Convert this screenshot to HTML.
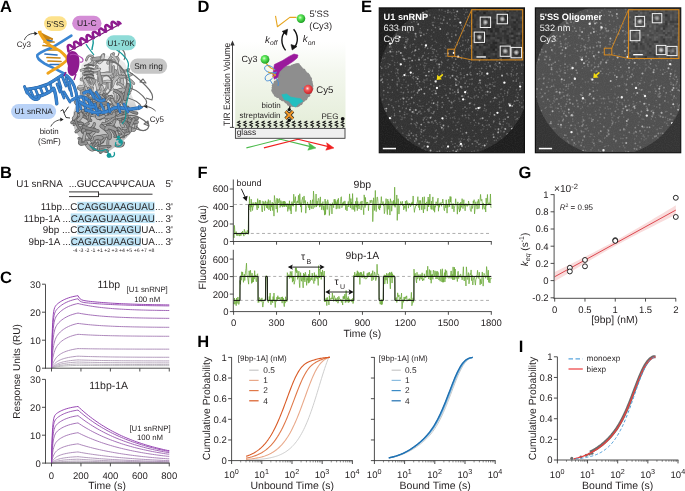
<!DOCTYPE html>
<html><head><meta charset="utf-8"><style>
html,body{margin:0;padding:0;background:#fff;}
svg{display:block;font-family:"Liberation Sans",Arial,sans-serif;text-rendering:geometricPrecision;}
</style></head><body>
<svg width="685" height="491" viewBox="0 0 685 491" fill="#231f20">
<text x="0" y="11.6" font-size="16.5" font-weight="bold" fill="#000">A</text>
<text x="0" y="177.9" font-size="16.5" font-weight="bold" fill="#000">B</text>
<text x="0" y="282.8" font-size="16.5" font-weight="bold" fill="#000">C</text>
<text x="197.5" y="11.6" font-size="16.5" font-weight="bold" fill="#000">D</text>
<text x="361" y="11.6" font-size="16.5" font-weight="bold" fill="#000">E</text>
<text x="197.5" y="177.8" font-size="16.5" font-weight="bold" fill="#000">F</text>
<text x="518.5" y="177.6" font-size="16.5" font-weight="bold" fill="#000">G</text>
<text x="197.3" y="347" font-size="16.5" font-weight="bold" fill="#000">H</text>
<text x="518.8" y="351.7" font-size="16.5" font-weight="bold" fill="#000">I</text>
<polyline points="51.5,368.2 51.65,368.15 51.79,368.1 51.94,368.05 52.09,368 52.24,367.95 52.38,367.9 52.68,367.81 52.97,367.73 53.27,367.65 53.71,367.53 54.15,367.42 54.74,367.28 55.33,367.16 55.92,367.04 56.65,366.91 57.39,366.79 58.86,366.57 60.33,366.39 61.8,366.23 63.28,366.1 64.75,365.98 66.22,365.88 68.43,365.75 70.64,365.64 72.84,365.55 75.05,365.48 76.52,365.44 78,365.4 79.47,365.41 81.68,365.43 83.88,365.45 86.09,365.47 88.3,365.49 90.51,365.5 92.72,365.52 94.92,365.53 97.13,365.54 99.34,365.55 101.55,365.56 103.76,365.57 105.96,365.58 108.17,365.59 110.38,365.6 112.59,365.6 114.8,365.61 117,365.62 119.21,365.62 121.42,365.63 123.63,365.63 125.84,365.64 128.04,365.64 130.25,365.64 132.46,365.65 134.67,365.65 136.88,365.65 139.08,365.66 141.29,365.66 143.5,365.66 145.71,365.66 147.92,365.67 150.12,365.67 152.33,365.67 154.54,365.67 156.75,365.67 158.96,365.67 161.16,365.68 163.37,365.68 165.58,365.68 167.79,365.68 169.26,365.68" fill="none" stroke="#bcbabe" stroke-width="0.95" stroke-linejoin="round"/>
<polyline points="51.5,368.2 51.65,368.12 51.79,368.05 51.94,367.97 52.09,367.9 52.24,367.83 52.38,367.76 52.68,367.62 52.97,367.49 53.27,367.37 53.71,367.2 54.15,367.03 54.74,366.83 55.33,366.64 55.92,366.46 56.65,366.26 57.39,366.08 58.86,365.76 60.33,365.49 61.8,365.25 63.28,365.05 64.75,364.87 66.22,364.72 68.43,364.53 70.64,364.36 72.84,364.23 75.05,364.12 76.52,364.06 78,364 79.47,364.03 81.68,364.07 83.88,364.11 86.09,364.14 88.3,364.17 90.51,364.2 92.72,364.23 94.92,364.26 97.13,364.28 99.34,364.3 101.55,364.32 103.76,364.34 105.96,364.36 108.17,364.38 110.38,364.39 112.59,364.41 114.8,364.42 117,364.43 119.21,364.44 121.42,364.45 123.63,364.46 125.84,364.47 128.04,364.48 130.25,364.49 132.46,364.49 134.67,364.5 136.88,364.51 139.08,364.51 141.29,364.52 143.5,364.52 145.71,364.53 147.92,364.53 150.12,364.54 152.33,364.54 154.54,364.54 156.75,364.55 158.96,364.55 161.16,364.55 163.37,364.55 165.58,364.56 167.79,364.56 169.26,364.56" fill="none" stroke="#b9b1bd" stroke-width="0.95" stroke-linejoin="round"/>
<polyline points="51.5,368.2 51.65,368.09 51.79,367.97 51.94,367.86 52.09,367.76 52.24,367.65 52.38,367.55 52.68,367.35 52.97,367.16 53.27,366.98 53.71,366.73 54.15,366.49 54.74,366.19 55.33,365.91 55.92,365.65 56.65,365.36 57.39,365.09 58.86,364.62 60.33,364.22 61.8,363.88 63.28,363.58 64.75,363.32 66.22,363.1 68.43,362.81 70.64,362.57 72.84,362.38 75.05,362.22 76.52,362.12 78,362.04 79.47,362.08 81.68,362.14 83.88,362.2 86.09,362.25 88.3,362.3 90.51,362.34 92.72,362.39 94.92,362.42 97.13,362.46 99.34,362.49 101.55,362.52 103.76,362.55 105.96,362.58 108.17,362.6 110.38,362.63 112.59,362.65 114.8,362.67 117,362.69 119.21,362.7 121.42,362.72 123.63,362.73 125.84,362.75 128.04,362.76 130.25,362.77 132.46,362.78 134.67,362.79 136.88,362.8 139.08,362.81 141.29,362.82 143.5,362.82 145.71,362.83 147.92,362.84 150.12,362.84 152.33,362.85 154.54,362.85 156.75,362.86 158.96,362.86 161.16,362.87 163.37,362.87 165.58,362.87 167.79,362.88 169.26,362.88" fill="none" stroke="#b6a8bc" stroke-width="0.95" stroke-linejoin="round"/>
<polyline points="51.5,368.2 51.65,368.03 51.79,367.87 51.94,367.72 52.09,367.56 52.24,367.41 52.38,367.27 52.68,366.99 52.97,366.72 53.27,366.47 53.71,366.11 54.15,365.77 54.74,365.36 55.33,364.98 55.92,364.63 56.65,364.23 57.39,363.87 58.86,363.24 60.33,362.71 61.8,362.26 63.28,361.87 64.75,361.54 66.22,361.25 68.43,360.89 70.64,360.59 72.84,360.34 75.05,360.13 76.52,360.02 78,359.91 79.47,359.96 81.68,360.04 83.88,360.1 86.09,360.17 88.3,360.22 90.51,360.28 92.72,360.33 94.92,360.37 97.13,360.42 99.34,360.46 101.55,360.49 103.76,360.53 105.96,360.56 108.17,360.59 110.38,360.62 112.59,360.64 114.8,360.67 117,360.69 119.21,360.71 121.42,360.73 123.63,360.74 125.84,360.76 128.04,360.77 130.25,360.79 132.46,360.8 134.67,360.81 136.88,360.82 139.08,360.84 141.29,360.84 143.5,360.85 145.71,360.86 147.92,360.87 150.12,360.88 152.33,360.88 154.54,360.89 156.75,360.89 158.96,360.9 161.16,360.9 163.37,360.91 165.58,360.91 167.79,360.92 169.26,360.92" fill="none" stroke="#b39fbb" stroke-width="0.95" stroke-linejoin="round"/>
<polyline points="51.5,368.2 51.65,367.91 51.79,367.63 51.94,367.36 52.09,367.1 52.24,366.85 52.38,366.6 52.68,366.14 52.97,365.7 53.27,365.29 53.71,364.72 54.15,364.21 54.74,363.58 55.33,363.02 55.92,362.51 56.65,361.95 57.39,361.44 58.86,360.59 60.33,359.88 61.8,359.28 63.28,358.77 64.75,358.34 66.22,357.95 68.43,357.47 70.64,357.07 72.84,356.74 75.05,356.46 76.52,356.3 78,356.16 79.47,356.22 81.68,356.3 83.88,356.37 86.09,356.44 88.3,356.51 90.51,356.57 92.72,356.62 94.92,356.67 97.13,356.72 99.34,356.76 101.55,356.81 103.76,356.84 105.96,356.88 108.17,356.91 110.38,356.94 112.59,356.97 114.8,357 117,357.02 119.21,357.04 121.42,357.06 123.63,357.08 125.84,357.1 128.04,357.12 130.25,357.13 132.46,357.15 134.67,357.16 136.88,357.17 139.08,357.19 141.29,357.2 143.5,357.21 145.71,357.22 147.92,357.22 150.12,357.23 152.33,357.24 154.54,357.25 156.75,357.25 158.96,357.26 161.16,357.26 163.37,357.27 165.58,357.27 167.79,357.28 169.26,357.28" fill="none" stroke="#af96b9" stroke-width="0.95" stroke-linejoin="round"/>
<polyline points="51.5,368.2 51.65,367.63 51.79,367.08 51.94,366.56 52.09,366.06 52.24,365.58 52.38,365.13 52.68,364.27 52.97,363.48 53.27,362.75 53.71,361.76 54.15,360.87 54.74,359.83 55.33,358.92 55.92,358.12 56.65,357.24 57.39,356.47 58.86,355.18 60.33,354.14 61.8,353.26 63.28,352.51 64.75,351.86 66.22,351.29 68.43,350.57 70.64,349.97 72.84,349.47 75.05,349.05 76.52,348.81 78,348.6 79.47,348.63 81.68,348.67 83.88,348.71 86.09,348.74 88.3,348.77 90.51,348.8 92.72,348.83 94.92,348.86 97.13,348.88 99.34,348.9 101.55,348.92 103.76,348.94 105.96,348.96 108.17,348.98 110.38,348.99 112.59,349.01 114.8,349.02 117,349.03 119.21,349.04 121.42,349.05 123.63,349.06 125.84,349.07 128.04,349.08 130.25,349.09 132.46,349.09 134.67,349.1 136.88,349.11 139.08,349.11 141.29,349.12 143.5,349.12 145.71,349.13 147.92,349.13 150.12,349.14 152.33,349.14 154.54,349.14 156.75,349.15 158.96,349.15 161.16,349.15 163.37,349.15 165.58,349.16 167.79,349.16 169.26,349.16" fill="none" stroke="#ac8cb8" stroke-width="0.95" stroke-linejoin="round"/>
<polyline points="51.5,368.2 51.65,366.78 51.79,365.45 51.94,364.2 52.09,363.04 52.24,361.95 52.38,360.92 52.68,359.07 52.97,357.42 53.27,355.97 53.71,354.08 54.15,352.47 54.74,350.69 55.33,349.21 55.92,347.97 56.65,346.66 57.39,345.55 58.86,343.73 60.33,342.27 61.8,341.04 63.28,339.98 64.75,339.06 66.22,338.24 68.43,337.19 70.64,336.32 72.84,335.59 75.05,334.98 76.52,334.63 78,334.32 79.47,334.42 81.68,334.56 83.88,334.69 86.09,334.81 88.3,334.93 90.51,335.03 92.72,335.13 94.92,335.22 97.13,335.3 99.34,335.38 101.55,335.45 103.76,335.52 105.96,335.58 108.17,335.64 110.38,335.69 112.59,335.74 114.8,335.78 117,335.83 119.21,335.87 121.42,335.9 123.63,335.94 125.84,335.97 128.04,336 130.25,336.02 132.46,336.05 134.67,336.07 136.88,336.09 139.08,336.11 141.29,336.13 143.5,336.15 145.71,336.17 147.92,336.18 150.12,336.2 152.33,336.21 154.54,336.22 156.75,336.23 158.96,336.24 161.16,336.25 163.37,336.26 165.58,336.27 167.79,336.28 169.26,336.28" fill="none" stroke="#a982b7" stroke-width="0.95" stroke-linejoin="round"/>
<polyline points="51.5,368.2 51.65,365.58 51.79,363.19 51.94,361.01 52.09,359.01 52.24,357.18 52.38,355.5 52.68,352.55 52.97,350.05 53.27,347.93 53.71,345.3 54.15,343.21 54.74,341 55.33,339.28 55.92,337.9 56.65,336.49 57.39,335.32 58.86,333.44 60.33,331.93 61.8,330.63 63.28,329.51 64.75,328.51 66.22,327.64 68.43,326.51 70.64,325.56 72.84,324.77 75.05,324.11 76.52,323.74 78,323.4 79.47,323.6 81.68,323.88 83.88,324.14 86.09,324.39 88.3,324.61 90.51,324.82 92.72,325.02 94.92,325.2 97.13,325.36 99.34,325.52 101.55,325.66 103.76,325.79 105.96,325.92 108.17,326.03 110.38,326.14 112.59,326.24 114.8,326.33 117,326.41 119.21,326.49 121.42,326.57 123.63,326.63 125.84,326.7 128.04,326.76 130.25,326.81 132.46,326.86 134.67,326.91 136.88,326.95 139.08,326.99 141.29,327.03 143.5,327.06 145.71,327.09 147.92,327.12 150.12,327.15 152.33,327.18 154.54,327.2 156.75,327.22 158.96,327.24 161.16,327.26 163.37,327.28 165.58,327.3 167.79,327.31 169.26,327.31" fill="none" stroke="#a578b6" stroke-width="0.95" stroke-linejoin="round"/>
<polyline points="51.5,368.2 51.65,363.89 51.79,360.03 51.94,356.59 52.09,353.51 52.24,350.75 52.38,348.28 52.68,344.08 52.97,340.68 53.27,337.91 53.71,334.68 54.15,332.24 54.74,329.84 55.33,328.08 55.92,326.73 56.65,325.4 57.39,324.32 58.86,322.59 60.33,321.17 61.8,319.95 63.28,318.88 64.75,317.93 66.22,317.1 68.43,316.01 70.64,315.11 72.84,314.35 75.05,313.72 76.52,313.36 78,313.04 79.47,313.31 81.68,313.69 83.88,314.05 86.09,314.38 88.3,314.69 90.51,314.97 92.72,315.23 94.92,315.48 97.13,315.7 99.34,315.91 101.55,316.11 103.76,316.29 105.96,316.46 108.17,316.61 110.38,316.76 112.59,316.89 114.8,317.01 117,317.13 119.21,317.24 121.42,317.34 123.63,317.43 125.84,317.51 128.04,317.59 130.25,317.67 132.46,317.74 134.67,317.8 136.88,317.86 139.08,317.91 141.29,317.96 143.5,318.01 145.71,318.05 147.92,318.09 150.12,318.13 152.33,318.16 154.54,318.2 156.75,318.23 158.96,318.25 161.16,318.28 163.37,318.3 165.58,318.33 167.79,318.35 169.26,318.35" fill="none" stroke="#a16cb5" stroke-width="0.95" stroke-linejoin="round"/>
<polyline points="51.5,368.2 51.65,362.02 51.79,356.62 51.94,351.9 52.09,347.76 52.24,344.13 52.38,340.95 52.68,335.69 52.97,331.61 53.27,328.42 53.71,324.86 54.15,322.31 54.74,319.92 55.33,318.23 55.92,316.97 56.65,315.74 57.39,314.73 58.86,313.07 60.33,311.68 61.8,310.46 63.28,309.39 64.75,308.44 66.22,307.6 68.43,306.51 70.64,305.6 72.84,304.84 75.05,304.21 76.52,303.84 78,303.52 79.47,303.88 81.68,304.38 83.88,304.85 86.09,305.28 88.3,305.68 90.51,306.06 92.72,306.4 94.92,306.73 97.13,307.02 99.34,307.3 101.55,307.56 103.76,307.79 105.96,308.02 108.17,308.22 110.38,308.41 112.59,308.59 114.8,308.75 117,308.9 119.21,309.04 121.42,309.17 123.63,309.29 125.84,309.41 128.04,309.51 130.25,309.61 132.46,309.7 134.67,309.78 136.88,309.86 139.08,309.93 141.29,310 143.5,310.06 145.71,310.12 147.92,310.17 150.12,310.22 152.33,310.26 154.54,310.31 156.75,310.35 158.96,310.38 161.16,310.42 163.37,310.45 165.58,310.48 167.79,310.5 169.26,310.5" fill="none" stroke="#9d60b3" stroke-width="0.95" stroke-linejoin="round"/>
<polyline points="51.5,368.2 51.65,360.27 51.79,353.47 51.94,347.65 52.09,342.66 52.24,338.38 52.38,334.7 52.68,328.8 52.97,324.42 53.27,321.12 53.71,317.61 54.15,315.23 54.74,313.11 55.33,311.67 55.92,310.62 56.65,309.58 57.39,308.73 58.86,307.28 60.33,306.05 61.8,304.97 63.28,304.01 64.75,303.16 66.22,302.41 68.43,301.43 70.64,300.62 72.84,299.94 75.05,299.37 76.52,299.05 78,298.76 79.47,300.74 81.68,301.98 83.88,302.49 86.09,302.79 88.3,303.01 90.51,303.21 92.72,303.39 94.92,303.55 97.13,303.71 99.34,303.86 101.55,304 103.76,304.13 105.96,304.25 108.17,304.37 110.38,304.48 112.59,304.58 114.8,304.68 117,304.77 119.21,304.86 121.42,304.94 123.63,305.02 125.84,305.09 128.04,305.16 130.25,305.22 132.46,305.28 134.67,305.34 136.88,305.39 139.08,305.44 141.29,305.49 143.5,305.54 145.71,305.58 147.92,305.62 150.12,305.66 152.33,305.69 154.54,305.72 156.75,305.75 158.96,305.78 161.16,305.81 163.37,305.84 165.58,305.86 167.79,305.89 169.26,305.89" fill="none" stroke="#9852b2" stroke-width="0.95" stroke-linejoin="round"/>
<polyline points="51.5,368.2 51.65,358.45 51.79,350.27 51.94,343.41 52.09,337.66 52.24,332.82 52.38,328.75 52.68,322.43 52.97,317.92 53.27,314.68 53.71,311.38 54.15,309.27 54.74,307.49 55.33,306.33 55.92,305.49 56.65,304.67 57.39,303.98 58.86,302.79 60.33,301.77 61.8,300.87 63.28,300.07 64.75,299.36 66.22,298.73 68.43,297.91 70.64,297.23 72.84,296.67 75.05,296.19 76.52,295.92 78,295.68 79.47,298.25 81.68,299.85 83.88,300.51 86.09,300.89 88.3,301.18 90.51,301.43 92.72,301.67 94.92,301.88 97.13,302.09 99.34,302.28 101.55,302.46 103.76,302.63 105.96,302.79 108.17,302.94 110.38,303.08 112.59,303.22 114.8,303.34 117,303.46 119.21,303.57 121.42,303.68 123.63,303.78 125.84,303.87 128.04,303.96 130.25,304.04 132.46,304.12 134.67,304.2 136.88,304.26 139.08,304.33 141.29,304.39 143.5,304.45 145.71,304.5 147.92,304.55 150.12,304.6 152.33,304.65 154.54,304.69 156.75,304.73 158.96,304.77 161.16,304.81 163.37,304.84 165.58,304.87 167.79,304.9 169.26,304.9" fill="none" stroke="#923eb0" stroke-width="0.95" stroke-linejoin="round"/>
<line x1="45.5" y1="284.4" x2="45.5" y2="368.6" stroke="#3a3a3a" stroke-width="0.9"/>
<line x1="45.1" y1="368.2" x2="169.66" y2="368.2" stroke="#3a3a3a" stroke-width="0.9"/>
<line x1="42" y1="368.2" x2="45.5" y2="368.2" stroke="#3a3a3a" stroke-width="0.9"/>
<text x="40.7" y="371.6" font-size="9.5" text-anchor="end">0</text>
<line x1="42" y1="340.2" x2="45.5" y2="340.2" stroke="#3a3a3a" stroke-width="0.9"/>
<text x="40.7" y="343.6" font-size="9.5" text-anchor="end">10</text>
<line x1="42" y1="312.2" x2="45.5" y2="312.2" stroke="#3a3a3a" stroke-width="0.9"/>
<text x="40.7" y="315.6" font-size="9.5" text-anchor="end">20</text>
<line x1="42" y1="284.2" x2="45.5" y2="284.2" stroke="#3a3a3a" stroke-width="0.9"/>
<text x="40.7" y="287.6" font-size="9.5" text-anchor="end">30</text>
<line x1="51.5" y1="368.2" x2="51.5" y2="371.5" stroke="#3a3a3a" stroke-width="0.9"/>
<line x1="80.94" y1="368.2" x2="80.94" y2="371.5" stroke="#3a3a3a" stroke-width="0.9"/>
<line x1="110.38" y1="368.2" x2="110.38" y2="371.5" stroke="#3a3a3a" stroke-width="0.9"/>
<line x1="139.82" y1="368.2" x2="139.82" y2="371.5" stroke="#3a3a3a" stroke-width="0.9"/>
<line x1="169.26" y1="368.2" x2="169.26" y2="371.5" stroke="#3a3a3a" stroke-width="0.9"/>
<text x="97.5" y="287.6" font-size="10.5">11bp</text>
<polyline points="51.5,463.1 51.65,463.09 51.79,463.08 51.94,463.07 52.09,463.06 52.24,463.05 52.38,463.04 52.68,463.02 52.97,463.01 53.27,462.99 53.71,462.97 54.15,462.94 54.74,462.92 55.33,462.89 55.92,462.87 56.65,462.84 57.39,462.82 58.86,462.78 60.33,462.74 61.8,462.71 63.28,462.68 64.75,462.66 66.22,462.64 68.43,462.61 70.64,462.59 72.84,462.57 75.05,462.56 76.52,462.55 78,462.54 79.47,462.56 81.68,462.58 83.88,462.59 86.09,462.61 88.3,462.63 90.51,462.65 92.72,462.66 94.92,462.68 97.13,462.69 99.34,462.71 101.55,462.72 103.76,462.74 105.96,462.75 108.17,462.76 110.38,462.78 112.59,462.79 114.8,462.8 117,462.81 119.21,462.82 121.42,462.83 123.63,462.84 125.84,462.85 128.04,462.86 130.25,462.87 132.46,462.88 134.67,462.88 136.88,462.89 139.08,462.9 141.29,462.91 143.5,462.91 145.71,462.92 147.92,462.93 150.12,462.93 152.33,462.94 154.54,462.94 156.75,462.95 158.96,462.96 161.16,462.96 163.37,462.97 165.58,462.97 167.79,462.98 169.26,462.98" fill="none" stroke="#bcbabe" stroke-width="0.95" stroke-linejoin="round"/>
<polyline points="51.5,463.1 51.65,463.08 51.79,463.06 51.94,463.04 52.09,463.02 52.24,463 52.38,462.98 52.68,462.95 52.97,462.91 53.27,462.88 53.71,462.83 54.15,462.79 54.74,462.74 55.33,462.69 55.92,462.64 56.65,462.59 57.39,462.54 58.86,462.45 60.33,462.38 61.8,462.32 63.28,462.26 64.75,462.22 66.22,462.18 68.43,462.12 70.64,462.08 72.84,462.05 75.05,462.02 76.52,462 78,461.98 79.47,462.01 81.68,462.05 83.88,462.09 86.09,462.13 88.3,462.16 90.51,462.19 92.72,462.23 94.92,462.26 97.13,462.29 99.34,462.32 101.55,462.35 103.76,462.37 105.96,462.4 108.17,462.43 110.38,462.45 112.59,462.47 114.8,462.5 117,462.52 119.21,462.54 121.42,462.56 123.63,462.58 125.84,462.6 128.04,462.62 130.25,462.63 132.46,462.65 134.67,462.67 136.88,462.68 139.08,462.7 141.29,462.71 143.5,462.73 145.71,462.74 147.92,462.75 150.12,462.77 152.33,462.78 154.54,462.79 156.75,462.8 158.96,462.81 161.16,462.82 163.37,462.83 165.58,462.84 167.79,462.85 169.26,462.85" fill="none" stroke="#b9b1bd" stroke-width="0.95" stroke-linejoin="round"/>
<polyline points="51.5,463.1 51.65,463.06 51.79,463.02 51.94,462.99 52.09,462.95 52.24,462.91 52.38,462.88 52.68,462.81 52.97,462.75 53.27,462.69 53.71,462.6 54.15,462.52 54.74,462.42 55.33,462.32 55.92,462.24 56.65,462.14 57.39,462.04 58.86,461.88 60.33,461.75 61.8,461.63 63.28,461.53 64.75,461.44 66.22,461.37 68.43,461.27 70.64,461.19 72.84,461.12 75.05,461.07 76.52,461.04 78,461.01 79.47,461.06 81.68,461.13 83.88,461.2 86.09,461.27 88.3,461.34 90.51,461.4 92.72,461.46 94.92,461.52 97.13,461.58 99.34,461.64 101.55,461.69 103.76,461.74 105.96,461.79 108.17,461.84 110.38,461.88 112.59,461.93 114.8,461.97 117,462.01 119.21,462.05 121.42,462.09 123.63,462.12 125.84,462.16 128.04,462.19 130.25,462.23 132.46,462.26 134.67,462.29 136.88,462.32 139.08,462.35 141.29,462.37 143.5,462.4 145.71,462.43 147.92,462.45 150.12,462.47 152.33,462.5 154.54,462.52 156.75,462.54 158.96,462.56 161.16,462.58 163.37,462.6 165.58,462.62 167.79,462.63 169.26,462.63" fill="none" stroke="#b6a8bc" stroke-width="0.95" stroke-linejoin="round"/>
<polyline points="51.5,463.1 51.65,463.02 51.79,462.95 51.94,462.87 52.09,462.8 52.24,462.73 52.38,462.66 52.68,462.53 52.97,462.4 53.27,462.28 53.71,462.11 54.15,461.96 54.74,461.76 55.33,461.58 55.92,461.42 56.65,461.23 57.39,461.06 58.86,460.76 60.33,460.51 61.8,460.3 63.28,460.12 64.75,459.96 66.22,459.83 68.43,459.65 70.64,459.51 72.84,459.4 75.05,459.3 76.52,459.24 78,459.19 79.47,459.29 81.68,459.43 83.88,459.56 86.09,459.69 88.3,459.81 90.51,459.93 92.72,460.05 94.92,460.16 97.13,460.26 99.34,460.37 101.55,460.46 103.76,460.56 105.96,460.65 108.17,460.74 110.38,460.83 112.59,460.91 114.8,460.99 117,461.06 119.21,461.14 121.42,461.21 123.63,461.28 125.84,461.34 128.04,461.41 130.25,461.47 132.46,461.53 134.67,461.59 136.88,461.64 139.08,461.69 141.29,461.74 143.5,461.79 145.71,461.84 147.92,461.89 150.12,461.93 152.33,461.97 154.54,462.01 156.75,462.05 158.96,462.09 161.16,462.13 163.37,462.16 165.58,462.2 167.79,462.23 169.26,462.23" fill="none" stroke="#b39fbb" stroke-width="0.95" stroke-linejoin="round"/>
<polyline points="51.5,463.1 51.65,462.95 51.79,462.8 51.94,462.65 52.09,462.51 52.24,462.38 52.38,462.25 52.68,462 52.97,461.77 53.27,461.55 53.71,461.25 54.15,460.97 54.74,460.64 55.33,460.34 55.92,460.07 56.65,459.77 57.39,459.5 58.86,459.04 60.33,458.66 61.8,458.35 63.28,458.08 64.75,457.84 66.22,457.64 68.43,457.38 70.64,457.17 72.84,456.99 75.05,456.84 76.52,456.76 78,456.68 79.47,456.84 81.68,457.07 83.88,457.28 86.09,457.5 88.3,457.7 90.51,457.89 92.72,458.08 94.92,458.26 97.13,458.44 99.34,458.61 101.55,458.77 103.76,458.93 105.96,459.08 108.17,459.22 110.38,459.36 112.59,459.5 114.8,459.63 117,459.76 119.21,459.88 121.42,459.99 123.63,460.11 125.84,460.22 128.04,460.32 130.25,460.42 132.46,460.52 134.67,460.61 136.88,460.7 139.08,460.79 141.29,460.87 143.5,460.95 145.71,461.03 147.92,461.11 150.12,461.18 152.33,461.25 154.54,461.31 156.75,461.38 158.96,461.44 161.16,461.5 163.37,461.56 165.58,461.62 167.79,461.67 169.26,461.67" fill="none" stroke="#af96b9" stroke-width="0.95" stroke-linejoin="round"/>
<polyline points="51.5,463.1 51.65,462.77 51.79,462.46 51.94,462.17 52.09,461.88 52.24,461.61 52.38,461.35 52.68,460.86 52.97,460.41 53.27,460 53.71,459.43 54.15,458.93 54.74,458.33 55.33,457.82 55.92,457.36 56.65,456.86 57.39,456.42 58.86,455.69 60.33,455.09 61.8,454.59 63.28,454.17 64.75,453.8 66.22,453.47 68.43,453.06 70.64,452.72 72.84,452.43 75.05,452.2 76.52,452.06 78,451.94 79.47,452.21 81.68,452.61 83.88,452.99 86.09,453.35 88.3,453.71 90.51,454.05 92.72,454.37 94.92,454.69 97.13,454.99 99.34,455.29 101.55,455.57 103.76,455.84 105.96,456.11 108.17,456.36 110.38,456.6 112.59,456.84 114.8,457.07 117,457.29 119.21,457.5 121.42,457.7 123.63,457.89 125.84,458.08 128.04,458.26 130.25,458.44 132.46,458.61 134.67,458.77 136.88,458.93 139.08,459.08 141.29,459.23 143.5,459.37 145.71,459.5 147.92,459.63 150.12,459.76 152.33,459.88 154.54,459.99 156.75,460.11 158.96,460.22 161.16,460.32 163.37,460.42 165.58,460.52 167.79,460.61 169.26,460.61" fill="none" stroke="#ac8cb8" stroke-width="0.95" stroke-linejoin="round"/>
<polyline points="51.5,463.1 51.65,462.29 51.79,461.54 51.94,460.83 52.09,460.17 52.24,459.55 52.38,458.97 52.68,457.91 52.97,456.98 53.27,456.15 53.71,455.07 54.15,454.16 54.74,453.15 55.33,452.31 55.92,451.6 56.65,450.86 57.39,450.23 58.86,449.2 60.33,448.37 61.8,447.67 63.28,447.07 64.75,446.54 66.22,446.08 68.43,445.48 70.64,444.98 72.84,444.57 75.05,444.22 76.52,444.02 78,443.85 79.47,444.32 81.68,445 83.88,445.65 86.09,446.29 88.3,446.89 90.51,447.48 92.72,448.05 94.92,448.59 97.13,449.12 99.34,449.62 101.55,450.11 103.76,450.58 105.96,451.04 108.17,451.47 110.38,451.89 112.59,452.3 114.8,452.69 117,453.07 119.21,453.43 121.42,453.78 123.63,454.12 125.84,454.45 128.04,454.76 130.25,455.06 132.46,455.35 134.67,455.63 136.88,455.9 139.08,456.16 141.29,456.42 143.5,456.66 145.71,456.89 147.92,457.12 150.12,457.33 152.33,457.54 154.54,457.74 156.75,457.94 158.96,458.12 161.16,458.3 163.37,458.48 165.58,458.65 167.79,458.81 169.26,458.81" fill="none" stroke="#a982b7" stroke-width="0.95" stroke-linejoin="round"/>
<polyline points="51.5,463.1 51.65,461.32 51.79,459.7 51.94,458.22 52.09,456.86 52.24,455.62 52.38,454.48 52.68,452.47 52.97,450.78 53.27,449.34 53.71,447.56 54.15,446.13 54.74,444.64 55.33,443.47 55.92,442.53 56.65,441.57 57.39,440.78 58.86,439.51 60.33,438.48 61.8,437.6 63.28,436.83 64.75,436.16 66.22,435.56 68.43,434.8 70.64,434.16 72.84,433.62 75.05,433.17 76.52,432.92 78,432.69 79.47,433.43 81.68,434.5 83.88,435.54 86.09,436.54 88.3,437.5 90.51,438.43 92.72,439.32 94.92,440.18 97.13,441.01 99.34,441.81 101.55,442.58 103.76,443.33 105.96,444.04 108.17,444.73 110.38,445.4 112.59,446.04 114.8,446.66 117,447.25 119.21,447.83 121.42,448.38 123.63,448.91 125.84,449.43 128.04,449.92 130.25,450.4 132.46,450.86 134.67,451.3 136.88,451.73 139.08,452.14 141.29,452.54 143.5,452.92 145.71,453.29 147.92,453.65 150.12,453.99 152.33,454.32 154.54,454.64 156.75,454.94 158.96,455.24 161.16,455.52 163.37,455.8 165.58,456.06 167.79,456.32 169.26,456.32" fill="none" stroke="#a578b6" stroke-width="0.95" stroke-linejoin="round"/>
<polyline points="51.5,463.1 51.65,459.96 51.79,457.15 51.94,454.64 52.09,452.4 52.24,450.39 52.38,448.59 52.68,445.53 52.97,443.05 53.27,441.04 53.71,438.68 54.15,436.91 54.74,435.16 55.33,433.88 55.92,432.89 56.65,431.93 57.39,431.14 58.86,429.88 60.33,428.85 61.8,427.96 63.28,427.18 64.75,426.49 66.22,425.88 68.43,425.09 70.64,424.43 72.84,423.88 75.05,423.42 76.52,423.16 78,422.92 79.47,423.9 81.68,425.32 83.88,426.69 86.09,428.01 88.3,429.28 90.51,430.5 92.72,431.69 94.92,432.82 97.13,433.92 99.34,434.98 101.55,436 103.76,436.98 105.96,437.92 108.17,438.84 110.38,439.72 112.59,440.56 114.8,441.38 117,442.17 119.21,442.92 121.42,443.66 123.63,444.36 125.84,445.04 128.04,445.69 130.25,446.32 132.46,446.93 134.67,447.52 136.88,448.08 139.08,448.63 141.29,449.15 143.5,449.66 145.71,450.14 147.92,450.61 150.12,451.06 152.33,451.5 154.54,451.92 156.75,452.33 158.96,452.72 161.16,453.09 163.37,453.45 165.58,453.8 167.79,454.14 169.26,454.14" fill="none" stroke="#a16cb5" stroke-width="0.95" stroke-linejoin="round"/>
<polyline points="51.5,463.1 51.65,458.57 51.79,454.61 51.94,451.14 52.09,448.11 52.24,445.45 52.38,443.11 52.68,439.26 52.97,436.27 53.27,433.93 53.71,431.32 54.15,429.45 54.74,427.69 55.33,426.46 55.92,425.53 56.65,424.63 57.39,423.89 58.86,422.67 60.33,421.65 61.8,420.76 63.28,419.97 64.75,419.28 66.22,418.66 68.43,417.86 70.64,417.19 72.84,416.64 75.05,416.17 76.52,415.91 78,415.67 79.47,416.82 81.68,418.5 83.88,420.11 86.09,421.67 88.3,423.17 90.51,424.62 92.72,426.01 94.92,427.36 97.13,428.65 99.34,429.9 101.55,431.1 103.76,432.26 105.96,433.38 108.17,434.46 110.38,435.49 112.59,436.49 114.8,437.46 117,438.39 119.21,439.28 121.42,440.14 123.63,440.98 125.84,441.78 128.04,442.55 130.25,443.29 132.46,444.01 134.67,444.7 136.88,445.37 139.08,446.01 141.29,446.63 143.5,447.23 145.71,447.8 147.92,448.36 150.12,448.89 152.33,449.41 154.54,449.9 156.75,450.38 158.96,450.84 161.16,451.29 163.37,451.71 165.58,452.13 167.79,452.52 169.26,452.52" fill="none" stroke="#9d60b3" stroke-width="0.95" stroke-linejoin="round"/>
<polyline points="51.5,463.1 51.65,457.04 51.79,451.86 51.94,447.41 52.09,443.6 52.24,440.33 52.38,437.52 52.68,433.03 52.97,429.68 53.27,427.16 53.71,424.48 54.15,422.66 54.74,421.04 55.33,419.95 55.92,419.14 56.65,418.35 57.39,417.7 58.86,416.6 60.33,415.66 61.8,414.83 63.28,414.1 64.75,413.45 66.22,412.87 68.43,412.13 70.64,411.51 72.84,410.99 75.05,410.56 76.52,410.31 78,410.09 79.47,411.38 81.68,413.25 83.88,415.06 86.09,416.8 88.3,418.48 90.51,420.09 92.72,421.65 94.92,423.15 97.13,424.6 99.34,425.99 101.55,427.34 103.76,428.63 105.96,429.88 108.17,431.09 110.38,432.25 112.59,433.36 114.8,434.44 117,435.48 119.21,436.48 121.42,437.44 123.63,438.37 125.84,439.27 128.04,440.13 130.25,440.96 132.46,441.77 134.67,442.54 136.88,443.28 139.08,444 141.29,444.69 143.5,445.36 145.71,446 147.92,446.62 150.12,447.22 152.33,447.79 154.54,448.35 156.75,448.88 158.96,449.4 161.16,449.9 163.37,450.37 165.58,450.83 167.79,451.28 169.26,451.28" fill="none" stroke="#9852b2" stroke-width="0.95" stroke-linejoin="round"/>
<polyline points="51.5,463.1 51.65,455.48 51.79,449.1 51.94,443.74 52.09,439.24 52.24,435.47 52.38,432.29 52.68,427.35 52.97,423.83 53.27,421.3 53.71,418.73 54.15,417.08 54.74,415.68 55.33,414.78 55.92,414.12 56.65,413.48 57.39,412.94 58.86,412.02 60.33,411.22 61.8,410.51 63.28,409.89 64.75,409.33 66.22,408.84 68.43,408.21 70.64,407.68 72.84,407.23 75.05,406.86 76.52,406.65 78,406.46 79.47,407.84 81.68,409.84 83.88,411.77 86.09,413.63 88.3,415.42 90.51,417.15 92.72,418.81 94.92,420.42 97.13,421.96 99.34,423.46 101.55,424.89 103.76,426.28 105.96,427.61 108.17,428.9 110.38,430.13 112.59,431.33 114.8,432.48 117,433.59 119.21,434.66 121.42,435.69 123.63,436.68 125.84,437.64 128.04,438.56 130.25,439.45 132.46,440.31 134.67,441.13 136.88,441.93 139.08,442.7 141.29,443.43 143.5,444.15 145.71,444.83 147.92,445.5 150.12,446.13 152.33,446.75 154.54,447.34 156.75,447.91 158.96,448.46 161.16,448.99 163.37,449.5 165.58,450 167.79,450.47 169.26,450.47" fill="none" stroke="#923eb0" stroke-width="0.95" stroke-linejoin="round"/>
<line x1="45.5" y1="379.4" x2="45.5" y2="463.5" stroke="#3a3a3a" stroke-width="0.9"/>
<line x1="45.1" y1="463.1" x2="169.66" y2="463.1" stroke="#3a3a3a" stroke-width="0.9"/>
<line x1="42" y1="463.1" x2="45.5" y2="463.1" stroke="#3a3a3a" stroke-width="0.9"/>
<text x="40.7" y="466.5" font-size="9.5" text-anchor="end">0</text>
<line x1="42" y1="435.2" x2="45.5" y2="435.2" stroke="#3a3a3a" stroke-width="0.9"/>
<text x="40.7" y="438.6" font-size="9.5" text-anchor="end">10</text>
<line x1="42" y1="407.3" x2="45.5" y2="407.3" stroke="#3a3a3a" stroke-width="0.9"/>
<text x="40.7" y="410.7" font-size="9.5" text-anchor="end">20</text>
<line x1="42" y1="379.4" x2="45.5" y2="379.4" stroke="#3a3a3a" stroke-width="0.9"/>
<text x="40.7" y="382.8" font-size="9.5" text-anchor="end">30</text>
<line x1="51.5" y1="463.1" x2="51.5" y2="466.4" stroke="#3a3a3a" stroke-width="0.9"/>
<line x1="80.94" y1="463.1" x2="80.94" y2="466.4" stroke="#3a3a3a" stroke-width="0.9"/>
<line x1="110.38" y1="463.1" x2="110.38" y2="466.4" stroke="#3a3a3a" stroke-width="0.9"/>
<line x1="139.82" y1="463.1" x2="139.82" y2="466.4" stroke="#3a3a3a" stroke-width="0.9"/>
<line x1="169.26" y1="463.1" x2="169.26" y2="466.4" stroke="#3a3a3a" stroke-width="0.9"/>
<text x="89.2" y="389.3" font-size="10.5">11bp-1A</text>
<text x="147.2" y="292.4" font-size="7.8" text-anchor="middle">[U1 snRNP]</text>
<text x="147.2" y="302" font-size="7.8" text-anchor="middle">100 nM</text>
<text x="150" y="430.8" font-size="7.8" text-anchor="middle">[U1 snRNP]</text>
<text x="150" y="439.8" font-size="7.8" text-anchor="middle">100 nM</text>
<text x="51.5" y="478.9" font-size="9.5" text-anchor="middle">0</text>
<text x="80.94" y="478.9" font-size="9.5" text-anchor="middle">200</text>
<text x="110.38" y="478.9" font-size="9.5" text-anchor="middle">400</text>
<text x="139.82" y="478.9" font-size="9.5" text-anchor="middle">600</text>
<text x="169.26" y="478.9" font-size="9.5" text-anchor="middle">800</text>
<text x="107.1" y="488.9" font-size="10.4" text-anchor="middle">Time (s)</text>
<text x="20.4" y="371.5" font-size="10.0" text-anchor="middle" transform="rotate(-90 20.4 371.5)">Response Units (RU)</text>
<text x="16.3" y="186.7" font-size="9.85">U1 snRNA</text>
<text x="68.8" y="186.7" font-size="9.85" textLength="86.2">...GUCCAΨΨCAUA</text>
<text x="165.5" y="186.7" font-size="9.85">5'</text>
<line x1="69" y1="191.9" x2="98.5" y2="191.9" stroke="#231f20" stroke-width="0.9"/>
<line x1="69" y1="196.6" x2="98.5" y2="196.6" stroke="#231f20" stroke-width="0.9"/>
<line x1="98.5" y1="191.5" x2="98.5" y2="197" stroke="#231f20" stroke-width="0.9"/>
<line x1="98.5" y1="194.2" x2="152.5" y2="194.2" stroke="#231f20" stroke-width="0.9"/>
<rect x="77.3" y="201.8" width="77.3" height="9.6" fill="#bde3f5" stroke="none" stroke-width="1"/>
<text x="77.3" y="210.2" font-size="9.85" text-anchor="end">11bp...C</text>
<text x="77.3" y="210.2" font-size="9.85" id="seq210">CAGGUAAGUAU<tspan>...</tspan></text>
<text x="165.5" y="210.2" font-size="9.85">3'</text>
<rect x="70.7" y="213.4" width="83.9" height="9.6" fill="#bde3f5" stroke="none" stroke-width="1"/>
<text x="70.7" y="221.8" font-size="9.85" text-anchor="end">11bp-1A ...</text>
<text x="70.7" y="221.8" font-size="9.85" id="seq221">CAGAGUAAGUAU<tspan>...</tspan></text>
<text x="165.5" y="221.8" font-size="9.85">3'</text>
<rect x="77.3" y="225" width="63.6" height="9.6" fill="#bde3f5" stroke="none" stroke-width="1"/>
<text x="77.3" y="233.4" font-size="9.85" text-anchor="end">9bp ...C</text>
<text x="77.3" y="233.4" font-size="9.85" id="seq233">CAGGUAAGU<tspan>UA...</tspan></text>
<text x="165.5" y="233.4" font-size="9.85">3'</text>
<rect x="70.7" y="236.6" width="70.2" height="9.6" fill="#bde3f5" stroke="none" stroke-width="1"/>
<text x="70.7" y="245" font-size="9.85" text-anchor="end">9bp-1A ...</text>
<text x="70.7" y="245" font-size="9.85" id="seq245">CAGAGUAAGU<tspan>UA...</tspan></text>
<text x="165.5" y="245" font-size="9.85">3'</text>
<text x="113.5" y="251.8" font-size="5.2" text-anchor="middle">-4 -3 -2 -1 +1 +2 +3 +4 +5 +6 +7 +8</text>
<line x1="234" y1="204.49" x2="491.5" y2="204.49" stroke="#9a9a9a" stroke-width="0.8" stroke-dasharray="3,2.6"/>
<line x1="234" y1="233.45" x2="491.5" y2="233.45" stroke="#9a9a9a" stroke-width="0.8" stroke-dasharray="3,2.6"/>
<polyline points="233.6,233.99 234.03,237.8 234.46,225.42 234.89,232.56 235.32,234.15 235.75,233.68 236.18,231.58 236.61,235.48 237.04,234.5 237.47,233.84 237.9,235.88 238.32,234.61 238.75,234.67 239.18,234.04 239.61,236.13 240.04,234.6 240.47,233.05 240.9,235.77 241.33,233.44 241.76,232.13 242.19,234.21 242.62,231.12 243.05,234.08 243.48,233.97 243.91,236.12 244.34,229.36 244.77,231.08 245.2,232.19 245.63,234.5 246.06,231.8 246.49,232.6 246.91,233.06 247.34,230.33 247.77,232.1 248.2,234.41 248.63,208.46 249.06,209.96 249.49,196.64 249.92,207.31 250.35,204.38 250.78,211.68 251.21,199.12 251.64,207.13 252.07,202.61 252.5,210.48 252.93,206.44 253.36,206.62 253.79,202.5 254.22,204.83 254.65,205.01 255.08,204.94 255.51,202.27 255.93,205.36 256.36,202.59 256.79,208.2 257.22,209.95 257.65,198.68 258.08,206.3 258.51,208.12 258.94,201.64 259.37,200.17 259.8,204.9 260.23,200.32 260.66,201.36 261.09,205.65 261.52,205.49 261.95,211.16 262.38,211.99 262.81,201 263.24,201.4 263.67,205.34 264.1,202.41 264.52,210.61 264.95,203.66 265.38,200.85 265.81,205.62 266.24,204.31 266.67,207.87 267.1,201.74 267.53,208.5 267.96,203.63 268.39,199.53 268.82,209.86 269.25,209.12 269.68,204.22 270.11,200.42 270.54,211 270.97,204.19 271.4,207.09 271.83,204.03 272.26,202.17 272.69,210.51 273.11,202.85 273.54,203.58 273.97,216.11 274.4,195.52 274.83,199.39 275.26,201.48 275.69,204.48 276.12,209.08 276.55,208.07 276.98,198.21 277.41,212.42 277.84,198.83 278.27,202.88 278.7,202.84 279.13,199.91 279.56,198.5 279.99,207.48 280.42,206.65 280.85,200.56 281.28,206.23 281.71,203.74 282.13,201.51 282.56,207.16 282.99,206.1 283.42,201.31 283.85,206.5 284.28,201.02 284.71,206.87 285.14,201.71 285.57,205.46 286,204.11 286.43,206.75 286.86,203.44 287.29,203.5 287.72,211.41 288.15,208.68 288.58,203.82 289.01,209.23 289.44,200.77 289.87,206.76 290.3,210.65 290.72,204.96 291.15,213.99 291.58,203.17 292.01,201.57 292.44,205.6 292.87,203.32 293.3,206.33 293.73,194.19 294.16,203.17 294.59,200.88 295.02,199.22 295.45,196.68 295.88,211.56 296.31,208.22 296.74,201.71 297.17,202.23 297.6,200.85 298.03,203.31 298.46,195.35 298.89,200.9 299.32,204.08 299.74,193.75 300.17,199.9 300.6,206.91 301.03,202.55 301.46,212.31 301.89,200.33 302.32,199.15 302.75,197.2 303.18,203.32 303.61,203.75 304.04,195.95 304.47,200.31 304.9,203.51 305.33,200.51 305.76,213.18 306.19,207.5 306.62,207.42 307.05,204.99 307.48,201.92 307.91,203.65 308.33,204.29 308.76,207.81 309.19,204.93 309.62,210.06 310.05,204.37 310.48,200.11 310.91,207.29 311.34,208.7 311.77,205.48 312.2,201.87 312.63,199.69 313.06,208.88 313.49,191.11 313.92,197.29 314.35,206.06 314.78,207.36 315.21,206.77 315.64,203.89 316.07,194 316.5,207.06 316.92,201.1 317.35,201.29 317.78,205.55 318.21,198.7 318.64,198.25 319.07,200.48 319.5,207.16 319.93,202.39 320.36,196.88 320.79,206.56 321.22,203.34 321.65,209.79 322.08,207.78 322.51,204.37 322.94,201.6 323.37,210.17 323.8,205.93 324.23,209.04 324.66,215.13 325.09,199.02 325.52,214.43 325.94,201.4 326.37,204.81 326.8,204.47 327.23,209.47 327.66,199.76 328.09,201.66 328.52,203.06 328.95,205.19 329.38,215.44 329.81,210.54 330.24,203.68 330.67,205.5 331.1,205.75 331.53,204.63 331.96,213.96 332.39,202.67 332.82,204.8 333.25,205.33 333.68,207.68 334.11,199.41 334.53,204.7 334.96,199.05 335.39,203.92 335.82,200.68 336.25,209.14 336.68,202.43 337.11,205.12 337.54,199.73 337.97,208.58 338.4,198.31 338.83,204.41 339.26,205.08 339.69,208.62 340.12,206.23 340.55,201.38 340.98,197.19 341.41,196.72 341.84,207.71 342.27,206.51 342.7,202.71 343.13,203.93 343.55,201.69 343.98,205.69 344.41,203.05 344.84,200.87 345.27,202.33 345.7,209.74 346.13,204.73 346.56,206.44 346.99,210.92 347.42,207.09 347.85,205.1 348.28,201.46 348.71,206.96 349.14,202.84 349.57,193.88 350,200.54 350.43,207.87 350.86,198.59 351.29,204.39 351.72,202 352.14,209.45 352.57,193.58 353,204.56 353.43,207.25 353.86,209.75 354.29,204.43 354.72,211.48 355.15,205.79 355.58,201.33 356.01,206.88 356.44,207.29 356.87,197.65 357.3,210.58 357.73,201.39 358.16,206.05 358.59,204.39 359.02,208.94 359.45,205.28 359.88,204.11 360.31,202.21 360.73,201.63 361.16,210.05 361.59,203.21 362.02,200.94 362.45,206.58 362.88,207.2 363.31,208.57 363.74,214.73 364.17,194.85 364.6,199.11 365.03,207.6 365.46,197.45 365.89,205.43 366.32,204.77 366.75,202 367.18,203.59 367.61,201.96 368.04,203.08 368.47,210.69 368.9,204.21 369.33,204.86 369.75,204.2 370.18,200.19 370.61,202.55 371.04,202.93 371.47,200.26 371.9,200.13 372.33,200.93 372.76,221.63 373.19,212.27 373.62,197.8 374.05,203.47 374.48,210.49 374.91,202.67 375.34,190.45 375.77,207.1 376.2,211.64 376.63,203.8 377.06,197.08 377.49,197.2 377.92,201.24 378.34,206.69 378.77,208.72 379.2,205.62 379.63,210.1 380.06,203.58 380.49,207.72 380.92,202.29 381.35,196.63 381.78,203.48 382.21,203.34 382.64,204.83 383.07,201.48 383.5,206.04 383.93,205.21 384.36,213.64 384.79,211.29 385.22,203 385.65,203.64 386.08,198.64 386.51,203.7 386.94,209.93 387.36,214.59 387.79,199.13 388.22,209.36 388.65,201.3 389.08,202.23 389.51,205.49 389.94,215.06 390.37,198.77 390.8,201.49 391.23,201.17 391.66,211.23 392.09,206.15 392.52,205.38 392.95,201.35 393.38,204.77 393.81,200.17 394.24,206.21 394.67,187.16 395.1,207.4 395.53,204.62 395.95,202.62 396.38,204.59 396.81,194.96 397.24,220.39 397.67,210.1 398.1,198.68 398.53,202.8 398.96,214.06 399.39,206.54 399.82,206.42 400.25,203.61 400.68,201.53 401.11,204.31 401.54,203.9 401.97,203.11 402.4,201.29 402.83,205.88 403.26,204.92 403.69,209.95 404.12,206.27 404.54,205.88 404.97,208.38 405.4,201.15 405.83,205.5 406.26,211.45 406.69,200.46 407.12,202.37 407.55,204.07 407.98,202.73 408.41,208.2 408.84,204.12 409.27,203.89 409.7,203.02 410.13,205.42 410.56,206.75 410.99,204.55 411.42,202.76 411.85,205.36 412.28,201.88 412.71,205.04 413.14,195.97 413.56,205.19 413.99,207.7 414.42,212.33 414.85,208.51 415.28,208.32 415.71,205.56 416.14,204.96 416.57,205.94 417,202.72 417.43,201.54 417.86,196.67 418.29,206.25 418.72,207.59 419.15,200.42 419.58,210.16 420.01,204.47 420.44,200.49 420.87,204.34 421.3,204.18 421.73,209.77 422.15,202.65 422.58,197.22 423.01,208.27 423.44,212.91 423.87,202.77 424.3,196.73 424.73,209.23 425.16,203.02 425.59,204.25 426.02,202.84 426.45,203.13 426.88,201.81 427.31,211.13 427.74,203.11 428.17,197 428.6,206.97 429.03,199.52 429.46,204.76 429.89,194.1 430.32,206.7 430.75,206.46 431.17,209.19 431.6,201.22 432.03,209.59 432.46,199.5 432.89,196.9 433.32,202.1 433.75,210.58 434.18,205.31 434.61,212.22 435.04,206.25 435.47,207.23 435.9,201.77 436.33,201.95 436.76,203.06 437.19,205.88 437.62,199.84 438.05,198.15 438.48,211.21 438.91,204.54 439.34,207.34 439.76,203.12 440.19,202.59 440.62,204.2 441.05,204.45 441.48,206.28 441.91,202.24 442.34,202.89 442.77,199.09 443.2,201.72 443.63,205.65 444.06,209.75 444.49,210.71 444.92,204.54 445.35,203.88 445.78,207.9 446.21,199.8 446.64,204.8 447.07,213.15 447.5,204.38 447.93,207.34 448.36,202.77 448.78,199.25 449.21,203.52 449.64,206.79 450.07,196.43 450.5,201.95 450.93,196.73 451.36,204.18 451.79,204.72 452.22,208.9 452.65,204.36 453.08,203.36 453.51,207.12 453.94,211.81 454.37,208.55 454.8,205.92 455.23,205.04 455.66,198.74 456.09,203.97 456.52,204.97 456.95,204.86 457.37,214.17 457.8,201.87 458.23,206.94 458.66,208.7 459.09,209.01 459.52,212.05 459.95,203.02 460.38,210.46 460.81,202 461.24,207.42 461.67,205.79 462.1,198.66 462.53,202.2 462.96,208.63 463.39,204.58 463.82,199.72 464.25,205.89 464.68,204.26 465.11,210.83 465.54,204.18 465.96,203.48 466.39,204.45 466.82,206.21 467.25,206.61 467.68,204.18 468.11,205.49 468.54,200.98 468.97,203.34 469.4,205.03 469.83,203.83 470.26,209.91 470.69,210 471.12,211.59 471.55,207.22 471.98,205.15 472.41,208.46 472.84,206.71 473.27,200.98 473.7,203.25 474.13,199.69 474.56,213.85 474.98,209.75 475.41,204.99 475.84,201.78 476.27,205.59 476.7,203.99 477.13,209.13 477.56,201.65 477.99,202.3 478.42,199.31 478.85,208.67 479.28,206.86 479.71,202.02 480.14,199.05 480.57,194.42 481,200.71 481.43,200.62 481.86,199.29 482.29,203.36 482.72,209.35 483.15,202.92 483.57,205.65 484,207.37 484.43,208.37 484.86,209.34 485.29,204.26 485.72,212.02 486.15,198.12 486.58,205.51 487.01,203.62 487.44,194.47 487.87,202.07 488.3,204.56 488.73,203.16 489.16,202.63 489.59,204.78 490.02,202.57 490.45,193.97 490.88,207.45 491.31,207.51" fill="none" stroke="#68a836" stroke-width="0.75" stroke-linejoin="round"/>
<polyline points="233.6,233.45 248.63,233.45 248.63,204.49 491.31,204.49" fill="none" stroke="#111" stroke-width="1.0" stroke-linejoin="round"/>
<line x1="234" y1="276.43" x2="491.5" y2="276.43" stroke="#9a9a9a" stroke-width="0.8" stroke-dasharray="3,2.6"/>
<line x1="234" y1="300.4" x2="491.5" y2="300.4" stroke="#9a9a9a" stroke-width="0.8" stroke-dasharray="3,2.6"/>
<polyline points="233.6,302.56 234.03,303.96 234.46,297.97 234.89,304.3 235.32,302.36 235.75,301.34 236.18,305.72 236.61,298.02 237.04,303.57 237.47,301.82 237.9,296.99 238.32,299.56 238.75,304.46 239.18,302.97 239.61,299.06 240.04,280.45 240.47,284.35 240.9,275.75 241.33,280.19 241.76,271.74 242.19,275.28 242.62,272.09 243.05,278.12 243.48,282.34 243.91,277.99 244.34,274.2 244.77,280.54 245.2,274.97 245.63,270.76 246.06,268.44 246.49,263.19 246.91,275.02 247.34,275.85 247.77,278.73 248.2,280.94 248.63,284.16 249.06,270.84 249.49,272.27 249.92,277.47 250.35,270.17 250.78,273.53 251.21,277.72 251.64,283.37 252.07,273.1 252.5,282.42 252.93,276.08 253.36,281.99 253.79,275.84 254.22,279.15 254.65,270.66 255.08,277.05 255.51,275.33 255.93,279.88 256.36,281.78 256.79,275.92 257.22,274.55 257.65,273.74 258.08,302.54 258.51,301.32 258.94,302.35 259.37,297.53 259.8,298.43 260.23,299.44 260.66,299.38 261.09,301.73 261.52,299.71 261.95,297.83 262.38,303.14 262.81,307.08 263.24,303.96 263.67,301.52 264.1,300.16 264.52,299.37 264.95,299.42 265.38,299.52 265.81,281.27 266.24,275.6 266.67,277.31 267.1,279.18 267.53,300.55 267.96,301.94 268.39,302.6 268.82,300.37 269.25,296.46 269.68,300.4 270.11,292.98 270.54,300.83 270.97,304.79 271.4,299.96 271.83,301.58 272.26,299.71 272.69,302.87 273.11,296.57 273.54,300.91 273.97,293.02 274.4,299.15 274.83,302.76 275.26,307.52 275.69,300.69 276.12,301.52 276.55,298.4 276.98,297.08 277.41,299.78 277.84,295.73 278.27,299 278.7,297.52 279.13,299.26 279.56,298.03 279.99,297.26 280.42,299.75 280.85,300.03 281.28,298.62 281.71,296.96 282.13,303.14 282.56,296.82 282.99,300.51 283.42,298.18 283.85,303.81 284.28,306.64 284.71,299.99 285.14,303.11 285.57,296.79 286,298.78 286.43,301.22 286.86,301.68 287.29,272.65 287.72,274.26 288.15,276.9 288.58,276.19 289.01,274.72 289.44,278.52 289.87,277.22 290.3,271.49 290.72,273.17 291.15,278.14 291.58,272.44 292.01,271.3 292.44,282.15 292.87,276.36 293.3,281.04 293.73,276.11 294.16,284.25 294.59,282.12 295.02,280.22 295.45,267.84 295.88,271.4 296.31,267.75 296.74,272.86 297.17,270.48 297.6,279.36 298.03,275.53 298.46,277.43 298.89,271.15 299.32,282.71 299.74,287.64 300.17,277.89 300.6,272.62 301.03,278.51 301.46,281.22 301.89,276.47 302.32,276.21 302.75,282.48 303.18,287.86 303.61,273.06 304.04,280.14 304.47,274.37 304.9,281.9 305.33,272.22 305.76,273.93 306.19,276.41 306.62,285.35 307.05,278.32 307.48,280.3 307.91,276.38 308.33,283.24 308.76,274.12 309.19,282.63 309.62,270.04 310.05,281.26 310.48,278.54 310.91,277.75 311.34,277.53 311.77,279.91 312.2,273.14 312.63,276.66 313.06,280.98 313.49,281.44 313.92,283.62 314.35,272.57 314.78,281.12 315.21,278.47 315.64,276.75 316.07,274.72 316.5,278.01 316.92,277.71 317.35,279.1 317.78,276.55 318.21,285.44 318.64,265.66 319.07,276.88 319.5,278.03 319.93,269.1 320.36,271.79 320.79,274.25 321.22,279.43 321.65,272.11 322.08,276.22 322.51,269.95 322.94,274.45 323.37,275.13 323.8,276.54 324.23,271.05 324.66,301.87 325.09,300.34 325.52,301.64 325.94,298.26 326.37,298.28 326.8,305.64 327.23,297.31 327.66,299.87 328.09,301.32 328.52,300.43 328.95,304.96 329.38,295.62 329.81,300.04 330.24,298.53 330.67,298.74 331.1,299.18 331.53,297.8 331.96,298.79 332.39,292.94 332.82,298.89 333.25,297.75 333.68,301.35 334.11,295.61 334.53,297.18 334.96,297.4 335.39,300.54 335.82,298.47 336.25,301.75 336.68,299.61 337.11,298.09 337.54,297.45 337.97,303.23 338.4,300.59 338.83,296.32 339.26,297.98 339.69,299.33 340.12,299.14 340.55,300.05 340.98,299.39 341.41,302.5 341.84,300.34 342.27,301.66 342.7,305.03 343.13,296.49 343.55,298.69 343.98,295.9 344.41,298.77 344.84,294.18 345.27,302.7 345.7,300.36 346.13,290.5 346.56,298.85 346.99,302.32 347.42,298.18 347.85,299.33 348.28,296.51 348.71,302.78 349.14,298.65 349.57,301.7 350,300.96 350.43,300.2 350.86,300.35 351.29,299.27 351.72,301.67 352.14,302.18 352.57,298.45 353,303.59 353.43,302.69 353.86,275.2 354.29,277.05 354.72,272.16 355.15,274.92 355.58,275.18 356.01,276.03 356.44,273.69 356.87,276.74 357.3,270.76 357.73,277.26 358.16,271.78 358.59,276.21 359.02,272.95 359.45,273.58 359.88,284.44 360.31,272.04 360.73,274.89 361.16,276.41 361.59,272.39 362.02,277.86 362.45,276.71 362.88,274.33 363.31,276.15 363.74,271.39 364.17,278.53 364.6,275.66 365.03,277.1 365.46,277.76 365.89,279.2 366.32,278.54 366.75,278.44 367.18,273.4 367.61,277.39 368.04,272.66 368.47,272.88 368.9,276.92 369.33,272.14 369.75,274.97 370.18,274.99 370.61,277.11 371.04,273.63 371.47,273.6 371.9,280.89 372.33,274.6 372.76,270.65 373.19,279.71 373.62,279.24 374.05,275.61 374.48,271.88 374.91,272.84 375.34,276.16 375.77,280.62 376.2,277.99 376.63,278.29 377.06,264.26 377.49,272.9 377.92,274.98 378.34,274.3 378.77,274.68 379.2,299.06 379.63,298.44 380.06,304.21 380.49,303.81 380.92,300.71 381.35,304.72 381.78,299.5 382.21,304.42 382.64,300.23 383.07,300.58 383.5,286.3 383.93,276.29 384.36,274.78 384.79,284.07 385.22,280.5 385.65,275.17 386.08,280.22 386.51,273.32 386.94,274.69 387.36,283.72 387.79,275.11 388.22,273.42 388.65,277.86 389.08,277.24 389.51,272.36 389.94,282.54 390.37,288.84 390.8,272.65 391.23,277.9 391.66,271.88 392.09,283.07 392.52,273.66 392.95,277.51 393.38,276.18 393.81,274.98 394.24,276.33 394.67,281.99 395.1,300.42 395.53,299.36 395.95,297.86 396.38,297.59 396.81,302.47 397.24,298.32 397.67,292.84 398.1,296.12 398.53,296.84 398.96,294.92 399.39,300.74 399.82,301.18 400.25,297.36 400.68,298.87 401.11,297.03 401.54,293.11 401.97,308.86 402.4,305.89 402.83,299.68 403.26,302.35 403.69,301.08 404.12,296.97 404.54,300.46 404.97,297.95 405.4,296.71 405.83,298.87 406.26,297.6 406.69,295.82 407.12,301.28 407.55,300.51 407.98,299.73 408.41,299.5 408.84,300.71 409.27,298.56 409.7,300.17 410.13,299.55 410.56,300.16 410.99,298.52 411.42,292.37 411.85,305.73 412.28,304.4 412.71,300.28 413.14,297.79 413.56,302.35 413.99,269.11 414.42,276.33 414.85,274.05 415.28,273.28 415.71,276.99 416.14,280.14 416.57,282.94 417,272.25 417.43,278.97 417.86,278.73 418.29,277.78 418.72,274.68 419.15,274.57 419.58,280.49 420.01,277.89 420.44,278.24 420.87,274.44 421.3,279.25 421.73,278 422.15,272.79 422.58,280.91 423.01,279.84 423.44,278.78 423.87,280.22 424.3,273.82 424.73,277.16 425.16,277.94 425.59,276.34 426.02,277.35 426.45,270.39 426.88,275.85 427.31,276.14 427.74,266.23 428.17,276.29 428.6,278.94 429.03,278.13 429.46,269.54 429.89,274.02 430.32,279.99 430.75,270.52 431.17,283.28 431.6,274.62 432.03,277.24 432.46,274.38 432.89,279.37 433.32,270.06 433.75,270.79 434.18,275.36 434.61,276.15 435.04,270.85 435.47,272.86 435.9,278.97 436.33,277.52 436.76,271.3 437.19,279.01 437.62,271.44 438.05,272.2 438.48,272.81 438.91,280.03 439.34,276.87 439.76,277.39 440.19,281.24 440.62,269.4 441.05,271.1 441.48,276.49 441.91,281.91 442.34,268.78 442.77,282.3 443.2,276.54 443.63,282.2 444.06,276.74 444.49,272.61 444.92,281.91 445.35,269.56 445.78,278.55 446.21,272.96 446.64,270.68 447.07,274.15 447.5,276.95 447.93,277.79 448.36,278.01 448.78,278.21 449.21,275.77 449.64,277.09 450.07,278.38 450.5,276.11 450.93,271.01 451.36,271.03 451.79,278.51 452.22,274.33 452.65,279.75 453.08,266.9 453.51,276.08 453.94,280 454.37,267.21 454.8,279.31 455.23,269.06 455.66,276.42 456.09,278.04 456.52,278.13 456.95,277.14 457.37,281.53 457.8,271.95 458.23,271.28 458.66,278.64 459.09,275.84 459.52,275.73 459.95,277.13 460.38,274.06 460.81,274.33 461.24,277.46 461.67,276.59 462.1,279.85 462.53,278 462.96,273.09 463.39,266.78 463.82,278.91 464.25,280.95 464.68,276.27 465.11,277.8 465.54,277.19 465.96,285.97 466.39,266.85 466.82,271.44 467.25,278.98 467.68,279.51 468.11,274.76 468.54,272.59 468.97,283.83 469.4,281.07 469.83,274.69 470.26,273.49 470.69,274.69 471.12,269.95 471.55,280.61 471.98,274.86 472.41,281.23 472.84,285.01 473.27,280.54 473.7,277.5 474.13,277.73 474.56,276.81 474.98,282.32 475.41,285.1 475.84,279.54 476.27,279.22 476.7,275.35 477.13,274.55 477.56,270.3 477.99,277.89 478.42,278.43 478.85,275.81 479.28,272.21 479.71,277.19 480.14,284.82 480.57,279.39 481,282.67 481.43,283.77 481.86,276.76 482.29,271.94 482.72,277.57 483.15,286.14 483.57,279.2 484,273.32 484.43,274.37 484.86,275.35 485.29,276.1 485.72,278.31 486.15,275.94 486.58,266.61 487.01,270.39 487.44,276.92 487.87,279.99 488.3,270.19 488.73,282.35 489.16,277.17 489.59,281.73 490.02,283.04 490.45,278.52 490.88,277.76 491.31,279.06" fill="none" stroke="#68a836" stroke-width="0.75" stroke-linejoin="round"/>
<polyline points="233.6,300.4 240.04,300.4 240.04,276.43 258.08,276.43 258.08,300.4 265.67,300.4 265.67,276.43 267.39,276.43 267.39,300.4 287.15,300.4 287.15,276.43 324.37,276.43 324.37,300.4 353.86,300.4 353.86,276.43 379.06,276.43 379.06,300.4 383.36,300.4 383.36,276.43 394.95,276.43 394.95,300.4 413.99,300.4 413.99,276.43 491.31,276.43" fill="none" stroke="#111" stroke-width="1.0" stroke-linejoin="round"/>
<line x1="233.3" y1="179.5" x2="233.3" y2="241.9" stroke="#3a3a3a" stroke-width="0.9"/>
<line x1="232.9" y1="241.5" x2="491.7" y2="241.5" stroke="#3a3a3a" stroke-width="0.9"/>
<line x1="229.8" y1="241.5" x2="233.3" y2="241.5" stroke="#3a3a3a" stroke-width="0.9"/>
<text x="228.6" y="244.9" font-size="9.5" text-anchor="end">0</text>
<line x1="229.8" y1="224" x2="233.3" y2="224" stroke="#3a3a3a" stroke-width="0.9"/>
<text x="228.6" y="227.4" font-size="9.5" text-anchor="end">200</text>
<line x1="229.8" y1="206.5" x2="233.3" y2="206.5" stroke="#3a3a3a" stroke-width="0.9"/>
<text x="228.6" y="209.9" font-size="9.5" text-anchor="end">400</text>
<line x1="229.8" y1="189" x2="233.3" y2="189" stroke="#3a3a3a" stroke-width="0.9"/>
<text x="228.6" y="192.4" font-size="9.5" text-anchor="end">600</text>
<line x1="233.6" y1="241.5" x2="233.6" y2="244.7" stroke="#3a3a3a" stroke-width="0.9"/>
<line x1="276.55" y1="241.5" x2="276.55" y2="244.7" stroke="#3a3a3a" stroke-width="0.9"/>
<line x1="319.5" y1="241.5" x2="319.5" y2="244.7" stroke="#3a3a3a" stroke-width="0.9"/>
<line x1="362.45" y1="241.5" x2="362.45" y2="244.7" stroke="#3a3a3a" stroke-width="0.9"/>
<line x1="405.4" y1="241.5" x2="405.4" y2="244.7" stroke="#3a3a3a" stroke-width="0.9"/>
<line x1="448.36" y1="241.5" x2="448.36" y2="244.7" stroke="#3a3a3a" stroke-width="0.9"/>
<line x1="491.31" y1="241.5" x2="491.31" y2="244.7" stroke="#3a3a3a" stroke-width="0.9"/>
<line x1="233.3" y1="249.8" x2="233.3" y2="312" stroke="#3a3a3a" stroke-width="0.9"/>
<line x1="232.9" y1="311.6" x2="491.7" y2="311.6" stroke="#3a3a3a" stroke-width="0.9"/>
<line x1="229.8" y1="311.6" x2="233.3" y2="311.6" stroke="#3a3a3a" stroke-width="0.9"/>
<text x="228.6" y="315" font-size="9.5" text-anchor="end">0</text>
<line x1="229.8" y1="294.1" x2="233.3" y2="294.1" stroke="#3a3a3a" stroke-width="0.9"/>
<text x="228.6" y="297.5" font-size="9.5" text-anchor="end">200</text>
<line x1="229.8" y1="276.6" x2="233.3" y2="276.6" stroke="#3a3a3a" stroke-width="0.9"/>
<text x="228.6" y="280" font-size="9.5" text-anchor="end">400</text>
<line x1="229.8" y1="259.1" x2="233.3" y2="259.1" stroke="#3a3a3a" stroke-width="0.9"/>
<text x="228.6" y="262.5" font-size="9.5" text-anchor="end">600</text>
<line x1="233.6" y1="311.6" x2="233.6" y2="314.8" stroke="#3a3a3a" stroke-width="0.9"/>
<line x1="276.55" y1="311.6" x2="276.55" y2="314.8" stroke="#3a3a3a" stroke-width="0.9"/>
<line x1="319.5" y1="311.6" x2="319.5" y2="314.8" stroke="#3a3a3a" stroke-width="0.9"/>
<line x1="362.45" y1="311.6" x2="362.45" y2="314.8" stroke="#3a3a3a" stroke-width="0.9"/>
<line x1="405.4" y1="311.6" x2="405.4" y2="314.8" stroke="#3a3a3a" stroke-width="0.9"/>
<line x1="448.36" y1="311.6" x2="448.36" y2="314.8" stroke="#3a3a3a" stroke-width="0.9"/>
<line x1="491.31" y1="311.6" x2="491.31" y2="314.8" stroke="#3a3a3a" stroke-width="0.9"/>
<text x="233.6" y="325.6" font-size="9.5" text-anchor="middle">0</text>
<text x="276.55" y="325.6" font-size="9.5" text-anchor="middle">300</text>
<text x="319.5" y="325.6" font-size="9.5" text-anchor="middle">600</text>
<text x="362.45" y="325.6" font-size="9.5" text-anchor="middle">900</text>
<text x="405.4" y="325.6" font-size="9.5" text-anchor="middle">1200</text>
<text x="448.36" y="325.6" font-size="9.5" text-anchor="middle">1500</text>
<text x="491.31" y="325.6" font-size="9.5" text-anchor="middle">1800</text>
<text x="362.4" y="336.7" font-size="10.4" text-anchor="middle">Time (s)</text>
<text x="205.6" y="247.2" font-size="10.5" text-anchor="middle" transform="rotate(-90 205.6 247.2)">Fluorescence (au)</text>
<text x="236.6" y="185.6" font-size="9.0">bound</text>
<line x1="241.3" y1="188.8" x2="245.3" y2="197.5" stroke="#111" stroke-width="0.9"/>
<path d="M 242.6 197.6 L 246.6 201.3 L 247.6 195.8 Z" fill="#111" stroke="none" stroke-width="1"/>
<text x="353.6" y="188.4" font-size="10.5">9bp</text>
<text x="345.6" y="258.9" font-size="10.4">9bp-1A</text>
<line x1="289.8" y1="267.1" x2="322.6" y2="267.1" stroke="#111" stroke-width="0.9"/>
<path d="M 287.8 267.1 L 292.8 264.4 L 291.8 267.1 L 292.8 269.8 Z" fill="#111" stroke="none" stroke-width="1"/>
<path d="M 324.6 267.1 L 319.6 264.4 L 320.6 267.1 L 319.6 269.8 Z" fill="#111" stroke="none" stroke-width="1"/>
<line x1="327.2" y1="292" x2="351.6" y2="292" stroke="#111" stroke-width="0.9"/>
<path d="M 325.2 292 L 330.2 289.3 L 329.2 292 L 330.2 294.7 Z" fill="#111" stroke="none" stroke-width="1"/>
<path d="M 353.6 292 L 348.6 289.3 L 349.6 292 L 348.6 294.7 Z" fill="#111" stroke="none" stroke-width="1"/>
<text x="300.9" y="260.4" font-size="10.5">τ</text>
<text x="306.6" y="263.7" font-size="7">B</text>
<text x="334.4" y="285" font-size="10.5">τ</text>
<text x="340" y="288.6" font-size="7">U</text>
<polygon points="554.7,272.01 557.73,270.51 560.75,269 563.78,267.49 566.81,265.98 569.84,264.47 572.87,262.95 575.89,261.42 578.92,259.89 581.95,258.36 584.98,256.82 588,255.27 591.03,253.71 594.06,252.14 597.09,250.56 600.11,248.97 603.14,247.37 606.17,245.76 609.2,244.13 612.22,242.48 615.25,240.83 618.28,239.15 621.31,237.46 624.33,235.76 627.36,234.04 630.39,232.31 633.42,230.57 636.44,228.81 639.47,227.05 642.5,225.27 645.53,223.49 648.55,221.7 651.58,219.9 654.61,218.1 657.63,216.29 660.66,214.48 663.69,212.66 666.72,210.84 669.75,209.02 672.77,207.19 675.8,205.36 675.8,214.8 672.77,216.3 669.75,217.81 666.72,219.32 663.69,220.83 660.66,222.34 657.63,223.86 654.61,225.39 651.58,226.92 648.55,228.45 645.53,229.99 642.5,231.54 639.47,233.1 636.44,234.67 633.42,236.25 630.39,237.84 627.36,239.44 624.33,241.05 621.31,242.68 618.28,244.33 615.25,245.99 612.22,247.66 609.2,249.35 606.17,251.05 603.14,252.77 600.11,254.5 597.09,256.24 594.06,258 591.03,259.76 588,261.54 584.98,263.32 581.95,265.11 578.92,266.91 575.89,268.71 572.87,270.52 569.84,272.33 566.81,274.15 563.78,275.97 560.75,277.79 557.73,279.62 554.7,281.45" fill="#f9dcdc" stroke="none"/>
<line x1="554.7" y1="276.73" x2="675.8" y2="210.08" stroke="#d9363e" stroke-width="0.9"/>
<circle cx="569.84" cy="267.79" r="2.45" fill="#fff" stroke="#1a1a1a" stroke-width="0.95"/>
<circle cx="569.84" cy="271.48" r="2.45" fill="#fff" stroke="#1a1a1a" stroke-width="0.95"/>
<circle cx="584.98" cy="259.96" r="2.45" fill="#fff" stroke="#1a1a1a" stroke-width="0.95"/>
<circle cx="584.98" cy="266.32" r="2.45" fill="#fff" stroke="#1a1a1a" stroke-width="0.95"/>
<circle cx="615.25" cy="240.18" r="2.45" fill="#fff" stroke="#1a1a1a" stroke-width="0.95"/>
<circle cx="615.25" cy="240.87" r="2.45" fill="#fff" stroke="#1a1a1a" stroke-width="0.95"/>
<circle cx="675.8" cy="197.78" r="2.45" fill="#fff" stroke="#1a1a1a" stroke-width="0.95"/>
<circle cx="675.8" cy="216.96" r="2.45" fill="#fff" stroke="#1a1a1a" stroke-width="0.95"/>
<line x1="554.1" y1="194.3" x2="554.1" y2="298.7" stroke="#3a3a3a" stroke-width="0.9"/>
<line x1="553.7" y1="298.3" x2="676" y2="298.3" stroke="#3a3a3a" stroke-width="0.9"/>
<line x1="550.6" y1="297.8" x2="554.1" y2="297.8" stroke="#3a3a3a" stroke-width="0.9"/>
<text x="548.6" y="301.2" font-size="9.5" text-anchor="end">-0.2</text>
<line x1="550.6" y1="280.6" x2="554.1" y2="280.6" stroke="#3a3a3a" stroke-width="0.9"/>
<text x="548.6" y="284" font-size="9.5" text-anchor="end">0</text>
<line x1="550.6" y1="263.4" x2="554.1" y2="263.4" stroke="#3a3a3a" stroke-width="0.9"/>
<text x="548.6" y="266.8" font-size="9.5" text-anchor="end">0.2</text>
<line x1="550.6" y1="246.2" x2="554.1" y2="246.2" stroke="#3a3a3a" stroke-width="0.9"/>
<text x="548.6" y="249.6" font-size="9.5" text-anchor="end">0.4</text>
<line x1="550.6" y1="229" x2="554.1" y2="229" stroke="#3a3a3a" stroke-width="0.9"/>
<text x="548.6" y="232.4" font-size="9.5" text-anchor="end">0.6</text>
<line x1="550.6" y1="211.8" x2="554.1" y2="211.8" stroke="#3a3a3a" stroke-width="0.9"/>
<text x="548.6" y="215.2" font-size="9.5" text-anchor="end">0.8</text>
<line x1="550.6" y1="194.6" x2="554.1" y2="194.6" stroke="#3a3a3a" stroke-width="0.9"/>
<text x="548.6" y="198" font-size="9.5" text-anchor="end">1</text>
<line x1="554.7" y1="298.3" x2="554.7" y2="301.6" stroke="#3a3a3a" stroke-width="0.9"/>
<text x="554.7" y="313.3" font-size="9.5" text-anchor="middle">0</text>
<line x1="584.98" y1="298.3" x2="584.98" y2="301.6" stroke="#3a3a3a" stroke-width="0.9"/>
<text x="584.98" y="313.3" font-size="9.5" text-anchor="middle">0.5</text>
<line x1="615.25" y1="298.3" x2="615.25" y2="301.6" stroke="#3a3a3a" stroke-width="0.9"/>
<text x="615.25" y="313.3" font-size="9.5" text-anchor="middle">1</text>
<line x1="645.53" y1="298.3" x2="645.53" y2="301.6" stroke="#3a3a3a" stroke-width="0.9"/>
<text x="645.53" y="313.3" font-size="9.5" text-anchor="middle">1.5</text>
<line x1="675.8" y1="298.3" x2="675.8" y2="301.6" stroke="#3a3a3a" stroke-width="0.9"/>
<text x="675.8" y="313.3" font-size="9.5" text-anchor="middle">2</text>
<text x="614.6" y="323.2" font-size="10.3" text-anchor="middle">[9bp] (nM)</text>
<text x="554.0" y="192.4" font-size="10.2">×10<tspan font-size="7.6" dy="-3.8">-2</tspan></text>
<text x="559.7" y="210" font-size="8"><tspan font-style="italic">R</tspan><tspan font-size="5.2" dy="-2.8">2</tspan><tspan dy="2.8"> = 0.95</tspan></text>
<text x="527.6" y="249.5" font-size="10" text-anchor="middle" transform="rotate(-90 527.6 249.5)"><tspan font-style="italic">k</tspan><tspan font-style="italic" font-size="7" dy="2.4">eq</tspan><tspan dy="-2.4"> (s</tspan><tspan font-size="7" dy="-3.6">-1</tspan><tspan dy="3.6">)</tspan></text>
<polyline points="246.01,460.16 247.06,460.12 248.11,460.08 249.16,460.04 250.2,459.99 251.25,459.94 252.3,459.89 253.35,459.83 254.4,459.76 255.45,459.69 256.5,459.62 257.55,459.54 258.59,459.45 259.64,459.35 260.69,459.25 261.74,459.14 262.79,459.02 263.84,458.89 264.89,458.74 265.94,458.59 266.98,458.43 268.03,458.25 269.08,458.05 270.13,457.84 271.18,457.62 272.23,457.37 273.28,457.11 274.33,456.82 275.37,456.51 276.42,456.18 277.47,455.82 278.52,455.43 279.57,455.01 280.62,454.55 281.67,454.07 282.72,453.54 283.76,452.97 284.81,452.36 285.86,451.7 286.91,450.99 287.96,450.22 289.01,449.4 290.06,448.52 291.11,447.57 292.15,446.55 293.2,445.46 294.25,444.29 295.3,443.04 296.35,441.7 297.4,440.27 298.45,438.75 299.5,437.12 300.54,435.39 301.59,433.55 302.64,431.6 303.69,429.54 304.74,427.35 305.79,425.05 306.84,422.62 307.89,420.08 308.93,417.41 309.98,414.62 311.03,411.72 312.08,408.71 313.13,405.59 314.18,402.38 315.23,399.09 316.28,395.72 317.32,392.3 318.37,388.85 319.42,385.37 320.47,381.9 321.52,378.45 322.57,375.06 323.62,371.74 324.67,368.53 325.71,365.44 326.76,362.5 327.81,359.75 328.86,357.4 329.91,357.4" fill="none" stroke="#c8c8c8" stroke-width="0.9" stroke-linejoin="round"/>
<polyline points="246.01,459.47 247.06,459.38 248.11,459.28 249.16,459.17 250.2,459.05 251.25,458.93 252.3,458.79 253.35,458.64 254.4,458.48 255.45,458.3 256.5,458.11 257.55,457.91 258.59,457.69 259.64,457.45 260.69,457.19 261.74,456.91 262.79,456.61 263.84,456.29 264.89,455.94 265.94,455.56 266.98,455.15 268.03,454.71 269.08,454.24 270.13,453.73 271.18,453.18 272.23,452.59 273.28,451.95 274.33,451.26 275.37,450.53 276.42,449.74 277.47,448.89 278.52,447.98 279.57,447.01 280.62,445.96 281.67,444.85 282.72,443.66 283.76,442.39 284.81,441.03 285.86,439.59 286.91,438.06 287.96,436.44 289.01,434.72 290.06,432.9 291.11,430.98 292.15,428.96 293.2,426.84 294.25,424.62 295.3,422.3 296.35,419.88 297.4,417.37 298.45,414.77 299.5,412.09 300.54,409.34 301.59,406.53 302.64,403.67 303.69,400.78 304.74,397.86 305.79,394.94 306.84,392.04 307.89,389.17 308.93,386.35 309.98,383.6 311.03,380.94 312.08,378.4 313.13,375.98 314.18,373.71 315.23,371.58 316.28,369.62 317.32,367.83 318.37,366.2 319.42,364.74 320.47,363.44 321.52,362.29 322.57,361.27 323.62,360.39 324.67,359.61 325.71,358.94 326.76,358.34 327.81,357.82 328.86,357.4 329.91,357.4" fill="none" stroke="#e9a98a" stroke-width="1.1" stroke-linejoin="round"/>
<polyline points="246.01,458.14 247.06,457.94 248.11,457.72 249.16,457.48 250.2,457.23 251.25,456.95 252.3,456.66 253.35,456.34 254.4,455.99 255.45,455.62 256.5,455.21 257.55,454.78 258.59,454.31 259.64,453.81 260.69,453.26 261.74,452.68 262.79,452.05 263.84,451.38 264.89,450.65 265.94,449.87 266.98,449.03 268.03,448.14 269.08,447.18 270.13,446.15 271.18,445.05 272.23,443.88 273.28,442.63 274.33,441.3 275.37,439.89 276.42,438.38 277.47,436.79 278.52,435.1 279.57,433.32 280.62,431.44 281.67,429.47 282.72,427.39 283.76,425.22 284.81,422.96 285.86,420.6 286.91,418.16 287.96,415.64 289.01,413.04 290.06,410.38 291.11,407.67 292.15,404.91 293.2,402.12 294.25,399.32 295.3,396.53 296.35,393.75 297.4,391.02 298.45,388.34 299.5,385.74 300.54,383.24 301.59,380.85 302.64,378.58 303.69,376.46 304.74,374.49 305.79,372.67 306.84,371.02 307.89,369.52 308.93,368.17 309.98,366.97 311.03,365.9 312.08,364.96 313.13,364.12 314.18,363.37 315.23,362.69 316.28,362.08 317.32,361.52 318.37,361 319.42,360.52 320.47,360.06 321.52,359.63 322.57,359.22 323.62,358.85 324.67,358.49 325.71,358.17 326.76,357.88 327.81,357.61 328.86,357.4 329.91,357.4" fill="none" stroke="#e07848" stroke-width="1.1" stroke-linejoin="round"/>
<polyline points="246.01,456.33 247.06,455.98 248.11,455.61 249.16,455.2 250.2,454.77 251.25,454.3 252.3,453.79 253.35,453.25 254.4,452.66 255.45,452.03 256.5,451.35 257.55,450.62 258.59,449.84 259.64,449 260.69,448.1 261.74,447.14 262.79,446.1 263.84,445 264.89,443.82 265.94,442.56 266.98,441.23 268.03,439.8 269.08,438.29 270.13,436.68 271.18,434.98 272.23,433.18 273.28,431.29 274.33,429.29 275.37,427.2 276.42,425.01 277.47,422.72 278.52,420.33 279.57,417.86 280.62,415.3 281.67,412.67 282.72,409.97 283.76,407.21 284.81,404.4 285.86,401.57 286.91,398.72 287.96,395.87 289.01,393.04 290.06,390.25 291.11,387.52 292.15,384.87 293.2,382.32 294.25,379.89 295.3,377.59 296.35,375.44 297.4,373.45 298.45,371.62 299.5,369.97 300.54,368.49 301.59,367.19 302.64,366.04 303.69,365.04 304.74,364.17 305.79,363.43 306.84,362.79 307.89,362.23 308.93,361.74 309.98,361.31 311.03,360.92 312.08,360.56 313.13,360.23 314.18,359.92 315.23,359.62 316.28,359.34 317.32,359.08 318.37,358.83 319.42,358.6 320.47,358.39 321.52,358.2 322.57,358.02 323.62,357.87 324.67,357.74 325.71,357.63 326.76,357.53 327.81,357.46 328.86,357.4 329.91,357.4" fill="none" stroke="#d95a25" stroke-width="1.1" stroke-linejoin="round"/>
<line x1="231.6" y1="357.1" x2="231.6" y2="461" stroke="#3a3a3a" stroke-width="0.9"/>
<line x1="231.2" y1="460.6" x2="352.8" y2="460.6" stroke="#3a3a3a" stroke-width="0.9"/>
<line x1="228.1" y1="460.6" x2="231.6" y2="460.6" stroke="#3a3a3a" stroke-width="0.9"/>
<text x="226.8" y="464" font-size="9.5" text-anchor="end">0</text>
<line x1="228.1" y1="439.96" x2="231.6" y2="439.96" stroke="#3a3a3a" stroke-width="0.9"/>
<text x="226.8" y="443.36" font-size="9.5" text-anchor="end">0.2</text>
<line x1="228.1" y1="419.32" x2="231.6" y2="419.32" stroke="#3a3a3a" stroke-width="0.9"/>
<text x="226.8" y="422.72" font-size="9.5" text-anchor="end">0.4</text>
<line x1="228.1" y1="398.68" x2="231.6" y2="398.68" stroke="#3a3a3a" stroke-width="0.9"/>
<text x="226.8" y="402.08" font-size="9.5" text-anchor="end">0.6</text>
<line x1="228.1" y1="378.04" x2="231.6" y2="378.04" stroke="#3a3a3a" stroke-width="0.9"/>
<text x="226.8" y="381.44" font-size="9.5" text-anchor="end">0.8</text>
<line x1="228.1" y1="357.4" x2="231.6" y2="357.4" stroke="#3a3a3a" stroke-width="0.9"/>
<text x="226.8" y="360.8" font-size="9.5" text-anchor="end">1</text>
<line x1="231.6" y1="460.6" x2="231.6" y2="464" stroke="#3a3a3a" stroke-width="0.9"/>
<text x="231.4" y="478.4" font-size="9.6" text-anchor="middle">10<tspan font-size="7.2" dy="-4.2">0</tspan></text>
<line x1="240.69" y1="460.6" x2="240.69" y2="462.4" stroke="#3a3a3a" stroke-width="0.6"/>
<line x1="246.01" y1="460.6" x2="246.01" y2="462.4" stroke="#3a3a3a" stroke-width="0.6"/>
<line x1="249.78" y1="460.6" x2="249.78" y2="462.4" stroke="#3a3a3a" stroke-width="0.6"/>
<line x1="252.71" y1="460.6" x2="252.71" y2="462.4" stroke="#3a3a3a" stroke-width="0.6"/>
<line x1="255.1" y1="460.6" x2="255.1" y2="462.4" stroke="#3a3a3a" stroke-width="0.6"/>
<line x1="257.12" y1="460.6" x2="257.12" y2="462.4" stroke="#3a3a3a" stroke-width="0.6"/>
<line x1="258.87" y1="460.6" x2="258.87" y2="462.4" stroke="#3a3a3a" stroke-width="0.6"/>
<line x1="260.42" y1="460.6" x2="260.42" y2="462.4" stroke="#3a3a3a" stroke-width="0.6"/>
<line x1="261.8" y1="460.6" x2="261.8" y2="464" stroke="#3a3a3a" stroke-width="0.9"/>
<text x="261.6" y="478.4" font-size="9.6" text-anchor="middle">10<tspan font-size="7.2" dy="-4.2">1</tspan></text>
<line x1="270.89" y1="460.6" x2="270.89" y2="462.4" stroke="#3a3a3a" stroke-width="0.6"/>
<line x1="276.21" y1="460.6" x2="276.21" y2="462.4" stroke="#3a3a3a" stroke-width="0.6"/>
<line x1="279.98" y1="460.6" x2="279.98" y2="462.4" stroke="#3a3a3a" stroke-width="0.6"/>
<line x1="282.91" y1="460.6" x2="282.91" y2="462.4" stroke="#3a3a3a" stroke-width="0.6"/>
<line x1="285.3" y1="460.6" x2="285.3" y2="462.4" stroke="#3a3a3a" stroke-width="0.6"/>
<line x1="287.32" y1="460.6" x2="287.32" y2="462.4" stroke="#3a3a3a" stroke-width="0.6"/>
<line x1="289.07" y1="460.6" x2="289.07" y2="462.4" stroke="#3a3a3a" stroke-width="0.6"/>
<line x1="290.62" y1="460.6" x2="290.62" y2="462.4" stroke="#3a3a3a" stroke-width="0.6"/>
<line x1="292" y1="460.6" x2="292" y2="464" stroke="#3a3a3a" stroke-width="0.9"/>
<text x="291.8" y="478.4" font-size="9.6" text-anchor="middle">10<tspan font-size="7.2" dy="-4.2">2</tspan></text>
<line x1="301.09" y1="460.6" x2="301.09" y2="462.4" stroke="#3a3a3a" stroke-width="0.6"/>
<line x1="306.41" y1="460.6" x2="306.41" y2="462.4" stroke="#3a3a3a" stroke-width="0.6"/>
<line x1="310.18" y1="460.6" x2="310.18" y2="462.4" stroke="#3a3a3a" stroke-width="0.6"/>
<line x1="313.11" y1="460.6" x2="313.11" y2="462.4" stroke="#3a3a3a" stroke-width="0.6"/>
<line x1="315.5" y1="460.6" x2="315.5" y2="462.4" stroke="#3a3a3a" stroke-width="0.6"/>
<line x1="317.52" y1="460.6" x2="317.52" y2="462.4" stroke="#3a3a3a" stroke-width="0.6"/>
<line x1="319.27" y1="460.6" x2="319.27" y2="462.4" stroke="#3a3a3a" stroke-width="0.6"/>
<line x1="320.82" y1="460.6" x2="320.82" y2="462.4" stroke="#3a3a3a" stroke-width="0.6"/>
<line x1="322.2" y1="460.6" x2="322.2" y2="464" stroke="#3a3a3a" stroke-width="0.9"/>
<text x="322" y="478.4" font-size="9.6" text-anchor="middle">10<tspan font-size="7.2" dy="-4.2">3</tspan></text>
<line x1="331.29" y1="460.6" x2="331.29" y2="462.4" stroke="#3a3a3a" stroke-width="0.6"/>
<line x1="336.61" y1="460.6" x2="336.61" y2="462.4" stroke="#3a3a3a" stroke-width="0.6"/>
<line x1="340.38" y1="460.6" x2="340.38" y2="462.4" stroke="#3a3a3a" stroke-width="0.6"/>
<line x1="343.31" y1="460.6" x2="343.31" y2="462.4" stroke="#3a3a3a" stroke-width="0.6"/>
<line x1="345.7" y1="460.6" x2="345.7" y2="462.4" stroke="#3a3a3a" stroke-width="0.6"/>
<line x1="347.72" y1="460.6" x2="347.72" y2="462.4" stroke="#3a3a3a" stroke-width="0.6"/>
<line x1="349.47" y1="460.6" x2="349.47" y2="462.4" stroke="#3a3a3a" stroke-width="0.6"/>
<line x1="351.02" y1="460.6" x2="351.02" y2="462.4" stroke="#3a3a3a" stroke-width="0.6"/>
<line x1="352.4" y1="460.6" x2="352.4" y2="464" stroke="#3a3a3a" stroke-width="0.9"/>
<text x="352.2" y="478.4" font-size="9.6" text-anchor="middle">10<tspan font-size="7.2" dy="-4.2">4</tspan></text>
<text x="292.2" y="488.5" font-size="10.5" text-anchor="middle">Unbound Time (s)</text>
<text x="237.8" y="360.6" font-size="8.0">[9bp-1A] (nM)</text>
<line x1="249.2" y1="370.2" x2="258.6" y2="370.2" stroke="#c8c8c8" stroke-width="1.2"/>
<text x="263.3" y="372.9" font-size="8.3">0.5</text>
<line x1="249.2" y1="380.4" x2="258.6" y2="380.4" stroke="#e9a98a" stroke-width="1.2"/>
<text x="263.3" y="383.1" font-size="8.3">1</text>
<line x1="249.2" y1="390.6" x2="258.6" y2="390.6" stroke="#e07848" stroke-width="1.2"/>
<text x="263.3" y="393.3" font-size="8.3">2</text>
<line x1="249.2" y1="400.8" x2="258.6" y2="400.8" stroke="#d95a25" stroke-width="1.2"/>
<text x="263.3" y="403.5" font-size="8.3">4</text>
<polyline points="388.81,458.13 389.86,457.94 390.91,457.74 391.96,457.52 393,457.29 394.05,457.04 395.1,456.77 396.15,456.49 397.2,456.19 398.25,455.87 399.3,455.53 400.35,455.17 401.39,454.79 402.44,454.39 403.49,453.97 404.54,453.52 405.59,453.05 406.64,452.56 407.69,452.05 408.74,451.52 409.78,450.96 410.83,450.38 411.88,449.77 412.93,449.14 413.98,448.49 415.03,447.82 416.08,447.13 417.13,446.41 418.17,445.67 419.22,444.9 420.27,444.11 421.32,443.28 422.37,442.43 423.42,441.55 424.47,440.63 425.52,439.66 426.56,438.66 427.61,437.6 428.66,436.49 429.71,435.32 430.76,434.08 431.81,432.77 432.86,431.39 433.91,429.92 434.95,428.37 436,426.74 437.05,425 438.1,423.18 439.15,421.26 440.2,419.24 441.25,417.12 442.3,414.91 443.34,412.61 444.39,410.22 445.44,407.74 446.49,405.19 447.54,402.56 448.59,399.88 449.64,397.16 450.69,394.4 451.73,391.62 452.78,388.84 453.83,386.08 454.88,383.36 455.93,380.69 456.98,378.1 458.03,375.62 459.08,373.25 460.12,371.01 461.17,368.93 462.22,367.02 463.27,365.28 464.32,363.73 465.37,362.37 466.42,361.18 467.47,360.18 468.51,359.35 469.56,358.67 470.61,358.13 471.66,357.71 472.71,357.4" fill="none" stroke="#c8c8c8" stroke-width="1.0" stroke-linejoin="round"/>
<polyline points="388.81,457.89 389.86,457.68 390.91,457.46 391.96,457.22 393,456.96 394.05,456.69 395.1,456.4 396.15,456.09 397.2,455.76 398.25,455.41 399.3,455.04 400.35,454.65 401.39,454.23 402.44,453.79 403.49,453.33 404.54,452.84 405.59,452.33 406.64,451.8 407.69,451.24 408.74,450.65 409.78,450.04 410.83,449.41 411.88,448.75 412.93,448.07 413.98,447.37 415.03,446.64 416.08,445.88 417.13,445.11 418.17,444.31 419.22,443.48 420.27,442.62 421.32,441.74 422.37,440.83 423.42,439.88 424.47,438.9 425.52,437.87 426.56,436.8 427.61,435.67 428.66,434.49 429.71,433.25 430.76,431.94 431.81,430.56 432.86,429.1 433.91,427.56 434.95,425.93 436,424.22 437.05,422.41 438.1,420.5 439.15,418.5 440.2,416.41 441.25,414.22 442.3,411.94 443.34,409.57 444.39,407.13 445.44,404.6 446.49,402.01 447.54,399.36 448.59,396.67 449.64,393.94 450.69,391.2 451.73,388.46 452.78,385.74 453.83,383.06 454.88,380.43 455.93,377.89 456.98,375.44 458.03,373.11 459.08,370.92 460.12,368.88 461.17,367 462.22,365.3 463.27,363.78 464.32,362.45 465.37,361.3 466.42,360.32 467.47,359.51 468.51,358.85 469.56,358.33 470.61,357.92 471.66,357.62 472.71,357.4" fill="none" stroke="#8cbde0" stroke-width="1.2" stroke-linejoin="round"/>
<polyline points="388.81,457.84 389.86,457.63 390.91,457.4 391.96,457.16 393,456.89 394.05,456.62 395.1,456.32 396.15,456 397.2,455.67 398.25,455.31 399.3,454.93 400.35,454.53 401.39,454.1 402.44,453.65 403.49,453.18 404.54,452.68 405.59,452.16 406.64,451.61 407.69,451.03 408.74,450.43 409.78,449.81 410.83,449.15 411.88,448.48 412.93,447.77 413.98,447.04 415.03,446.29 416.08,445.51 417.13,444.7 418.17,443.87 419.22,443.01 420.27,442.12 421.32,441.2 422.37,440.24 423.42,439.25 424.47,438.22 425.52,437.15 426.56,436.03 427.61,434.85 428.66,433.61 429.71,432.31 430.76,430.94 431.81,429.5 432.86,427.97 433.91,426.37 434.95,424.67 436,422.88 437.05,421 438.1,419.02 439.15,416.95 440.2,414.79 441.25,412.53 442.3,410.19 443.34,407.76 444.39,405.26 445.44,402.68 446.49,400.05 447.54,397.37 448.59,394.65 449.64,391.92 450.69,389.18 451.73,386.45 452.78,383.76 453.83,381.13 454.88,378.56 455.93,376.09 456.98,373.74 458.03,371.52 459.08,369.44 460.12,367.53 461.17,365.79 462.22,364.23 463.27,362.86 464.32,361.67 465.37,360.65 466.42,359.8 467.47,359.11 468.51,358.56 469.56,358.13 470.61,357.81 471.66,357.57 472.71,357.4" fill="none" stroke="#3b8bc6" stroke-width="1.2" stroke-linejoin="round"/>
<polyline points="388.81,457.81 389.86,457.6 390.91,457.37 391.96,457.12 393,456.86 394.05,456.58 395.1,456.28 396.15,455.96 397.2,455.61 398.25,455.25 399.3,454.87 400.35,454.46 401.39,454.03 402.44,453.58 403.49,453.1 404.54,452.59 405.59,452.06 406.64,451.5 407.69,450.92 408.74,450.31 409.78,449.68 410.83,449.01 411.88,448.32 412.93,447.61 413.98,446.87 415.03,446.1 416.08,445.3 417.13,444.48 418.17,443.63 419.22,442.75 420.27,441.84 421.32,440.9 422.37,439.92 423.42,438.91 424.47,437.85 425.52,436.75 426.56,435.6 427.61,434.4 428.66,433.13 429.71,431.8 430.76,430.4 431.81,428.92 432.86,427.36 433.91,425.71 434.95,423.98 436,422.15 437.05,420.23 438.1,418.22 439.15,416.11 440.2,413.91 441.25,411.62 442.3,409.24 443.34,406.79 444.39,404.25 445.44,401.66 446.49,399 447.54,396.31 448.59,393.59 449.64,390.85 450.69,388.11 451.73,385.4 452.78,382.73 453.83,380.12 454.88,377.6 455.93,375.17 456.98,372.87 458.03,370.71 459.08,368.7 460.12,366.85 461.17,365.19 462.22,363.71 463.27,362.41 464.32,361.29 465.37,360.34 466.42,359.56 467.47,358.93 468.51,358.43 469.56,358.04 470.61,357.75 471.66,357.55 472.71,357.4" fill="none" stroke="#1f6fb0" stroke-width="1.2" stroke-linejoin="round"/>
<line x1="374.4" y1="357.1" x2="374.4" y2="461" stroke="#3a3a3a" stroke-width="0.9"/>
<line x1="374" y1="460.6" x2="495.6" y2="460.6" stroke="#3a3a3a" stroke-width="0.9"/>
<line x1="370.9" y1="460.6" x2="374.4" y2="460.6" stroke="#3a3a3a" stroke-width="0.9"/>
<line x1="370.9" y1="439.96" x2="374.4" y2="439.96" stroke="#3a3a3a" stroke-width="0.9"/>
<line x1="370.9" y1="419.32" x2="374.4" y2="419.32" stroke="#3a3a3a" stroke-width="0.9"/>
<line x1="370.9" y1="398.68" x2="374.4" y2="398.68" stroke="#3a3a3a" stroke-width="0.9"/>
<line x1="370.9" y1="378.04" x2="374.4" y2="378.04" stroke="#3a3a3a" stroke-width="0.9"/>
<line x1="370.9" y1="357.4" x2="374.4" y2="357.4" stroke="#3a3a3a" stroke-width="0.9"/>
<line x1="374.4" y1="460.6" x2="374.4" y2="464" stroke="#3a3a3a" stroke-width="0.9"/>
<text x="374.2" y="478.4" font-size="9.6" text-anchor="middle">10<tspan font-size="7.2" dy="-4.2">0</tspan></text>
<line x1="383.49" y1="460.6" x2="383.49" y2="462.4" stroke="#3a3a3a" stroke-width="0.6"/>
<line x1="388.81" y1="460.6" x2="388.81" y2="462.4" stroke="#3a3a3a" stroke-width="0.6"/>
<line x1="392.58" y1="460.6" x2="392.58" y2="462.4" stroke="#3a3a3a" stroke-width="0.6"/>
<line x1="395.51" y1="460.6" x2="395.51" y2="462.4" stroke="#3a3a3a" stroke-width="0.6"/>
<line x1="397.9" y1="460.6" x2="397.9" y2="462.4" stroke="#3a3a3a" stroke-width="0.6"/>
<line x1="399.92" y1="460.6" x2="399.92" y2="462.4" stroke="#3a3a3a" stroke-width="0.6"/>
<line x1="401.67" y1="460.6" x2="401.67" y2="462.4" stroke="#3a3a3a" stroke-width="0.6"/>
<line x1="403.22" y1="460.6" x2="403.22" y2="462.4" stroke="#3a3a3a" stroke-width="0.6"/>
<line x1="404.6" y1="460.6" x2="404.6" y2="464" stroke="#3a3a3a" stroke-width="0.9"/>
<text x="404.4" y="478.4" font-size="9.6" text-anchor="middle">10<tspan font-size="7.2" dy="-4.2">1</tspan></text>
<line x1="413.69" y1="460.6" x2="413.69" y2="462.4" stroke="#3a3a3a" stroke-width="0.6"/>
<line x1="419.01" y1="460.6" x2="419.01" y2="462.4" stroke="#3a3a3a" stroke-width="0.6"/>
<line x1="422.78" y1="460.6" x2="422.78" y2="462.4" stroke="#3a3a3a" stroke-width="0.6"/>
<line x1="425.71" y1="460.6" x2="425.71" y2="462.4" stroke="#3a3a3a" stroke-width="0.6"/>
<line x1="428.1" y1="460.6" x2="428.1" y2="462.4" stroke="#3a3a3a" stroke-width="0.6"/>
<line x1="430.12" y1="460.6" x2="430.12" y2="462.4" stroke="#3a3a3a" stroke-width="0.6"/>
<line x1="431.87" y1="460.6" x2="431.87" y2="462.4" stroke="#3a3a3a" stroke-width="0.6"/>
<line x1="433.42" y1="460.6" x2="433.42" y2="462.4" stroke="#3a3a3a" stroke-width="0.6"/>
<line x1="434.8" y1="460.6" x2="434.8" y2="464" stroke="#3a3a3a" stroke-width="0.9"/>
<text x="434.6" y="478.4" font-size="9.6" text-anchor="middle">10<tspan font-size="7.2" dy="-4.2">2</tspan></text>
<line x1="443.89" y1="460.6" x2="443.89" y2="462.4" stroke="#3a3a3a" stroke-width="0.6"/>
<line x1="449.21" y1="460.6" x2="449.21" y2="462.4" stroke="#3a3a3a" stroke-width="0.6"/>
<line x1="452.98" y1="460.6" x2="452.98" y2="462.4" stroke="#3a3a3a" stroke-width="0.6"/>
<line x1="455.91" y1="460.6" x2="455.91" y2="462.4" stroke="#3a3a3a" stroke-width="0.6"/>
<line x1="458.3" y1="460.6" x2="458.3" y2="462.4" stroke="#3a3a3a" stroke-width="0.6"/>
<line x1="460.32" y1="460.6" x2="460.32" y2="462.4" stroke="#3a3a3a" stroke-width="0.6"/>
<line x1="462.07" y1="460.6" x2="462.07" y2="462.4" stroke="#3a3a3a" stroke-width="0.6"/>
<line x1="463.62" y1="460.6" x2="463.62" y2="462.4" stroke="#3a3a3a" stroke-width="0.6"/>
<line x1="465" y1="460.6" x2="465" y2="464" stroke="#3a3a3a" stroke-width="0.9"/>
<text x="464.8" y="478.4" font-size="9.6" text-anchor="middle">10<tspan font-size="7.2" dy="-4.2">3</tspan></text>
<line x1="474.09" y1="460.6" x2="474.09" y2="462.4" stroke="#3a3a3a" stroke-width="0.6"/>
<line x1="479.41" y1="460.6" x2="479.41" y2="462.4" stroke="#3a3a3a" stroke-width="0.6"/>
<line x1="483.18" y1="460.6" x2="483.18" y2="462.4" stroke="#3a3a3a" stroke-width="0.6"/>
<line x1="486.11" y1="460.6" x2="486.11" y2="462.4" stroke="#3a3a3a" stroke-width="0.6"/>
<line x1="488.5" y1="460.6" x2="488.5" y2="462.4" stroke="#3a3a3a" stroke-width="0.6"/>
<line x1="490.52" y1="460.6" x2="490.52" y2="462.4" stroke="#3a3a3a" stroke-width="0.6"/>
<line x1="492.27" y1="460.6" x2="492.27" y2="462.4" stroke="#3a3a3a" stroke-width="0.6"/>
<line x1="493.82" y1="460.6" x2="493.82" y2="462.4" stroke="#3a3a3a" stroke-width="0.6"/>
<line x1="495.2" y1="460.6" x2="495.2" y2="464" stroke="#3a3a3a" stroke-width="0.9"/>
<text x="495" y="478.4" font-size="9.6" text-anchor="middle">10<tspan font-size="7.2" dy="-4.2">4</tspan></text>
<text x="435.2" y="488.5" font-size="10.5" text-anchor="middle">Bound Time (s)</text>
<text x="378.8" y="360.8" font-size="8.0">[9bp-1A] (nM)</text>
<line x1="391.6" y1="370.2" x2="400.8" y2="370.2" stroke="#c8c8c8" stroke-width="1.2"/>
<text x="405" y="372.9" font-size="8.3">0.5</text>
<line x1="391.6" y1="380.4" x2="400.8" y2="380.4" stroke="#8cbde0" stroke-width="1.2"/>
<text x="405" y="383.1" font-size="8.3">1</text>
<line x1="391.6" y1="390.6" x2="400.8" y2="390.6" stroke="#3b8bc6" stroke-width="1.2"/>
<text x="405" y="393.3" font-size="8.3">2</text>
<line x1="391.6" y1="400.8" x2="400.8" y2="400.8" stroke="#1f6fb0" stroke-width="1.2"/>
<text x="405" y="403.5" font-size="8.3">4</text>
<text x="209.9" y="408.5" font-size="10.4" text-anchor="middle" transform="rotate(-90 209.9 408.5)">Cumulative Probability</text>
<polyline points="589.94,452.15 590.27,452 590.59,451.84 590.92,451.68 591.25,451.52 591.58,451.36 591.91,451.2 592.23,451.03 592.56,450.86 592.89,450.68 593.22,450.51 593.55,450.33 593.87,450.14 594.2,449.96 594.53,449.77 594.86,449.58 595.19,449.38 595.51,449.18 595.84,448.98 596.17,448.78 596.5,448.57 596.83,448.36 597.15,448.15 597.48,447.93 597.81,447.71 598.14,447.49 598.47,447.26 598.79,447.03 599.12,446.8 599.45,446.56 599.78,446.32 600.11,446.08 600.43,445.83 600.76,445.58 601.09,445.33 601.42,445.07 601.75,444.81 602.08,444.55 602.4,444.29 602.73,444.02 603.06,443.74 603.39,443.47 603.72,443.18 604.04,442.9 604.37,442.61 604.7,442.32 605.03,442.03 605.36,441.73 605.68,441.43 606.01,441.12 606.34,440.81 606.67,440.5 607,440.18 607.32,439.86 607.65,439.53 607.98,439.2 608.31,438.87 608.64,438.53 608.96,438.18 609.29,437.84 609.62,437.48 609.95,437.13 610.28,436.76 610.6,436.4 610.93,436.02 611.26,435.65 611.59,435.27 611.92,434.88 612.24,434.48 612.57,434.09 612.9,433.68 613.23,433.27 613.56,432.85 613.88,432.43 614.21,432 614.54,431.57 614.87,431.12 615.2,430.67 615.52,430.22 615.85,429.76 616.18,429.29 616.51,428.81 616.84,428.32 617.17,427.83 617.49,427.33 617.82,426.82 618.15,426.31 618.48,425.78 618.81,425.25 619.13,424.71 619.46,424.16 619.79,423.6 620.12,423.03 620.45,422.45 620.77,421.87 621.1,421.28 621.43,420.67 621.76,420.06 622.09,419.44 622.41,418.81 622.74,418.17 623.07,417.52 623.4,416.86 623.73,416.19 624.05,415.52 624.38,414.83 624.71,414.14 625.04,413.43 625.37,412.72 625.69,412 626.02,411.27 626.35,410.53 626.68,409.78 627.01,409.02 627.33,408.26 627.66,407.48 627.99,406.7 628.32,405.91 628.65,405.12 628.97,404.32 629.3,403.51 629.63,402.69 629.96,401.87 630.29,401.04 630.61,400.2 630.94,399.36 631.27,398.52 631.6,397.67 631.93,396.82 632.26,395.96 632.58,395.1 632.91,394.23 633.24,393.37 633.57,392.5 633.9,391.63 634.22,390.76 634.55,389.89 634.88,389.02 635.21,388.15 635.54,387.28 635.86,386.41 636.19,385.55 636.52,384.69 636.85,383.83 637.18,382.98 637.5,382.13 637.83,381.28 638.16,380.45 638.49,379.62 638.82,378.79 639.14,377.98 639.47,377.17 639.8,376.38 640.13,375.59 640.46,374.81 640.78,374.05 641.11,373.3 641.44,372.56 641.77,371.83 642.1,371.11 642.42,370.41 642.75,369.73 643.08,369.06 643.41,368.4 643.74,367.76 644.06,367.14 644.39,366.53 644.72,365.94 645.05,365.37 645.38,364.81 645.71,364.28 646.03,363.76 646.36,363.26 646.69,362.77 647.02,362.31 647.35,361.86 647.67,361.44 648,361.03 648.33,360.63 648.66,360.26 648.99,359.91 649.31,359.57 649.64,359.25 649.97,358.94 650.3,358.66 650.63,358.39 650.95,358.13 651.28,357.89 651.61,357.67 651.94,357.46 652.27,357.27 652.59,357.08 652.92,356.92 653.25,356.8 653.58,356.8 653.91,356.8 654.23,356.8 654.56,356.8 654.89,356.8 655.22,356.8 655.55,356.8" fill="none" stroke="#6b6b6b" stroke-width="3.0" stroke-linejoin="round"/>
<circle cx="571.79" cy="458.25" r="1.5" fill="#6b6b6b" stroke="none" stroke-width="1"/>
<circle cx="580.86" cy="457.11" r="1.5" fill="#6b6b6b" stroke="none" stroke-width="1"/>
<circle cx="586.17" cy="455.36" r="1.5" fill="#6b6b6b" stroke="none" stroke-width="1"/>
<circle cx="589.38" cy="454.12" r="1.5" fill="#6b6b6b" stroke="none" stroke-width="1"/>
<circle cx="591.96" cy="453.19" r="1.5" fill="#6b6b6b" stroke="none" stroke-width="1"/>
<polyline points="573.8,458.86 574.48,458.71 575.17,458.55 575.85,458.39 576.53,458.22 577.21,458.04 577.89,457.86 578.57,457.67 579.25,457.47 579.93,457.26 580.62,457.05 581.3,456.82 581.98,456.59 582.66,456.36 583.34,456.11 584.02,455.85 584.7,455.59 585.38,455.32 586.07,455.03 586.75,454.74 587.43,454.44 588.11,454.13 588.79,453.81 589.47,453.48 590.15,453.14 590.83,452.79 591.51,452.44 592.2,452.06 592.88,451.68 593.56,451.29 594.24,450.89 594.92,450.47 595.6,450.05 596.28,449.61 596.96,449.16 597.65,448.7 598.33,448.23 599.01,447.74 599.69,447.24 600.37,446.73 601.05,446.21 601.73,445.67 602.41,445.11 603.09,444.55 603.78,443.96 604.46,443.37 605.14,442.76 605.82,442.13 606.5,441.48 607.18,440.82 607.86,440.14 608.54,439.45 609.23,438.73 609.91,438 610.59,437.24 611.27,436.46 611.95,435.66 612.63,434.84 613.31,433.99 613.99,433.11 614.68,432.21 615.36,431.28 616.04,430.32 616.72,429.33 617.4,428.3 618.08,427.24 618.76,426.14 619.44,425.01 620.12,423.84 620.81,422.64 621.49,421.39 622.17,420.11 622.85,418.78 623.53,417.42 624.21,416.01 624.89,414.57 625.57,413.09 626.26,411.57 626.94,410.01 627.62,408.42 628.3,406.79 628.98,405.13 629.66,403.44 630.34,401.72 631.02,399.98 631.7,398.22 632.39,396.44 633.07,394.65 633.75,392.85 634.43,391.04 635.11,389.23 635.79,387.43 636.47,385.63 637.15,383.86 637.84,382.1 638.52,380.37 639.2,378.67 639.88,377.01 640.56,375.4 641.24,373.83 641.92,372.32 642.6,370.86 643.29,369.47 643.97,368.15 644.65,366.9 645.33,365.72 646.01,364.62 646.69,363.6 647.37,362.65 648.05,361.79 648.73,361 649.42,360.29 650.1,359.66 650.78,359.09 651.46,358.6 652.14,358.16 652.82,357.79 653.5,357.47 654.18,357.21 654.87,356.98 655.55,356.8" fill="none" stroke="#e8413f" stroke-width="1.3" stroke-linejoin="round"/>
<polyline points="575.55,458.87 576.22,458.81 576.89,458.75 577.55,458.68 578.22,458.61 578.89,458.54 579.55,458.47 580.22,458.39 580.89,458.3 581.55,458.21 582.22,458.12 582.88,458.02 583.55,457.92 584.22,457.82 584.88,457.7 585.55,457.58 586.22,457.46 586.88,457.33 587.55,457.19 588.22,457.05 588.88,456.89 589.55,456.73 590.22,456.57 590.88,456.39 591.55,456.21 592.22,456.01 592.88,455.81 593.55,455.59 594.22,455.37 594.88,455.13 595.55,454.88 596.22,454.62 596.88,454.35 597.55,454.06 598.22,453.76 598.88,453.45 599.55,453.12 600.22,452.77 600.88,452.41 601.55,452.03 602.22,451.63 602.88,451.21 603.55,450.77 604.22,450.31 604.88,449.83 605.55,449.33 606.22,448.8 606.88,448.25 607.55,447.68 608.22,447.07 608.88,446.44 609.55,445.79 610.22,445.1 610.88,444.38 611.55,443.64 612.22,442.86 612.88,442.04 613.55,441.2 614.22,440.31 614.88,439.39 615.55,438.44 616.22,437.44 616.88,436.41 617.55,435.34 618.22,434.22 618.88,433.07 619.55,431.87 620.22,430.63 620.88,429.35 621.55,428.03 622.22,426.66 622.88,425.24 623.55,423.79 624.22,422.29 624.88,420.75 625.55,419.17 626.22,417.54 626.88,415.88 627.55,414.18 628.22,412.44 628.88,410.67 629.55,408.86 630.21,407.03 630.88,405.17 631.55,403.28 632.21,401.37 632.88,399.45 633.55,397.51 634.21,395.57 634.88,393.62 635.55,391.68 636.21,389.74 636.88,387.82 637.55,385.91 638.21,384.03 638.88,382.17 639.55,380.35 640.21,378.58 640.88,376.85 641.55,375.17 642.21,373.55 642.88,372 643.55,370.51 644.21,369.1 644.88,367.76 645.55,366.49 646.21,365.31 646.88,364.21 647.55,363.2 648.21,362.27 648.88,361.41 649.55,360.65 650.21,359.95 650.88,359.34 651.55,358.8 652.21,358.32 652.88,357.91 653.55,357.56 654.21,357.26 654.88,357.01 655.55,356.8" fill="none" stroke="#4a9bd8" stroke-width="1.0" stroke-linejoin="round" stroke-dasharray="3,2"/>
<line x1="557.4" y1="356.8" x2="557.4" y2="460.4" stroke="#3a3a3a" stroke-width="0.9"/>
<line x1="557" y1="460" x2="678.4" y2="460" stroke="#3a3a3a" stroke-width="0.9"/>
<line x1="553.9" y1="460" x2="557.4" y2="460" stroke="#3a3a3a" stroke-width="0.9"/>
<text x="552.6" y="463.4" font-size="9.5" text-anchor="end">0</text>
<line x1="553.9" y1="439.36" x2="557.4" y2="439.36" stroke="#3a3a3a" stroke-width="0.9"/>
<text x="552.6" y="442.76" font-size="9.5" text-anchor="end">0.2</text>
<line x1="553.9" y1="418.72" x2="557.4" y2="418.72" stroke="#3a3a3a" stroke-width="0.9"/>
<text x="552.6" y="422.12" font-size="9.5" text-anchor="end">0.4</text>
<line x1="553.9" y1="398.08" x2="557.4" y2="398.08" stroke="#3a3a3a" stroke-width="0.9"/>
<text x="552.6" y="401.48" font-size="9.5" text-anchor="end">0.6</text>
<line x1="553.9" y1="377.44" x2="557.4" y2="377.44" stroke="#3a3a3a" stroke-width="0.9"/>
<text x="552.6" y="380.84" font-size="9.5" text-anchor="end">0.8</text>
<line x1="553.9" y1="356.8" x2="557.4" y2="356.8" stroke="#3a3a3a" stroke-width="0.9"/>
<text x="552.6" y="360.2" font-size="9.5" text-anchor="end">1</text>
<line x1="557.4" y1="460" x2="557.4" y2="463.4" stroke="#3a3a3a" stroke-width="0.9"/>
<text x="557.2" y="477.8" font-size="9.6" text-anchor="middle">10<tspan font-size="7.2" dy="-4.2">0</tspan></text>
<line x1="566.48" y1="460" x2="566.48" y2="461.8" stroke="#3a3a3a" stroke-width="0.6"/>
<line x1="571.79" y1="460" x2="571.79" y2="461.8" stroke="#3a3a3a" stroke-width="0.6"/>
<line x1="575.55" y1="460" x2="575.55" y2="461.8" stroke="#3a3a3a" stroke-width="0.6"/>
<line x1="578.47" y1="460" x2="578.47" y2="461.8" stroke="#3a3a3a" stroke-width="0.6"/>
<line x1="580.86" y1="460" x2="580.86" y2="461.8" stroke="#3a3a3a" stroke-width="0.6"/>
<line x1="582.88" y1="460" x2="582.88" y2="461.8" stroke="#3a3a3a" stroke-width="0.6"/>
<line x1="584.63" y1="460" x2="584.63" y2="461.8" stroke="#3a3a3a" stroke-width="0.6"/>
<line x1="586.17" y1="460" x2="586.17" y2="461.8" stroke="#3a3a3a" stroke-width="0.6"/>
<line x1="587.55" y1="460" x2="587.55" y2="463.4" stroke="#3a3a3a" stroke-width="0.9"/>
<text x="587.35" y="477.8" font-size="9.6" text-anchor="middle">10<tspan font-size="7.2" dy="-4.2">1</tspan></text>
<line x1="596.63" y1="460" x2="596.63" y2="461.8" stroke="#3a3a3a" stroke-width="0.6"/>
<line x1="601.94" y1="460" x2="601.94" y2="461.8" stroke="#3a3a3a" stroke-width="0.6"/>
<line x1="605.7" y1="460" x2="605.7" y2="461.8" stroke="#3a3a3a" stroke-width="0.6"/>
<line x1="608.62" y1="460" x2="608.62" y2="461.8" stroke="#3a3a3a" stroke-width="0.6"/>
<line x1="611.01" y1="460" x2="611.01" y2="461.8" stroke="#3a3a3a" stroke-width="0.6"/>
<line x1="613.03" y1="460" x2="613.03" y2="461.8" stroke="#3a3a3a" stroke-width="0.6"/>
<line x1="614.78" y1="460" x2="614.78" y2="461.8" stroke="#3a3a3a" stroke-width="0.6"/>
<line x1="616.32" y1="460" x2="616.32" y2="461.8" stroke="#3a3a3a" stroke-width="0.6"/>
<line x1="617.7" y1="460" x2="617.7" y2="463.4" stroke="#3a3a3a" stroke-width="0.9"/>
<text x="617.5" y="477.8" font-size="9.6" text-anchor="middle">10<tspan font-size="7.2" dy="-4.2">2</tspan></text>
<line x1="626.78" y1="460" x2="626.78" y2="461.8" stroke="#3a3a3a" stroke-width="0.6"/>
<line x1="632.09" y1="460" x2="632.09" y2="461.8" stroke="#3a3a3a" stroke-width="0.6"/>
<line x1="635.85" y1="460" x2="635.85" y2="461.8" stroke="#3a3a3a" stroke-width="0.6"/>
<line x1="638.77" y1="460" x2="638.77" y2="461.8" stroke="#3a3a3a" stroke-width="0.6"/>
<line x1="641.16" y1="460" x2="641.16" y2="461.8" stroke="#3a3a3a" stroke-width="0.6"/>
<line x1="643.18" y1="460" x2="643.18" y2="461.8" stroke="#3a3a3a" stroke-width="0.6"/>
<line x1="644.93" y1="460" x2="644.93" y2="461.8" stroke="#3a3a3a" stroke-width="0.6"/>
<line x1="646.47" y1="460" x2="646.47" y2="461.8" stroke="#3a3a3a" stroke-width="0.6"/>
<line x1="647.85" y1="460" x2="647.85" y2="463.4" stroke="#3a3a3a" stroke-width="0.9"/>
<text x="647.65" y="477.8" font-size="9.6" text-anchor="middle">10<tspan font-size="7.2" dy="-4.2">3</tspan></text>
<line x1="656.93" y1="460" x2="656.93" y2="461.8" stroke="#3a3a3a" stroke-width="0.6"/>
<line x1="662.24" y1="460" x2="662.24" y2="461.8" stroke="#3a3a3a" stroke-width="0.6"/>
<line x1="666" y1="460" x2="666" y2="461.8" stroke="#3a3a3a" stroke-width="0.6"/>
<line x1="668.92" y1="460" x2="668.92" y2="461.8" stroke="#3a3a3a" stroke-width="0.6"/>
<line x1="671.31" y1="460" x2="671.31" y2="461.8" stroke="#3a3a3a" stroke-width="0.6"/>
<line x1="673.33" y1="460" x2="673.33" y2="461.8" stroke="#3a3a3a" stroke-width="0.6"/>
<line x1="675.08" y1="460" x2="675.08" y2="461.8" stroke="#3a3a3a" stroke-width="0.6"/>
<line x1="676.62" y1="460" x2="676.62" y2="461.8" stroke="#3a3a3a" stroke-width="0.6"/>
<line x1="678" y1="460" x2="678" y2="463.4" stroke="#3a3a3a" stroke-width="0.9"/>
<text x="677.8" y="477.8" font-size="9.6" text-anchor="middle">10<tspan font-size="7.2" dy="-4.2">4</tspan></text>
<text x="617.7" y="488.5" font-size="10.5" text-anchor="middle">Bound Time (s)</text>
<line x1="568.5" y1="358.8" x2="582.8" y2="358.8" stroke="#5aa6de" stroke-width="1.2" stroke-dasharray="4.5,2.5"/>
<text x="586.6" y="361.4" font-size="8.2">monoexp</text>
<line x1="568.5" y1="369" x2="582.8" y2="369" stroke="#f0585a" stroke-width="1.4"/>
<text x="586.6" y="371.6" font-size="8.2">biexp</text>
<text x="536" y="408.5" font-size="10.4" text-anchor="middle" transform="rotate(-90 536 408.5)">Cumulative Probability</text>
<defs>
<radialGradient id="spotg"><stop offset="0" stop-color="#fff" stop-opacity="1"/><stop offset="0.35" stop-color="#fff" stop-opacity="0.75"/><stop offset="1" stop-color="#fff" stop-opacity="0"/></radialGradient>
<filter id="speck1" x="0" y="0" width="1" height="1" color-interpolation-filters="sRGB">
<feTurbulence type="fractalNoise" baseFrequency="0.5" numOctaves="2" seed="4"/>
<feColorMatrix type="matrix" values="0 0 0 0 1  0 0 0 0 1  0 0 0 0 1  3.0 0 0 0 -1.62"/>
<feGaussianBlur stdDeviation="0.45"/>
</filter>
<filter id="speck2" x="0" y="0" width="1" height="1" color-interpolation-filters="sRGB">
<feTurbulence type="fractalNoise" baseFrequency="0.5" numOctaves="2" seed="9"/>
<feColorMatrix type="matrix" values="0 0 0 0 1  0 0 0 0 1  0 0 0 0 1  3.0 0 0 0 -1.62"/>
<feGaussianBlur stdDeviation="0.45"/>
</filter>
<filter id="soft" x="-0.05" y="-0.05" width="1.1" height="1.1"><feGaussianBlur stdDeviation="0.55"/></filter>
<filter id="grain" x="0" y="0" width="1" height="1" color-interpolation-filters="sRGB">
<feTurbulence type="fractalNoise" baseFrequency="0.9" numOctaves="1" seed="2"/>
<feColorMatrix type="matrix" values="0 0 0 0 1  0 0 0 0 1  0 0 0 0 1  1.2 0 0 0 -0.45"/>
</filter>
</defs>
<clipPath id="clip1"><rect x="379.3" y="7.9" width="145.1" height="144.8"/></clipPath>
<clipPath id="cc1"><circle cx="454" cy="80.5" r="75.5"/></clipPath>
<g clip-path="url(#clip1)">
<rect x="379.3" y="7.9" width="145.1" height="144.8" fill="#1e1e1e" stroke="none" stroke-width="1"/>
<circle cx="454" cy="80.5" r="75.5" fill="#333333" stroke="none" stroke-width="1"/>
<rect x="379.3" y="7.9" width="145.1" height="144.8" fill="#fff" stroke="none" stroke-width="1" filter="url(#grain)" opacity="0.10"/>
<g clip-path="url(#cc1)" filter="url(#soft)">
<path d="M444.2 89.0a0.75 0.75 0 1 0 1.5 0a0.75 0.75 0 1 0 -1.5 0M512.7 75.3a0.75 0.75 0 1 0 1.5 0a0.75 0.75 0 1 0 -1.5 0M452.2 93.0a0.75 0.75 0 1 0 1.5 0a0.75 0.75 0 1 0 -1.5 0M405.3 82.0a0.75 0.75 0 1 0 1.5 0a0.75 0.75 0 1 0 -1.5 0M469.9 122.7a0.75 0.75 0 1 0 1.5 0a0.75 0.75 0 1 0 -1.5 0M392.2 51.8a0.75 0.75 0 1 0 1.5 0a0.75 0.75 0 1 0 -1.5 0M391.7 125.1a0.75 0.75 0 1 0 1.5 0a0.75 0.75 0 1 0 -1.5 0M479.2 14.0a0.75 0.75 0 1 0 1.5 0a0.75 0.75 0 1 0 -1.5 0M473.4 97.0a0.75 0.75 0 1 0 1.5 0a0.75 0.75 0 1 0 -1.5 0M455.2 16.5a0.75 0.75 0 1 0 1.5 0a0.75 0.75 0 1 0 -1.5 0M406.1 42.9a0.75 0.75 0 1 0 1.5 0a0.75 0.75 0 1 0 -1.5 0M382.9 75.1a0.75 0.75 0 1 0 1.5 0a0.75 0.75 0 1 0 -1.5 0M442.5 129.9a0.75 0.75 0 1 0 1.5 0a0.75 0.75 0 1 0 -1.5 0M453.9 100.6a0.75 0.75 0 1 0 1.5 0a0.75 0.75 0 1 0 -1.5 0M451.1 103.8a0.75 0.75 0 1 0 1.5 0a0.75 0.75 0 1 0 -1.5 0M444.9 48.2a0.75 0.75 0 1 0 1.5 0a0.75 0.75 0 1 0 -1.5 0M500.5 110.4a0.75 0.75 0 1 0 1.5 0a0.75 0.75 0 1 0 -1.5 0M424.3 41.2a0.75 0.75 0 1 0 1.5 0a0.75 0.75 0 1 0 -1.5 0M420.5 18.1a0.75 0.75 0 1 0 1.5 0a0.75 0.75 0 1 0 -1.5 0M489.7 65.9a0.75 0.75 0 1 0 1.5 0a0.75 0.75 0 1 0 -1.5 0M501.4 63.9a0.75 0.75 0 1 0 1.5 0a0.75 0.75 0 1 0 -1.5 0M510.6 76.0a0.75 0.75 0 1 0 1.5 0a0.75 0.75 0 1 0 -1.5 0M520.8 65.4a0.75 0.75 0 1 0 1.5 0a0.75 0.75 0 1 0 -1.5 0M389.1 99.0a0.75 0.75 0 1 0 1.5 0a0.75 0.75 0 1 0 -1.5 0M491.5 47.0a0.75 0.75 0 1 0 1.5 0a0.75 0.75 0 1 0 -1.5 0M391.2 56.1a0.75 0.75 0 1 0 1.5 0a0.75 0.75 0 1 0 -1.5 0M518.4 117.7a0.75 0.75 0 1 0 1.5 0a0.75 0.75 0 1 0 -1.5 0M395.7 43.6a0.75 0.75 0 1 0 1.5 0a0.75 0.75 0 1 0 -1.5 0M494.2 33.6a0.75 0.75 0 1 0 1.5 0a0.75 0.75 0 1 0 -1.5 0M459.7 72.7a0.75 0.75 0 1 0 1.5 0a0.75 0.75 0 1 0 -1.5 0M406.2 113.9a0.75 0.75 0 1 0 1.5 0a0.75 0.75 0 1 0 -1.5 0M397.6 101.1a0.75 0.75 0 1 0 1.5 0a0.75 0.75 0 1 0 -1.5 0M395.5 68.8a0.75 0.75 0 1 0 1.5 0a0.75 0.75 0 1 0 -1.5 0M409.4 47.0a0.75 0.75 0 1 0 1.5 0a0.75 0.75 0 1 0 -1.5 0M422.7 136.0a0.75 0.75 0 1 0 1.5 0a0.75 0.75 0 1 0 -1.5 0M409.1 65.0a0.75 0.75 0 1 0 1.5 0a0.75 0.75 0 1 0 -1.5 0M502.5 100.8a0.75 0.75 0 1 0 1.5 0a0.75 0.75 0 1 0 -1.5 0M409.5 45.3a0.75 0.75 0 1 0 1.5 0a0.75 0.75 0 1 0 -1.5 0M490.7 55.5a0.75 0.75 0 1 0 1.5 0a0.75 0.75 0 1 0 -1.5 0M421.5 18.5a0.75 0.75 0 1 0 1.5 0a0.75 0.75 0 1 0 -1.5 0M391.6 92.3a0.75 0.75 0 1 0 1.5 0a0.75 0.75 0 1 0 -1.5 0M413.8 95.0a0.75 0.75 0 1 0 1.5 0a0.75 0.75 0 1 0 -1.5 0M432.5 73.5a0.75 0.75 0 1 0 1.5 0a0.75 0.75 0 1 0 -1.5 0M517.7 77.9a0.75 0.75 0 1 0 1.5 0a0.75 0.75 0 1 0 -1.5 0M461.9 133.4a0.75 0.75 0 1 0 1.5 0a0.75 0.75 0 1 0 -1.5 0M405.1 30.2a0.75 0.75 0 1 0 1.5 0a0.75 0.75 0 1 0 -1.5 0M510.4 126.3a0.75 0.75 0 1 0 1.5 0a0.75 0.75 0 1 0 -1.5 0M414.8 35.4a0.75 0.75 0 1 0 1.5 0a0.75 0.75 0 1 0 -1.5 0M485.8 144.1a0.75 0.75 0 1 0 1.5 0a0.75 0.75 0 1 0 -1.5 0M506.6 95.3a0.75 0.75 0 1 0 1.5 0a0.75 0.75 0 1 0 -1.5 0M439.7 22.9a0.75 0.75 0 1 0 1.5 0a0.75 0.75 0 1 0 -1.5 0M413.1 109.9a0.75 0.75 0 1 0 1.5 0a0.75 0.75 0 1 0 -1.5 0M415.8 127.2a0.75 0.75 0 1 0 1.5 0a0.75 0.75 0 1 0 -1.5 0M465.1 50.4a0.75 0.75 0 1 0 1.5 0a0.75 0.75 0 1 0 -1.5 0M404.0 112.2a0.75 0.75 0 1 0 1.5 0a0.75 0.75 0 1 0 -1.5 0M388.5 41.0a0.75 0.75 0 1 0 1.5 0a0.75 0.75 0 1 0 -1.5 0M459.7 131.3a0.75 0.75 0 1 0 1.5 0a0.75 0.75 0 1 0 -1.5 0M467.7 48.5a0.75 0.75 0 1 0 1.5 0a0.75 0.75 0 1 0 -1.5 0M511.7 37.4a0.75 0.75 0 1 0 1.5 0a0.75 0.75 0 1 0 -1.5 0M443.2 16.7a0.75 0.75 0 1 0 1.5 0a0.75 0.75 0 1 0 -1.5 0M404.1 61.3a0.75 0.75 0 1 0 1.5 0a0.75 0.75 0 1 0 -1.5 0M461.6 27.0a0.75 0.75 0 1 0 1.5 0a0.75 0.75 0 1 0 -1.5 0M431.1 136.9a0.75 0.75 0 1 0 1.5 0a0.75 0.75 0 1 0 -1.5 0M520.8 103.0a0.75 0.75 0 1 0 1.5 0a0.75 0.75 0 1 0 -1.5 0M478.8 92.5a0.75 0.75 0 1 0 1.5 0a0.75 0.75 0 1 0 -1.5 0M480.3 147.3a0.75 0.75 0 1 0 1.5 0a0.75 0.75 0 1 0 -1.5 0M381.6 100.0a0.75 0.75 0 1 0 1.5 0a0.75 0.75 0 1 0 -1.5 0M448.5 113.7a0.75 0.75 0 1 0 1.5 0a0.75 0.75 0 1 0 -1.5 0M389.5 87.0a0.75 0.75 0 1 0 1.5 0a0.75 0.75 0 1 0 -1.5 0M485.5 138.2a0.75 0.75 0 1 0 1.5 0a0.75 0.75 0 1 0 -1.5 0M485.5 109.8a0.75 0.75 0 1 0 1.5 0a0.75 0.75 0 1 0 -1.5 0M493.7 140.4a0.75 0.75 0 1 0 1.5 0a0.75 0.75 0 1 0 -1.5 0M429.6 107.1a0.75 0.75 0 1 0 1.5 0a0.75 0.75 0 1 0 -1.5 0M439.1 122.4a0.75 0.75 0 1 0 1.5 0a0.75 0.75 0 1 0 -1.5 0M503.8 90.8a0.75 0.75 0 1 0 1.5 0a0.75 0.75 0 1 0 -1.5 0M469.2 63.3a0.75 0.75 0 1 0 1.5 0a0.75 0.75 0 1 0 -1.5 0M463.1 96.1a0.75 0.75 0 1 0 1.5 0a0.75 0.75 0 1 0 -1.5 0M390.2 100.5a0.75 0.75 0 1 0 1.5 0a0.75 0.75 0 1 0 -1.5 0M484.2 64.1a0.75 0.75 0 1 0 1.5 0a0.75 0.75 0 1 0 -1.5 0M485.2 92.0a0.75 0.75 0 1 0 1.5 0a0.75 0.75 0 1 0 -1.5 0M442.5 129.3a0.75 0.75 0 1 0 1.5 0a0.75 0.75 0 1 0 -1.5 0M390.7 116.5a0.75 0.75 0 1 0 1.5 0a0.75 0.75 0 1 0 -1.5 0M382.9 95.0a0.75 0.75 0 1 0 1.5 0a0.75 0.75 0 1 0 -1.5 0M448.3 41.2a0.75 0.75 0 1 0 1.5 0a0.75 0.75 0 1 0 -1.5 0M479.9 79.9a0.75 0.75 0 1 0 1.5 0a0.75 0.75 0 1 0 -1.5 0M467.7 141.2a0.75 0.75 0 1 0 1.5 0a0.75 0.75 0 1 0 -1.5 0M422.2 106.1a0.75 0.75 0 1 0 1.5 0a0.75 0.75 0 1 0 -1.5 0M407.9 32.5a0.75 0.75 0 1 0 1.5 0a0.75 0.75 0 1 0 -1.5 0M510.0 103.5a0.75 0.75 0 1 0 1.5 0a0.75 0.75 0 1 0 -1.5 0M442.7 137.0a0.75 0.75 0 1 0 1.5 0a0.75 0.75 0 1 0 -1.5 0M426.0 104.3a0.75 0.75 0 1 0 1.5 0a0.75 0.75 0 1 0 -1.5 0M407.4 70.3a0.75 0.75 0 1 0 1.5 0a0.75 0.75 0 1 0 -1.5 0M495.5 140.3a0.75 0.75 0 1 0 1.5 0a0.75 0.75 0 1 0 -1.5 0M506.3 63.6a0.75 0.75 0 1 0 1.5 0a0.75 0.75 0 1 0 -1.5 0M463.2 53.7a0.75 0.75 0 1 0 1.5 0a0.75 0.75 0 1 0 -1.5 0M398.3 79.8a0.75 0.75 0 1 0 1.5 0a0.75 0.75 0 1 0 -1.5 0M500.0 130.8a0.75 0.75 0 1 0 1.5 0a0.75 0.75 0 1 0 -1.5 0M481.7 145.5a0.75 0.75 0 1 0 1.5 0a0.75 0.75 0 1 0 -1.5 0M418.7 32.4a0.75 0.75 0 1 0 1.5 0a0.75 0.75 0 1 0 -1.5 0M443.9 47.7a0.75 0.75 0 1 0 1.5 0a0.75 0.75 0 1 0 -1.5 0M409.6 67.8a0.75 0.75 0 1 0 1.5 0a0.75 0.75 0 1 0 -1.5 0M469.3 79.4a0.75 0.75 0 1 0 1.5 0a0.75 0.75 0 1 0 -1.5 0M424.3 129.4a0.75 0.75 0 1 0 1.5 0a0.75 0.75 0 1 0 -1.5 0M521.0 73.4a0.75 0.75 0 1 0 1.5 0a0.75 0.75 0 1 0 -1.5 0M481.4 90.5a0.75 0.75 0 1 0 1.5 0a0.75 0.75 0 1 0 -1.5 0M423.4 122.5a0.75 0.75 0 1 0 1.5 0a0.75 0.75 0 1 0 -1.5 0M444.5 11.5a0.75 0.75 0 1 0 1.5 0a0.75 0.75 0 1 0 -1.5 0M498.9 42.3a0.75 0.75 0 1 0 1.5 0a0.75 0.75 0 1 0 -1.5 0M469.8 72.6a0.75 0.75 0 1 0 1.5 0a0.75 0.75 0 1 0 -1.5 0M470.0 102.8a0.75 0.75 0 1 0 1.5 0a0.75 0.75 0 1 0 -1.5 0M477.9 36.8a0.75 0.75 0 1 0 1.5 0a0.75 0.75 0 1 0 -1.5 0M447.5 33.8a0.75 0.75 0 1 0 1.5 0a0.75 0.75 0 1 0 -1.5 0M380.1 76.3a0.75 0.75 0 1 0 1.5 0a0.75 0.75 0 1 0 -1.5 0M482.2 33.8a0.75 0.75 0 1 0 1.5 0a0.75 0.75 0 1 0 -1.5 0M418.1 58.0a0.75 0.75 0 1 0 1.5 0a0.75 0.75 0 1 0 -1.5 0M479.7 83.3a0.75 0.75 0 1 0 1.5 0a0.75 0.75 0 1 0 -1.5 0M467.7 117.4a0.75 0.75 0 1 0 1.5 0a0.75 0.75 0 1 0 -1.5 0M435.6 122.6a0.75 0.75 0 1 0 1.5 0a0.75 0.75 0 1 0 -1.5 0M513.9 112.5a0.75 0.75 0 1 0 1.5 0a0.75 0.75 0 1 0 -1.5 0M397.4 73.6a0.75 0.75 0 1 0 1.5 0a0.75 0.75 0 1 0 -1.5 0M469.3 139.7a0.75 0.75 0 1 0 1.5 0a0.75 0.75 0 1 0 -1.5 0M433.2 90.3a0.75 0.75 0 1 0 1.5 0a0.75 0.75 0 1 0 -1.5 0M506.1 123.3a0.75 0.75 0 1 0 1.5 0a0.75 0.75 0 1 0 -1.5 0M515.6 75.0a0.75 0.75 0 1 0 1.5 0a0.75 0.75 0 1 0 -1.5 0M473.1 37.6a0.75 0.75 0 1 0 1.5 0a0.75 0.75 0 1 0 -1.5 0M483.3 126.4a0.75 0.75 0 1 0 1.5 0a0.75 0.75 0 1 0 -1.5 0M471.6 111.8a0.75 0.75 0 1 0 1.5 0a0.75 0.75 0 1 0 -1.5 0M409.5 138.2a0.75 0.75 0 1 0 1.5 0a0.75 0.75 0 1 0 -1.5 0M456.5 122.4a0.75 0.75 0 1 0 1.5 0a0.75 0.75 0 1 0 -1.5 0M425.0 139.7a0.75 0.75 0 1 0 1.5 0a0.75 0.75 0 1 0 -1.5 0M502.7 58.4a0.75 0.75 0 1 0 1.5 0a0.75 0.75 0 1 0 -1.5 0M390.6 71.7a0.75 0.75 0 1 0 1.5 0a0.75 0.75 0 1 0 -1.5 0M458.4 119.1a0.75 0.75 0 1 0 1.5 0a0.75 0.75 0 1 0 -1.5 0M449.3 12.0a0.75 0.75 0 1 0 1.5 0a0.75 0.75 0 1 0 -1.5 0M496.0 17.2a0.75 0.75 0 1 0 1.5 0a0.75 0.75 0 1 0 -1.5 0M494.6 32.9a0.75 0.75 0 1 0 1.5 0a0.75 0.75 0 1 0 -1.5 0M427.2 122.0a0.75 0.75 0 1 0 1.5 0a0.75 0.75 0 1 0 -1.5 0M398.9 29.4a0.75 0.75 0 1 0 1.5 0a0.75 0.75 0 1 0 -1.5 0M453.5 112.7a0.75 0.75 0 1 0 1.5 0a0.75 0.75 0 1 0 -1.5 0M500.4 107.7a0.75 0.75 0 1 0 1.5 0a0.75 0.75 0 1 0 -1.5 0M515.8 79.2a0.75 0.75 0 1 0 1.5 0a0.75 0.75 0 1 0 -1.5 0M410.7 84.2a0.75 0.75 0 1 0 1.5 0a0.75 0.75 0 1 0 -1.5 0M420.7 113.4a0.75 0.75 0 1 0 1.5 0a0.75 0.75 0 1 0 -1.5 0M471.3 83.6a0.75 0.75 0 1 0 1.5 0a0.75 0.75 0 1 0 -1.5 0M501.0 89.0a0.75 0.75 0 1 0 1.5 0a0.75 0.75 0 1 0 -1.5 0M423.8 63.1a0.75 0.75 0 1 0 1.5 0a0.75 0.75 0 1 0 -1.5 0M501.2 138.3a0.75 0.75 0 1 0 1.5 0a0.75 0.75 0 1 0 -1.5 0M408.8 131.1a0.75 0.75 0 1 0 1.5 0a0.75 0.75 0 1 0 -1.5 0M519.1 83.8a0.75 0.75 0 1 0 1.5 0a0.75 0.75 0 1 0 -1.5 0M461.7 37.0a0.75 0.75 0 1 0 1.5 0a0.75 0.75 0 1 0 -1.5 0M456.3 80.8a0.75 0.75 0 1 0 1.5 0a0.75 0.75 0 1 0 -1.5 0M466.4 11.9a0.75 0.75 0 1 0 1.5 0a0.75 0.75 0 1 0 -1.5 0M519.2 82.6a0.75 0.75 0 1 0 1.5 0a0.75 0.75 0 1 0 -1.5 0M436.7 123.9a0.75 0.75 0 1 0 1.5 0a0.75 0.75 0 1 0 -1.5 0M460.2 79.0a0.75 0.75 0 1 0 1.5 0a0.75 0.75 0 1 0 -1.5 0M478.8 17.4a0.75 0.75 0 1 0 1.5 0a0.75 0.75 0 1 0 -1.5 0M456.7 67.8a0.75 0.75 0 1 0 1.5 0a0.75 0.75 0 1 0 -1.5 0M417.6 76.4a0.75 0.75 0 1 0 1.5 0a0.75 0.75 0 1 0 -1.5 0M397.0 70.7a0.75 0.75 0 1 0 1.5 0a0.75 0.75 0 1 0 -1.5 0M496.9 138.3a0.75 0.75 0 1 0 1.5 0a0.75 0.75 0 1 0 -1.5 0M447.7 53.8a0.75 0.75 0 1 0 1.5 0a0.75 0.75 0 1 0 -1.5 0M406.3 97.4a0.75 0.75 0 1 0 1.5 0a0.75 0.75 0 1 0 -1.5 0M406.7 40.8a0.75 0.75 0 1 0 1.5 0a0.75 0.75 0 1 0 -1.5 0M478.2 54.5a0.75 0.75 0 1 0 1.5 0a0.75 0.75 0 1 0 -1.5 0M430.1 97.6a0.75 0.75 0 1 0 1.5 0a0.75 0.75 0 1 0 -1.5 0M393.8 113.7a0.75 0.75 0 1 0 1.5 0a0.75 0.75 0 1 0 -1.5 0M396.4 81.8a0.75 0.75 0 1 0 1.5 0a0.75 0.75 0 1 0 -1.5 0M414.9 36.5a0.75 0.75 0 1 0 1.5 0a0.75 0.75 0 1 0 -1.5 0M455.5 71.1a0.75 0.75 0 1 0 1.5 0a0.75 0.75 0 1 0 -1.5 0M433.1 67.8a0.75 0.75 0 1 0 1.5 0a0.75 0.75 0 1 0 -1.5 0M455.4 31.0a0.75 0.75 0 1 0 1.5 0a0.75 0.75 0 1 0 -1.5 0M408.2 99.3a0.75 0.75 0 1 0 1.5 0a0.75 0.75 0 1 0 -1.5 0M471.2 84.6a0.75 0.75 0 1 0 1.5 0a0.75 0.75 0 1 0 -1.5 0M502.1 96.5a0.75 0.75 0 1 0 1.5 0a0.75 0.75 0 1 0 -1.5 0M502.9 41.6a0.75 0.75 0 1 0 1.5 0a0.75 0.75 0 1 0 -1.5 0M486.0 125.3a0.75 0.75 0 1 0 1.5 0a0.75 0.75 0 1 0 -1.5 0M509.5 53.6a0.75 0.75 0 1 0 1.5 0a0.75 0.75 0 1 0 -1.5 0M424.3 141.5a0.75 0.75 0 1 0 1.5 0a0.75 0.75 0 1 0 -1.5 0M507.3 27.3a0.75 0.75 0 1 0 1.5 0a0.75 0.75 0 1 0 -1.5 0M413.3 113.1a0.75 0.75 0 1 0 1.5 0a0.75 0.75 0 1 0 -1.5 0M416.2 21.9a0.75 0.75 0 1 0 1.5 0a0.75 0.75 0 1 0 -1.5 0M499.3 69.0a0.75 0.75 0 1 0 1.5 0a0.75 0.75 0 1 0 -1.5 0M493.2 26.1a0.75 0.75 0 1 0 1.5 0a0.75 0.75 0 1 0 -1.5 0M437.0 107.1a0.75 0.75 0 1 0 1.5 0a0.75 0.75 0 1 0 -1.5 0M477.6 139.9a0.75 0.75 0 1 0 1.5 0a0.75 0.75 0 1 0 -1.5 0M451.9 117.7a0.75 0.75 0 1 0 1.5 0a0.75 0.75 0 1 0 -1.5 0M451.5 107.2a0.75 0.75 0 1 0 1.5 0a0.75 0.75 0 1 0 -1.5 0M458.6 82.4a0.75 0.75 0 1 0 1.5 0a0.75 0.75 0 1 0 -1.5 0M461.1 29.1a0.75 0.75 0 1 0 1.5 0a0.75 0.75 0 1 0 -1.5 0M405.3 37.4a0.75 0.75 0 1 0 1.5 0a0.75 0.75 0 1 0 -1.5 0M445.6 118.6a0.75 0.75 0 1 0 1.5 0a0.75 0.75 0 1 0 -1.5 0M426.0 75.5a0.75 0.75 0 1 0 1.5 0a0.75 0.75 0 1 0 -1.5 0M453.3 70.2a0.75 0.75 0 1 0 1.5 0a0.75 0.75 0 1 0 -1.5 0M465.7 9.8a0.75 0.75 0 1 0 1.5 0a0.75 0.75 0 1 0 -1.5 0M480.3 130.1a0.75 0.75 0 1 0 1.5 0a0.75 0.75 0 1 0 -1.5 0M404.9 73.6a0.75 0.75 0 1 0 1.5 0a0.75 0.75 0 1 0 -1.5 0M485.8 66.6a0.75 0.75 0 1 0 1.5 0a0.75 0.75 0 1 0 -1.5 0M406.9 31.8a0.75 0.75 0 1 0 1.5 0a0.75 0.75 0 1 0 -1.5 0M452.9 10.1a0.75 0.75 0 1 0 1.5 0a0.75 0.75 0 1 0 -1.5 0M508.2 124.0a0.75 0.75 0 1 0 1.5 0a0.75 0.75 0 1 0 -1.5 0M480.8 132.5a0.75 0.75 0 1 0 1.5 0a0.75 0.75 0 1 0 -1.5 0M469.9 66.5a0.75 0.75 0 1 0 1.5 0a0.75 0.75 0 1 0 -1.5 0M465.6 80.9a0.75 0.75 0 1 0 1.5 0a0.75 0.75 0 1 0 -1.5 0M416.0 139.9a0.75 0.75 0 1 0 1.5 0a0.75 0.75 0 1 0 -1.5 0M486.6 120.6a0.75 0.75 0 1 0 1.5 0a0.75 0.75 0 1 0 -1.5 0M496.8 66.6a0.75 0.75 0 1 0 1.5 0a0.75 0.75 0 1 0 -1.5 0M479.4 119.0a0.75 0.75 0 1 0 1.5 0a0.75 0.75 0 1 0 -1.5 0M489.6 66.7a0.75 0.75 0 1 0 1.5 0a0.75 0.75 0 1 0 -1.5 0M483.4 18.1a0.75 0.75 0 1 0 1.5 0a0.75 0.75 0 1 0 -1.5 0M428.1 75.8a0.75 0.75 0 1 0 1.5 0a0.75 0.75 0 1 0 -1.5 0M380.1 59.4a0.75 0.75 0 1 0 1.5 0a0.75 0.75 0 1 0 -1.5 0M471.2 98.3a0.75 0.75 0 1 0 1.5 0a0.75 0.75 0 1 0 -1.5 0M412.2 144.7a0.75 0.75 0 1 0 1.5 0a0.75 0.75 0 1 0 -1.5 0M475.2 56.8a0.75 0.75 0 1 0 1.5 0a0.75 0.75 0 1 0 -1.5 0M474.3 90.4a0.75 0.75 0 1 0 1.5 0a0.75 0.75 0 1 0 -1.5 0M455.9 64.3a0.75 0.75 0 1 0 1.5 0a0.75 0.75 0 1 0 -1.5 0M523.6 100.9a0.75 0.75 0 1 0 1.5 0a0.75 0.75 0 1 0 -1.5 0M480.3 118.2a0.75 0.75 0 1 0 1.5 0a0.75 0.75 0 1 0 -1.5 0M467.8 114.9a0.75 0.75 0 1 0 1.5 0a0.75 0.75 0 1 0 -1.5 0M415.8 66.0a0.75 0.75 0 1 0 1.5 0a0.75 0.75 0 1 0 -1.5 0M433.1 22.2a0.75 0.75 0 1 0 1.5 0a0.75 0.75 0 1 0 -1.5 0M415.0 139.0a0.75 0.75 0 1 0 1.5 0a0.75 0.75 0 1 0 -1.5 0M458.4 81.4a0.75 0.75 0 1 0 1.5 0a0.75 0.75 0 1 0 -1.5 0M518.9 90.1a0.75 0.75 0 1 0 1.5 0a0.75 0.75 0 1 0 -1.5 0M522.9 100.3a0.75 0.75 0 1 0 1.5 0a0.75 0.75 0 1 0 -1.5 0M496.0 18.9a0.75 0.75 0 1 0 1.5 0a0.75 0.75 0 1 0 -1.5 0M465.3 117.8a0.75 0.75 0 1 0 1.5 0a0.75 0.75 0 1 0 -1.5 0M401.8 76.2a0.75 0.75 0 1 0 1.5 0a0.75 0.75 0 1 0 -1.5 0M403.1 79.7a0.75 0.75 0 1 0 1.5 0a0.75 0.75 0 1 0 -1.5 0M467.2 16.4a0.75 0.75 0 1 0 1.5 0a0.75 0.75 0 1 0 -1.5 0M515.7 68.8a0.75 0.75 0 1 0 1.5 0a0.75 0.75 0 1 0 -1.5 0M455.0 94.5a0.75 0.75 0 1 0 1.5 0a0.75 0.75 0 1 0 -1.5 0M431.6 49.3a0.75 0.75 0 1 0 1.5 0a0.75 0.75 0 1 0 -1.5 0M473.6 89.1a0.75 0.75 0 1 0 1.5 0a0.75 0.75 0 1 0 -1.5 0M419.7 111.7a0.75 0.75 0 1 0 1.5 0a0.75 0.75 0 1 0 -1.5 0M401.3 117.2a0.75 0.75 0 1 0 1.5 0a0.75 0.75 0 1 0 -1.5 0M435.1 137.9a0.75 0.75 0 1 0 1.5 0a0.75 0.75 0 1 0 -1.5 0M487.1 15.2a0.75 0.75 0 1 0 1.5 0a0.75 0.75 0 1 0 -1.5 0M440.9 77.1a0.75 0.75 0 1 0 1.5 0a0.75 0.75 0 1 0 -1.5 0M519.8 43.2a0.75 0.75 0 1 0 1.5 0a0.75 0.75 0 1 0 -1.5 0M454.5 143.6a0.75 0.75 0 1 0 1.5 0a0.75 0.75 0 1 0 -1.5 0M483.4 75.7a0.75 0.75 0 1 0 1.5 0a0.75 0.75 0 1 0 -1.5 0M466.1 24.6a0.75 0.75 0 1 0 1.5 0a0.75 0.75 0 1 0 -1.5 0M469.1 73.9a0.75 0.75 0 1 0 1.5 0a0.75 0.75 0 1 0 -1.5 0M455.2 25.9a0.75 0.75 0 1 0 1.5 0a0.75 0.75 0 1 0 -1.5 0M442.8 104.6a0.75 0.75 0 1 0 1.5 0a0.75 0.75 0 1 0 -1.5 0M444.7 45.9a0.75 0.75 0 1 0 1.5 0a0.75 0.75 0 1 0 -1.5 0M463.0 68.6a0.75 0.75 0 1 0 1.5 0a0.75 0.75 0 1 0 -1.5 0M491.4 84.8a0.75 0.75 0 1 0 1.5 0a0.75 0.75 0 1 0 -1.5 0M485.1 42.4a0.75 0.75 0 1 0 1.5 0a0.75 0.75 0 1 0 -1.5 0M492.4 98.4a0.75 0.75 0 1 0 1.5 0a0.75 0.75 0 1 0 -1.5 0M430.7 47.2a0.75 0.75 0 1 0 1.5 0a0.75 0.75 0 1 0 -1.5 0M477.9 89.7a0.75 0.75 0 1 0 1.5 0a0.75 0.75 0 1 0 -1.5 0M464.4 99.6a0.75 0.75 0 1 0 1.5 0a0.75 0.75 0 1 0 -1.5 0M487.9 35.4a0.75 0.75 0 1 0 1.5 0a0.75 0.75 0 1 0 -1.5 0M417.9 69.5a0.75 0.75 0 1 0 1.5 0a0.75 0.75 0 1 0 -1.5 0M469.0 22.7a0.75 0.75 0 1 0 1.5 0a0.75 0.75 0 1 0 -1.5 0M457.1 18.4a0.75 0.75 0 1 0 1.5 0a0.75 0.75 0 1 0 -1.5 0M391.1 105.8a0.75 0.75 0 1 0 1.5 0a0.75 0.75 0 1 0 -1.5 0M458.4 99.3a0.75 0.75 0 1 0 1.5 0a0.75 0.75 0 1 0 -1.5 0M432.7 77.2a0.75 0.75 0 1 0 1.5 0a0.75 0.75 0 1 0 -1.5 0M409.1 57.7a0.75 0.75 0 1 0 1.5 0a0.75 0.75 0 1 0 -1.5 0M486.6 129.3a0.75 0.75 0 1 0 1.5 0a0.75 0.75 0 1 0 -1.5 0M496.0 98.2a0.75 0.75 0 1 0 1.5 0a0.75 0.75 0 1 0 -1.5 0M490.1 38.8a0.75 0.75 0 1 0 1.5 0a0.75 0.75 0 1 0 -1.5 0M440.1 45.3a0.75 0.75 0 1 0 1.5 0a0.75 0.75 0 1 0 -1.5 0M496.1 61.3a0.75 0.75 0 1 0 1.5 0a0.75 0.75 0 1 0 -1.5 0M473.4 151.1a0.75 0.75 0 1 0 1.5 0a0.75 0.75 0 1 0 -1.5 0M425.8 87.3a0.75 0.75 0 1 0 1.5 0a0.75 0.75 0 1 0 -1.5 0M486.8 141.2a0.75 0.75 0 1 0 1.5 0a0.75 0.75 0 1 0 -1.5 0M440.6 61.4a0.75 0.75 0 1 0 1.5 0a0.75 0.75 0 1 0 -1.5 0M460.4 78.1a0.75 0.75 0 1 0 1.5 0a0.75 0.75 0 1 0 -1.5 0M478.0 51.2a0.75 0.75 0 1 0 1.5 0a0.75 0.75 0 1 0 -1.5 0M491.1 18.9a0.75 0.75 0 1 0 1.5 0a0.75 0.75 0 1 0 -1.5 0M409.5 103.8a0.75 0.75 0 1 0 1.5 0a0.75 0.75 0 1 0 -1.5 0M390.4 51.9a0.75 0.75 0 1 0 1.5 0a0.75 0.75 0 1 0 -1.5 0M483.7 108.4a0.75 0.75 0 1 0 1.5 0a0.75 0.75 0 1 0 -1.5 0M419.6 28.6a0.75 0.75 0 1 0 1.5 0a0.75 0.75 0 1 0 -1.5 0M430.5 113.0a0.75 0.75 0 1 0 1.5 0a0.75 0.75 0 1 0 -1.5 0M431.7 24.9a0.75 0.75 0 1 0 1.5 0a0.75 0.75 0 1 0 -1.5 0M481.5 90.3a0.75 0.75 0 1 0 1.5 0a0.75 0.75 0 1 0 -1.5 0M511.1 71.3a0.75 0.75 0 1 0 1.5 0a0.75 0.75 0 1 0 -1.5 0M495.1 52.0a0.75 0.75 0 1 0 1.5 0a0.75 0.75 0 1 0 -1.5 0M424.6 65.8a0.75 0.75 0 1 0 1.5 0a0.75 0.75 0 1 0 -1.5 0M414.6 60.3a0.75 0.75 0 1 0 1.5 0a0.75 0.75 0 1 0 -1.5 0M431.6 60.5a0.75 0.75 0 1 0 1.5 0a0.75 0.75 0 1 0 -1.5 0M436.0 64.0a0.75 0.75 0 1 0 1.5 0a0.75 0.75 0 1 0 -1.5 0M406.8 89.5a0.75 0.75 0 1 0 1.5 0a0.75 0.75 0 1 0 -1.5 0M494.2 86.2a0.75 0.75 0 1 0 1.5 0a0.75 0.75 0 1 0 -1.5 0M499.9 89.4a0.75 0.75 0 1 0 1.5 0a0.75 0.75 0 1 0 -1.5 0M404.2 117.8a0.75 0.75 0 1 0 1.5 0a0.75 0.75 0 1 0 -1.5 0M506.4 48.7a0.75 0.75 0 1 0 1.5 0a0.75 0.75 0 1 0 -1.5 0M381.8 82.6a0.75 0.75 0 1 0 1.5 0a0.75 0.75 0 1 0 -1.5 0M457.5 90.1a0.75 0.75 0 1 0 1.5 0a0.75 0.75 0 1 0 -1.5 0M518.8 102.2a0.75 0.75 0 1 0 1.5 0a0.75 0.75 0 1 0 -1.5 0M495.3 17.2a0.75 0.75 0 1 0 1.5 0a0.75 0.75 0 1 0 -1.5 0M457.9 122.0a0.75 0.75 0 1 0 1.5 0a0.75 0.75 0 1 0 -1.5 0M485.5 138.1a0.75 0.75 0 1 0 1.5 0a0.75 0.75 0 1 0 -1.5 0M390.8 99.7a0.75 0.75 0 1 0 1.5 0a0.75 0.75 0 1 0 -1.5 0M399.4 115.9a0.75 0.75 0 1 0 1.5 0a0.75 0.75 0 1 0 -1.5 0M472.7 43.4a0.75 0.75 0 1 0 1.5 0a0.75 0.75 0 1 0 -1.5 0M410.5 118.7a0.75 0.75 0 1 0 1.5 0a0.75 0.75 0 1 0 -1.5 0M454.2 118.6a0.75 0.75 0 1 0 1.5 0a0.75 0.75 0 1 0 -1.5 0M435.8 56.8a0.75 0.75 0 1 0 1.5 0a0.75 0.75 0 1 0 -1.5 0M519.0 105.3a0.75 0.75 0 1 0 1.5 0a0.75 0.75 0 1 0 -1.5 0M450.2 85.7a0.75 0.75 0 1 0 1.5 0a0.75 0.75 0 1 0 -1.5 0M483.2 110.4a0.75 0.75 0 1 0 1.5 0a0.75 0.75 0 1 0 -1.5 0M511.3 67.4a0.75 0.75 0 1 0 1.5 0a0.75 0.75 0 1 0 -1.5 0M498.4 104.4a0.75 0.75 0 1 0 1.5 0a0.75 0.75 0 1 0 -1.5 0M502.4 124.6a0.75 0.75 0 1 0 1.5 0a0.75 0.75 0 1 0 -1.5 0M499.5 136.6a0.75 0.75 0 1 0 1.5 0a0.75 0.75 0 1 0 -1.5 0M517.5 100.6a0.75 0.75 0 1 0 1.5 0a0.75 0.75 0 1 0 -1.5 0M454.6 110.7a0.75 0.75 0 1 0 1.5 0a0.75 0.75 0 1 0 -1.5 0M495.0 68.9a0.75 0.75 0 1 0 1.5 0a0.75 0.75 0 1 0 -1.5 0M439.6 29.1a0.75 0.75 0 1 0 1.5 0a0.75 0.75 0 1 0 -1.5 0M433.0 32.2a0.75 0.75 0 1 0 1.5 0a0.75 0.75 0 1 0 -1.5 0M408.2 69.4a0.75 0.75 0 1 0 1.5 0a0.75 0.75 0 1 0 -1.5 0M420.9 148.3a0.75 0.75 0 1 0 1.5 0a0.75 0.75 0 1 0 -1.5 0M387.1 52.6a0.75 0.75 0 1 0 1.5 0a0.75 0.75 0 1 0 -1.5 0M395.2 101.7a0.75 0.75 0 1 0 1.5 0a0.75 0.75 0 1 0 -1.5 0M491.1 33.9a0.75 0.75 0 1 0 1.5 0a0.75 0.75 0 1 0 -1.5 0M387.6 74.3a0.75 0.75 0 1 0 1.5 0a0.75 0.75 0 1 0 -1.5 0M463.3 139.6a0.75 0.75 0 1 0 1.5 0a0.75 0.75 0 1 0 -1.5 0M405.3 39.4a0.75 0.75 0 1 0 1.5 0a0.75 0.75 0 1 0 -1.5 0M412.7 111.8a0.75 0.75 0 1 0 1.5 0a0.75 0.75 0 1 0 -1.5 0M464.9 40.3a0.75 0.75 0 1 0 1.5 0a0.75 0.75 0 1 0 -1.5 0M405.4 48.6a0.75 0.75 0 1 0 1.5 0a0.75 0.75 0 1 0 -1.5 0M403.6 117.6a0.75 0.75 0 1 0 1.5 0a0.75 0.75 0 1 0 -1.5 0M423.8 87.3a0.75 0.75 0 1 0 1.5 0a0.75 0.75 0 1 0 -1.5 0M497.1 77.3a0.75 0.75 0 1 0 1.5 0a0.75 0.75 0 1 0 -1.5 0M416.3 136.4a0.75 0.75 0 1 0 1.5 0a0.75 0.75 0 1 0 -1.5 0M511.2 57.4a0.75 0.75 0 1 0 1.5 0a0.75 0.75 0 1 0 -1.5 0M458.0 146.5a0.75 0.75 0 1 0 1.5 0a0.75 0.75 0 1 0 -1.5 0M448.6 39.9a0.75 0.75 0 1 0 1.5 0a0.75 0.75 0 1 0 -1.5 0M494.8 63.6a0.75 0.75 0 1 0 1.5 0a0.75 0.75 0 1 0 -1.5 0M455.1 82.6a0.75 0.75 0 1 0 1.5 0a0.75 0.75 0 1 0 -1.5 0M474.0 42.3a0.75 0.75 0 1 0 1.5 0a0.75 0.75 0 1 0 -1.5 0M380.1 76.3a0.75 0.75 0 1 0 1.5 0a0.75 0.75 0 1 0 -1.5 0M432.5 123.3a0.75 0.75 0 1 0 1.5 0a0.75 0.75 0 1 0 -1.5 0M482.0 95.7a0.75 0.75 0 1 0 1.5 0a0.75 0.75 0 1 0 -1.5 0M401.4 30.6a0.75 0.75 0 1 0 1.5 0a0.75 0.75 0 1 0 -1.5 0M425.2 45.5a0.75 0.75 0 1 0 1.5 0a0.75 0.75 0 1 0 -1.5 0M504.7 82.6a0.75 0.75 0 1 0 1.5 0a0.75 0.75 0 1 0 -1.5 0M471.0 151.7a0.75 0.75 0 1 0 1.5 0a0.75 0.75 0 1 0 -1.5 0M417.2 85.3a0.75 0.75 0 1 0 1.5 0a0.75 0.75 0 1 0 -1.5 0M400.4 119.5a0.75 0.75 0 1 0 1.5 0a0.75 0.75 0 1 0 -1.5 0M501.3 126.9a0.75 0.75 0 1 0 1.5 0a0.75 0.75 0 1 0 -1.5 0M390.5 47.0a0.75 0.75 0 1 0 1.5 0a0.75 0.75 0 1 0 -1.5 0M482.5 22.0a0.75 0.75 0 1 0 1.5 0a0.75 0.75 0 1 0 -1.5 0M448.2 75.8a0.75 0.75 0 1 0 1.5 0a0.75 0.75 0 1 0 -1.5 0M517.2 92.8a0.75 0.75 0 1 0 1.5 0a0.75 0.75 0 1 0 -1.5 0M503.0 51.9a0.75 0.75 0 1 0 1.5 0a0.75 0.75 0 1 0 -1.5 0M493.1 68.3a0.75 0.75 0 1 0 1.5 0a0.75 0.75 0 1 0 -1.5 0M498.4 38.1a0.75 0.75 0 1 0 1.5 0a0.75 0.75 0 1 0 -1.5 0M457.4 84.0a0.75 0.75 0 1 0 1.5 0a0.75 0.75 0 1 0 -1.5 0M401.4 128.4a0.75 0.75 0 1 0 1.5 0a0.75 0.75 0 1 0 -1.5 0M423.7 52.9a0.75 0.75 0 1 0 1.5 0a0.75 0.75 0 1 0 -1.5 0M389.6 52.2a0.75 0.75 0 1 0 1.5 0a0.75 0.75 0 1 0 -1.5 0M446.3 111.5a0.75 0.75 0 1 0 1.5 0a0.75 0.75 0 1 0 -1.5 0M430.7 107.4a0.75 0.75 0 1 0 1.5 0a0.75 0.75 0 1 0 -1.5 0M393.9 65.0a0.75 0.75 0 1 0 1.5 0a0.75 0.75 0 1 0 -1.5 0M445.6 147.9a0.75 0.75 0 1 0 1.5 0a0.75 0.75 0 1 0 -1.5 0M498.9 102.6a0.75 0.75 0 1 0 1.5 0a0.75 0.75 0 1 0 -1.5 0M380.3 62.5a0.75 0.75 0 1 0 1.5 0a0.75 0.75 0 1 0 -1.5 0M481.6 42.3a0.75 0.75 0 1 0 1.5 0a0.75 0.75 0 1 0 -1.5 0M460.4 74.2a0.75 0.75 0 1 0 1.5 0a0.75 0.75 0 1 0 -1.5 0M494.6 37.8a0.75 0.75 0 1 0 1.5 0a0.75 0.75 0 1 0 -1.5 0M467.9 49.9a0.75 0.75 0 1 0 1.5 0a0.75 0.75 0 1 0 -1.5 0M433.1 86.1a0.75 0.75 0 1 0 1.5 0a0.75 0.75 0 1 0 -1.5 0M421.8 56.8a0.75 0.75 0 1 0 1.5 0a0.75 0.75 0 1 0 -1.5 0M435.5 104.4a0.75 0.75 0 1 0 1.5 0a0.75 0.75 0 1 0 -1.5 0M415.8 36.9a0.75 0.75 0 1 0 1.5 0a0.75 0.75 0 1 0 -1.5 0M484.7 55.6a0.75 0.75 0 1 0 1.5 0a0.75 0.75 0 1 0 -1.5 0M515.7 89.4a0.75 0.75 0 1 0 1.5 0a0.75 0.75 0 1 0 -1.5 0M483.6 55.9a0.75 0.75 0 1 0 1.5 0a0.75 0.75 0 1 0 -1.5 0M498.5 21.3a0.75 0.75 0 1 0 1.5 0a0.75 0.75 0 1 0 -1.5 0M476.9 110.5a0.75 0.75 0 1 0 1.5 0a0.75 0.75 0 1 0 -1.5 0M404.6 66.2a0.75 0.75 0 1 0 1.5 0a0.75 0.75 0 1 0 -1.5 0M500.0 93.7a0.75 0.75 0 1 0 1.5 0a0.75 0.75 0 1 0 -1.5 0M391.6 40.7a0.75 0.75 0 1 0 1.5 0a0.75 0.75 0 1 0 -1.5 0M401.3 25.9a0.75 0.75 0 1 0 1.5 0a0.75 0.75 0 1 0 -1.5 0M437.6 18.4a0.75 0.75 0 1 0 1.5 0a0.75 0.75 0 1 0 -1.5 0M512.1 69.7a0.75 0.75 0 1 0 1.5 0a0.75 0.75 0 1 0 -1.5 0M452.8 101.6a0.75 0.75 0 1 0 1.5 0a0.75 0.75 0 1 0 -1.5 0M489.8 126.8a0.75 0.75 0 1 0 1.5 0a0.75 0.75 0 1 0 -1.5 0M434.6 55.9a0.75 0.75 0 1 0 1.5 0a0.75 0.75 0 1 0 -1.5 0M438.4 10.1a0.75 0.75 0 1 0 1.5 0a0.75 0.75 0 1 0 -1.5 0M436.7 109.2a0.75 0.75 0 1 0 1.5 0a0.75 0.75 0 1 0 -1.5 0M474.3 96.0a0.75 0.75 0 1 0 1.5 0a0.75 0.75 0 1 0 -1.5 0M381.2 55.8a0.75 0.75 0 1 0 1.5 0a0.75 0.75 0 1 0 -1.5 0M428.2 102.1a0.75 0.75 0 1 0 1.5 0a0.75 0.75 0 1 0 -1.5 0M394.0 62.6a0.75 0.75 0 1 0 1.5 0a0.75 0.75 0 1 0 -1.5 0M452.5 122.1a0.75 0.75 0 1 0 1.5 0a0.75 0.75 0 1 0 -1.5 0M498.3 96.4a0.75 0.75 0 1 0 1.5 0a0.75 0.75 0 1 0 -1.5 0M401.5 118.9a0.75 0.75 0 1 0 1.5 0a0.75 0.75 0 1 0 -1.5 0M509.6 87.3a0.75 0.75 0 1 0 1.5 0a0.75 0.75 0 1 0 -1.5 0M429.7 80.4a0.75 0.75 0 1 0 1.5 0a0.75 0.75 0 1 0 -1.5 0M399.1 111.2a0.75 0.75 0 1 0 1.5 0a0.75 0.75 0 1 0 -1.5 0M521.7 82.6a0.75 0.75 0 1 0 1.5 0a0.75 0.75 0 1 0 -1.5 0M482.4 128.9a0.75 0.75 0 1 0 1.5 0a0.75 0.75 0 1 0 -1.5 0M469.5 36.6a0.75 0.75 0 1 0 1.5 0a0.75 0.75 0 1 0 -1.5 0M390.6 43.3a0.75 0.75 0 1 0 1.5 0a0.75 0.75 0 1 0 -1.5 0M462.2 108.8a0.75 0.75 0 1 0 1.5 0a0.75 0.75 0 1 0 -1.5 0M426.3 142.4a0.75 0.75 0 1 0 1.5 0a0.75 0.75 0 1 0 -1.5 0M431.0 74.9a0.75 0.75 0 1 0 1.5 0a0.75 0.75 0 1 0 -1.5 0M457.4 89.1a0.75 0.75 0 1 0 1.5 0a0.75 0.75 0 1 0 -1.5 0M459.9 46.2a0.75 0.75 0 1 0 1.5 0a0.75 0.75 0 1 0 -1.5 0M497.2 95.0a0.75 0.75 0 1 0 1.5 0a0.75 0.75 0 1 0 -1.5 0M396.3 127.3a0.75 0.75 0 1 0 1.5 0a0.75 0.75 0 1 0 -1.5 0M420.4 137.8a0.75 0.75 0 1 0 1.5 0a0.75 0.75 0 1 0 -1.5 0M413.5 91.0a0.75 0.75 0 1 0 1.5 0a0.75 0.75 0 1 0 -1.5 0M499.1 34.8a0.75 0.75 0 1 0 1.5 0a0.75 0.75 0 1 0 -1.5 0M458.0 18.9a0.75 0.75 0 1 0 1.5 0a0.75 0.75 0 1 0 -1.5 0M474.1 52.4a0.75 0.75 0 1 0 1.5 0a0.75 0.75 0 1 0 -1.5 0M475.9 114.7a0.75 0.75 0 1 0 1.5 0a0.75 0.75 0 1 0 -1.5 0M433.9 93.6a0.75 0.75 0 1 0 1.5 0a0.75 0.75 0 1 0 -1.5 0M407.5 75.7a0.75 0.75 0 1 0 1.5 0a0.75 0.75 0 1 0 -1.5 0M399.3 63.8a0.75 0.75 0 1 0 1.5 0a0.75 0.75 0 1 0 -1.5 0M461.2 33.1a0.75 0.75 0 1 0 1.5 0a0.75 0.75 0 1 0 -1.5 0M454.0 46.1a0.75 0.75 0 1 0 1.5 0a0.75 0.75 0 1 0 -1.5 0M461.0 56.0a0.75 0.75 0 1 0 1.5 0a0.75 0.75 0 1 0 -1.5 0M471.7 13.4a0.75 0.75 0 1 0 1.5 0a0.75 0.75 0 1 0 -1.5 0M475.9 28.9a0.75 0.75 0 1 0 1.5 0a0.75 0.75 0 1 0 -1.5 0M517.7 94.8a0.75 0.75 0 1 0 1.5 0a0.75 0.75 0 1 0 -1.5 0M446.7 67.5a0.75 0.75 0 1 0 1.5 0a0.75 0.75 0 1 0 -1.5 0M469.1 107.7a0.75 0.75 0 1 0 1.5 0a0.75 0.75 0 1 0 -1.5 0M488.5 116.7a0.75 0.75 0 1 0 1.5 0a0.75 0.75 0 1 0 -1.5 0M449.0 151.9a0.75 0.75 0 1 0 1.5 0a0.75 0.75 0 1 0 -1.5 0M500.2 131.7a0.75 0.75 0 1 0 1.5 0a0.75 0.75 0 1 0 -1.5 0M437.9 70.7a0.75 0.75 0 1 0 1.5 0a0.75 0.75 0 1 0 -1.5 0M460.7 139.0a0.75 0.75 0 1 0 1.5 0a0.75 0.75 0 1 0 -1.5 0M454.9 83.9a0.75 0.75 0 1 0 1.5 0a0.75 0.75 0 1 0 -1.5 0M441.3 138.8a0.75 0.75 0 1 0 1.5 0a0.75 0.75 0 1 0 -1.5 0M425.1 15.8a0.75 0.75 0 1 0 1.5 0a0.75 0.75 0 1 0 -1.5 0M483.8 138.2a0.75 0.75 0 1 0 1.5 0a0.75 0.75 0 1 0 -1.5 0M484.8 94.4a0.75 0.75 0 1 0 1.5 0a0.75 0.75 0 1 0 -1.5 0M487.6 52.0a0.75 0.75 0 1 0 1.5 0a0.75 0.75 0 1 0 -1.5 0M464.7 18.0a0.75 0.75 0 1 0 1.5 0a0.75 0.75 0 1 0 -1.5 0M396.6 72.6a0.75 0.75 0 1 0 1.5 0a0.75 0.75 0 1 0 -1.5 0M451.5 65.3a0.75 0.75 0 1 0 1.5 0a0.75 0.75 0 1 0 -1.5 0M386.1 108.5a0.75 0.75 0 1 0 1.5 0a0.75 0.75 0 1 0 -1.5 0M454.9 42.5a0.75 0.75 0 1 0 1.5 0a0.75 0.75 0 1 0 -1.5 0M423.0 65.2a0.75 0.75 0 1 0 1.5 0a0.75 0.75 0 1 0 -1.5 0M412.8 17.8a0.75 0.75 0 1 0 1.5 0a0.75 0.75 0 1 0 -1.5 0M475.1 133.4a0.75 0.75 0 1 0 1.5 0a0.75 0.75 0 1 0 -1.5 0M439.7 124.5a0.75 0.75 0 1 0 1.5 0a0.75 0.75 0 1 0 -1.5 0M410.7 116.0a0.75 0.75 0 1 0 1.5 0a0.75 0.75 0 1 0 -1.5 0M460.8 138.7a0.75 0.75 0 1 0 1.5 0a0.75 0.75 0 1 0 -1.5 0M392.9 122.6a0.75 0.75 0 1 0 1.5 0a0.75 0.75 0 1 0 -1.5 0M396.5 85.7a0.75 0.75 0 1 0 1.5 0a0.75 0.75 0 1 0 -1.5 0M413.9 51.2a0.75 0.75 0 1 0 1.5 0a0.75 0.75 0 1 0 -1.5 0M425.7 17.0a0.75 0.75 0 1 0 1.5 0a0.75 0.75 0 1 0 -1.5 0M508.4 126.0a0.75 0.75 0 1 0 1.5 0a0.75 0.75 0 1 0 -1.5 0M436.2 59.5a0.75 0.75 0 1 0 1.5 0a0.75 0.75 0 1 0 -1.5 0M463.5 14.5a0.75 0.75 0 1 0 1.5 0a0.75 0.75 0 1 0 -1.5 0M423.2 80.1a0.75 0.75 0 1 0 1.5 0a0.75 0.75 0 1 0 -1.5 0M447.1 37.8a0.75 0.75 0 1 0 1.5 0a0.75 0.75 0 1 0 -1.5 0M421.4 141.5a0.75 0.75 0 1 0 1.5 0a0.75 0.75 0 1 0 -1.5 0M508.7 36.2a0.75 0.75 0 1 0 1.5 0a0.75 0.75 0 1 0 -1.5 0M500.1 59.2a0.75 0.75 0 1 0 1.5 0a0.75 0.75 0 1 0 -1.5 0M447.1 32.8a0.75 0.75 0 1 0 1.5 0a0.75 0.75 0 1 0 -1.5 0M407.9 99.5a0.75 0.75 0 1 0 1.5 0a0.75 0.75 0 1 0 -1.5 0M406.3 135.3a0.75 0.75 0 1 0 1.5 0a0.75 0.75 0 1 0 -1.5 0M483.9 53.2a0.75 0.75 0 1 0 1.5 0a0.75 0.75 0 1 0 -1.5 0M482.0 27.4a0.75 0.75 0 1 0 1.5 0a0.75 0.75 0 1 0 -1.5 0M479.5 143.7a0.75 0.75 0 1 0 1.5 0a0.75 0.75 0 1 0 -1.5 0M443.1 19.3a0.75 0.75 0 1 0 1.5 0a0.75 0.75 0 1 0 -1.5 0M410.9 52.4a0.75 0.75 0 1 0 1.5 0a0.75 0.75 0 1 0 -1.5 0M481.6 36.3a0.75 0.75 0 1 0 1.5 0a0.75 0.75 0 1 0 -1.5 0M404.8 42.0a0.75 0.75 0 1 0 1.5 0a0.75 0.75 0 1 0 -1.5 0M475.0 122.4a0.75 0.75 0 1 0 1.5 0a0.75 0.75 0 1 0 -1.5 0M432.6 103.8a0.75 0.75 0 1 0 1.5 0a0.75 0.75 0 1 0 -1.5 0M506.9 93.3a0.75 0.75 0 1 0 1.5 0a0.75 0.75 0 1 0 -1.5 0M411.8 51.5a0.75 0.75 0 1 0 1.5 0a0.75 0.75 0 1 0 -1.5 0M513.0 104.5a0.75 0.75 0 1 0 1.5 0a0.75 0.75 0 1 0 -1.5 0M418.7 100.6a0.75 0.75 0 1 0 1.5 0a0.75 0.75 0 1 0 -1.5 0M442.4 84.4a0.75 0.75 0 1 0 1.5 0a0.75 0.75 0 1 0 -1.5 0M455.6 14.5a0.75 0.75 0 1 0 1.5 0a0.75 0.75 0 1 0 -1.5 0M465.6 49.1a0.75 0.75 0 1 0 1.5 0a0.75 0.75 0 1 0 -1.5 0M415.0 124.2a0.75 0.75 0 1 0 1.5 0a0.75 0.75 0 1 0 -1.5 0M391.2 49.2a0.75 0.75 0 1 0 1.5 0a0.75 0.75 0 1 0 -1.5 0M488.2 43.5a0.75 0.75 0 1 0 1.5 0a0.75 0.75 0 1 0 -1.5 0M419.0 87.3a0.75 0.75 0 1 0 1.5 0a0.75 0.75 0 1 0 -1.5 0M405.6 137.8a0.75 0.75 0 1 0 1.5 0a0.75 0.75 0 1 0 -1.5 0M445.5 116.6a0.75 0.75 0 1 0 1.5 0a0.75 0.75 0 1 0 -1.5 0M434.4 142.5a0.75 0.75 0 1 0 1.5 0a0.75 0.75 0 1 0 -1.5 0M451.1 33.9a0.75 0.75 0 1 0 1.5 0a0.75 0.75 0 1 0 -1.5 0M459.2 101.3a0.75 0.75 0 1 0 1.5 0a0.75 0.75 0 1 0 -1.5 0M430.7 103.2a0.75 0.75 0 1 0 1.5 0a0.75 0.75 0 1 0 -1.5 0M492.2 82.7a0.75 0.75 0 1 0 1.5 0a0.75 0.75 0 1 0 -1.5 0M451.9 130.3a0.75 0.75 0 1 0 1.5 0a0.75 0.75 0 1 0 -1.5 0M477.8 83.3a0.75 0.75 0 1 0 1.5 0a0.75 0.75 0 1 0 -1.5 0M491.7 31.8a0.75 0.75 0 1 0 1.5 0a0.75 0.75 0 1 0 -1.5 0M466.8 42.0a0.75 0.75 0 1 0 1.5 0a0.75 0.75 0 1 0 -1.5 0M442.5 119.8a0.75 0.75 0 1 0 1.5 0a0.75 0.75 0 1 0 -1.5 0M492.7 122.5a0.75 0.75 0 1 0 1.5 0a0.75 0.75 0 1 0 -1.5 0M412.8 78.7a0.75 0.75 0 1 0 1.5 0a0.75 0.75 0 1 0 -1.5 0M410.7 91.9a0.75 0.75 0 1 0 1.5 0a0.75 0.75 0 1 0 -1.5 0M450.9 13.0a0.75 0.75 0 1 0 1.5 0a0.75 0.75 0 1 0 -1.5 0M465.1 111.4a0.75 0.75 0 1 0 1.5 0a0.75 0.75 0 1 0 -1.5 0M461.6 134.3a0.75 0.75 0 1 0 1.5 0a0.75 0.75 0 1 0 -1.5 0M404.7 29.9a0.75 0.75 0 1 0 1.5 0a0.75 0.75 0 1 0 -1.5 0M381.1 79.7a0.75 0.75 0 1 0 1.5 0a0.75 0.75 0 1 0 -1.5 0M441.6 71.9a0.75 0.75 0 1 0 1.5 0a0.75 0.75 0 1 0 -1.5 0M416.7 123.5a0.75 0.75 0 1 0 1.5 0a0.75 0.75 0 1 0 -1.5 0M461.1 86.6a0.75 0.75 0 1 0 1.5 0a0.75 0.75 0 1 0 -1.5 0M493.4 42.4a0.75 0.75 0 1 0 1.5 0a0.75 0.75 0 1 0 -1.5 0M399.8 52.9a0.75 0.75 0 1 0 1.5 0a0.75 0.75 0 1 0 -1.5 0M384.7 53.4a0.75 0.75 0 1 0 1.5 0a0.75 0.75 0 1 0 -1.5 0M468.7 84.0a0.75 0.75 0 1 0 1.5 0a0.75 0.75 0 1 0 -1.5 0M417.0 93.1a0.75 0.75 0 1 0 1.5 0a0.75 0.75 0 1 0 -1.5 0M403.4 44.8a0.75 0.75 0 1 0 1.5 0a0.75 0.75 0 1 0 -1.5 0M401.7 107.9a0.75 0.75 0 1 0 1.5 0a0.75 0.75 0 1 0 -1.5 0M499.1 121.8a0.75 0.75 0 1 0 1.5 0a0.75 0.75 0 1 0 -1.5 0M387.4 67.4a0.75 0.75 0 1 0 1.5 0a0.75 0.75 0 1 0 -1.5 0M431.4 39.2a0.75 0.75 0 1 0 1.5 0a0.75 0.75 0 1 0 -1.5 0M449.6 118.1a0.75 0.75 0 1 0 1.5 0a0.75 0.75 0 1 0 -1.5 0M444.6 115.8a0.75 0.75 0 1 0 1.5 0a0.75 0.75 0 1 0 -1.5 0M507.7 28.4a0.75 0.75 0 1 0 1.5 0a0.75 0.75 0 1 0 -1.5 0M435.6 51.1a0.75 0.75 0 1 0 1.5 0a0.75 0.75 0 1 0 -1.5 0M440.1 19.0a0.75 0.75 0 1 0 1.5 0a0.75 0.75 0 1 0 -1.5 0M489.3 114.2a0.75 0.75 0 1 0 1.5 0a0.75 0.75 0 1 0 -1.5 0M411.9 44.6a0.75 0.75 0 1 0 1.5 0a0.75 0.75 0 1 0 -1.5 0M458.6 42.9a0.75 0.75 0 1 0 1.5 0a0.75 0.75 0 1 0 -1.5 0M445.5 142.9a0.75 0.75 0 1 0 1.5 0a0.75 0.75 0 1 0 -1.5 0M431.4 56.7a0.75 0.75 0 1 0 1.5 0a0.75 0.75 0 1 0 -1.5 0M520.9 96.4a0.75 0.75 0 1 0 1.5 0a0.75 0.75 0 1 0 -1.5 0M384.3 66.3a0.75 0.75 0 1 0 1.5 0a0.75 0.75 0 1 0 -1.5 0M472.8 16.4a0.75 0.75 0 1 0 1.5 0a0.75 0.75 0 1 0 -1.5 0M428.3 108.5a0.75 0.75 0 1 0 1.5 0a0.75 0.75 0 1 0 -1.5 0M504.0 93.4a0.75 0.75 0 1 0 1.5 0a0.75 0.75 0 1 0 -1.5 0M507.2 74.9a0.75 0.75 0 1 0 1.5 0a0.75 0.75 0 1 0 -1.5 0M435.6 130.0a0.75 0.75 0 1 0 1.5 0a0.75 0.75 0 1 0 -1.5 0M433.9 121.0a0.75 0.75 0 1 0 1.5 0a0.75 0.75 0 1 0 -1.5 0M409.8 58.2a0.75 0.75 0 1 0 1.5 0a0.75 0.75 0 1 0 -1.5 0M405.2 87.5a0.75 0.75 0 1 0 1.5 0a0.75 0.75 0 1 0 -1.5 0M402.3 37.4a0.75 0.75 0 1 0 1.5 0a0.75 0.75 0 1 0 -1.5 0M409.7 75.6a0.75 0.75 0 1 0 1.5 0a0.75 0.75 0 1 0 -1.5 0M423.3 72.6a0.75 0.75 0 1 0 1.5 0a0.75 0.75 0 1 0 -1.5 0M522.7 106.2a0.75 0.75 0 1 0 1.5 0a0.75 0.75 0 1 0 -1.5 0M503.7 37.5a0.75 0.75 0 1 0 1.5 0a0.75 0.75 0 1 0 -1.5 0M434.1 18.4a0.75 0.75 0 1 0 1.5 0a0.75 0.75 0 1 0 -1.5 0M478.9 60.4a0.75 0.75 0 1 0 1.5 0a0.75 0.75 0 1 0 -1.5 0M405.0 45.9a0.75 0.75 0 1 0 1.5 0a0.75 0.75 0 1 0 -1.5 0M435.6 141.6a0.75 0.75 0 1 0 1.5 0a0.75 0.75 0 1 0 -1.5 0M482.3 46.8a0.75 0.75 0 1 0 1.5 0a0.75 0.75 0 1 0 -1.5 0M430.9 30.1a0.75 0.75 0 1 0 1.5 0a0.75 0.75 0 1 0 -1.5 0M514.5 60.0a0.75 0.75 0 1 0 1.5 0a0.75 0.75 0 1 0 -1.5 0M489.7 112.7a0.75 0.75 0 1 0 1.5 0a0.75 0.75 0 1 0 -1.5 0M425.3 63.6a0.75 0.75 0 1 0 1.5 0a0.75 0.75 0 1 0 -1.5 0M425.7 119.5a0.75 0.75 0 1 0 1.5 0a0.75 0.75 0 1 0 -1.5 0M453.9 15.9a0.75 0.75 0 1 0 1.5 0a0.75 0.75 0 1 0 -1.5 0M435.7 42.4a0.75 0.75 0 1 0 1.5 0a0.75 0.75 0 1 0 -1.5 0M464.9 12.5a0.75 0.75 0 1 0 1.5 0a0.75 0.75 0 1 0 -1.5 0M423.9 69.3a0.75 0.75 0 1 0 1.5 0a0.75 0.75 0 1 0 -1.5 0M457.5 27.6a0.75 0.75 0 1 0 1.5 0a0.75 0.75 0 1 0 -1.5 0M481.1 45.6a0.75 0.75 0 1 0 1.5 0a0.75 0.75 0 1 0 -1.5 0M483.8 104.4a0.75 0.75 0 1 0 1.5 0a0.75 0.75 0 1 0 -1.5 0M399.9 37.6a0.75 0.75 0 1 0 1.5 0a0.75 0.75 0 1 0 -1.5 0M419.2 111.1a0.75 0.75 0 1 0 1.5 0a0.75 0.75 0 1 0 -1.5 0M437.4 63.9a0.75 0.75 0 1 0 1.5 0a0.75 0.75 0 1 0 -1.5 0M504.2 40.6a0.75 0.75 0 1 0 1.5 0a0.75 0.75 0 1 0 -1.5 0M420.9 57.8a0.75 0.75 0 1 0 1.5 0a0.75 0.75 0 1 0 -1.5 0M382.1 99.2a0.75 0.75 0 1 0 1.5 0a0.75 0.75 0 1 0 -1.5 0M460.7 125.0a0.75 0.75 0 1 0 1.5 0a0.75 0.75 0 1 0 -1.5 0M520.1 51.1a0.75 0.75 0 1 0 1.5 0a0.75 0.75 0 1 0 -1.5 0M475.8 141.0a0.75 0.75 0 1 0 1.5 0a0.75 0.75 0 1 0 -1.5 0M409.9 107.7a0.75 0.75 0 1 0 1.5 0a0.75 0.75 0 1 0 -1.5 0M475.3 146.2a0.75 0.75 0 1 0 1.5 0a0.75 0.75 0 1 0 -1.5 0M504.6 41.9a0.75 0.75 0 1 0 1.5 0a0.75 0.75 0 1 0 -1.5 0M470.3 20.9a0.75 0.75 0 1 0 1.5 0a0.75 0.75 0 1 0 -1.5 0M440.6 64.7a0.75 0.75 0 1 0 1.5 0a0.75 0.75 0 1 0 -1.5 0M387.3 63.4a0.75 0.75 0 1 0 1.5 0a0.75 0.75 0 1 0 -1.5 0M426.2 79.9a0.75 0.75 0 1 0 1.5 0a0.75 0.75 0 1 0 -1.5 0M419.2 30.9a0.75 0.75 0 1 0 1.5 0a0.75 0.75 0 1 0 -1.5 0M436.9 76.7a0.75 0.75 0 1 0 1.5 0a0.75 0.75 0 1 0 -1.5 0M402.7 104.2a0.75 0.75 0 1 0 1.5 0a0.75 0.75 0 1 0 -1.5 0M413.3 21.4a0.75 0.75 0 1 0 1.5 0a0.75 0.75 0 1 0 -1.5 0M428.2 69.0a0.75 0.75 0 1 0 1.5 0a0.75 0.75 0 1 0 -1.5 0M400.4 92.3a0.75 0.75 0 1 0 1.5 0a0.75 0.75 0 1 0 -1.5 0M480.3 88.0a0.75 0.75 0 1 0 1.5 0a0.75 0.75 0 1 0 -1.5 0M480.1 11.2a0.75 0.75 0 1 0 1.5 0a0.75 0.75 0 1 0 -1.5 0M435.3 60.6a0.75 0.75 0 1 0 1.5 0a0.75 0.75 0 1 0 -1.5 0M387.7 66.5a0.75 0.75 0 1 0 1.5 0a0.75 0.75 0 1 0 -1.5 0M386.5 79.7a0.75 0.75 0 1 0 1.5 0a0.75 0.75 0 1 0 -1.5 0M463.6 75.8a0.75 0.75 0 1 0 1.5 0a0.75 0.75 0 1 0 -1.5 0M425.8 44.6a0.75 0.75 0 1 0 1.5 0a0.75 0.75 0 1 0 -1.5 0M382.0 58.2a0.75 0.75 0 1 0 1.5 0a0.75 0.75 0 1 0 -1.5 0M507.9 89.8a0.75 0.75 0 1 0 1.5 0a0.75 0.75 0 1 0 -1.5 0M416.6 104.6a0.75 0.75 0 1 0 1.5 0a0.75 0.75 0 1 0 -1.5 0M405.5 75.8a0.75 0.75 0 1 0 1.5 0a0.75 0.75 0 1 0 -1.5 0M467.8 146.1a0.75 0.75 0 1 0 1.5 0a0.75 0.75 0 1 0 -1.5 0M431.2 91.3a0.75 0.75 0 1 0 1.5 0a0.75 0.75 0 1 0 -1.5 0M515.3 119.6a0.75 0.75 0 1 0 1.5 0a0.75 0.75 0 1 0 -1.5 0M469.6 97.8a0.75 0.75 0 1 0 1.5 0a0.75 0.75 0 1 0 -1.5 0M438.2 68.1a0.75 0.75 0 1 0 1.5 0a0.75 0.75 0 1 0 -1.5 0M418.6 128.0a0.75 0.75 0 1 0 1.5 0a0.75 0.75 0 1 0 -1.5 0M506.2 63.2a0.75 0.75 0 1 0 1.5 0a0.75 0.75 0 1 0 -1.5 0M398.3 81.3a0.75 0.75 0 1 0 1.5 0a0.75 0.75 0 1 0 -1.5 0M423.3 60.1a0.75 0.75 0 1 0 1.5 0a0.75 0.75 0 1 0 -1.5 0M406.5 41.0a0.75 0.75 0 1 0 1.5 0a0.75 0.75 0 1 0 -1.5 0M477.2 41.9a0.75 0.75 0 1 0 1.5 0a0.75 0.75 0 1 0 -1.5 0M378.7 86.6a0.75 0.75 0 1 0 1.5 0a0.75 0.75 0 1 0 -1.5 0M435.7 42.6a0.75 0.75 0 1 0 1.5 0a0.75 0.75 0 1 0 -1.5 0M450.2 102.0a0.75 0.75 0 1 0 1.5 0a0.75 0.75 0 1 0 -1.5 0M458.1 98.3a0.75 0.75 0 1 0 1.5 0a0.75 0.75 0 1 0 -1.5 0M459.9 128.2a0.75 0.75 0 1 0 1.5 0a0.75 0.75 0 1 0 -1.5 0M519.1 56.2a0.75 0.75 0 1 0 1.5 0a0.75 0.75 0 1 0 -1.5 0M428.9 136.2a0.75 0.75 0 1 0 1.5 0a0.75 0.75 0 1 0 -1.5 0M424.0 111.6a0.75 0.75 0 1 0 1.5 0a0.75 0.75 0 1 0 -1.5 0M479.5 107.3a0.75 0.75 0 1 0 1.5 0a0.75 0.75 0 1 0 -1.5 0M401.7 97.9a0.75 0.75 0 1 0 1.5 0a0.75 0.75 0 1 0 -1.5 0M449.7 89.5a0.75 0.75 0 1 0 1.5 0a0.75 0.75 0 1 0 -1.5 0M432.2 49.3a0.75 0.75 0 1 0 1.5 0a0.75 0.75 0 1 0 -1.5 0M487.2 85.2a0.75 0.75 0 1 0 1.5 0a0.75 0.75 0 1 0 -1.5 0M412.9 44.0a0.75 0.75 0 1 0 1.5 0a0.75 0.75 0 1 0 -1.5 0M425.7 33.6a0.75 0.75 0 1 0 1.5 0a0.75 0.75 0 1 0 -1.5 0M453.1 26.1a0.75 0.75 0 1 0 1.5 0a0.75 0.75 0 1 0 -1.5 0M393.4 110.0a0.75 0.75 0 1 0 1.5 0a0.75 0.75 0 1 0 -1.5 0M394.9 73.3a0.75 0.75 0 1 0 1.5 0a0.75 0.75 0 1 0 -1.5 0M490.6 77.5a0.75 0.75 0 1 0 1.5 0a0.75 0.75 0 1 0 -1.5 0M402.1 133.3a0.75 0.75 0 1 0 1.5 0a0.75 0.75 0 1 0 -1.5 0M415.4 81.4a0.75 0.75 0 1 0 1.5 0a0.75 0.75 0 1 0 -1.5 0M494.1 64.7a0.75 0.75 0 1 0 1.5 0a0.75 0.75 0 1 0 -1.5 0M482.4 44.4a0.75 0.75 0 1 0 1.5 0a0.75 0.75 0 1 0 -1.5 0M482.4 55.2a0.75 0.75 0 1 0 1.5 0a0.75 0.75 0 1 0 -1.5 0M427.0 117.8a0.75 0.75 0 1 0 1.5 0a0.75 0.75 0 1 0 -1.5 0M500.8 127.9a0.75 0.75 0 1 0 1.5 0a0.75 0.75 0 1 0 -1.5 0M460.9 68.8a0.75 0.75 0 1 0 1.5 0a0.75 0.75 0 1 0 -1.5 0M481.1 98.1a0.75 0.75 0 1 0 1.5 0a0.75 0.75 0 1 0 -1.5 0M499.1 123.9a0.75 0.75 0 1 0 1.5 0a0.75 0.75 0 1 0 -1.5 0M396.7 62.5a0.75 0.75 0 1 0 1.5 0a0.75 0.75 0 1 0 -1.5 0M475.7 41.4a0.75 0.75 0 1 0 1.5 0a0.75 0.75 0 1 0 -1.5 0M463.5 144.2a0.75 0.75 0 1 0 1.5 0a0.75 0.75 0 1 0 -1.5 0M478.3 68.6a0.75 0.75 0 1 0 1.5 0a0.75 0.75 0 1 0 -1.5 0M470.2 65.3a0.75 0.75 0 1 0 1.5 0a0.75 0.75 0 1 0 -1.5 0M385.6 111.2a0.75 0.75 0 1 0 1.5 0a0.75 0.75 0 1 0 -1.5 0M420.1 113.8a0.75 0.75 0 1 0 1.5 0a0.75 0.75 0 1 0 -1.5 0M426.4 11.7a0.75 0.75 0 1 0 1.5 0a0.75 0.75 0 1 0 -1.5 0M457.3 77.8a0.75 0.75 0 1 0 1.5 0a0.75 0.75 0 1 0 -1.5 0M432.7 52.7a0.75 0.75 0 1 0 1.5 0a0.75 0.75 0 1 0 -1.5 0M494.7 129.3a0.75 0.75 0 1 0 1.5 0a0.75 0.75 0 1 0 -1.5 0M419.7 64.6a0.75 0.75 0 1 0 1.5 0a0.75 0.75 0 1 0 -1.5 0M468.2 118.7a0.75 0.75 0 1 0 1.5 0a0.75 0.75 0 1 0 -1.5 0M520.9 64.3a0.75 0.75 0 1 0 1.5 0a0.75 0.75 0 1 0 -1.5 0M479.3 87.0a0.75 0.75 0 1 0 1.5 0a0.75 0.75 0 1 0 -1.5 0M494.7 29.2a0.75 0.75 0 1 0 1.5 0a0.75 0.75 0 1 0 -1.5 0M404.0 23.4a0.75 0.75 0 1 0 1.5 0a0.75 0.75 0 1 0 -1.5 0M514.0 44.3a0.75 0.75 0 1 0 1.5 0a0.75 0.75 0 1 0 -1.5 0M449.4 25.3a0.75 0.75 0 1 0 1.5 0a0.75 0.75 0 1 0 -1.5 0M425.5 10.7a0.75 0.75 0 1 0 1.5 0a0.75 0.75 0 1 0 -1.5 0M460.7 28.7a0.75 0.75 0 1 0 1.5 0a0.75 0.75 0 1 0 -1.5 0M469.3 47.6a0.75 0.75 0 1 0 1.5 0a0.75 0.75 0 1 0 -1.5 0M411.6 77.7a0.75 0.75 0 1 0 1.5 0a0.75 0.75 0 1 0 -1.5 0M431.6 45.5a0.75 0.75 0 1 0 1.5 0a0.75 0.75 0 1 0 -1.5 0M508.1 52.7a0.75 0.75 0 1 0 1.5 0a0.75 0.75 0 1 0 -1.5 0M448.7 152.3a0.75 0.75 0 1 0 1.5 0a0.75 0.75 0 1 0 -1.5 0M407.9 133.5a0.75 0.75 0 1 0 1.5 0a0.75 0.75 0 1 0 -1.5 0M448.8 67.9a0.75 0.75 0 1 0 1.5 0a0.75 0.75 0 1 0 -1.5 0M495.6 65.2a0.75 0.75 0 1 0 1.5 0a0.75 0.75 0 1 0 -1.5 0M386.9 87.6a0.75 0.75 0 1 0 1.5 0a0.75 0.75 0 1 0 -1.5 0M473.9 98.1a0.75 0.75 0 1 0 1.5 0a0.75 0.75 0 1 0 -1.5 0M418.8 143.8a0.75 0.75 0 1 0 1.5 0a0.75 0.75 0 1 0 -1.5 0M442.9 128.6a0.75 0.75 0 1 0 1.5 0a0.75 0.75 0 1 0 -1.5 0M483.7 33.4a0.75 0.75 0 1 0 1.5 0a0.75 0.75 0 1 0 -1.5 0M430.6 117.0a0.75 0.75 0 1 0 1.5 0a0.75 0.75 0 1 0 -1.5 0M423.5 82.4a0.75 0.75 0 1 0 1.5 0a0.75 0.75 0 1 0 -1.5 0M455.1 125.2a0.75 0.75 0 1 0 1.5 0a0.75 0.75 0 1 0 -1.5 0M493.5 114.4a0.75 0.75 0 1 0 1.5 0a0.75 0.75 0 1 0 -1.5 0M436.5 124.2a0.75 0.75 0 1 0 1.5 0a0.75 0.75 0 1 0 -1.5 0M498.6 119.1a0.75 0.75 0 1 0 1.5 0a0.75 0.75 0 1 0 -1.5 0M516.5 66.1a0.75 0.75 0 1 0 1.5 0a0.75 0.75 0 1 0 -1.5 0M480.9 44.2a0.75 0.75 0 1 0 1.5 0a0.75 0.75 0 1 0 -1.5 0M462.2 40.8a0.75 0.75 0 1 0 1.5 0a0.75 0.75 0 1 0 -1.5 0M434.9 61.4a0.75 0.75 0 1 0 1.5 0a0.75 0.75 0 1 0 -1.5 0M473.9 125.3a0.75 0.75 0 1 0 1.5 0a0.75 0.75 0 1 0 -1.5 0M431.5 100.3a0.75 0.75 0 1 0 1.5 0a0.75 0.75 0 1 0 -1.5 0M429.9 48.3a0.75 0.75 0 1 0 1.5 0a0.75 0.75 0 1 0 -1.5 0M509.9 54.5a0.75 0.75 0 1 0 1.5 0a0.75 0.75 0 1 0 -1.5 0M392.2 56.4a0.75 0.75 0 1 0 1.5 0a0.75 0.75 0 1 0 -1.5 0M486.2 38.5a0.75 0.75 0 1 0 1.5 0a0.75 0.75 0 1 0 -1.5 0M486.4 87.0a0.75 0.75 0 1 0 1.5 0a0.75 0.75 0 1 0 -1.5 0M477.3 33.6a0.75 0.75 0 1 0 1.5 0a0.75 0.75 0 1 0 -1.5 0M429.4 70.3a0.75 0.75 0 1 0 1.5 0a0.75 0.75 0 1 0 -1.5 0M379.9 80.7a0.75 0.75 0 1 0 1.5 0a0.75 0.75 0 1 0 -1.5 0M437.1 54.5a0.75 0.75 0 1 0 1.5 0a0.75 0.75 0 1 0 -1.5 0M456.5 145.8a0.75 0.75 0 1 0 1.5 0a0.75 0.75 0 1 0 -1.5 0M408.2 135.4a0.75 0.75 0 1 0 1.5 0a0.75 0.75 0 1 0 -1.5 0M425.1 117.1a0.75 0.75 0 1 0 1.5 0a0.75 0.75 0 1 0 -1.5 0M441.0 147.3a0.75 0.75 0 1 0 1.5 0a0.75 0.75 0 1 0 -1.5 0M410.4 67.0a0.75 0.75 0 1 0 1.5 0a0.75 0.75 0 1 0 -1.5 0M481.0 33.6a0.75 0.75 0 1 0 1.5 0a0.75 0.75 0 1 0 -1.5 0M418.2 106.0a0.75 0.75 0 1 0 1.5 0a0.75 0.75 0 1 0 -1.5 0M516.1 54.6a0.75 0.75 0 1 0 1.5 0a0.75 0.75 0 1 0 -1.5 0M405.2 59.6a0.75 0.75 0 1 0 1.5 0a0.75 0.75 0 1 0 -1.5 0M470.6 62.7a0.75 0.75 0 1 0 1.5 0a0.75 0.75 0 1 0 -1.5 0M472.0 38.6a0.75 0.75 0 1 0 1.5 0a0.75 0.75 0 1 0 -1.5 0M468.0 136.4a0.75 0.75 0 1 0 1.5 0a0.75 0.75 0 1 0 -1.5 0M502.8 98.9a0.75 0.75 0 1 0 1.5 0a0.75 0.75 0 1 0 -1.5 0M451.8 90.1a0.75 0.75 0 1 0 1.5 0a0.75 0.75 0 1 0 -1.5 0M395.1 129.2a0.75 0.75 0 1 0 1.5 0a0.75 0.75 0 1 0 -1.5 0M478.6 73.5a0.75 0.75 0 1 0 1.5 0a0.75 0.75 0 1 0 -1.5 0M475.1 68.6a0.75 0.75 0 1 0 1.5 0a0.75 0.75 0 1 0 -1.5 0M434.4 41.2a0.75 0.75 0 1 0 1.5 0a0.75 0.75 0 1 0 -1.5 0M465.7 90.8a0.75 0.75 0 1 0 1.5 0a0.75 0.75 0 1 0 -1.5 0M453.3 12.6a0.75 0.75 0 1 0 1.5 0a0.75 0.75 0 1 0 -1.5 0M469.6 72.6a0.75 0.75 0 1 0 1.5 0a0.75 0.75 0 1 0 -1.5 0M464.6 94.0a0.75 0.75 0 1 0 1.5 0a0.75 0.75 0 1 0 -1.5 0M446.6 151.7a0.75 0.75 0 1 0 1.5 0a0.75 0.75 0 1 0 -1.5 0M485.6 53.2a0.75 0.75 0 1 0 1.5 0a0.75 0.75 0 1 0 -1.5 0M436.9 133.5a0.75 0.75 0 1 0 1.5 0a0.75 0.75 0 1 0 -1.5 0M449.8 41.8a0.75 0.75 0 1 0 1.5 0a0.75 0.75 0 1 0 -1.5 0M500.5 101.9a0.75 0.75 0 1 0 1.5 0a0.75 0.75 0 1 0 -1.5 0M494.3 82.0a0.75 0.75 0 1 0 1.5 0a0.75 0.75 0 1 0 -1.5 0M504.8 110.9a0.75 0.75 0 1 0 1.5 0a0.75 0.75 0 1 0 -1.5 0M414.9 124.8a0.75 0.75 0 1 0 1.5 0a0.75 0.75 0 1 0 -1.5 0M444.4 85.6a0.75 0.75 0 1 0 1.5 0a0.75 0.75 0 1 0 -1.5 0M504.1 36.3a0.75 0.75 0 1 0 1.5 0a0.75 0.75 0 1 0 -1.5 0M419.1 101.1a0.75 0.75 0 1 0 1.5 0a0.75 0.75 0 1 0 -1.5 0M389.2 88.3a0.75 0.75 0 1 0 1.5 0a0.75 0.75 0 1 0 -1.5 0M492.8 79.0a0.75 0.75 0 1 0 1.5 0a0.75 0.75 0 1 0 -1.5 0M413.6 123.7a0.75 0.75 0 1 0 1.5 0a0.75 0.75 0 1 0 -1.5 0M502.6 119.5a0.75 0.75 0 1 0 1.5 0a0.75 0.75 0 1 0 -1.5 0M458.3 139.0a0.75 0.75 0 1 0 1.5 0a0.75 0.75 0 1 0 -1.5 0M494.2 29.9a0.75 0.75 0 1 0 1.5 0a0.75 0.75 0 1 0 -1.5 0M431.6 22.4a0.75 0.75 0 1 0 1.5 0a0.75 0.75 0 1 0 -1.5 0M383.9 58.0a0.75 0.75 0 1 0 1.5 0a0.75 0.75 0 1 0 -1.5 0M504.0 128.6a0.75 0.75 0 1 0 1.5 0a0.75 0.75 0 1 0 -1.5 0M395.6 34.2a0.75 0.75 0 1 0 1.5 0a0.75 0.75 0 1 0 -1.5 0M434.9 130.9a0.75 0.75 0 1 0 1.5 0a0.75 0.75 0 1 0 -1.5 0M468.1 138.5a0.75 0.75 0 1 0 1.5 0a0.75 0.75 0 1 0 -1.5 0M408.5 99.0a0.75 0.75 0 1 0 1.5 0a0.75 0.75 0 1 0 -1.5 0M505.7 113.3a0.75 0.75 0 1 0 1.5 0a0.75 0.75 0 1 0 -1.5 0M407.1 104.7a0.75 0.75 0 1 0 1.5 0a0.75 0.75 0 1 0 -1.5 0M441.1 10.1a0.75 0.75 0 1 0 1.5 0a0.75 0.75 0 1 0 -1.5 0M427.8 53.6a0.75 0.75 0 1 0 1.5 0a0.75 0.75 0 1 0 -1.5 0M469.9 48.2a0.75 0.75 0 1 0 1.5 0a0.75 0.75 0 1 0 -1.5 0M466.1 108.5a0.75 0.75 0 1 0 1.5 0a0.75 0.75 0 1 0 -1.5 0M404.8 26.4a0.75 0.75 0 1 0 1.5 0a0.75 0.75 0 1 0 -1.5 0M479.2 75.4a0.75 0.75 0 1 0 1.5 0a0.75 0.75 0 1 0 -1.5 0M515.1 96.2a0.75 0.75 0 1 0 1.5 0a0.75 0.75 0 1 0 -1.5 0M430.4 36.3a0.75 0.75 0 1 0 1.5 0a0.75 0.75 0 1 0 -1.5 0M522.9 108.1a0.75 0.75 0 1 0 1.5 0a0.75 0.75 0 1 0 -1.5 0M485.4 60.1a0.75 0.75 0 1 0 1.5 0a0.75 0.75 0 1 0 -1.5 0M423.6 67.0a0.75 0.75 0 1 0 1.5 0a0.75 0.75 0 1 0 -1.5 0M399.8 99.3a0.75 0.75 0 1 0 1.5 0a0.75 0.75 0 1 0 -1.5 0M440.2 126.7a0.75 0.75 0 1 0 1.5 0a0.75 0.75 0 1 0 -1.5 0M437.9 74.0a0.75 0.75 0 1 0 1.5 0a0.75 0.75 0 1 0 -1.5 0M452.0 144.3a0.75 0.75 0 1 0 1.5 0a0.75 0.75 0 1 0 -1.5 0M428.8 109.8a0.75 0.75 0 1 0 1.5 0a0.75 0.75 0 1 0 -1.5 0M412.7 91.8a0.75 0.75 0 1 0 1.5 0a0.75 0.75 0 1 0 -1.5 0M419.9 134.3a0.75 0.75 0 1 0 1.5 0a0.75 0.75 0 1 0 -1.5 0M420.1 131.6a0.75 0.75 0 1 0 1.5 0a0.75 0.75 0 1 0 -1.5 0M476.7 73.8a0.75 0.75 0 1 0 1.5 0a0.75 0.75 0 1 0 -1.5 0M514.0 64.0a0.75 0.75 0 1 0 1.5 0a0.75 0.75 0 1 0 -1.5 0M486.4 95.0a0.75 0.75 0 1 0 1.5 0a0.75 0.75 0 1 0 -1.5 0M443.6 17.2a0.75 0.75 0 1 0 1.5 0a0.75 0.75 0 1 0 -1.5 0M439.4 48.6a0.75 0.75 0 1 0 1.5 0a0.75 0.75 0 1 0 -1.5 0M442.5 146.1a0.75 0.75 0 1 0 1.5 0a0.75 0.75 0 1 0 -1.5 0M421.1 108.5a0.75 0.75 0 1 0 1.5 0a0.75 0.75 0 1 0 -1.5 0M476.1 43.3a0.75 0.75 0 1 0 1.5 0a0.75 0.75 0 1 0 -1.5 0M438.3 27.0a0.75 0.75 0 1 0 1.5 0a0.75 0.75 0 1 0 -1.5 0M508.5 44.3a0.75 0.75 0 1 0 1.5 0a0.75 0.75 0 1 0 -1.5 0M439.6 57.4a0.75 0.75 0 1 0 1.5 0a0.75 0.75 0 1 0 -1.5 0M497.6 131.0a0.75 0.75 0 1 0 1.5 0a0.75 0.75 0 1 0 -1.5 0M464.3 87.0a0.75 0.75 0 1 0 1.5 0a0.75 0.75 0 1 0 -1.5 0M391.4 60.5a0.75 0.75 0 1 0 1.5 0a0.75 0.75 0 1 0 -1.5 0M432.9 112.6a0.75 0.75 0 1 0 1.5 0a0.75 0.75 0 1 0 -1.5 0M475.6 57.7a0.75 0.75 0 1 0 1.5 0a0.75 0.75 0 1 0 -1.5 0M381.9 99.6a0.75 0.75 0 1 0 1.5 0a0.75 0.75 0 1 0 -1.5 0M446.6 60.3a0.75 0.75 0 1 0 1.5 0a0.75 0.75 0 1 0 -1.5 0M446.0 53.7a0.75 0.75 0 1 0 1.5 0a0.75 0.75 0 1 0 -1.5 0M475.9 95.6a0.75 0.75 0 1 0 1.5 0a0.75 0.75 0 1 0 -1.5 0M522.6 65.1a0.75 0.75 0 1 0 1.5 0a0.75 0.75 0 1 0 -1.5 0M498.8 102.0a0.75 0.75 0 1 0 1.5 0a0.75 0.75 0 1 0 -1.5 0M388.2 74.8a0.75 0.75 0 1 0 1.5 0a0.75 0.75 0 1 0 -1.5 0M436.8 102.9a0.75 0.75 0 1 0 1.5 0a0.75 0.75 0 1 0 -1.5 0M408.9 61.5a0.75 0.75 0 1 0 1.5 0a0.75 0.75 0 1 0 -1.5 0M399.3 65.0a0.75 0.75 0 1 0 1.5 0a0.75 0.75 0 1 0 -1.5 0M486.2 20.0a0.75 0.75 0 1 0 1.5 0a0.75 0.75 0 1 0 -1.5 0M402.8 101.9a0.75 0.75 0 1 0 1.5 0a0.75 0.75 0 1 0 -1.5 0M468.9 115.3a0.75 0.75 0 1 0 1.5 0a0.75 0.75 0 1 0 -1.5 0M415.3 125.4a0.75 0.75 0 1 0 1.5 0a0.75 0.75 0 1 0 -1.5 0M484.6 120.3a0.75 0.75 0 1 0 1.5 0a0.75 0.75 0 1 0 -1.5 0M395.9 75.8a0.75 0.75 0 1 0 1.5 0a0.75 0.75 0 1 0 -1.5 0M382.1 58.7a0.75 0.75 0 1 0 1.5 0a0.75 0.75 0 1 0 -1.5 0M456.3 85.2a0.75 0.75 0 1 0 1.5 0a0.75 0.75 0 1 0 -1.5 0M394.7 122.2a0.75 0.75 0 1 0 1.5 0a0.75 0.75 0 1 0 -1.5 0M422.3 81.4a0.75 0.75 0 1 0 1.5 0a0.75 0.75 0 1 0 -1.5 0M396.6 90.1a0.75 0.75 0 1 0 1.5 0a0.75 0.75 0 1 0 -1.5 0M452.9 50.5a0.75 0.75 0 1 0 1.5 0a0.75 0.75 0 1 0 -1.5 0M491.4 43.6a0.75 0.75 0 1 0 1.5 0a0.75 0.75 0 1 0 -1.5 0M438.6 15.8a0.75 0.75 0 1 0 1.5 0a0.75 0.75 0 1 0 -1.5 0M410.1 73.3a0.75 0.75 0 1 0 1.5 0a0.75 0.75 0 1 0 -1.5 0M459.5 74.4a0.75 0.75 0 1 0 1.5 0a0.75 0.75 0 1 0 -1.5 0M502.0 23.0a0.75 0.75 0 1 0 1.5 0a0.75 0.75 0 1 0 -1.5 0M501.9 30.3a0.75 0.75 0 1 0 1.5 0a0.75 0.75 0 1 0 -1.5 0M519.3 83.9a0.75 0.75 0 1 0 1.5 0a0.75 0.75 0 1 0 -1.5 0M437.5 96.5a0.75 0.75 0 1 0 1.5 0a0.75 0.75 0 1 0 -1.5 0M438.5 9.5a0.75 0.75 0 1 0 1.5 0a0.75 0.75 0 1 0 -1.5 0M400.9 126.4a0.75 0.75 0 1 0 1.5 0a0.75 0.75 0 1 0 -1.5 0M485.1 111.1a0.75 0.75 0 1 0 1.5 0a0.75 0.75 0 1 0 -1.5 0M401.3 84.8a0.75 0.75 0 1 0 1.5 0a0.75 0.75 0 1 0 -1.5 0M422.2 147.8a0.75 0.75 0 1 0 1.5 0a0.75 0.75 0 1 0 -1.5 0M471.9 130.6a0.75 0.75 0 1 0 1.5 0a0.75 0.75 0 1 0 -1.5 0M385.2 68.2a0.75 0.75 0 1 0 1.5 0a0.75 0.75 0 1 0 -1.5 0M389.9 45.7a0.75 0.75 0 1 0 1.5 0a0.75 0.75 0 1 0 -1.5 0M426.3 78.7a0.75 0.75 0 1 0 1.5 0a0.75 0.75 0 1 0 -1.5 0M473.4 136.3a0.75 0.75 0 1 0 1.5 0a0.75 0.75 0 1 0 -1.5 0M515.9 90.1a0.75 0.75 0 1 0 1.5 0a0.75 0.75 0 1 0 -1.5 0M451.2 138.8a0.75 0.75 0 1 0 1.5 0a0.75 0.75 0 1 0 -1.5 0M435.8 51.2a0.75 0.75 0 1 0 1.5 0a0.75 0.75 0 1 0 -1.5 0M485.8 45.3a0.75 0.75 0 1 0 1.5 0a0.75 0.75 0 1 0 -1.5 0M431.9 70.1a0.75 0.75 0 1 0 1.5 0a0.75 0.75 0 1 0 -1.5 0M447.7 59.8a0.75 0.75 0 1 0 1.5 0a0.75 0.75 0 1 0 -1.5 0M441.0 73.2a0.75 0.75 0 1 0 1.5 0a0.75 0.75 0 1 0 -1.5 0M387.5 84.3a0.75 0.75 0 1 0 1.5 0a0.75 0.75 0 1 0 -1.5 0M458.0 65.8a0.75 0.75 0 1 0 1.5 0a0.75 0.75 0 1 0 -1.5 0M410.9 22.3a0.75 0.75 0 1 0 1.5 0a0.75 0.75 0 1 0 -1.5 0M432.5 53.4a0.75 0.75 0 1 0 1.5 0a0.75 0.75 0 1 0 -1.5 0M448.8 41.2a0.75 0.75 0 1 0 1.5 0a0.75 0.75 0 1 0 -1.5 0M487.3 78.5a0.75 0.75 0 1 0 1.5 0a0.75 0.75 0 1 0 -1.5 0M379.8 66.8a0.75 0.75 0 1 0 1.5 0a0.75 0.75 0 1 0 -1.5 0M464.6 147.0a0.75 0.75 0 1 0 1.5 0a0.75 0.75 0 1 0 -1.5 0M431.6 94.5a0.75 0.75 0 1 0 1.5 0a0.75 0.75 0 1 0 -1.5 0M432.1 51.5a0.75 0.75 0 1 0 1.5 0a0.75 0.75 0 1 0 -1.5 0M466.9 93.3a0.75 0.75 0 1 0 1.5 0a0.75 0.75 0 1 0 -1.5 0M424.3 80.0a0.75 0.75 0 1 0 1.5 0a0.75 0.75 0 1 0 -1.5 0M453.4 117.0a0.75 0.75 0 1 0 1.5 0a0.75 0.75 0 1 0 -1.5 0M415.1 47.0a0.75 0.75 0 1 0 1.5 0a0.75 0.75 0 1 0 -1.5 0M494.0 69.5a0.75 0.75 0 1 0 1.5 0a0.75 0.75 0 1 0 -1.5 0M503.3 66.2a0.75 0.75 0 1 0 1.5 0a0.75 0.75 0 1 0 -1.5 0M420.0 106.3a0.75 0.75 0 1 0 1.5 0a0.75 0.75 0 1 0 -1.5 0M499.2 55.4a0.75 0.75 0 1 0 1.5 0a0.75 0.75 0 1 0 -1.5 0M424.6 126.5a0.75 0.75 0 1 0 1.5 0a0.75 0.75 0 1 0 -1.5 0M492.9 100.9a0.75 0.75 0 1 0 1.5 0a0.75 0.75 0 1 0 -1.5 0M385.5 98.4a0.75 0.75 0 1 0 1.5 0a0.75 0.75 0 1 0 -1.5 0M458.7 142.2a0.75 0.75 0 1 0 1.5 0a0.75 0.75 0 1 0 -1.5 0M471.2 11.1a0.75 0.75 0 1 0 1.5 0a0.75 0.75 0 1 0 -1.5 0M514.1 116.9a0.75 0.75 0 1 0 1.5 0a0.75 0.75 0 1 0 -1.5 0M462.7 8.7a0.75 0.75 0 1 0 1.5 0a0.75 0.75 0 1 0 -1.5 0M485.5 68.5a0.75 0.75 0 1 0 1.5 0a0.75 0.75 0 1 0 -1.5 0M477.2 150.3a0.75 0.75 0 1 0 1.5 0a0.75 0.75 0 1 0 -1.5 0M491.9 71.7a0.75 0.75 0 1 0 1.5 0a0.75 0.75 0 1 0 -1.5 0M487.6 62.6a0.75 0.75 0 1 0 1.5 0a0.75 0.75 0 1 0 -1.5 0M443.5 71.2a0.75 0.75 0 1 0 1.5 0a0.75 0.75 0 1 0 -1.5 0M395.7 54.2a0.75 0.75 0 1 0 1.5 0a0.75 0.75 0 1 0 -1.5 0M485.2 18.2a0.75 0.75 0 1 0 1.5 0a0.75 0.75 0 1 0 -1.5 0M395.4 128.7a0.75 0.75 0 1 0 1.5 0a0.75 0.75 0 1 0 -1.5 0M475.2 87.3a0.75 0.75 0 1 0 1.5 0a0.75 0.75 0 1 0 -1.5 0" fill="#fff" fill-opacity="0.2"/>
<path d="M423.4 146.0a0.85 0.85 0 1 0 1.7 0a0.85 0.85 0 1 0 -1.7 0M459.7 141.4a0.85 0.85 0 1 0 1.7 0a0.85 0.85 0 1 0 -1.7 0M409.1 68.0a0.85 0.85 0 1 0 1.7 0a0.85 0.85 0 1 0 -1.7 0M456.3 129.4a0.85 0.85 0 1 0 1.7 0a0.85 0.85 0 1 0 -1.7 0M447.0 12.4a0.85 0.85 0 1 0 1.7 0a0.85 0.85 0 1 0 -1.7 0M441.1 62.6a0.85 0.85 0 1 0 1.7 0a0.85 0.85 0 1 0 -1.7 0M476.3 142.3a0.85 0.85 0 1 0 1.7 0a0.85 0.85 0 1 0 -1.7 0M450.1 107.7a0.85 0.85 0 1 0 1.7 0a0.85 0.85 0 1 0 -1.7 0M434.7 120.6a0.85 0.85 0 1 0 1.7 0a0.85 0.85 0 1 0 -1.7 0M393.7 115.4a0.85 0.85 0 1 0 1.7 0a0.85 0.85 0 1 0 -1.7 0M402.6 92.7a0.85 0.85 0 1 0 1.7 0a0.85 0.85 0 1 0 -1.7 0M407.8 58.0a0.85 0.85 0 1 0 1.7 0a0.85 0.85 0 1 0 -1.7 0M402.2 58.5a0.85 0.85 0 1 0 1.7 0a0.85 0.85 0 1 0 -1.7 0M464.3 83.2a0.85 0.85 0 1 0 1.7 0a0.85 0.85 0 1 0 -1.7 0M434.8 91.1a0.85 0.85 0 1 0 1.7 0a0.85 0.85 0 1 0 -1.7 0M500.7 59.8a0.85 0.85 0 1 0 1.7 0a0.85 0.85 0 1 0 -1.7 0M463.2 77.5a0.85 0.85 0 1 0 1.7 0a0.85 0.85 0 1 0 -1.7 0M520.7 55.4a0.85 0.85 0 1 0 1.7 0a0.85 0.85 0 1 0 -1.7 0M479.6 41.7a0.85 0.85 0 1 0 1.7 0a0.85 0.85 0 1 0 -1.7 0M416.4 113.7a0.85 0.85 0 1 0 1.7 0a0.85 0.85 0 1 0 -1.7 0M461.9 45.1a0.85 0.85 0 1 0 1.7 0a0.85 0.85 0 1 0 -1.7 0M433.2 111.6a0.85 0.85 0 1 0 1.7 0a0.85 0.85 0 1 0 -1.7 0M441.2 97.3a0.85 0.85 0 1 0 1.7 0a0.85 0.85 0 1 0 -1.7 0M459.6 149.2a0.85 0.85 0 1 0 1.7 0a0.85 0.85 0 1 0 -1.7 0M510.4 73.9a0.85 0.85 0 1 0 1.7 0a0.85 0.85 0 1 0 -1.7 0M449.1 41.4a0.85 0.85 0 1 0 1.7 0a0.85 0.85 0 1 0 -1.7 0M487.7 22.7a0.85 0.85 0 1 0 1.7 0a0.85 0.85 0 1 0 -1.7 0M422.9 130.6a0.85 0.85 0 1 0 1.7 0a0.85 0.85 0 1 0 -1.7 0M383.5 109.0a0.85 0.85 0 1 0 1.7 0a0.85 0.85 0 1 0 -1.7 0M460.9 87.8a0.85 0.85 0 1 0 1.7 0a0.85 0.85 0 1 0 -1.7 0M426.8 29.8a0.85 0.85 0 1 0 1.7 0a0.85 0.85 0 1 0 -1.7 0M516.4 118.6a0.85 0.85 0 1 0 1.7 0a0.85 0.85 0 1 0 -1.7 0M495.4 22.0a0.85 0.85 0 1 0 1.7 0a0.85 0.85 0 1 0 -1.7 0M492.2 39.5a0.85 0.85 0 1 0 1.7 0a0.85 0.85 0 1 0 -1.7 0M407.4 85.4a0.85 0.85 0 1 0 1.7 0a0.85 0.85 0 1 0 -1.7 0M466.9 25.4a0.85 0.85 0 1 0 1.7 0a0.85 0.85 0 1 0 -1.7 0M489.4 92.2a0.85 0.85 0 1 0 1.7 0a0.85 0.85 0 1 0 -1.7 0M478.5 60.6a0.85 0.85 0 1 0 1.7 0a0.85 0.85 0 1 0 -1.7 0M516.4 111.9a0.85 0.85 0 1 0 1.7 0a0.85 0.85 0 1 0 -1.7 0M420.7 132.1a0.85 0.85 0 1 0 1.7 0a0.85 0.85 0 1 0 -1.7 0M483.9 46.2a0.85 0.85 0 1 0 1.7 0a0.85 0.85 0 1 0 -1.7 0M456.4 44.6a0.85 0.85 0 1 0 1.7 0a0.85 0.85 0 1 0 -1.7 0M421.0 44.5a0.85 0.85 0 1 0 1.7 0a0.85 0.85 0 1 0 -1.7 0M397.5 78.1a0.85 0.85 0 1 0 1.7 0a0.85 0.85 0 1 0 -1.7 0M418.0 49.2a0.85 0.85 0 1 0 1.7 0a0.85 0.85 0 1 0 -1.7 0M418.7 81.6a0.85 0.85 0 1 0 1.7 0a0.85 0.85 0 1 0 -1.7 0M505.2 31.1a0.85 0.85 0 1 0 1.7 0a0.85 0.85 0 1 0 -1.7 0M503.2 131.7a0.85 0.85 0 1 0 1.7 0a0.85 0.85 0 1 0 -1.7 0M466.9 86.6a0.85 0.85 0 1 0 1.7 0a0.85 0.85 0 1 0 -1.7 0M484.9 85.3a0.85 0.85 0 1 0 1.7 0a0.85 0.85 0 1 0 -1.7 0M474.2 141.0a0.85 0.85 0 1 0 1.7 0a0.85 0.85 0 1 0 -1.7 0M490.9 45.5a0.85 0.85 0 1 0 1.7 0a0.85 0.85 0 1 0 -1.7 0M431.1 121.9a0.85 0.85 0 1 0 1.7 0a0.85 0.85 0 1 0 -1.7 0M412.3 73.5a0.85 0.85 0 1 0 1.7 0a0.85 0.85 0 1 0 -1.7 0M432.2 113.5a0.85 0.85 0 1 0 1.7 0a0.85 0.85 0 1 0 -1.7 0M515.4 81.1a0.85 0.85 0 1 0 1.7 0a0.85 0.85 0 1 0 -1.7 0M460.6 58.4a0.85 0.85 0 1 0 1.7 0a0.85 0.85 0 1 0 -1.7 0M473.8 18.3a0.85 0.85 0 1 0 1.7 0a0.85 0.85 0 1 0 -1.7 0M460.5 25.2a0.85 0.85 0 1 0 1.7 0a0.85 0.85 0 1 0 -1.7 0M521.9 52.7a0.85 0.85 0 1 0 1.7 0a0.85 0.85 0 1 0 -1.7 0M475.1 17.7a0.85 0.85 0 1 0 1.7 0a0.85 0.85 0 1 0 -1.7 0M382.8 90.6a0.85 0.85 0 1 0 1.7 0a0.85 0.85 0 1 0 -1.7 0M521.1 107.1a0.85 0.85 0 1 0 1.7 0a0.85 0.85 0 1 0 -1.7 0M502.6 121.5a0.85 0.85 0 1 0 1.7 0a0.85 0.85 0 1 0 -1.7 0M454.1 19.1a0.85 0.85 0 1 0 1.7 0a0.85 0.85 0 1 0 -1.7 0M454.9 34.6a0.85 0.85 0 1 0 1.7 0a0.85 0.85 0 1 0 -1.7 0M454.9 59.2a0.85 0.85 0 1 0 1.7 0a0.85 0.85 0 1 0 -1.7 0M450.9 36.5a0.85 0.85 0 1 0 1.7 0a0.85 0.85 0 1 0 -1.7 0M480.8 68.3a0.85 0.85 0 1 0 1.7 0a0.85 0.85 0 1 0 -1.7 0M449.0 19.3a0.85 0.85 0 1 0 1.7 0a0.85 0.85 0 1 0 -1.7 0M449.1 88.6a0.85 0.85 0 1 0 1.7 0a0.85 0.85 0 1 0 -1.7 0M519.6 89.2a0.85 0.85 0 1 0 1.7 0a0.85 0.85 0 1 0 -1.7 0M398.0 51.4a0.85 0.85 0 1 0 1.7 0a0.85 0.85 0 1 0 -1.7 0M427.1 109.6a0.85 0.85 0 1 0 1.7 0a0.85 0.85 0 1 0 -1.7 0M381.4 78.8a0.85 0.85 0 1 0 1.7 0a0.85 0.85 0 1 0 -1.7 0M464.2 107.2a0.85 0.85 0 1 0 1.7 0a0.85 0.85 0 1 0 -1.7 0M467.4 96.7a0.85 0.85 0 1 0 1.7 0a0.85 0.85 0 1 0 -1.7 0M453.8 146.8a0.85 0.85 0 1 0 1.7 0a0.85 0.85 0 1 0 -1.7 0M498.8 107.6a0.85 0.85 0 1 0 1.7 0a0.85 0.85 0 1 0 -1.7 0M453.9 91.9a0.85 0.85 0 1 0 1.7 0a0.85 0.85 0 1 0 -1.7 0M488.3 124.9a0.85 0.85 0 1 0 1.7 0a0.85 0.85 0 1 0 -1.7 0M499.4 66.9a0.85 0.85 0 1 0 1.7 0a0.85 0.85 0 1 0 -1.7 0M427.1 58.1a0.85 0.85 0 1 0 1.7 0a0.85 0.85 0 1 0 -1.7 0M416.5 92.7a0.85 0.85 0 1 0 1.7 0a0.85 0.85 0 1 0 -1.7 0M454.8 56.5a0.85 0.85 0 1 0 1.7 0a0.85 0.85 0 1 0 -1.7 0M476.4 73.8a0.85 0.85 0 1 0 1.7 0a0.85 0.85 0 1 0 -1.7 0M412.5 135.6a0.85 0.85 0 1 0 1.7 0a0.85 0.85 0 1 0 -1.7 0M403.9 29.6a0.85 0.85 0 1 0 1.7 0a0.85 0.85 0 1 0 -1.7 0M415.2 77.3a0.85 0.85 0 1 0 1.7 0a0.85 0.85 0 1 0 -1.7 0M492.2 56.1a0.85 0.85 0 1 0 1.7 0a0.85 0.85 0 1 0 -1.7 0M413.0 102.7a0.85 0.85 0 1 0 1.7 0a0.85 0.85 0 1 0 -1.7 0M416.2 83.6a0.85 0.85 0 1 0 1.7 0a0.85 0.85 0 1 0 -1.7 0M415.4 134.9a0.85 0.85 0 1 0 1.7 0a0.85 0.85 0 1 0 -1.7 0M405.2 41.5a0.85 0.85 0 1 0 1.7 0a0.85 0.85 0 1 0 -1.7 0M422.2 55.6a0.85 0.85 0 1 0 1.7 0a0.85 0.85 0 1 0 -1.7 0M483.9 105.5a0.85 0.85 0 1 0 1.7 0a0.85 0.85 0 1 0 -1.7 0M493.1 86.1a0.85 0.85 0 1 0 1.7 0a0.85 0.85 0 1 0 -1.7 0M389.9 118.5a0.85 0.85 0 1 0 1.7 0a0.85 0.85 0 1 0 -1.7 0M413.9 39.4a0.85 0.85 0 1 0 1.7 0a0.85 0.85 0 1 0 -1.7 0M438.6 151.2a0.85 0.85 0 1 0 1.7 0a0.85 0.85 0 1 0 -1.7 0M432.2 59.5a0.85 0.85 0 1 0 1.7 0a0.85 0.85 0 1 0 -1.7 0M434.6 27.5a0.85 0.85 0 1 0 1.7 0a0.85 0.85 0 1 0 -1.7 0M493.0 121.2a0.85 0.85 0 1 0 1.7 0a0.85 0.85 0 1 0 -1.7 0M427.5 122.4a0.85 0.85 0 1 0 1.7 0a0.85 0.85 0 1 0 -1.7 0M433.5 49.5a0.85 0.85 0 1 0 1.7 0a0.85 0.85 0 1 0 -1.7 0M464.5 115.3a0.85 0.85 0 1 0 1.7 0a0.85 0.85 0 1 0 -1.7 0M447.5 126.4a0.85 0.85 0 1 0 1.7 0a0.85 0.85 0 1 0 -1.7 0M380.5 80.2a0.85 0.85 0 1 0 1.7 0a0.85 0.85 0 1 0 -1.7 0M433.6 17.3a0.85 0.85 0 1 0 1.7 0a0.85 0.85 0 1 0 -1.7 0M408.3 135.1a0.85 0.85 0 1 0 1.7 0a0.85 0.85 0 1 0 -1.7 0M428.1 142.7a0.85 0.85 0 1 0 1.7 0a0.85 0.85 0 1 0 -1.7 0M399.0 111.4a0.85 0.85 0 1 0 1.7 0a0.85 0.85 0 1 0 -1.7 0M398.1 106.1a0.85 0.85 0 1 0 1.7 0a0.85 0.85 0 1 0 -1.7 0M506.5 113.1a0.85 0.85 0 1 0 1.7 0a0.85 0.85 0 1 0 -1.7 0M516.2 73.6a0.85 0.85 0 1 0 1.7 0a0.85 0.85 0 1 0 -1.7 0M432.5 25.3a0.85 0.85 0 1 0 1.7 0a0.85 0.85 0 1 0 -1.7 0M418.1 143.8a0.85 0.85 0 1 0 1.7 0a0.85 0.85 0 1 0 -1.7 0M428.9 15.0a0.85 0.85 0 1 0 1.7 0a0.85 0.85 0 1 0 -1.7 0M423.0 34.4a0.85 0.85 0 1 0 1.7 0a0.85 0.85 0 1 0 -1.7 0M396.3 84.2a0.85 0.85 0 1 0 1.7 0a0.85 0.85 0 1 0 -1.7 0M456.9 90.1a0.85 0.85 0 1 0 1.7 0a0.85 0.85 0 1 0 -1.7 0M489.1 84.2a0.85 0.85 0 1 0 1.7 0a0.85 0.85 0 1 0 -1.7 0M410.8 19.0a0.85 0.85 0 1 0 1.7 0a0.85 0.85 0 1 0 -1.7 0M423.3 118.0a0.85 0.85 0 1 0 1.7 0a0.85 0.85 0 1 0 -1.7 0M512.5 80.8a0.85 0.85 0 1 0 1.7 0a0.85 0.85 0 1 0 -1.7 0M401.7 55.7a0.85 0.85 0 1 0 1.7 0a0.85 0.85 0 1 0 -1.7 0M460.9 50.5a0.85 0.85 0 1 0 1.7 0a0.85 0.85 0 1 0 -1.7 0M445.2 95.2a0.85 0.85 0 1 0 1.7 0a0.85 0.85 0 1 0 -1.7 0M501.2 75.2a0.85 0.85 0 1 0 1.7 0a0.85 0.85 0 1 0 -1.7 0M489.1 65.9a0.85 0.85 0 1 0 1.7 0a0.85 0.85 0 1 0 -1.7 0M403.6 114.5a0.85 0.85 0 1 0 1.7 0a0.85 0.85 0 1 0 -1.7 0M410.3 123.6a0.85 0.85 0 1 0 1.7 0a0.85 0.85 0 1 0 -1.7 0M450.9 102.4a0.85 0.85 0 1 0 1.7 0a0.85 0.85 0 1 0 -1.7 0M445.9 34.3a0.85 0.85 0 1 0 1.7 0a0.85 0.85 0 1 0 -1.7 0M468.2 61.4a0.85 0.85 0 1 0 1.7 0a0.85 0.85 0 1 0 -1.7 0M447.1 98.2a0.85 0.85 0 1 0 1.7 0a0.85 0.85 0 1 0 -1.7 0M424.5 59.5a0.85 0.85 0 1 0 1.7 0a0.85 0.85 0 1 0 -1.7 0M506.7 92.0a0.85 0.85 0 1 0 1.7 0a0.85 0.85 0 1 0 -1.7 0M439.0 86.1a0.85 0.85 0 1 0 1.7 0a0.85 0.85 0 1 0 -1.7 0M445.2 56.0a0.85 0.85 0 1 0 1.7 0a0.85 0.85 0 1 0 -1.7 0M511.0 41.7a0.85 0.85 0 1 0 1.7 0a0.85 0.85 0 1 0 -1.7 0M506.4 31.4a0.85 0.85 0 1 0 1.7 0a0.85 0.85 0 1 0 -1.7 0M452.3 150.5a0.85 0.85 0 1 0 1.7 0a0.85 0.85 0 1 0 -1.7 0M420.3 32.7a0.85 0.85 0 1 0 1.7 0a0.85 0.85 0 1 0 -1.7 0M483.4 41.9a0.85 0.85 0 1 0 1.7 0a0.85 0.85 0 1 0 -1.7 0M463.1 30.7a0.85 0.85 0 1 0 1.7 0a0.85 0.85 0 1 0 -1.7 0M515.9 49.0a0.85 0.85 0 1 0 1.7 0a0.85 0.85 0 1 0 -1.7 0M392.5 107.4a0.85 0.85 0 1 0 1.7 0a0.85 0.85 0 1 0 -1.7 0M428.8 88.9a0.85 0.85 0 1 0 1.7 0a0.85 0.85 0 1 0 -1.7 0M450.6 141.5a0.85 0.85 0 1 0 1.7 0a0.85 0.85 0 1 0 -1.7 0M453.1 62.8a0.85 0.85 0 1 0 1.7 0a0.85 0.85 0 1 0 -1.7 0M378.7 79.8a0.85 0.85 0 1 0 1.7 0a0.85 0.85 0 1 0 -1.7 0M417.5 91.0a0.85 0.85 0 1 0 1.7 0a0.85 0.85 0 1 0 -1.7 0M470.1 74.8a0.85 0.85 0 1 0 1.7 0a0.85 0.85 0 1 0 -1.7 0M391.5 79.9a0.85 0.85 0 1 0 1.7 0a0.85 0.85 0 1 0 -1.7 0M448.4 100.8a0.85 0.85 0 1 0 1.7 0a0.85 0.85 0 1 0 -1.7 0M519.2 48.5a0.85 0.85 0 1 0 1.7 0a0.85 0.85 0 1 0 -1.7 0M442.7 20.2a0.85 0.85 0 1 0 1.7 0a0.85 0.85 0 1 0 -1.7 0M494.5 41.9a0.85 0.85 0 1 0 1.7 0a0.85 0.85 0 1 0 -1.7 0M498.7 123.4a0.85 0.85 0 1 0 1.7 0a0.85 0.85 0 1 0 -1.7 0M415.4 138.6a0.85 0.85 0 1 0 1.7 0a0.85 0.85 0 1 0 -1.7 0M451.6 69.6a0.85 0.85 0 1 0 1.7 0a0.85 0.85 0 1 0 -1.7 0M459.0 144.9a0.85 0.85 0 1 0 1.7 0a0.85 0.85 0 1 0 -1.7 0M449.5 77.7a0.85 0.85 0 1 0 1.7 0a0.85 0.85 0 1 0 -1.7 0M420.6 129.7a0.85 0.85 0 1 0 1.7 0a0.85 0.85 0 1 0 -1.7 0M451.4 57.5a0.85 0.85 0 1 0 1.7 0a0.85 0.85 0 1 0 -1.7 0M407.0 39.1a0.85 0.85 0 1 0 1.7 0a0.85 0.85 0 1 0 -1.7 0M499.5 124.2a0.85 0.85 0 1 0 1.7 0a0.85 0.85 0 1 0 -1.7 0M477.9 123.4a0.85 0.85 0 1 0 1.7 0a0.85 0.85 0 1 0 -1.7 0M481.7 125.1a0.85 0.85 0 1 0 1.7 0a0.85 0.85 0 1 0 -1.7 0M494.7 33.4a0.85 0.85 0 1 0 1.7 0a0.85 0.85 0 1 0 -1.7 0M496.7 51.8a0.85 0.85 0 1 0 1.7 0a0.85 0.85 0 1 0 -1.7 0M413.9 141.0a0.85 0.85 0 1 0 1.7 0a0.85 0.85 0 1 0 -1.7 0M381.8 82.0a0.85 0.85 0 1 0 1.7 0a0.85 0.85 0 1 0 -1.7 0M428.2 122.5a0.85 0.85 0 1 0 1.7 0a0.85 0.85 0 1 0 -1.7 0M467.0 139.8a0.85 0.85 0 1 0 1.7 0a0.85 0.85 0 1 0 -1.7 0M513.8 101.2a0.85 0.85 0 1 0 1.7 0a0.85 0.85 0 1 0 -1.7 0M387.8 104.5a0.85 0.85 0 1 0 1.7 0a0.85 0.85 0 1 0 -1.7 0M504.9 52.9a0.85 0.85 0 1 0 1.7 0a0.85 0.85 0 1 0 -1.7 0M405.4 108.4a0.85 0.85 0 1 0 1.7 0a0.85 0.85 0 1 0 -1.7 0M468.8 26.0a0.85 0.85 0 1 0 1.7 0a0.85 0.85 0 1 0 -1.7 0M483.9 16.4a0.85 0.85 0 1 0 1.7 0a0.85 0.85 0 1 0 -1.7 0M504.4 119.2a0.85 0.85 0 1 0 1.7 0a0.85 0.85 0 1 0 -1.7 0M492.4 134.4a0.85 0.85 0 1 0 1.7 0a0.85 0.85 0 1 0 -1.7 0M461.0 144.5a0.85 0.85 0 1 0 1.7 0a0.85 0.85 0 1 0 -1.7 0M471.2 79.1a0.85 0.85 0 1 0 1.7 0a0.85 0.85 0 1 0 -1.7 0M434.2 59.1a0.85 0.85 0 1 0 1.7 0a0.85 0.85 0 1 0 -1.7 0M493.9 41.0a0.85 0.85 0 1 0 1.7 0a0.85 0.85 0 1 0 -1.7 0M473.3 120.2a0.85 0.85 0 1 0 1.7 0a0.85 0.85 0 1 0 -1.7 0M479.2 82.6a0.85 0.85 0 1 0 1.7 0a0.85 0.85 0 1 0 -1.7 0M424.3 47.4a0.85 0.85 0 1 0 1.7 0a0.85 0.85 0 1 0 -1.7 0M405.6 101.7a0.85 0.85 0 1 0 1.7 0a0.85 0.85 0 1 0 -1.7 0M478.0 144.3a0.85 0.85 0 1 0 1.7 0a0.85 0.85 0 1 0 -1.7 0M426.4 142.1a0.85 0.85 0 1 0 1.7 0a0.85 0.85 0 1 0 -1.7 0M510.7 50.0a0.85 0.85 0 1 0 1.7 0a0.85 0.85 0 1 0 -1.7 0M516.6 97.6a0.85 0.85 0 1 0 1.7 0a0.85 0.85 0 1 0 -1.7 0M518.1 120.0a0.85 0.85 0 1 0 1.7 0a0.85 0.85 0 1 0 -1.7 0M426.8 48.3a0.85 0.85 0 1 0 1.7 0a0.85 0.85 0 1 0 -1.7 0M454.3 78.5a0.85 0.85 0 1 0 1.7 0a0.85 0.85 0 1 0 -1.7 0M456.1 76.4a0.85 0.85 0 1 0 1.7 0a0.85 0.85 0 1 0 -1.7 0M486.5 44.1a0.85 0.85 0 1 0 1.7 0a0.85 0.85 0 1 0 -1.7 0M407.4 92.0a0.85 0.85 0 1 0 1.7 0a0.85 0.85 0 1 0 -1.7 0M413.5 55.3a0.85 0.85 0 1 0 1.7 0a0.85 0.85 0 1 0 -1.7 0M430.0 84.2a0.85 0.85 0 1 0 1.7 0a0.85 0.85 0 1 0 -1.7 0M516.1 100.5a0.85 0.85 0 1 0 1.7 0a0.85 0.85 0 1 0 -1.7 0M438.6 66.8a0.85 0.85 0 1 0 1.7 0a0.85 0.85 0 1 0 -1.7 0M412.6 76.5a0.85 0.85 0 1 0 1.7 0a0.85 0.85 0 1 0 -1.7 0M441.3 107.2a0.85 0.85 0 1 0 1.7 0a0.85 0.85 0 1 0 -1.7 0M489.1 88.3a0.85 0.85 0 1 0 1.7 0a0.85 0.85 0 1 0 -1.7 0M471.5 143.8a0.85 0.85 0 1 0 1.7 0a0.85 0.85 0 1 0 -1.7 0M509.4 44.3a0.85 0.85 0 1 0 1.7 0a0.85 0.85 0 1 0 -1.7 0M457.0 152.3a0.85 0.85 0 1 0 1.7 0a0.85 0.85 0 1 0 -1.7 0M455.0 35.3a0.85 0.85 0 1 0 1.7 0a0.85 0.85 0 1 0 -1.7 0M489.6 16.1a0.85 0.85 0 1 0 1.7 0a0.85 0.85 0 1 0 -1.7 0M400.3 87.7a0.85 0.85 0 1 0 1.7 0a0.85 0.85 0 1 0 -1.7 0M418.0 112.1a0.85 0.85 0 1 0 1.7 0a0.85 0.85 0 1 0 -1.7 0M483.9 54.1a0.85 0.85 0 1 0 1.7 0a0.85 0.85 0 1 0 -1.7 0M489.7 101.7a0.85 0.85 0 1 0 1.7 0a0.85 0.85 0 1 0 -1.7 0M480.9 74.0a0.85 0.85 0 1 0 1.7 0a0.85 0.85 0 1 0 -1.7 0M441.2 23.3a0.85 0.85 0 1 0 1.7 0a0.85 0.85 0 1 0 -1.7 0M447.4 146.1a0.85 0.85 0 1 0 1.7 0a0.85 0.85 0 1 0 -1.7 0M388.8 46.9a0.85 0.85 0 1 0 1.7 0a0.85 0.85 0 1 0 -1.7 0M479.2 71.3a0.85 0.85 0 1 0 1.7 0a0.85 0.85 0 1 0 -1.7 0M397.0 69.5a0.85 0.85 0 1 0 1.7 0a0.85 0.85 0 1 0 -1.7 0M461.6 115.7a0.85 0.85 0 1 0 1.7 0a0.85 0.85 0 1 0 -1.7 0M436.9 102.0a0.85 0.85 0 1 0 1.7 0a0.85 0.85 0 1 0 -1.7 0M477.3 97.0a0.85 0.85 0 1 0 1.7 0a0.85 0.85 0 1 0 -1.7 0M385.2 110.8a0.85 0.85 0 1 0 1.7 0a0.85 0.85 0 1 0 -1.7 0M447.2 10.3a0.85 0.85 0 1 0 1.7 0a0.85 0.85 0 1 0 -1.7 0M389.0 64.5a0.85 0.85 0 1 0 1.7 0a0.85 0.85 0 1 0 -1.7 0M446.4 23.2a0.85 0.85 0 1 0 1.7 0a0.85 0.85 0 1 0 -1.7 0M449.1 93.0a0.85 0.85 0 1 0 1.7 0a0.85 0.85 0 1 0 -1.7 0M424.2 150.3a0.85 0.85 0 1 0 1.7 0a0.85 0.85 0 1 0 -1.7 0M395.8 51.9a0.85 0.85 0 1 0 1.7 0a0.85 0.85 0 1 0 -1.7 0M410.5 133.2a0.85 0.85 0 1 0 1.7 0a0.85 0.85 0 1 0 -1.7 0M452.3 67.3a0.85 0.85 0 1 0 1.7 0a0.85 0.85 0 1 0 -1.7 0M436.3 136.3a0.85 0.85 0 1 0 1.7 0a0.85 0.85 0 1 0 -1.7 0M415.8 122.5a0.85 0.85 0 1 0 1.7 0a0.85 0.85 0 1 0 -1.7 0M481.2 72.8a0.85 0.85 0 1 0 1.7 0a0.85 0.85 0 1 0 -1.7 0M431.5 71.2a0.85 0.85 0 1 0 1.7 0a0.85 0.85 0 1 0 -1.7 0M444.2 53.6a0.85 0.85 0 1 0 1.7 0a0.85 0.85 0 1 0 -1.7 0M469.0 67.4a0.85 0.85 0 1 0 1.7 0a0.85 0.85 0 1 0 -1.7 0M422.5 119.8a0.85 0.85 0 1 0 1.7 0a0.85 0.85 0 1 0 -1.7 0M444.5 76.5a0.85 0.85 0 1 0 1.7 0a0.85 0.85 0 1 0 -1.7 0M506.1 73.7a0.85 0.85 0 1 0 1.7 0a0.85 0.85 0 1 0 -1.7 0M433.0 137.9a0.85 0.85 0 1 0 1.7 0a0.85 0.85 0 1 0 -1.7 0M436.7 105.1a0.85 0.85 0 1 0 1.7 0a0.85 0.85 0 1 0 -1.7 0M486.0 50.8a0.85 0.85 0 1 0 1.7 0a0.85 0.85 0 1 0 -1.7 0M483.5 145.4a0.85 0.85 0 1 0 1.7 0a0.85 0.85 0 1 0 -1.7 0M473.6 104.7a0.85 0.85 0 1 0 1.7 0a0.85 0.85 0 1 0 -1.7 0M441.6 102.5a0.85 0.85 0 1 0 1.7 0a0.85 0.85 0 1 0 -1.7 0M411.2 119.4a0.85 0.85 0 1 0 1.7 0a0.85 0.85 0 1 0 -1.7 0M456.7 149.8a0.85 0.85 0 1 0 1.7 0a0.85 0.85 0 1 0 -1.7 0M428.0 111.0a0.85 0.85 0 1 0 1.7 0a0.85 0.85 0 1 0 -1.7 0M380.9 68.2a0.85 0.85 0 1 0 1.7 0a0.85 0.85 0 1 0 -1.7 0M489.7 45.5a0.85 0.85 0 1 0 1.7 0a0.85 0.85 0 1 0 -1.7 0M467.5 39.9a0.85 0.85 0 1 0 1.7 0a0.85 0.85 0 1 0 -1.7 0M436.3 151.8a0.85 0.85 0 1 0 1.7 0a0.85 0.85 0 1 0 -1.7 0M407.0 140.1a0.85 0.85 0 1 0 1.7 0a0.85 0.85 0 1 0 -1.7 0M387.1 92.3a0.85 0.85 0 1 0 1.7 0a0.85 0.85 0 1 0 -1.7 0" fill="#fff" fill-opacity="0.3"/>
<path d="M497.5 129.1a0.95 0.95 0 1 0 1.9 0a0.95 0.95 0 1 0 -1.9 0M435.1 93.4a0.95 0.95 0 1 0 1.9 0a0.95 0.95 0 1 0 -1.9 0M481.7 118.2a0.95 0.95 0 1 0 1.9 0a0.95 0.95 0 1 0 -1.9 0M486.7 91.7a0.95 0.95 0 1 0 1.9 0a0.95 0.95 0 1 0 -1.9 0M414.9 110.0a0.95 0.95 0 1 0 1.9 0a0.95 0.95 0 1 0 -1.9 0M459.8 86.7a0.95 0.95 0 1 0 1.9 0a0.95 0.95 0 1 0 -1.9 0M491.6 54.9a0.95 0.95 0 1 0 1.9 0a0.95 0.95 0 1 0 -1.9 0M483.8 145.5a0.95 0.95 0 1 0 1.9 0a0.95 0.95 0 1 0 -1.9 0M418.2 90.0a0.95 0.95 0 1 0 1.9 0a0.95 0.95 0 1 0 -1.9 0M455.0 79.6a0.95 0.95 0 1 0 1.9 0a0.95 0.95 0 1 0 -1.9 0M402.6 98.5a0.95 0.95 0 1 0 1.9 0a0.95 0.95 0 1 0 -1.9 0M508.0 103.9a0.95 0.95 0 1 0 1.9 0a0.95 0.95 0 1 0 -1.9 0M420.3 124.6a0.95 0.95 0 1 0 1.9 0a0.95 0.95 0 1 0 -1.9 0M439.3 28.9a0.95 0.95 0 1 0 1.9 0a0.95 0.95 0 1 0 -1.9 0M466.3 74.6a0.95 0.95 0 1 0 1.9 0a0.95 0.95 0 1 0 -1.9 0M455.2 151.4a0.95 0.95 0 1 0 1.9 0a0.95 0.95 0 1 0 -1.9 0M461.0 146.0a0.95 0.95 0 1 0 1.9 0a0.95 0.95 0 1 0 -1.9 0M429.5 117.8a0.95 0.95 0 1 0 1.9 0a0.95 0.95 0 1 0 -1.9 0M389.3 51.4a0.95 0.95 0 1 0 1.9 0a0.95 0.95 0 1 0 -1.9 0M478.7 107.8a0.95 0.95 0 1 0 1.9 0a0.95 0.95 0 1 0 -1.9 0M498.6 62.9a0.95 0.95 0 1 0 1.9 0a0.95 0.95 0 1 0 -1.9 0M418.1 59.8a0.95 0.95 0 1 0 1.9 0a0.95 0.95 0 1 0 -1.9 0M456.3 11.4a0.95 0.95 0 1 0 1.9 0a0.95 0.95 0 1 0 -1.9 0M432.7 103.1a0.95 0.95 0 1 0 1.9 0a0.95 0.95 0 1 0 -1.9 0M399.9 52.9a0.95 0.95 0 1 0 1.9 0a0.95 0.95 0 1 0 -1.9 0M414.6 33.7a0.95 0.95 0 1 0 1.9 0a0.95 0.95 0 1 0 -1.9 0M493.6 114.9a0.95 0.95 0 1 0 1.9 0a0.95 0.95 0 1 0 -1.9 0M416.7 78.7a0.95 0.95 0 1 0 1.9 0a0.95 0.95 0 1 0 -1.9 0M479.3 12.0a0.95 0.95 0 1 0 1.9 0a0.95 0.95 0 1 0 -1.9 0M497.2 132.4a0.95 0.95 0 1 0 1.9 0a0.95 0.95 0 1 0 -1.9 0M409.0 109.8a0.95 0.95 0 1 0 1.9 0a0.95 0.95 0 1 0 -1.9 0M479.8 56.7a0.95 0.95 0 1 0 1.9 0a0.95 0.95 0 1 0 -1.9 0M505.8 39.5a0.95 0.95 0 1 0 1.9 0a0.95 0.95 0 1 0 -1.9 0M447.1 53.3a0.95 0.95 0 1 0 1.9 0a0.95 0.95 0 1 0 -1.9 0M442.5 125.5a0.95 0.95 0 1 0 1.9 0a0.95 0.95 0 1 0 -1.9 0M461.1 96.1a0.95 0.95 0 1 0 1.9 0a0.95 0.95 0 1 0 -1.9 0M410.7 97.6a0.95 0.95 0 1 0 1.9 0a0.95 0.95 0 1 0 -1.9 0M427.9 71.6a0.95 0.95 0 1 0 1.9 0a0.95 0.95 0 1 0 -1.9 0M440.9 127.7a0.95 0.95 0 1 0 1.9 0a0.95 0.95 0 1 0 -1.9 0M511.2 105.9a0.95 0.95 0 1 0 1.9 0a0.95 0.95 0 1 0 -1.9 0M403.2 59.3a0.95 0.95 0 1 0 1.9 0a0.95 0.95 0 1 0 -1.9 0M480.8 39.2a0.95 0.95 0 1 0 1.9 0a0.95 0.95 0 1 0 -1.9 0M506.4 134.2a0.95 0.95 0 1 0 1.9 0a0.95 0.95 0 1 0 -1.9 0M411.2 60.6a0.95 0.95 0 1 0 1.9 0a0.95 0.95 0 1 0 -1.9 0M411.5 111.9a0.95 0.95 0 1 0 1.9 0a0.95 0.95 0 1 0 -1.9 0M385.2 108.6a0.95 0.95 0 1 0 1.9 0a0.95 0.95 0 1 0 -1.9 0M457.2 92.3a0.95 0.95 0 1 0 1.9 0a0.95 0.95 0 1 0 -1.9 0M429.6 150.5a0.95 0.95 0 1 0 1.9 0a0.95 0.95 0 1 0 -1.9 0M465.4 132.8a0.95 0.95 0 1 0 1.9 0a0.95 0.95 0 1 0 -1.9 0M403.9 47.4a0.95 0.95 0 1 0 1.9 0a0.95 0.95 0 1 0 -1.9 0M475.1 108.6a0.95 0.95 0 1 0 1.9 0a0.95 0.95 0 1 0 -1.9 0M425.1 75.6a0.95 0.95 0 1 0 1.9 0a0.95 0.95 0 1 0 -1.9 0M420.3 89.2a0.95 0.95 0 1 0 1.9 0a0.95 0.95 0 1 0 -1.9 0M430.0 60.0a0.95 0.95 0 1 0 1.9 0a0.95 0.95 0 1 0 -1.9 0M414.5 50.2a0.95 0.95 0 1 0 1.9 0a0.95 0.95 0 1 0 -1.9 0M423.4 93.6a0.95 0.95 0 1 0 1.9 0a0.95 0.95 0 1 0 -1.9 0M417.3 24.3a0.95 0.95 0 1 0 1.9 0a0.95 0.95 0 1 0 -1.9 0M501.1 75.8a0.95 0.95 0 1 0 1.9 0a0.95 0.95 0 1 0 -1.9 0M452.6 53.1a0.95 0.95 0 1 0 1.9 0a0.95 0.95 0 1 0 -1.9 0M507.1 117.1a0.95 0.95 0 1 0 1.9 0a0.95 0.95 0 1 0 -1.9 0M468.7 103.4a0.95 0.95 0 1 0 1.9 0a0.95 0.95 0 1 0 -1.9 0M478.8 80.4a0.95 0.95 0 1 0 1.9 0a0.95 0.95 0 1 0 -1.9 0M438.3 64.4a0.95 0.95 0 1 0 1.9 0a0.95 0.95 0 1 0 -1.9 0M451.5 75.8a0.95 0.95 0 1 0 1.9 0a0.95 0.95 0 1 0 -1.9 0M455.1 85.1a0.95 0.95 0 1 0 1.9 0a0.95 0.95 0 1 0 -1.9 0M492.8 137.1a0.95 0.95 0 1 0 1.9 0a0.95 0.95 0 1 0 -1.9 0M422.0 12.5a0.95 0.95 0 1 0 1.9 0a0.95 0.95 0 1 0 -1.9 0M493.9 97.7a0.95 0.95 0 1 0 1.9 0a0.95 0.95 0 1 0 -1.9 0M419.8 35.6a0.95 0.95 0 1 0 1.9 0a0.95 0.95 0 1 0 -1.9 0M504.4 129.0a0.95 0.95 0 1 0 1.9 0a0.95 0.95 0 1 0 -1.9 0" fill="#fff" fill-opacity="0.55"/>
<path d="M477.3 108.1a1.15 1.15 0 1 0 2.3 0a1.15 1.15 0 1 0 -2.3 0M486.2 73.7a1.15 1.15 0 1 0 2.3 0a1.15 1.15 0 1 0 -2.3 0M435.8 88.0a1.15 1.15 0 1 0 2.3 0a1.15 1.15 0 1 0 -2.3 0M511.2 128.9a1.15 1.15 0 1 0 2.3 0a1.15 1.15 0 1 0 -2.3 0M388.9 43.7a1.15 1.15 0 1 0 2.3 0a1.15 1.15 0 1 0 -2.3 0M519.0 86.6a1.15 1.15 0 1 0 2.3 0a1.15 1.15 0 1 0 -2.3 0M452.8 52.8a1.15 1.15 0 1 0 2.3 0a1.15 1.15 0 1 0 -2.3 0M503.2 82.7a1.15 1.15 0 1 0 2.3 0a1.15 1.15 0 1 0 -2.3 0M399.7 64.3a1.15 1.15 0 1 0 2.3 0a1.15 1.15 0 1 0 -2.3 0M470.9 23.9a1.15 1.15 0 1 0 2.3 0a1.15 1.15 0 1 0 -2.3 0M459.8 143.9a1.15 1.15 0 1 0 2.3 0a1.15 1.15 0 1 0 -2.3 0M441.3 118.3a1.15 1.15 0 1 0 2.3 0a1.15 1.15 0 1 0 -2.3 0M464.0 92.2a1.15 1.15 0 1 0 2.3 0a1.15 1.15 0 1 0 -2.3 0M403.3 75.1a1.15 1.15 0 1 0 2.3 0a1.15 1.15 0 1 0 -2.3 0M508.8 105.5a1.15 1.15 0 1 0 2.3 0a1.15 1.15 0 1 0 -2.3 0M409.6 72.6a1.15 1.15 0 1 0 2.3 0a1.15 1.15 0 1 0 -2.3 0M457.0 56.7a1.15 1.15 0 1 0 2.3 0a1.15 1.15 0 1 0 -2.3 0M462.0 99.4a1.15 1.15 0 1 0 2.3 0a1.15 1.15 0 1 0 -2.3 0M473.4 38.9a1.15 1.15 0 1 0 2.3 0a1.15 1.15 0 1 0 -2.3 0M388.7 118.2a1.15 1.15 0 1 0 2.3 0a1.15 1.15 0 1 0 -2.3 0M426.6 146.6a1.15 1.15 0 1 0 2.3 0a1.15 1.15 0 1 0 -2.3 0M459.2 22.6a1.15 1.15 0 1 0 2.3 0a1.15 1.15 0 1 0 -2.3 0M470.6 45.9a1.15 1.15 0 1 0 2.3 0a1.15 1.15 0 1 0 -2.3 0M496.3 112.8a1.15 1.15 0 1 0 2.3 0a1.15 1.15 0 1 0 -2.3 0M488.2 16.2a1.15 1.15 0 1 0 2.3 0a1.15 1.15 0 1 0 -2.3 0M398.5 37.1a1.15 1.15 0 1 0 2.3 0a1.15 1.15 0 1 0 -2.3 0M446.9 146.6a1.15 1.15 0 1 0 2.3 0a1.15 1.15 0 1 0 -2.3 0M424.8 45.5a1.15 1.15 0 1 0 2.3 0a1.15 1.15 0 1 0 -2.3 0" fill="#fff" fill-opacity="1"/>
</g>
</g>
<rect x="379.3" y="7.9" width="145.1" height="144.8" fill="none" stroke="#111" stroke-width="1.2"/>
<text x="383.6" y="19.6" font-size="9.2" font-weight="bold" fill="#fff">U1 snRNP</text>
<text x="383.6" y="30.6" font-size="9.2" fill="#f2f2f2">633 nm</text>
<text x="383.6" y="41.6" font-size="9.2" fill="#f2f2f2">Cy5</text>
<rect x="382.8" y="147.8" width="13.2" height="1.5" fill="#fff" stroke="none" stroke-width="1"/>
<circle cx="435.7" cy="81.4" r="1.8" fill="url(#spotg)" stroke="none" stroke-width="1"/>
<line x1="442.8" y1="74.3" x2="439.2" y2="77.6" stroke="#f5dc10" stroke-width="1.6"/>
<path d="M 436.7 79.9 L 437.3 74.7 L 441.9 79.3 Z" fill="#f5dc10" stroke="none" stroke-width="1"/>
<line x1="454.7" y1="49.2" x2="471.7" y2="9.7" stroke="#d98a1e" stroke-width="0.9"/>
<line x1="454.7" y1="56.3" x2="471.7" y2="59.9" stroke="#d98a1e" stroke-width="0.9"/>
<rect x="471.7" y="9.7" width="51" height="50.2" fill="#3a3a3a" stroke="none" stroke-width="1"/>
<path d="M471.70 9.70h2.37v2.33h-2.37zM471.70 27.95h2.37v2.33h-2.37zM471.70 43.93h2.37v2.33h-2.37zM471.70 50.77h2.37v2.33h-2.37zM471.70 57.62h2.37v2.33h-2.37zM474.02 9.70h2.37v2.33h-2.37zM474.02 30.24h2.37v2.33h-2.37zM474.02 34.80h2.37v2.33h-2.37zM474.02 48.49h2.37v2.33h-2.37zM474.02 55.34h2.37v2.33h-2.37zM476.34 18.83h2.37v2.33h-2.37zM476.34 27.95h2.37v2.33h-2.37zM476.34 34.80h2.37v2.33h-2.37zM476.34 48.49h2.37v2.33h-2.37zM476.34 50.77h2.37v2.33h-2.37zM476.34 53.05h2.37v2.33h-2.37zM478.65 9.70h2.37v2.33h-2.37zM478.65 18.83h2.37v2.33h-2.37zM478.65 27.95h2.37v2.33h-2.37zM478.65 30.24h2.37v2.33h-2.37zM478.65 34.80h2.37v2.33h-2.37zM478.65 37.08h2.37v2.33h-2.37zM478.65 43.93h2.37v2.33h-2.37zM478.65 50.77h2.37v2.33h-2.37zM480.97 30.24h2.37v2.33h-2.37zM480.97 32.52h2.37v2.33h-2.37zM480.97 53.05h2.37v2.33h-2.37zM483.29 14.26h2.37v2.33h-2.37zM483.29 55.34h2.37v2.33h-2.37zM483.29 57.62h2.37v2.33h-2.37zM485.61 27.95h2.37v2.33h-2.37zM485.61 46.21h2.37v2.33h-2.37zM487.93 9.70h2.37v2.33h-2.37zM487.93 39.36h2.37v2.33h-2.37zM487.93 43.93h2.37v2.33h-2.37zM487.93 55.34h2.37v2.33h-2.37zM490.25 9.70h2.37v2.33h-2.37zM490.25 21.11h2.37v2.33h-2.37zM490.25 32.52h2.37v2.33h-2.37zM490.25 41.65h2.37v2.33h-2.37zM490.25 53.05h2.37v2.33h-2.37zM492.56 16.55h2.37v2.33h-2.37zM492.56 30.24h2.37v2.33h-2.37zM494.88 23.39h2.37v2.33h-2.37zM497.20 9.70h2.37v2.33h-2.37zM497.20 23.39h2.37v2.33h-2.37zM497.20 25.67h2.37v2.33h-2.37zM497.20 46.21h2.37v2.33h-2.37zM497.20 50.77h2.37v2.33h-2.37zM497.20 53.05h2.37v2.33h-2.37zM499.52 11.98h2.37v2.33h-2.37zM499.52 23.39h2.37v2.33h-2.37zM501.84 9.70h2.37v2.33h-2.37zM501.84 37.08h2.37v2.33h-2.37zM501.84 53.05h2.37v2.33h-2.37zM504.15 11.98h2.37v2.33h-2.37zM504.15 23.39h2.37v2.33h-2.37zM504.15 25.67h2.37v2.33h-2.37zM504.15 27.95h2.37v2.33h-2.37zM504.15 39.36h2.37v2.33h-2.37zM506.47 16.55h2.37v2.33h-2.37zM506.47 21.11h2.37v2.33h-2.37zM506.47 30.24h2.37v2.33h-2.37zM506.47 48.49h2.37v2.33h-2.37zM506.47 55.34h2.37v2.33h-2.37zM508.79 11.98h2.37v2.33h-2.37zM508.79 14.26h2.37v2.33h-2.37zM508.79 18.83h2.37v2.33h-2.37zM508.79 27.95h2.37v2.33h-2.37zM508.79 39.36h2.37v2.33h-2.37zM508.79 43.93h2.37v2.33h-2.37zM508.79 57.62h2.37v2.33h-2.37zM511.11 14.26h2.37v2.33h-2.37zM511.11 41.65h2.37v2.33h-2.37zM511.11 53.05h2.37v2.33h-2.37zM511.11 55.34h2.37v2.33h-2.37zM513.43 11.98h2.37v2.33h-2.37zM513.43 50.77h2.37v2.33h-2.37zM513.43 55.34h2.37v2.33h-2.37zM513.43 57.62h2.37v2.33h-2.37zM515.75 9.70h2.37v2.33h-2.37zM515.75 14.26h2.37v2.33h-2.37zM515.75 21.11h2.37v2.33h-2.37zM515.75 46.21h2.37v2.33h-2.37zM515.75 48.49h2.37v2.33h-2.37zM518.06 23.39h2.37v2.33h-2.37zM518.06 25.67h2.37v2.33h-2.37zM518.06 37.08h2.37v2.33h-2.37zM518.06 46.21h2.37v2.33h-2.37zM518.06 55.34h2.37v2.33h-2.37zM520.38 9.70h2.37v2.33h-2.37zM520.38 11.98h2.37v2.33h-2.37zM520.38 23.39h2.37v2.33h-2.37zM520.38 25.67h2.37v2.33h-2.37zM520.38 39.36h2.37v2.33h-2.37zM520.38 48.49h2.37v2.33h-2.37z" fill="#404040"/>
<path d="M471.70 11.98h2.37v2.33h-2.37zM471.70 25.67h2.37v2.33h-2.37zM471.70 30.24h2.37v2.33h-2.37zM471.70 34.80h2.37v2.33h-2.37zM471.70 48.49h2.37v2.33h-2.37zM474.02 18.83h2.37v2.33h-2.37zM474.02 21.11h2.37v2.33h-2.37zM476.34 14.26h2.37v2.33h-2.37zM478.65 11.98h2.37v2.33h-2.37zM480.97 14.26h2.37v2.33h-2.37zM480.97 16.55h2.37v2.33h-2.37zM480.97 25.67h2.37v2.33h-2.37zM483.29 9.70h2.37v2.33h-2.37zM483.29 32.52h2.37v2.33h-2.37zM483.29 39.36h2.37v2.33h-2.37zM485.61 9.70h2.37v2.33h-2.37zM485.61 16.55h2.37v2.33h-2.37zM485.61 18.83h2.37v2.33h-2.37zM485.61 21.11h2.37v2.33h-2.37zM485.61 23.39h2.37v2.33h-2.37zM485.61 43.93h2.37v2.33h-2.37zM485.61 48.49h2.37v2.33h-2.37zM485.61 50.77h2.37v2.33h-2.37zM485.61 53.05h2.37v2.33h-2.37zM487.93 14.26h2.37v2.33h-2.37zM487.93 25.67h2.37v2.33h-2.37zM487.93 37.08h2.37v2.33h-2.37zM487.93 41.65h2.37v2.33h-2.37zM487.93 53.05h2.37v2.33h-2.37zM490.25 18.83h2.37v2.33h-2.37zM490.25 48.49h2.37v2.33h-2.37zM490.25 50.77h2.37v2.33h-2.37zM492.56 18.83h2.37v2.33h-2.37zM492.56 32.52h2.37v2.33h-2.37zM492.56 39.36h2.37v2.33h-2.37zM492.56 50.77h2.37v2.33h-2.37zM492.56 55.34h2.37v2.33h-2.37zM492.56 57.62h2.37v2.33h-2.37zM497.20 14.26h2.37v2.33h-2.37zM497.20 21.11h2.37v2.33h-2.37zM497.20 32.52h2.37v2.33h-2.37zM497.20 48.49h2.37v2.33h-2.37zM499.52 25.67h2.37v2.33h-2.37zM499.52 37.08h2.37v2.33h-2.37zM499.52 50.77h2.37v2.33h-2.37zM499.52 53.05h2.37v2.33h-2.37zM499.52 55.34h2.37v2.33h-2.37zM501.84 21.11h2.37v2.33h-2.37zM501.84 23.39h2.37v2.33h-2.37zM501.84 43.93h2.37v2.33h-2.37zM504.15 9.70h2.37v2.33h-2.37zM504.15 14.26h2.37v2.33h-2.37zM504.15 18.83h2.37v2.33h-2.37zM504.15 32.52h2.37v2.33h-2.37zM504.15 34.80h2.37v2.33h-2.37zM504.15 37.08h2.37v2.33h-2.37zM504.15 53.05h2.37v2.33h-2.37zM506.47 18.83h2.37v2.33h-2.37zM506.47 27.95h2.37v2.33h-2.37zM506.47 37.08h2.37v2.33h-2.37zM506.47 57.62h2.37v2.33h-2.37zM508.79 9.70h2.37v2.33h-2.37zM508.79 32.52h2.37v2.33h-2.37zM508.79 41.65h2.37v2.33h-2.37zM508.79 55.34h2.37v2.33h-2.37zM511.11 23.39h2.37v2.33h-2.37zM511.11 25.67h2.37v2.33h-2.37zM513.43 9.70h2.37v2.33h-2.37zM513.43 34.80h2.37v2.33h-2.37zM513.43 46.21h2.37v2.33h-2.37zM515.75 23.39h2.37v2.33h-2.37zM515.75 25.67h2.37v2.33h-2.37zM515.75 30.24h2.37v2.33h-2.37zM515.75 55.34h2.37v2.33h-2.37zM515.75 57.62h2.37v2.33h-2.37zM518.06 9.70h2.37v2.33h-2.37zM518.06 14.26h2.37v2.33h-2.37zM518.06 21.11h2.37v2.33h-2.37zM518.06 39.36h2.37v2.33h-2.37zM520.38 21.11h2.37v2.33h-2.37zM520.38 32.52h2.37v2.33h-2.37zM520.38 53.05h2.37v2.33h-2.37zM520.38 55.34h2.37v2.33h-2.37z" fill="#343434"/>
<path d="M471.70 14.26h2.37v2.33h-2.37zM471.70 16.55h2.37v2.33h-2.37zM471.70 23.39h2.37v2.33h-2.37zM474.02 11.98h2.37v2.33h-2.37zM474.02 25.67h2.37v2.33h-2.37zM474.02 32.52h2.37v2.33h-2.37zM474.02 53.05h2.37v2.33h-2.37zM476.34 37.08h2.37v2.33h-2.37zM476.34 39.36h2.37v2.33h-2.37zM478.65 21.11h2.37v2.33h-2.37zM478.65 46.21h2.37v2.33h-2.37zM478.65 55.34h2.37v2.33h-2.37zM480.97 27.95h2.37v2.33h-2.37zM480.97 37.08h2.37v2.33h-2.37zM480.97 41.65h2.37v2.33h-2.37zM483.29 21.11h2.37v2.33h-2.37zM483.29 43.93h2.37v2.33h-2.37zM483.29 50.77h2.37v2.33h-2.37zM487.93 48.49h2.37v2.33h-2.37zM490.25 25.67h2.37v2.33h-2.37zM490.25 27.95h2.37v2.33h-2.37zM490.25 43.93h2.37v2.33h-2.37zM492.56 23.39h2.37v2.33h-2.37zM492.56 25.67h2.37v2.33h-2.37zM492.56 34.80h2.37v2.33h-2.37zM492.56 43.93h2.37v2.33h-2.37zM492.56 46.21h2.37v2.33h-2.37zM494.88 18.83h2.37v2.33h-2.37zM494.88 27.95h2.37v2.33h-2.37zM494.88 30.24h2.37v2.33h-2.37zM494.88 50.77h2.37v2.33h-2.37zM494.88 55.34h2.37v2.33h-2.37zM497.20 27.95h2.37v2.33h-2.37zM497.20 30.24h2.37v2.33h-2.37zM497.20 37.08h2.37v2.33h-2.37zM497.20 57.62h2.37v2.33h-2.37zM499.52 39.36h2.37v2.33h-2.37zM499.52 43.93h2.37v2.33h-2.37zM501.84 30.24h2.37v2.33h-2.37zM504.15 30.24h2.37v2.33h-2.37zM504.15 50.77h2.37v2.33h-2.37zM504.15 57.62h2.37v2.33h-2.37zM506.47 14.26h2.37v2.33h-2.37zM506.47 23.39h2.37v2.33h-2.37zM506.47 34.80h2.37v2.33h-2.37zM506.47 41.65h2.37v2.33h-2.37zM508.79 50.77h2.37v2.33h-2.37zM508.79 53.05h2.37v2.33h-2.37zM511.11 16.55h2.37v2.33h-2.37zM511.11 37.08h2.37v2.33h-2.37zM511.11 43.93h2.37v2.33h-2.37zM513.43 25.67h2.37v2.33h-2.37zM513.43 37.08h2.37v2.33h-2.37zM513.43 48.49h2.37v2.33h-2.37zM515.75 18.83h2.37v2.33h-2.37zM515.75 34.80h2.37v2.33h-2.37zM515.75 53.05h2.37v2.33h-2.37zM518.06 27.95h2.37v2.33h-2.37zM520.38 37.08h2.37v2.33h-2.37zM520.38 41.65h2.37v2.33h-2.37zM520.38 46.21h2.37v2.33h-2.37z" fill="#2e2e2e"/>
<path d="M471.70 37.08h2.37v2.33h-2.37zM483.29 11.98h2.37v2.33h-2.37zM483.29 53.05h2.37v2.33h-2.37zM485.61 34.80h2.37v2.33h-2.37zM487.93 57.62h2.37v2.33h-2.37zM490.25 30.24h2.37v2.33h-2.37zM492.56 48.49h2.37v2.33h-2.37z" fill="#222222"/>
<path d="M471.70 46.21h2.37v2.33h-2.37zM474.02 14.26h2.37v2.33h-2.37zM474.02 27.95h2.37v2.33h-2.37zM474.02 41.65h2.37v2.33h-2.37zM474.02 57.62h2.37v2.33h-2.37zM476.34 21.11h2.37v2.33h-2.37zM476.34 25.67h2.37v2.33h-2.37zM478.65 39.36h2.37v2.33h-2.37zM478.65 53.05h2.37v2.33h-2.37zM480.97 23.39h2.37v2.33h-2.37zM480.97 39.36h2.37v2.33h-2.37zM480.97 43.93h2.37v2.33h-2.37zM483.29 16.55h2.37v2.33h-2.37zM483.29 18.83h2.37v2.33h-2.37zM483.29 34.80h2.37v2.33h-2.37zM485.61 25.67h2.37v2.33h-2.37zM485.61 30.24h2.37v2.33h-2.37zM485.61 39.36h2.37v2.33h-2.37zM487.93 32.52h2.37v2.33h-2.37zM490.25 11.98h2.37v2.33h-2.37zM490.25 37.08h2.37v2.33h-2.37zM492.56 37.08h2.37v2.33h-2.37zM494.88 9.70h2.37v2.33h-2.37zM494.88 16.55h2.37v2.33h-2.37zM494.88 39.36h2.37v2.33h-2.37zM494.88 48.49h2.37v2.33h-2.37zM497.20 55.34h2.37v2.33h-2.37zM499.52 9.70h2.37v2.33h-2.37zM499.52 16.55h2.37v2.33h-2.37zM499.52 27.95h2.37v2.33h-2.37zM499.52 30.24h2.37v2.33h-2.37zM499.52 41.65h2.37v2.33h-2.37zM501.84 11.98h2.37v2.33h-2.37zM501.84 16.55h2.37v2.33h-2.37zM501.84 18.83h2.37v2.33h-2.37zM501.84 25.67h2.37v2.33h-2.37zM501.84 27.95h2.37v2.33h-2.37zM501.84 32.52h2.37v2.33h-2.37zM501.84 39.36h2.37v2.33h-2.37zM501.84 48.49h2.37v2.33h-2.37zM504.15 41.65h2.37v2.33h-2.37zM504.15 46.21h2.37v2.33h-2.37zM504.15 48.49h2.37v2.33h-2.37zM506.47 25.67h2.37v2.33h-2.37zM506.47 32.52h2.37v2.33h-2.37zM506.47 43.93h2.37v2.33h-2.37zM506.47 50.77h2.37v2.33h-2.37zM506.47 53.05h2.37v2.33h-2.37zM508.79 16.55h2.37v2.33h-2.37zM508.79 34.80h2.37v2.33h-2.37zM511.11 18.83h2.37v2.33h-2.37zM511.11 27.95h2.37v2.33h-2.37zM511.11 46.21h2.37v2.33h-2.37zM511.11 48.49h2.37v2.33h-2.37zM511.11 50.77h2.37v2.33h-2.37zM513.43 14.26h2.37v2.33h-2.37zM515.75 32.52h2.37v2.33h-2.37zM515.75 37.08h2.37v2.33h-2.37zM515.75 43.93h2.37v2.33h-2.37zM518.06 41.65h2.37v2.33h-2.37zM520.38 18.83h2.37v2.33h-2.37zM520.38 30.24h2.37v2.33h-2.37z" fill="#464646"/>
<path d="M474.02 50.77h2.37v2.33h-2.37zM476.34 9.70h2.37v2.33h-2.37zM476.34 32.52h2.37v2.33h-2.37zM476.34 43.93h2.37v2.33h-2.37zM480.97 57.62h2.37v2.33h-2.37zM483.29 30.24h2.37v2.33h-2.37zM483.29 41.65h2.37v2.33h-2.37zM487.93 27.95h2.37v2.33h-2.37zM487.93 34.80h2.37v2.33h-2.37zM490.25 46.21h2.37v2.33h-2.37zM492.56 41.65h2.37v2.33h-2.37zM494.88 41.65h2.37v2.33h-2.37zM494.88 46.21h2.37v2.33h-2.37zM501.84 57.62h2.37v2.33h-2.37zM504.15 16.55h2.37v2.33h-2.37zM506.47 11.98h2.37v2.33h-2.37zM506.47 39.36h2.37v2.33h-2.37zM511.11 32.52h2.37v2.33h-2.37zM513.43 21.11h2.37v2.33h-2.37zM513.43 27.95h2.37v2.33h-2.37zM513.43 41.65h2.37v2.33h-2.37zM513.43 53.05h2.37v2.33h-2.37zM518.06 53.05h2.37v2.33h-2.37zM520.38 34.80h2.37v2.33h-2.37z" fill="#282828"/>
<path d="M476.34 23.39h2.37v2.33h-2.37zM476.34 46.21h2.37v2.33h-2.37zM483.29 25.67h2.37v2.33h-2.37zM483.29 37.08h2.37v2.33h-2.37zM483.29 46.21h2.37v2.33h-2.37zM485.61 32.52h2.37v2.33h-2.37zM492.56 53.05h2.37v2.33h-2.37zM494.88 32.52h2.37v2.33h-2.37zM497.20 39.36h2.37v2.33h-2.37zM501.84 14.26h2.37v2.33h-2.37zM501.84 41.65h2.37v2.33h-2.37zM506.47 9.70h2.37v2.33h-2.37zM508.79 25.67h2.37v2.33h-2.37zM508.79 30.24h2.37v2.33h-2.37zM511.11 39.36h2.37v2.33h-2.37zM513.43 18.83h2.37v2.33h-2.37zM515.75 41.65h2.37v2.33h-2.37zM518.06 43.93h2.37v2.33h-2.37z" fill="#4c4c4c"/>
<path d="M483.29 23.39h2.37v2.33h-2.37zM499.52 57.62h2.37v2.33h-2.37zM511.11 34.80h2.37v2.33h-2.37zM520.38 16.55h2.37v2.33h-2.37z" fill="#525252"/>
<path d="M487.93 16.55h2.37v2.33h-2.37zM518.06 32.52h2.37v2.33h-2.37z" fill="#585858"/>
<circle cx="485.4" cy="22.3" r="3.1" fill="url(#spotg)" stroke="none" stroke-width="1" opacity="0.8"/>
<rect x="480.2" y="17.1" width="10.4" height="10.4" fill="none" stroke="#f4f4f4" stroke-width="1.0"/>
<circle cx="502.3" cy="19.05" r="3.1" fill="url(#spotg)" stroke="none" stroke-width="1" opacity="0.8"/>
<rect x="497.1" y="14.3" width="10.4" height="9.5" fill="none" stroke="#f4f4f4" stroke-width="1.0"/>
<circle cx="479.35" cy="37.25" r="3.1" fill="url(#spotg)" stroke="none" stroke-width="1" opacity="0.8"/>
<rect x="474.2" y="32.1" width="10.3" height="10.3" fill="none" stroke="#f4f4f4" stroke-width="1.0"/>
<circle cx="505.2" cy="51.2" r="3.1" fill="url(#spotg)" stroke="none" stroke-width="1" opacity="0.8"/>
<rect x="500.2" y="46.1" width="10" height="10.2" fill="none" stroke="#f4f4f4" stroke-width="1.0"/>
<circle cx="516.3" cy="52.6" r="3.1" fill="url(#spotg)" stroke="none" stroke-width="1" opacity="0.8"/>
<rect x="511" y="47.4" width="10.6" height="10.4" fill="none" stroke="#f4f4f4" stroke-width="1.0"/>
<rect x="471.7" y="9.7" width="51" height="50.2" fill="none" stroke="#d98a1e" stroke-width="1.1"/>
<rect x="447.8" y="49.2" width="6.9" height="7.1" fill="none" stroke="#d98a1e" stroke-width="1.0"/>
<rect x="476.4" y="56.3" width="9.5" height="1.3" fill="#fff" stroke="none" stroke-width="1"/>
<clipPath id="clip2"><rect x="535.4" y="7.9" width="145.3" height="144.8"/></clipPath>
<clipPath id="cc2"><circle cx="609.9" cy="80.5" r="75.5"/></clipPath>
<g clip-path="url(#clip2)">
<rect x="535.4" y="7.9" width="145.3" height="144.8" fill="#343434" stroke="none" stroke-width="1"/>
<circle cx="609.9" cy="80.5" r="75.5" fill="#4f4f4f" stroke="none" stroke-width="1"/>
<rect x="535.4" y="7.9" width="145.3" height="144.8" fill="#fff" stroke="none" stroke-width="1" filter="url(#grain)" opacity="0.10"/>
<g clip-path="url(#cc2)" filter="url(#soft)">
<path d="M603.6 103.1a0.8 0.8 0 1 0 1.6 0a0.8 0.8 0 1 0 -1.6 0M631.4 28.5a0.8 0.8 0 1 0 1.6 0a0.8 0.8 0 1 0 -1.6 0M536.2 62.2a0.8 0.8 0 1 0 1.6 0a0.8 0.8 0 1 0 -1.6 0M574.4 125.2a0.8 0.8 0 1 0 1.6 0a0.8 0.8 0 1 0 -1.6 0M634.9 95.0a0.8 0.8 0 1 0 1.6 0a0.8 0.8 0 1 0 -1.6 0M615.7 103.7a0.8 0.8 0 1 0 1.6 0a0.8 0.8 0 1 0 -1.6 0M555.7 71.6a0.8 0.8 0 1 0 1.6 0a0.8 0.8 0 1 0 -1.6 0M545.4 107.4a0.8 0.8 0 1 0 1.6 0a0.8 0.8 0 1 0 -1.6 0M583.6 66.5a0.8 0.8 0 1 0 1.6 0a0.8 0.8 0 1 0 -1.6 0M608.5 21.1a0.8 0.8 0 1 0 1.6 0a0.8 0.8 0 1 0 -1.6 0M551.0 69.2a0.8 0.8 0 1 0 1.6 0a0.8 0.8 0 1 0 -1.6 0M554.2 53.2a0.8 0.8 0 1 0 1.6 0a0.8 0.8 0 1 0 -1.6 0M624.9 31.6a0.8 0.8 0 1 0 1.6 0a0.8 0.8 0 1 0 -1.6 0M635.9 15.3a0.8 0.8 0 1 0 1.6 0a0.8 0.8 0 1 0 -1.6 0M559.5 126.0a0.8 0.8 0 1 0 1.6 0a0.8 0.8 0 1 0 -1.6 0M592.8 68.5a0.8 0.8 0 1 0 1.6 0a0.8 0.8 0 1 0 -1.6 0M621.2 76.9a0.8 0.8 0 1 0 1.6 0a0.8 0.8 0 1 0 -1.6 0M590.5 12.3a0.8 0.8 0 1 0 1.6 0a0.8 0.8 0 1 0 -1.6 0M640.1 148.0a0.8 0.8 0 1 0 1.6 0a0.8 0.8 0 1 0 -1.6 0M676.5 104.0a0.8 0.8 0 1 0 1.6 0a0.8 0.8 0 1 0 -1.6 0M586.4 60.5a0.8 0.8 0 1 0 1.6 0a0.8 0.8 0 1 0 -1.6 0M634.9 105.5a0.8 0.8 0 1 0 1.6 0a0.8 0.8 0 1 0 -1.6 0M551.1 41.9a0.8 0.8 0 1 0 1.6 0a0.8 0.8 0 1 0 -1.6 0M587.4 81.9a0.8 0.8 0 1 0 1.6 0a0.8 0.8 0 1 0 -1.6 0M652.3 80.3a0.8 0.8 0 1 0 1.6 0a0.8 0.8 0 1 0 -1.6 0M597.1 83.1a0.8 0.8 0 1 0 1.6 0a0.8 0.8 0 1 0 -1.6 0M566.9 69.8a0.8 0.8 0 1 0 1.6 0a0.8 0.8 0 1 0 -1.6 0M591.0 119.7a0.8 0.8 0 1 0 1.6 0a0.8 0.8 0 1 0 -1.6 0M549.5 87.5a0.8 0.8 0 1 0 1.6 0a0.8 0.8 0 1 0 -1.6 0M560.5 108.7a0.8 0.8 0 1 0 1.6 0a0.8 0.8 0 1 0 -1.6 0M540.0 47.9a0.8 0.8 0 1 0 1.6 0a0.8 0.8 0 1 0 -1.6 0M584.6 100.1a0.8 0.8 0 1 0 1.6 0a0.8 0.8 0 1 0 -1.6 0M542.2 74.4a0.8 0.8 0 1 0 1.6 0a0.8 0.8 0 1 0 -1.6 0M564.9 48.7a0.8 0.8 0 1 0 1.6 0a0.8 0.8 0 1 0 -1.6 0M603.8 146.7a0.8 0.8 0 1 0 1.6 0a0.8 0.8 0 1 0 -1.6 0M604.5 146.3a0.8 0.8 0 1 0 1.6 0a0.8 0.8 0 1 0 -1.6 0M587.5 35.3a0.8 0.8 0 1 0 1.6 0a0.8 0.8 0 1 0 -1.6 0M643.4 140.0a0.8 0.8 0 1 0 1.6 0a0.8 0.8 0 1 0 -1.6 0M646.6 57.4a0.8 0.8 0 1 0 1.6 0a0.8 0.8 0 1 0 -1.6 0M540.4 97.5a0.8 0.8 0 1 0 1.6 0a0.8 0.8 0 1 0 -1.6 0M607.8 11.4a0.8 0.8 0 1 0 1.6 0a0.8 0.8 0 1 0 -1.6 0M581.5 121.9a0.8 0.8 0 1 0 1.6 0a0.8 0.8 0 1 0 -1.6 0M655.5 100.5a0.8 0.8 0 1 0 1.6 0a0.8 0.8 0 1 0 -1.6 0M567.9 84.2a0.8 0.8 0 1 0 1.6 0a0.8 0.8 0 1 0 -1.6 0M604.0 98.7a0.8 0.8 0 1 0 1.6 0a0.8 0.8 0 1 0 -1.6 0M572.8 145.0a0.8 0.8 0 1 0 1.6 0a0.8 0.8 0 1 0 -1.6 0M664.5 31.4a0.8 0.8 0 1 0 1.6 0a0.8 0.8 0 1 0 -1.6 0M576.9 134.3a0.8 0.8 0 1 0 1.6 0a0.8 0.8 0 1 0 -1.6 0M575.0 144.6a0.8 0.8 0 1 0 1.6 0a0.8 0.8 0 1 0 -1.6 0M609.5 108.7a0.8 0.8 0 1 0 1.6 0a0.8 0.8 0 1 0 -1.6 0M637.0 38.9a0.8 0.8 0 1 0 1.6 0a0.8 0.8 0 1 0 -1.6 0M576.0 44.8a0.8 0.8 0 1 0 1.6 0a0.8 0.8 0 1 0 -1.6 0M633.9 108.4a0.8 0.8 0 1 0 1.6 0a0.8 0.8 0 1 0 -1.6 0M595.7 42.8a0.8 0.8 0 1 0 1.6 0a0.8 0.8 0 1 0 -1.6 0M597.8 149.7a0.8 0.8 0 1 0 1.6 0a0.8 0.8 0 1 0 -1.6 0M616.0 98.4a0.8 0.8 0 1 0 1.6 0a0.8 0.8 0 1 0 -1.6 0M645.1 68.4a0.8 0.8 0 1 0 1.6 0a0.8 0.8 0 1 0 -1.6 0M620.1 138.4a0.8 0.8 0 1 0 1.6 0a0.8 0.8 0 1 0 -1.6 0M649.3 91.9a0.8 0.8 0 1 0 1.6 0a0.8 0.8 0 1 0 -1.6 0M585.1 61.3a0.8 0.8 0 1 0 1.6 0a0.8 0.8 0 1 0 -1.6 0M641.5 89.5a0.8 0.8 0 1 0 1.6 0a0.8 0.8 0 1 0 -1.6 0M665.9 123.4a0.8 0.8 0 1 0 1.6 0a0.8 0.8 0 1 0 -1.6 0M612.3 122.2a0.8 0.8 0 1 0 1.6 0a0.8 0.8 0 1 0 -1.6 0M589.7 22.1a0.8 0.8 0 1 0 1.6 0a0.8 0.8 0 1 0 -1.6 0M585.9 53.1a0.8 0.8 0 1 0 1.6 0a0.8 0.8 0 1 0 -1.6 0M670.3 107.7a0.8 0.8 0 1 0 1.6 0a0.8 0.8 0 1 0 -1.6 0M613.3 98.0a0.8 0.8 0 1 0 1.6 0a0.8 0.8 0 1 0 -1.6 0M552.7 85.3a0.8 0.8 0 1 0 1.6 0a0.8 0.8 0 1 0 -1.6 0M636.4 65.0a0.8 0.8 0 1 0 1.6 0a0.8 0.8 0 1 0 -1.6 0M570.3 66.8a0.8 0.8 0 1 0 1.6 0a0.8 0.8 0 1 0 -1.6 0M581.6 107.1a0.8 0.8 0 1 0 1.6 0a0.8 0.8 0 1 0 -1.6 0M580.0 108.6a0.8 0.8 0 1 0 1.6 0a0.8 0.8 0 1 0 -1.6 0M645.0 103.4a0.8 0.8 0 1 0 1.6 0a0.8 0.8 0 1 0 -1.6 0M670.4 60.8a0.8 0.8 0 1 0 1.6 0a0.8 0.8 0 1 0 -1.6 0M538.9 78.5a0.8 0.8 0 1 0 1.6 0a0.8 0.8 0 1 0 -1.6 0M599.1 33.9a0.8 0.8 0 1 0 1.6 0a0.8 0.8 0 1 0 -1.6 0M631.6 57.3a0.8 0.8 0 1 0 1.6 0a0.8 0.8 0 1 0 -1.6 0M569.2 55.3a0.8 0.8 0 1 0 1.6 0a0.8 0.8 0 1 0 -1.6 0M587.0 48.4a0.8 0.8 0 1 0 1.6 0a0.8 0.8 0 1 0 -1.6 0M563.9 70.5a0.8 0.8 0 1 0 1.6 0a0.8 0.8 0 1 0 -1.6 0M566.6 141.0a0.8 0.8 0 1 0 1.6 0a0.8 0.8 0 1 0 -1.6 0M607.4 109.0a0.8 0.8 0 1 0 1.6 0a0.8 0.8 0 1 0 -1.6 0M558.2 75.2a0.8 0.8 0 1 0 1.6 0a0.8 0.8 0 1 0 -1.6 0M622.7 129.9a0.8 0.8 0 1 0 1.6 0a0.8 0.8 0 1 0 -1.6 0M570.9 74.5a0.8 0.8 0 1 0 1.6 0a0.8 0.8 0 1 0 -1.6 0M658.8 128.3a0.8 0.8 0 1 0 1.6 0a0.8 0.8 0 1 0 -1.6 0M567.7 85.8a0.8 0.8 0 1 0 1.6 0a0.8 0.8 0 1 0 -1.6 0M645.2 65.1a0.8 0.8 0 1 0 1.6 0a0.8 0.8 0 1 0 -1.6 0M632.4 103.9a0.8 0.8 0 1 0 1.6 0a0.8 0.8 0 1 0 -1.6 0M675.9 88.1a0.8 0.8 0 1 0 1.6 0a0.8 0.8 0 1 0 -1.6 0M633.5 58.6a0.8 0.8 0 1 0 1.6 0a0.8 0.8 0 1 0 -1.6 0M641.0 54.6a0.8 0.8 0 1 0 1.6 0a0.8 0.8 0 1 0 -1.6 0M607.2 60.1a0.8 0.8 0 1 0 1.6 0a0.8 0.8 0 1 0 -1.6 0M579.2 27.6a0.8 0.8 0 1 0 1.6 0a0.8 0.8 0 1 0 -1.6 0M567.4 86.7a0.8 0.8 0 1 0 1.6 0a0.8 0.8 0 1 0 -1.6 0M571.2 14.5a0.8 0.8 0 1 0 1.6 0a0.8 0.8 0 1 0 -1.6 0M651.4 49.3a0.8 0.8 0 1 0 1.6 0a0.8 0.8 0 1 0 -1.6 0M670.6 94.6a0.8 0.8 0 1 0 1.6 0a0.8 0.8 0 1 0 -1.6 0M591.1 134.3a0.8 0.8 0 1 0 1.6 0a0.8 0.8 0 1 0 -1.6 0M665.0 54.4a0.8 0.8 0 1 0 1.6 0a0.8 0.8 0 1 0 -1.6 0M552.9 100.7a0.8 0.8 0 1 0 1.6 0a0.8 0.8 0 1 0 -1.6 0M657.0 96.0a0.8 0.8 0 1 0 1.6 0a0.8 0.8 0 1 0 -1.6 0M648.6 67.6a0.8 0.8 0 1 0 1.6 0a0.8 0.8 0 1 0 -1.6 0M624.4 46.0a0.8 0.8 0 1 0 1.6 0a0.8 0.8 0 1 0 -1.6 0M593.7 62.9a0.8 0.8 0 1 0 1.6 0a0.8 0.8 0 1 0 -1.6 0M590.5 65.8a0.8 0.8 0 1 0 1.6 0a0.8 0.8 0 1 0 -1.6 0M651.9 32.5a0.8 0.8 0 1 0 1.6 0a0.8 0.8 0 1 0 -1.6 0M564.4 44.8a0.8 0.8 0 1 0 1.6 0a0.8 0.8 0 1 0 -1.6 0M675.7 83.6a0.8 0.8 0 1 0 1.6 0a0.8 0.8 0 1 0 -1.6 0M661.5 126.8a0.8 0.8 0 1 0 1.6 0a0.8 0.8 0 1 0 -1.6 0M586.7 114.3a0.8 0.8 0 1 0 1.6 0a0.8 0.8 0 1 0 -1.6 0M579.0 27.8a0.8 0.8 0 1 0 1.6 0a0.8 0.8 0 1 0 -1.6 0M660.3 128.5a0.8 0.8 0 1 0 1.6 0a0.8 0.8 0 1 0 -1.6 0M565.3 135.3a0.8 0.8 0 1 0 1.6 0a0.8 0.8 0 1 0 -1.6 0M538.2 52.6a0.8 0.8 0 1 0 1.6 0a0.8 0.8 0 1 0 -1.6 0M558.3 111.6a0.8 0.8 0 1 0 1.6 0a0.8 0.8 0 1 0 -1.6 0M577.7 35.4a0.8 0.8 0 1 0 1.6 0a0.8 0.8 0 1 0 -1.6 0M561.3 53.1a0.8 0.8 0 1 0 1.6 0a0.8 0.8 0 1 0 -1.6 0M659.9 95.8a0.8 0.8 0 1 0 1.6 0a0.8 0.8 0 1 0 -1.6 0M549.5 107.1a0.8 0.8 0 1 0 1.6 0a0.8 0.8 0 1 0 -1.6 0M612.5 72.8a0.8 0.8 0 1 0 1.6 0a0.8 0.8 0 1 0 -1.6 0M611.3 102.2a0.8 0.8 0 1 0 1.6 0a0.8 0.8 0 1 0 -1.6 0M650.9 81.1a0.8 0.8 0 1 0 1.6 0a0.8 0.8 0 1 0 -1.6 0M626.9 75.6a0.8 0.8 0 1 0 1.6 0a0.8 0.8 0 1 0 -1.6 0M626.7 64.2a0.8 0.8 0 1 0 1.6 0a0.8 0.8 0 1 0 -1.6 0M594.9 82.7a0.8 0.8 0 1 0 1.6 0a0.8 0.8 0 1 0 -1.6 0M638.5 48.2a0.8 0.8 0 1 0 1.6 0a0.8 0.8 0 1 0 -1.6 0M669.0 79.1a0.8 0.8 0 1 0 1.6 0a0.8 0.8 0 1 0 -1.6 0M658.9 107.9a0.8 0.8 0 1 0 1.6 0a0.8 0.8 0 1 0 -1.6 0M673.6 106.7a0.8 0.8 0 1 0 1.6 0a0.8 0.8 0 1 0 -1.6 0M596.6 66.7a0.8 0.8 0 1 0 1.6 0a0.8 0.8 0 1 0 -1.6 0M622.9 117.1a0.8 0.8 0 1 0 1.6 0a0.8 0.8 0 1 0 -1.6 0M656.5 26.6a0.8 0.8 0 1 0 1.6 0a0.8 0.8 0 1 0 -1.6 0M551.0 107.1a0.8 0.8 0 1 0 1.6 0a0.8 0.8 0 1 0 -1.6 0M624.1 147.7a0.8 0.8 0 1 0 1.6 0a0.8 0.8 0 1 0 -1.6 0M674.2 116.0a0.8 0.8 0 1 0 1.6 0a0.8 0.8 0 1 0 -1.6 0M567.7 142.0a0.8 0.8 0 1 0 1.6 0a0.8 0.8 0 1 0 -1.6 0M603.7 37.8a0.8 0.8 0 1 0 1.6 0a0.8 0.8 0 1 0 -1.6 0M644.6 69.2a0.8 0.8 0 1 0 1.6 0a0.8 0.8 0 1 0 -1.6 0M613.5 53.6a0.8 0.8 0 1 0 1.6 0a0.8 0.8 0 1 0 -1.6 0M569.7 20.5a0.8 0.8 0 1 0 1.6 0a0.8 0.8 0 1 0 -1.6 0M622.8 145.9a0.8 0.8 0 1 0 1.6 0a0.8 0.8 0 1 0 -1.6 0M670.2 60.4a0.8 0.8 0 1 0 1.6 0a0.8 0.8 0 1 0 -1.6 0M577.9 141.6a0.8 0.8 0 1 0 1.6 0a0.8 0.8 0 1 0 -1.6 0M621.8 104.8a0.8 0.8 0 1 0 1.6 0a0.8 0.8 0 1 0 -1.6 0M604.7 113.7a0.8 0.8 0 1 0 1.6 0a0.8 0.8 0 1 0 -1.6 0M654.6 117.6a0.8 0.8 0 1 0 1.6 0a0.8 0.8 0 1 0 -1.6 0M584.0 63.2a0.8 0.8 0 1 0 1.6 0a0.8 0.8 0 1 0 -1.6 0M605.1 36.1a0.8 0.8 0 1 0 1.6 0a0.8 0.8 0 1 0 -1.6 0M625.3 85.5a0.8 0.8 0 1 0 1.6 0a0.8 0.8 0 1 0 -1.6 0M587.2 41.3a0.8 0.8 0 1 0 1.6 0a0.8 0.8 0 1 0 -1.6 0M590.6 96.6a0.8 0.8 0 1 0 1.6 0a0.8 0.8 0 1 0 -1.6 0M553.0 86.2a0.8 0.8 0 1 0 1.6 0a0.8 0.8 0 1 0 -1.6 0M673.0 115.8a0.8 0.8 0 1 0 1.6 0a0.8 0.8 0 1 0 -1.6 0M571.2 68.5a0.8 0.8 0 1 0 1.6 0a0.8 0.8 0 1 0 -1.6 0M549.5 114.6a0.8 0.8 0 1 0 1.6 0a0.8 0.8 0 1 0 -1.6 0M626.4 32.9a0.8 0.8 0 1 0 1.6 0a0.8 0.8 0 1 0 -1.6 0M614.2 94.2a0.8 0.8 0 1 0 1.6 0a0.8 0.8 0 1 0 -1.6 0M618.5 62.7a0.8 0.8 0 1 0 1.6 0a0.8 0.8 0 1 0 -1.6 0M579.6 59.3a0.8 0.8 0 1 0 1.6 0a0.8 0.8 0 1 0 -1.6 0M679.5 55.7a0.8 0.8 0 1 0 1.6 0a0.8 0.8 0 1 0 -1.6 0M607.6 74.5a0.8 0.8 0 1 0 1.6 0a0.8 0.8 0 1 0 -1.6 0M559.7 65.8a0.8 0.8 0 1 0 1.6 0a0.8 0.8 0 1 0 -1.6 0M564.4 54.6a0.8 0.8 0 1 0 1.6 0a0.8 0.8 0 1 0 -1.6 0M587.9 58.6a0.8 0.8 0 1 0 1.6 0a0.8 0.8 0 1 0 -1.6 0M670.9 50.9a0.8 0.8 0 1 0 1.6 0a0.8 0.8 0 1 0 -1.6 0M582.9 103.1a0.8 0.8 0 1 0 1.6 0a0.8 0.8 0 1 0 -1.6 0M592.3 82.6a0.8 0.8 0 1 0 1.6 0a0.8 0.8 0 1 0 -1.6 0M628.7 18.6a0.8 0.8 0 1 0 1.6 0a0.8 0.8 0 1 0 -1.6 0M632.2 22.5a0.8 0.8 0 1 0 1.6 0a0.8 0.8 0 1 0 -1.6 0M571.0 125.2a0.8 0.8 0 1 0 1.6 0a0.8 0.8 0 1 0 -1.6 0M678.4 105.5a0.8 0.8 0 1 0 1.6 0a0.8 0.8 0 1 0 -1.6 0M559.5 71.4a0.8 0.8 0 1 0 1.6 0a0.8 0.8 0 1 0 -1.6 0M575.7 129.7a0.8 0.8 0 1 0 1.6 0a0.8 0.8 0 1 0 -1.6 0M568.5 36.3a0.8 0.8 0 1 0 1.6 0a0.8 0.8 0 1 0 -1.6 0M627.3 100.2a0.8 0.8 0 1 0 1.6 0a0.8 0.8 0 1 0 -1.6 0M620.3 77.2a0.8 0.8 0 1 0 1.6 0a0.8 0.8 0 1 0 -1.6 0M674.0 74.3a0.8 0.8 0 1 0 1.6 0a0.8 0.8 0 1 0 -1.6 0M670.7 64.6a0.8 0.8 0 1 0 1.6 0a0.8 0.8 0 1 0 -1.6 0M602.2 59.9a0.8 0.8 0 1 0 1.6 0a0.8 0.8 0 1 0 -1.6 0M638.5 116.7a0.8 0.8 0 1 0 1.6 0a0.8 0.8 0 1 0 -1.6 0M569.4 84.1a0.8 0.8 0 1 0 1.6 0a0.8 0.8 0 1 0 -1.6 0M640.2 80.5a0.8 0.8 0 1 0 1.6 0a0.8 0.8 0 1 0 -1.6 0M630.8 97.1a0.8 0.8 0 1 0 1.6 0a0.8 0.8 0 1 0 -1.6 0M638.4 59.3a0.8 0.8 0 1 0 1.6 0a0.8 0.8 0 1 0 -1.6 0M579.1 11.5a0.8 0.8 0 1 0 1.6 0a0.8 0.8 0 1 0 -1.6 0M664.0 122.3a0.8 0.8 0 1 0 1.6 0a0.8 0.8 0 1 0 -1.6 0M591.3 148.0a0.8 0.8 0 1 0 1.6 0a0.8 0.8 0 1 0 -1.6 0M665.7 29.8a0.8 0.8 0 1 0 1.6 0a0.8 0.8 0 1 0 -1.6 0M656.2 68.8a0.8 0.8 0 1 0 1.6 0a0.8 0.8 0 1 0 -1.6 0M580.3 45.4a0.8 0.8 0 1 0 1.6 0a0.8 0.8 0 1 0 -1.6 0M594.7 15.4a0.8 0.8 0 1 0 1.6 0a0.8 0.8 0 1 0 -1.6 0M579.3 30.9a0.8 0.8 0 1 0 1.6 0a0.8 0.8 0 1 0 -1.6 0M552.3 128.4a0.8 0.8 0 1 0 1.6 0a0.8 0.8 0 1 0 -1.6 0M589.8 78.9a0.8 0.8 0 1 0 1.6 0a0.8 0.8 0 1 0 -1.6 0M622.0 143.0a0.8 0.8 0 1 0 1.6 0a0.8 0.8 0 1 0 -1.6 0M555.8 40.9a0.8 0.8 0 1 0 1.6 0a0.8 0.8 0 1 0 -1.6 0M670.0 84.4a0.8 0.8 0 1 0 1.6 0a0.8 0.8 0 1 0 -1.6 0M587.9 35.2a0.8 0.8 0 1 0 1.6 0a0.8 0.8 0 1 0 -1.6 0M666.9 118.7a0.8 0.8 0 1 0 1.6 0a0.8 0.8 0 1 0 -1.6 0M614.8 122.5a0.8 0.8 0 1 0 1.6 0a0.8 0.8 0 1 0 -1.6 0M572.5 85.2a0.8 0.8 0 1 0 1.6 0a0.8 0.8 0 1 0 -1.6 0M624.3 34.7a0.8 0.8 0 1 0 1.6 0a0.8 0.8 0 1 0 -1.6 0M656.3 129.4a0.8 0.8 0 1 0 1.6 0a0.8 0.8 0 1 0 -1.6 0M628.2 71.0a0.8 0.8 0 1 0 1.6 0a0.8 0.8 0 1 0 -1.6 0M537.7 79.4a0.8 0.8 0 1 0 1.6 0a0.8 0.8 0 1 0 -1.6 0M586.8 65.8a0.8 0.8 0 1 0 1.6 0a0.8 0.8 0 1 0 -1.6 0M610.4 89.2a0.8 0.8 0 1 0 1.6 0a0.8 0.8 0 1 0 -1.6 0M657.0 137.7a0.8 0.8 0 1 0 1.6 0a0.8 0.8 0 1 0 -1.6 0M614.5 86.7a0.8 0.8 0 1 0 1.6 0a0.8 0.8 0 1 0 -1.6 0M657.7 61.8a0.8 0.8 0 1 0 1.6 0a0.8 0.8 0 1 0 -1.6 0M650.3 84.3a0.8 0.8 0 1 0 1.6 0a0.8 0.8 0 1 0 -1.6 0M625.0 151.3a0.8 0.8 0 1 0 1.6 0a0.8 0.8 0 1 0 -1.6 0M566.5 66.9a0.8 0.8 0 1 0 1.6 0a0.8 0.8 0 1 0 -1.6 0M650.8 116.0a0.8 0.8 0 1 0 1.6 0a0.8 0.8 0 1 0 -1.6 0M610.8 120.4a0.8 0.8 0 1 0 1.6 0a0.8 0.8 0 1 0 -1.6 0M633.0 133.8a0.8 0.8 0 1 0 1.6 0a0.8 0.8 0 1 0 -1.6 0M629.1 60.5a0.8 0.8 0 1 0 1.6 0a0.8 0.8 0 1 0 -1.6 0M576.3 19.8a0.8 0.8 0 1 0 1.6 0a0.8 0.8 0 1 0 -1.6 0M622.2 27.3a0.8 0.8 0 1 0 1.6 0a0.8 0.8 0 1 0 -1.6 0M675.0 85.0a0.8 0.8 0 1 0 1.6 0a0.8 0.8 0 1 0 -1.6 0M560.3 127.6a0.8 0.8 0 1 0 1.6 0a0.8 0.8 0 1 0 -1.6 0M567.1 66.2a0.8 0.8 0 1 0 1.6 0a0.8 0.8 0 1 0 -1.6 0M630.6 48.8a0.8 0.8 0 1 0 1.6 0a0.8 0.8 0 1 0 -1.6 0M617.3 109.4a0.8 0.8 0 1 0 1.6 0a0.8 0.8 0 1 0 -1.6 0M643.8 127.2a0.8 0.8 0 1 0 1.6 0a0.8 0.8 0 1 0 -1.6 0M643.7 49.2a0.8 0.8 0 1 0 1.6 0a0.8 0.8 0 1 0 -1.6 0M644.4 70.7a0.8 0.8 0 1 0 1.6 0a0.8 0.8 0 1 0 -1.6 0M625.0 59.7a0.8 0.8 0 1 0 1.6 0a0.8 0.8 0 1 0 -1.6 0M548.3 78.9a0.8 0.8 0 1 0 1.6 0a0.8 0.8 0 1 0 -1.6 0M594.9 55.0a0.8 0.8 0 1 0 1.6 0a0.8 0.8 0 1 0 -1.6 0M616.9 85.9a0.8 0.8 0 1 0 1.6 0a0.8 0.8 0 1 0 -1.6 0M611.6 150.9a0.8 0.8 0 1 0 1.6 0a0.8 0.8 0 1 0 -1.6 0M666.1 51.1a0.8 0.8 0 1 0 1.6 0a0.8 0.8 0 1 0 -1.6 0M661.3 53.5a0.8 0.8 0 1 0 1.6 0a0.8 0.8 0 1 0 -1.6 0M580.8 142.8a0.8 0.8 0 1 0 1.6 0a0.8 0.8 0 1 0 -1.6 0M630.7 110.2a0.8 0.8 0 1 0 1.6 0a0.8 0.8 0 1 0 -1.6 0M564.3 25.5a0.8 0.8 0 1 0 1.6 0a0.8 0.8 0 1 0 -1.6 0M560.1 70.3a0.8 0.8 0 1 0 1.6 0a0.8 0.8 0 1 0 -1.6 0M653.6 106.3a0.8 0.8 0 1 0 1.6 0a0.8 0.8 0 1 0 -1.6 0M598.1 139.9a0.8 0.8 0 1 0 1.6 0a0.8 0.8 0 1 0 -1.6 0M580.6 15.4a0.8 0.8 0 1 0 1.6 0a0.8 0.8 0 1 0 -1.6 0M630.5 77.4a0.8 0.8 0 1 0 1.6 0a0.8 0.8 0 1 0 -1.6 0M564.2 39.7a0.8 0.8 0 1 0 1.6 0a0.8 0.8 0 1 0 -1.6 0M604.2 137.7a0.8 0.8 0 1 0 1.6 0a0.8 0.8 0 1 0 -1.6 0M670.1 82.4a0.8 0.8 0 1 0 1.6 0a0.8 0.8 0 1 0 -1.6 0M632.5 75.7a0.8 0.8 0 1 0 1.6 0a0.8 0.8 0 1 0 -1.6 0M647.4 110.2a0.8 0.8 0 1 0 1.6 0a0.8 0.8 0 1 0 -1.6 0M633.1 93.4a0.8 0.8 0 1 0 1.6 0a0.8 0.8 0 1 0 -1.6 0M559.1 76.2a0.8 0.8 0 1 0 1.6 0a0.8 0.8 0 1 0 -1.6 0M599.6 30.2a0.8 0.8 0 1 0 1.6 0a0.8 0.8 0 1 0 -1.6 0M563.9 67.5a0.8 0.8 0 1 0 1.6 0a0.8 0.8 0 1 0 -1.6 0M560.1 98.3a0.8 0.8 0 1 0 1.6 0a0.8 0.8 0 1 0 -1.6 0M582.3 150.9a0.8 0.8 0 1 0 1.6 0a0.8 0.8 0 1 0 -1.6 0M634.0 82.7a0.8 0.8 0 1 0 1.6 0a0.8 0.8 0 1 0 -1.6 0M597.6 64.6a0.8 0.8 0 1 0 1.6 0a0.8 0.8 0 1 0 -1.6 0M667.3 102.0a0.8 0.8 0 1 0 1.6 0a0.8 0.8 0 1 0 -1.6 0M629.1 28.8a0.8 0.8 0 1 0 1.6 0a0.8 0.8 0 1 0 -1.6 0M613.3 32.1a0.8 0.8 0 1 0 1.6 0a0.8 0.8 0 1 0 -1.6 0M581.7 92.9a0.8 0.8 0 1 0 1.6 0a0.8 0.8 0 1 0 -1.6 0M559.3 41.7a0.8 0.8 0 1 0 1.6 0a0.8 0.8 0 1 0 -1.6 0M640.7 78.1a0.8 0.8 0 1 0 1.6 0a0.8 0.8 0 1 0 -1.6 0M663.9 31.0a0.8 0.8 0 1 0 1.6 0a0.8 0.8 0 1 0 -1.6 0M623.1 108.3a0.8 0.8 0 1 0 1.6 0a0.8 0.8 0 1 0 -1.6 0M615.4 29.4a0.8 0.8 0 1 0 1.6 0a0.8 0.8 0 1 0 -1.6 0M676.7 79.6a0.8 0.8 0 1 0 1.6 0a0.8 0.8 0 1 0 -1.6 0M574.6 87.4a0.8 0.8 0 1 0 1.6 0a0.8 0.8 0 1 0 -1.6 0M570.6 132.4a0.8 0.8 0 1 0 1.6 0a0.8 0.8 0 1 0 -1.6 0M572.5 19.3a0.8 0.8 0 1 0 1.6 0a0.8 0.8 0 1 0 -1.6 0M558.3 47.3a0.8 0.8 0 1 0 1.6 0a0.8 0.8 0 1 0 -1.6 0M631.9 69.7a0.8 0.8 0 1 0 1.6 0a0.8 0.8 0 1 0 -1.6 0M552.9 36.9a0.8 0.8 0 1 0 1.6 0a0.8 0.8 0 1 0 -1.6 0M597.8 132.8a0.8 0.8 0 1 0 1.6 0a0.8 0.8 0 1 0 -1.6 0M641.3 28.3a0.8 0.8 0 1 0 1.6 0a0.8 0.8 0 1 0 -1.6 0M578.0 38.0a0.8 0.8 0 1 0 1.6 0a0.8 0.8 0 1 0 -1.6 0M598.4 141.3a0.8 0.8 0 1 0 1.6 0a0.8 0.8 0 1 0 -1.6 0M656.6 85.5a0.8 0.8 0 1 0 1.6 0a0.8 0.8 0 1 0 -1.6 0M577.5 122.9a0.8 0.8 0 1 0 1.6 0a0.8 0.8 0 1 0 -1.6 0M583.2 146.9a0.8 0.8 0 1 0 1.6 0a0.8 0.8 0 1 0 -1.6 0M573.2 136.7a0.8 0.8 0 1 0 1.6 0a0.8 0.8 0 1 0 -1.6 0M572.8 112.3a0.8 0.8 0 1 0 1.6 0a0.8 0.8 0 1 0 -1.6 0M551.9 103.2a0.8 0.8 0 1 0 1.6 0a0.8 0.8 0 1 0 -1.6 0M559.2 94.1a0.8 0.8 0 1 0 1.6 0a0.8 0.8 0 1 0 -1.6 0M642.5 135.1a0.8 0.8 0 1 0 1.6 0a0.8 0.8 0 1 0 -1.6 0M598.0 150.5a0.8 0.8 0 1 0 1.6 0a0.8 0.8 0 1 0 -1.6 0M593.6 145.4a0.8 0.8 0 1 0 1.6 0a0.8 0.8 0 1 0 -1.6 0M550.0 47.5a0.8 0.8 0 1 0 1.6 0a0.8 0.8 0 1 0 -1.6 0M635.7 136.1a0.8 0.8 0 1 0 1.6 0a0.8 0.8 0 1 0 -1.6 0M571.9 119.1a0.8 0.8 0 1 0 1.6 0a0.8 0.8 0 1 0 -1.6 0M603.9 8.5a0.8 0.8 0 1 0 1.6 0a0.8 0.8 0 1 0 -1.6 0M567.8 143.0a0.8 0.8 0 1 0 1.6 0a0.8 0.8 0 1 0 -1.6 0M633.3 132.9a0.8 0.8 0 1 0 1.6 0a0.8 0.8 0 1 0 -1.6 0M667.7 64.8a0.8 0.8 0 1 0 1.6 0a0.8 0.8 0 1 0 -1.6 0M635.8 102.7a0.8 0.8 0 1 0 1.6 0a0.8 0.8 0 1 0 -1.6 0M635.1 21.3a0.8 0.8 0 1 0 1.6 0a0.8 0.8 0 1 0 -1.6 0M663.7 30.6a0.8 0.8 0 1 0 1.6 0a0.8 0.8 0 1 0 -1.6 0M599.3 107.5a0.8 0.8 0 1 0 1.6 0a0.8 0.8 0 1 0 -1.6 0M642.8 127.6a0.8 0.8 0 1 0 1.6 0a0.8 0.8 0 1 0 -1.6 0M580.0 51.1a0.8 0.8 0 1 0 1.6 0a0.8 0.8 0 1 0 -1.6 0M640.3 14.7a0.8 0.8 0 1 0 1.6 0a0.8 0.8 0 1 0 -1.6 0M661.5 53.6a0.8 0.8 0 1 0 1.6 0a0.8 0.8 0 1 0 -1.6 0M591.6 53.2a0.8 0.8 0 1 0 1.6 0a0.8 0.8 0 1 0 -1.6 0M638.3 33.1a0.8 0.8 0 1 0 1.6 0a0.8 0.8 0 1 0 -1.6 0M553.6 98.1a0.8 0.8 0 1 0 1.6 0a0.8 0.8 0 1 0 -1.6 0M601.8 59.4a0.8 0.8 0 1 0 1.6 0a0.8 0.8 0 1 0 -1.6 0M579.6 57.7a0.8 0.8 0 1 0 1.6 0a0.8 0.8 0 1 0 -1.6 0M550.3 69.3a0.8 0.8 0 1 0 1.6 0a0.8 0.8 0 1 0 -1.6 0M573.3 16.5a0.8 0.8 0 1 0 1.6 0a0.8 0.8 0 1 0 -1.6 0M639.0 150.2a0.8 0.8 0 1 0 1.6 0a0.8 0.8 0 1 0 -1.6 0M652.9 114.8a0.8 0.8 0 1 0 1.6 0a0.8 0.8 0 1 0 -1.6 0M567.5 23.7a0.8 0.8 0 1 0 1.6 0a0.8 0.8 0 1 0 -1.6 0M677.6 107.0a0.8 0.8 0 1 0 1.6 0a0.8 0.8 0 1 0 -1.6 0M639.6 28.7a0.8 0.8 0 1 0 1.6 0a0.8 0.8 0 1 0 -1.6 0M649.6 85.4a0.8 0.8 0 1 0 1.6 0a0.8 0.8 0 1 0 -1.6 0M547.4 38.4a0.8 0.8 0 1 0 1.6 0a0.8 0.8 0 1 0 -1.6 0M675.2 98.1a0.8 0.8 0 1 0 1.6 0a0.8 0.8 0 1 0 -1.6 0M643.6 58.9a0.8 0.8 0 1 0 1.6 0a0.8 0.8 0 1 0 -1.6 0M604.1 27.7a0.8 0.8 0 1 0 1.6 0a0.8 0.8 0 1 0 -1.6 0M560.5 79.9a0.8 0.8 0 1 0 1.6 0a0.8 0.8 0 1 0 -1.6 0M596.7 34.8a0.8 0.8 0 1 0 1.6 0a0.8 0.8 0 1 0 -1.6 0M556.5 72.3a0.8 0.8 0 1 0 1.6 0a0.8 0.8 0 1 0 -1.6 0M603.4 15.3a0.8 0.8 0 1 0 1.6 0a0.8 0.8 0 1 0 -1.6 0M641.3 119.1a0.8 0.8 0 1 0 1.6 0a0.8 0.8 0 1 0 -1.6 0M637.1 145.7a0.8 0.8 0 1 0 1.6 0a0.8 0.8 0 1 0 -1.6 0M558.7 69.0a0.8 0.8 0 1 0 1.6 0a0.8 0.8 0 1 0 -1.6 0M594.9 18.4a0.8 0.8 0 1 0 1.6 0a0.8 0.8 0 1 0 -1.6 0M677.4 105.7a0.8 0.8 0 1 0 1.6 0a0.8 0.8 0 1 0 -1.6 0M647.7 91.9a0.8 0.8 0 1 0 1.6 0a0.8 0.8 0 1 0 -1.6 0M628.8 77.7a0.8 0.8 0 1 0 1.6 0a0.8 0.8 0 1 0 -1.6 0M658.6 91.6a0.8 0.8 0 1 0 1.6 0a0.8 0.8 0 1 0 -1.6 0M614.2 66.5a0.8 0.8 0 1 0 1.6 0a0.8 0.8 0 1 0 -1.6 0M625.9 92.8a0.8 0.8 0 1 0 1.6 0a0.8 0.8 0 1 0 -1.6 0M671.2 119.8a0.8 0.8 0 1 0 1.6 0a0.8 0.8 0 1 0 -1.6 0M582.5 112.2a0.8 0.8 0 1 0 1.6 0a0.8 0.8 0 1 0 -1.6 0M568.6 77.6a0.8 0.8 0 1 0 1.6 0a0.8 0.8 0 1 0 -1.6 0M611.0 113.2a0.8 0.8 0 1 0 1.6 0a0.8 0.8 0 1 0 -1.6 0M561.1 97.6a0.8 0.8 0 1 0 1.6 0a0.8 0.8 0 1 0 -1.6 0M559.4 88.9a0.8 0.8 0 1 0 1.6 0a0.8 0.8 0 1 0 -1.6 0M662.7 69.8a0.8 0.8 0 1 0 1.6 0a0.8 0.8 0 1 0 -1.6 0M567.1 94.4a0.8 0.8 0 1 0 1.6 0a0.8 0.8 0 1 0 -1.6 0M594.4 71.2a0.8 0.8 0 1 0 1.6 0a0.8 0.8 0 1 0 -1.6 0M560.5 106.7a0.8 0.8 0 1 0 1.6 0a0.8 0.8 0 1 0 -1.6 0M584.7 150.5a0.8 0.8 0 1 0 1.6 0a0.8 0.8 0 1 0 -1.6 0M606.7 106.7a0.8 0.8 0 1 0 1.6 0a0.8 0.8 0 1 0 -1.6 0M649.2 45.0a0.8 0.8 0 1 0 1.6 0a0.8 0.8 0 1 0 -1.6 0M638.5 89.4a0.8 0.8 0 1 0 1.6 0a0.8 0.8 0 1 0 -1.6 0M600.3 98.7a0.8 0.8 0 1 0 1.6 0a0.8 0.8 0 1 0 -1.6 0M600.9 103.1a0.8 0.8 0 1 0 1.6 0a0.8 0.8 0 1 0 -1.6 0M627.5 110.0a0.8 0.8 0 1 0 1.6 0a0.8 0.8 0 1 0 -1.6 0M660.5 85.5a0.8 0.8 0 1 0 1.6 0a0.8 0.8 0 1 0 -1.6 0M613.3 28.9a0.8 0.8 0 1 0 1.6 0a0.8 0.8 0 1 0 -1.6 0M563.0 137.6a0.8 0.8 0 1 0 1.6 0a0.8 0.8 0 1 0 -1.6 0M552.6 63.5a0.8 0.8 0 1 0 1.6 0a0.8 0.8 0 1 0 -1.6 0M625.0 12.2a0.8 0.8 0 1 0 1.6 0a0.8 0.8 0 1 0 -1.6 0M599.5 123.5a0.8 0.8 0 1 0 1.6 0a0.8 0.8 0 1 0 -1.6 0M590.4 33.4a0.8 0.8 0 1 0 1.6 0a0.8 0.8 0 1 0 -1.6 0M549.8 104.8a0.8 0.8 0 1 0 1.6 0a0.8 0.8 0 1 0 -1.6 0M627.3 48.4a0.8 0.8 0 1 0 1.6 0a0.8 0.8 0 1 0 -1.6 0M615.6 107.2a0.8 0.8 0 1 0 1.6 0a0.8 0.8 0 1 0 -1.6 0M564.8 43.3a0.8 0.8 0 1 0 1.6 0a0.8 0.8 0 1 0 -1.6 0M668.9 38.0a0.8 0.8 0 1 0 1.6 0a0.8 0.8 0 1 0 -1.6 0M605.6 73.7a0.8 0.8 0 1 0 1.6 0a0.8 0.8 0 1 0 -1.6 0M647.6 132.0a0.8 0.8 0 1 0 1.6 0a0.8 0.8 0 1 0 -1.6 0M645.6 98.6a0.8 0.8 0 1 0 1.6 0a0.8 0.8 0 1 0 -1.6 0M613.2 21.2a0.8 0.8 0 1 0 1.6 0a0.8 0.8 0 1 0 -1.6 0M618.0 70.6a0.8 0.8 0 1 0 1.6 0a0.8 0.8 0 1 0 -1.6 0M644.4 62.4a0.8 0.8 0 1 0 1.6 0a0.8 0.8 0 1 0 -1.6 0M552.3 63.4a0.8 0.8 0 1 0 1.6 0a0.8 0.8 0 1 0 -1.6 0M655.4 79.8a0.8 0.8 0 1 0 1.6 0a0.8 0.8 0 1 0 -1.6 0M631.7 16.1a0.8 0.8 0 1 0 1.6 0a0.8 0.8 0 1 0 -1.6 0M566.8 46.4a0.8 0.8 0 1 0 1.6 0a0.8 0.8 0 1 0 -1.6 0M605.0 25.1a0.8 0.8 0 1 0 1.6 0a0.8 0.8 0 1 0 -1.6 0M672.0 55.9a0.8 0.8 0 1 0 1.6 0a0.8 0.8 0 1 0 -1.6 0M607.5 97.1a0.8 0.8 0 1 0 1.6 0a0.8 0.8 0 1 0 -1.6 0M653.0 20.4a0.8 0.8 0 1 0 1.6 0a0.8 0.8 0 1 0 -1.6 0M609.4 101.6a0.8 0.8 0 1 0 1.6 0a0.8 0.8 0 1 0 -1.6 0M579.2 29.4a0.8 0.8 0 1 0 1.6 0a0.8 0.8 0 1 0 -1.6 0M664.0 72.5a0.8 0.8 0 1 0 1.6 0a0.8 0.8 0 1 0 -1.6 0M622.0 76.9a0.8 0.8 0 1 0 1.6 0a0.8 0.8 0 1 0 -1.6 0M634.6 22.3a0.8 0.8 0 1 0 1.6 0a0.8 0.8 0 1 0 -1.6 0M644.2 33.3a0.8 0.8 0 1 0 1.6 0a0.8 0.8 0 1 0 -1.6 0M620.5 98.1a0.8 0.8 0 1 0 1.6 0a0.8 0.8 0 1 0 -1.6 0M657.8 96.9a0.8 0.8 0 1 0 1.6 0a0.8 0.8 0 1 0 -1.6 0M560.5 126.0a0.8 0.8 0 1 0 1.6 0a0.8 0.8 0 1 0 -1.6 0M589.0 89.5a0.8 0.8 0 1 0 1.6 0a0.8 0.8 0 1 0 -1.6 0M549.7 73.7a0.8 0.8 0 1 0 1.6 0a0.8 0.8 0 1 0 -1.6 0M580.3 130.5a0.8 0.8 0 1 0 1.6 0a0.8 0.8 0 1 0 -1.6 0M592.4 139.7a0.8 0.8 0 1 0 1.6 0a0.8 0.8 0 1 0 -1.6 0M649.9 68.6a0.8 0.8 0 1 0 1.6 0a0.8 0.8 0 1 0 -1.6 0M645.5 106.3a0.8 0.8 0 1 0 1.6 0a0.8 0.8 0 1 0 -1.6 0M551.6 50.9a0.8 0.8 0 1 0 1.6 0a0.8 0.8 0 1 0 -1.6 0M554.3 128.4a0.8 0.8 0 1 0 1.6 0a0.8 0.8 0 1 0 -1.6 0M592.1 51.4a0.8 0.8 0 1 0 1.6 0a0.8 0.8 0 1 0 -1.6 0M638.8 150.7a0.8 0.8 0 1 0 1.6 0a0.8 0.8 0 1 0 -1.6 0M555.1 108.0a0.8 0.8 0 1 0 1.6 0a0.8 0.8 0 1 0 -1.6 0M567.8 122.5a0.8 0.8 0 1 0 1.6 0a0.8 0.8 0 1 0 -1.6 0M643.0 119.2a0.8 0.8 0 1 0 1.6 0a0.8 0.8 0 1 0 -1.6 0M619.3 25.7a0.8 0.8 0 1 0 1.6 0a0.8 0.8 0 1 0 -1.6 0M658.4 23.9a0.8 0.8 0 1 0 1.6 0a0.8 0.8 0 1 0 -1.6 0M618.9 146.8a0.8 0.8 0 1 0 1.6 0a0.8 0.8 0 1 0 -1.6 0M573.6 77.5a0.8 0.8 0 1 0 1.6 0a0.8 0.8 0 1 0 -1.6 0M632.8 101.5a0.8 0.8 0 1 0 1.6 0a0.8 0.8 0 1 0 -1.6 0M581.6 68.2a0.8 0.8 0 1 0 1.6 0a0.8 0.8 0 1 0 -1.6 0M664.8 111.6a0.8 0.8 0 1 0 1.6 0a0.8 0.8 0 1 0 -1.6 0M559.8 106.3a0.8 0.8 0 1 0 1.6 0a0.8 0.8 0 1 0 -1.6 0M658.4 95.0a0.8 0.8 0 1 0 1.6 0a0.8 0.8 0 1 0 -1.6 0M664.6 46.3a0.8 0.8 0 1 0 1.6 0a0.8 0.8 0 1 0 -1.6 0M576.7 133.3a0.8 0.8 0 1 0 1.6 0a0.8 0.8 0 1 0 -1.6 0M571.9 26.2a0.8 0.8 0 1 0 1.6 0a0.8 0.8 0 1 0 -1.6 0M556.1 135.6a0.8 0.8 0 1 0 1.6 0a0.8 0.8 0 1 0 -1.6 0M654.2 36.6a0.8 0.8 0 1 0 1.6 0a0.8 0.8 0 1 0 -1.6 0M642.4 36.5a0.8 0.8 0 1 0 1.6 0a0.8 0.8 0 1 0 -1.6 0M624.9 9.4a0.8 0.8 0 1 0 1.6 0a0.8 0.8 0 1 0 -1.6 0M618.4 116.6a0.8 0.8 0 1 0 1.6 0a0.8 0.8 0 1 0 -1.6 0M608.0 98.8a0.8 0.8 0 1 0 1.6 0a0.8 0.8 0 1 0 -1.6 0M551.7 74.2a0.8 0.8 0 1 0 1.6 0a0.8 0.8 0 1 0 -1.6 0M648.4 61.9a0.8 0.8 0 1 0 1.6 0a0.8 0.8 0 1 0 -1.6 0M642.7 94.6a0.8 0.8 0 1 0 1.6 0a0.8 0.8 0 1 0 -1.6 0M652.0 114.9a0.8 0.8 0 1 0 1.6 0a0.8 0.8 0 1 0 -1.6 0M578.9 126.5a0.8 0.8 0 1 0 1.6 0a0.8 0.8 0 1 0 -1.6 0M653.3 69.7a0.8 0.8 0 1 0 1.6 0a0.8 0.8 0 1 0 -1.6 0M639.0 67.9a0.8 0.8 0 1 0 1.6 0a0.8 0.8 0 1 0 -1.6 0M618.3 54.9a0.8 0.8 0 1 0 1.6 0a0.8 0.8 0 1 0 -1.6 0M601.7 52.5a0.8 0.8 0 1 0 1.6 0a0.8 0.8 0 1 0 -1.6 0M664.6 96.7a0.8 0.8 0 1 0 1.6 0a0.8 0.8 0 1 0 -1.6 0M623.8 83.6a0.8 0.8 0 1 0 1.6 0a0.8 0.8 0 1 0 -1.6 0M602.1 33.1a0.8 0.8 0 1 0 1.6 0a0.8 0.8 0 1 0 -1.6 0M628.6 72.5a0.8 0.8 0 1 0 1.6 0a0.8 0.8 0 1 0 -1.6 0M584.6 82.1a0.8 0.8 0 1 0 1.6 0a0.8 0.8 0 1 0 -1.6 0M553.6 101.8a0.8 0.8 0 1 0 1.6 0a0.8 0.8 0 1 0 -1.6 0M648.4 61.0a0.8 0.8 0 1 0 1.6 0a0.8 0.8 0 1 0 -1.6 0M624.6 54.0a0.8 0.8 0 1 0 1.6 0a0.8 0.8 0 1 0 -1.6 0M547.7 90.9a0.8 0.8 0 1 0 1.6 0a0.8 0.8 0 1 0 -1.6 0M566.5 138.0a0.8 0.8 0 1 0 1.6 0a0.8 0.8 0 1 0 -1.6 0M638.7 48.0a0.8 0.8 0 1 0 1.6 0a0.8 0.8 0 1 0 -1.6 0M593.8 20.5a0.8 0.8 0 1 0 1.6 0a0.8 0.8 0 1 0 -1.6 0M567.2 88.7a0.8 0.8 0 1 0 1.6 0a0.8 0.8 0 1 0 -1.6 0M662.8 69.7a0.8 0.8 0 1 0 1.6 0a0.8 0.8 0 1 0 -1.6 0M674.5 45.0a0.8 0.8 0 1 0 1.6 0a0.8 0.8 0 1 0 -1.6 0M589.5 48.5a0.8 0.8 0 1 0 1.6 0a0.8 0.8 0 1 0 -1.6 0M599.2 96.5a0.8 0.8 0 1 0 1.6 0a0.8 0.8 0 1 0 -1.6 0M566.6 23.3a0.8 0.8 0 1 0 1.6 0a0.8 0.8 0 1 0 -1.6 0M621.4 103.1a0.8 0.8 0 1 0 1.6 0a0.8 0.8 0 1 0 -1.6 0M616.0 31.0a0.8 0.8 0 1 0 1.6 0a0.8 0.8 0 1 0 -1.6 0M659.7 70.1a0.8 0.8 0 1 0 1.6 0a0.8 0.8 0 1 0 -1.6 0M613.4 136.1a0.8 0.8 0 1 0 1.6 0a0.8 0.8 0 1 0 -1.6 0M554.0 79.7a0.8 0.8 0 1 0 1.6 0a0.8 0.8 0 1 0 -1.6 0M596.2 100.3a0.8 0.8 0 1 0 1.6 0a0.8 0.8 0 1 0 -1.6 0M567.4 42.8a0.8 0.8 0 1 0 1.6 0a0.8 0.8 0 1 0 -1.6 0M567.6 88.8a0.8 0.8 0 1 0 1.6 0a0.8 0.8 0 1 0 -1.6 0M578.2 142.2a0.8 0.8 0 1 0 1.6 0a0.8 0.8 0 1 0 -1.6 0M661.2 113.2a0.8 0.8 0 1 0 1.6 0a0.8 0.8 0 1 0 -1.6 0M593.7 127.3a0.8 0.8 0 1 0 1.6 0a0.8 0.8 0 1 0 -1.6 0M618.0 121.2a0.8 0.8 0 1 0 1.6 0a0.8 0.8 0 1 0 -1.6 0M645.2 138.8a0.8 0.8 0 1 0 1.6 0a0.8 0.8 0 1 0 -1.6 0M593.5 57.4a0.8 0.8 0 1 0 1.6 0a0.8 0.8 0 1 0 -1.6 0M547.5 82.5a0.8 0.8 0 1 0 1.6 0a0.8 0.8 0 1 0 -1.6 0M633.8 139.0a0.8 0.8 0 1 0 1.6 0a0.8 0.8 0 1 0 -1.6 0M631.1 22.6a0.8 0.8 0 1 0 1.6 0a0.8 0.8 0 1 0 -1.6 0M651.9 138.2a0.8 0.8 0 1 0 1.6 0a0.8 0.8 0 1 0 -1.6 0M656.0 106.9a0.8 0.8 0 1 0 1.6 0a0.8 0.8 0 1 0 -1.6 0M596.4 90.4a0.8 0.8 0 1 0 1.6 0a0.8 0.8 0 1 0 -1.6 0M608.8 57.0a0.8 0.8 0 1 0 1.6 0a0.8 0.8 0 1 0 -1.6 0M608.4 53.6a0.8 0.8 0 1 0 1.6 0a0.8 0.8 0 1 0 -1.6 0M630.7 12.3a0.8 0.8 0 1 0 1.6 0a0.8 0.8 0 1 0 -1.6 0M584.7 102.2a0.8 0.8 0 1 0 1.6 0a0.8 0.8 0 1 0 -1.6 0M601.0 10.8a0.8 0.8 0 1 0 1.6 0a0.8 0.8 0 1 0 -1.6 0M601.3 142.2a0.8 0.8 0 1 0 1.6 0a0.8 0.8 0 1 0 -1.6 0M610.5 113.7a0.8 0.8 0 1 0 1.6 0a0.8 0.8 0 1 0 -1.6 0M590.2 149.9a0.8 0.8 0 1 0 1.6 0a0.8 0.8 0 1 0 -1.6 0M610.9 125.3a0.8 0.8 0 1 0 1.6 0a0.8 0.8 0 1 0 -1.6 0M625.6 125.7a0.8 0.8 0 1 0 1.6 0a0.8 0.8 0 1 0 -1.6 0M591.6 142.3a0.8 0.8 0 1 0 1.6 0a0.8 0.8 0 1 0 -1.6 0M666.5 60.7a0.8 0.8 0 1 0 1.6 0a0.8 0.8 0 1 0 -1.6 0M583.8 137.1a0.8 0.8 0 1 0 1.6 0a0.8 0.8 0 1 0 -1.6 0M654.6 93.5a0.8 0.8 0 1 0 1.6 0a0.8 0.8 0 1 0 -1.6 0M615.9 9.6a0.8 0.8 0 1 0 1.6 0a0.8 0.8 0 1 0 -1.6 0M615.8 16.4a0.8 0.8 0 1 0 1.6 0a0.8 0.8 0 1 0 -1.6 0M611.1 40.3a0.8 0.8 0 1 0 1.6 0a0.8 0.8 0 1 0 -1.6 0M622.9 30.7a0.8 0.8 0 1 0 1.6 0a0.8 0.8 0 1 0 -1.6 0M582.2 119.4a0.8 0.8 0 1 0 1.6 0a0.8 0.8 0 1 0 -1.6 0M618.8 27.2a0.8 0.8 0 1 0 1.6 0a0.8 0.8 0 1 0 -1.6 0M594.6 111.3a0.8 0.8 0 1 0 1.6 0a0.8 0.8 0 1 0 -1.6 0M619.0 102.4a0.8 0.8 0 1 0 1.6 0a0.8 0.8 0 1 0 -1.6 0M608.4 44.3a0.8 0.8 0 1 0 1.6 0a0.8 0.8 0 1 0 -1.6 0M621.7 75.2a0.8 0.8 0 1 0 1.6 0a0.8 0.8 0 1 0 -1.6 0M626.0 123.8a0.8 0.8 0 1 0 1.6 0a0.8 0.8 0 1 0 -1.6 0M607.5 69.2a0.8 0.8 0 1 0 1.6 0a0.8 0.8 0 1 0 -1.6 0M615.4 32.2a0.8 0.8 0 1 0 1.6 0a0.8 0.8 0 1 0 -1.6 0M667.2 64.4a0.8 0.8 0 1 0 1.6 0a0.8 0.8 0 1 0 -1.6 0M607.1 129.6a0.8 0.8 0 1 0 1.6 0a0.8 0.8 0 1 0 -1.6 0M637.5 84.9a0.8 0.8 0 1 0 1.6 0a0.8 0.8 0 1 0 -1.6 0M597.0 120.6a0.8 0.8 0 1 0 1.6 0a0.8 0.8 0 1 0 -1.6 0M624.8 9.4a0.8 0.8 0 1 0 1.6 0a0.8 0.8 0 1 0 -1.6 0M616.4 104.8a0.8 0.8 0 1 0 1.6 0a0.8 0.8 0 1 0 -1.6 0M586.7 128.1a0.8 0.8 0 1 0 1.6 0a0.8 0.8 0 1 0 -1.6 0M642.3 136.2a0.8 0.8 0 1 0 1.6 0a0.8 0.8 0 1 0 -1.6 0M577.0 103.7a0.8 0.8 0 1 0 1.6 0a0.8 0.8 0 1 0 -1.6 0M616.1 57.3a0.8 0.8 0 1 0 1.6 0a0.8 0.8 0 1 0 -1.6 0M577.8 20.7a0.8 0.8 0 1 0 1.6 0a0.8 0.8 0 1 0 -1.6 0M656.1 47.8a0.8 0.8 0 1 0 1.6 0a0.8 0.8 0 1 0 -1.6 0M584.9 44.8a0.8 0.8 0 1 0 1.6 0a0.8 0.8 0 1 0 -1.6 0M615.5 79.5a0.8 0.8 0 1 0 1.6 0a0.8 0.8 0 1 0 -1.6 0M584.4 128.9a0.8 0.8 0 1 0 1.6 0a0.8 0.8 0 1 0 -1.6 0M649.9 17.2a0.8 0.8 0 1 0 1.6 0a0.8 0.8 0 1 0 -1.6 0M599.5 151.7a0.8 0.8 0 1 0 1.6 0a0.8 0.8 0 1 0 -1.6 0M676.9 54.0a0.8 0.8 0 1 0 1.6 0a0.8 0.8 0 1 0 -1.6 0M642.7 55.8a0.8 0.8 0 1 0 1.6 0a0.8 0.8 0 1 0 -1.6 0M600.2 131.4a0.8 0.8 0 1 0 1.6 0a0.8 0.8 0 1 0 -1.6 0M603.8 138.3a0.8 0.8 0 1 0 1.6 0a0.8 0.8 0 1 0 -1.6 0M643.1 32.9a0.8 0.8 0 1 0 1.6 0a0.8 0.8 0 1 0 -1.6 0M622.7 23.8a0.8 0.8 0 1 0 1.6 0a0.8 0.8 0 1 0 -1.6 0M545.3 63.2a0.8 0.8 0 1 0 1.6 0a0.8 0.8 0 1 0 -1.6 0M542.4 52.4a0.8 0.8 0 1 0 1.6 0a0.8 0.8 0 1 0 -1.6 0M626.2 40.8a0.8 0.8 0 1 0 1.6 0a0.8 0.8 0 1 0 -1.6 0M649.5 45.6a0.8 0.8 0 1 0 1.6 0a0.8 0.8 0 1 0 -1.6 0M587.6 66.4a0.8 0.8 0 1 0 1.6 0a0.8 0.8 0 1 0 -1.6 0M652.5 21.6a0.8 0.8 0 1 0 1.6 0a0.8 0.8 0 1 0 -1.6 0M675.6 88.3a0.8 0.8 0 1 0 1.6 0a0.8 0.8 0 1 0 -1.6 0M643.6 82.4a0.8 0.8 0 1 0 1.6 0a0.8 0.8 0 1 0 -1.6 0M632.0 107.3a0.8 0.8 0 1 0 1.6 0a0.8 0.8 0 1 0 -1.6 0M555.8 35.9a0.8 0.8 0 1 0 1.6 0a0.8 0.8 0 1 0 -1.6 0M666.7 39.7a0.8 0.8 0 1 0 1.6 0a0.8 0.8 0 1 0 -1.6 0M569.9 15.4a0.8 0.8 0 1 0 1.6 0a0.8 0.8 0 1 0 -1.6 0M638.3 122.0a0.8 0.8 0 1 0 1.6 0a0.8 0.8 0 1 0 -1.6 0M551.3 79.7a0.8 0.8 0 1 0 1.6 0a0.8 0.8 0 1 0 -1.6 0M609.3 44.5a0.8 0.8 0 1 0 1.6 0a0.8 0.8 0 1 0 -1.6 0M581.7 79.0a0.8 0.8 0 1 0 1.6 0a0.8 0.8 0 1 0 -1.6 0M648.4 44.7a0.8 0.8 0 1 0 1.6 0a0.8 0.8 0 1 0 -1.6 0M573.1 22.9a0.8 0.8 0 1 0 1.6 0a0.8 0.8 0 1 0 -1.6 0M565.7 84.5a0.8 0.8 0 1 0 1.6 0a0.8 0.8 0 1 0 -1.6 0M661.5 54.4a0.8 0.8 0 1 0 1.6 0a0.8 0.8 0 1 0 -1.6 0M584.1 8.5a0.8 0.8 0 1 0 1.6 0a0.8 0.8 0 1 0 -1.6 0M553.4 95.8a0.8 0.8 0 1 0 1.6 0a0.8 0.8 0 1 0 -1.6 0M606.8 132.8a0.8 0.8 0 1 0 1.6 0a0.8 0.8 0 1 0 -1.6 0M599.3 47.2a0.8 0.8 0 1 0 1.6 0a0.8 0.8 0 1 0 -1.6 0M591.8 28.1a0.8 0.8 0 1 0 1.6 0a0.8 0.8 0 1 0 -1.6 0M604.4 108.1a0.8 0.8 0 1 0 1.6 0a0.8 0.8 0 1 0 -1.6 0M561.4 92.4a0.8 0.8 0 1 0 1.6 0a0.8 0.8 0 1 0 -1.6 0M679.6 108.8a0.8 0.8 0 1 0 1.6 0a0.8 0.8 0 1 0 -1.6 0M580.8 101.3a0.8 0.8 0 1 0 1.6 0a0.8 0.8 0 1 0 -1.6 0M652.1 110.3a0.8 0.8 0 1 0 1.6 0a0.8 0.8 0 1 0 -1.6 0M625.3 89.2a0.8 0.8 0 1 0 1.6 0a0.8 0.8 0 1 0 -1.6 0M585.5 129.1a0.8 0.8 0 1 0 1.6 0a0.8 0.8 0 1 0 -1.6 0M609.4 127.4a0.8 0.8 0 1 0 1.6 0a0.8 0.8 0 1 0 -1.6 0M641.3 56.3a0.8 0.8 0 1 0 1.6 0a0.8 0.8 0 1 0 -1.6 0M653.1 58.6a0.8 0.8 0 1 0 1.6 0a0.8 0.8 0 1 0 -1.6 0M624.1 129.9a0.8 0.8 0 1 0 1.6 0a0.8 0.8 0 1 0 -1.6 0M673.0 97.9a0.8 0.8 0 1 0 1.6 0a0.8 0.8 0 1 0 -1.6 0M563.6 31.2a0.8 0.8 0 1 0 1.6 0a0.8 0.8 0 1 0 -1.6 0M655.3 52.5a0.8 0.8 0 1 0 1.6 0a0.8 0.8 0 1 0 -1.6 0M555.8 91.7a0.8 0.8 0 1 0 1.6 0a0.8 0.8 0 1 0 -1.6 0M595.3 115.0a0.8 0.8 0 1 0 1.6 0a0.8 0.8 0 1 0 -1.6 0M560.7 82.0a0.8 0.8 0 1 0 1.6 0a0.8 0.8 0 1 0 -1.6 0M591.1 64.9a0.8 0.8 0 1 0 1.6 0a0.8 0.8 0 1 0 -1.6 0M553.5 28.8a0.8 0.8 0 1 0 1.6 0a0.8 0.8 0 1 0 -1.6 0M580.2 87.4a0.8 0.8 0 1 0 1.6 0a0.8 0.8 0 1 0 -1.6 0M554.5 99.8a0.8 0.8 0 1 0 1.6 0a0.8 0.8 0 1 0 -1.6 0M589.0 51.4a0.8 0.8 0 1 0 1.6 0a0.8 0.8 0 1 0 -1.6 0M658.2 115.3a0.8 0.8 0 1 0 1.6 0a0.8 0.8 0 1 0 -1.6 0M599.3 45.5a0.8 0.8 0 1 0 1.6 0a0.8 0.8 0 1 0 -1.6 0M608.7 101.8a0.8 0.8 0 1 0 1.6 0a0.8 0.8 0 1 0 -1.6 0M645.1 103.8a0.8 0.8 0 1 0 1.6 0a0.8 0.8 0 1 0 -1.6 0M679.3 87.0a0.8 0.8 0 1 0 1.6 0a0.8 0.8 0 1 0 -1.6 0M609.2 24.5a0.8 0.8 0 1 0 1.6 0a0.8 0.8 0 1 0 -1.6 0M648.9 127.6a0.8 0.8 0 1 0 1.6 0a0.8 0.8 0 1 0 -1.6 0M579.7 47.2a0.8 0.8 0 1 0 1.6 0a0.8 0.8 0 1 0 -1.6 0M545.2 52.2a0.8 0.8 0 1 0 1.6 0a0.8 0.8 0 1 0 -1.6 0M609.1 72.6a0.8 0.8 0 1 0 1.6 0a0.8 0.8 0 1 0 -1.6 0M568.9 128.2a0.8 0.8 0 1 0 1.6 0a0.8 0.8 0 1 0 -1.6 0M606.3 60.4a0.8 0.8 0 1 0 1.6 0a0.8 0.8 0 1 0 -1.6 0M664.7 117.3a0.8 0.8 0 1 0 1.6 0a0.8 0.8 0 1 0 -1.6 0M628.5 109.3a0.8 0.8 0 1 0 1.6 0a0.8 0.8 0 1 0 -1.6 0M670.9 84.1a0.8 0.8 0 1 0 1.6 0a0.8 0.8 0 1 0 -1.6 0M571.7 114.2a0.8 0.8 0 1 0 1.6 0a0.8 0.8 0 1 0 -1.6 0M669.8 40.7a0.8 0.8 0 1 0 1.6 0a0.8 0.8 0 1 0 -1.6 0M590.5 118.3a0.8 0.8 0 1 0 1.6 0a0.8 0.8 0 1 0 -1.6 0M651.8 43.1a0.8 0.8 0 1 0 1.6 0a0.8 0.8 0 1 0 -1.6 0M601.6 73.5a0.8 0.8 0 1 0 1.6 0a0.8 0.8 0 1 0 -1.6 0M561.6 111.1a0.8 0.8 0 1 0 1.6 0a0.8 0.8 0 1 0 -1.6 0M679.7 56.1a0.8 0.8 0 1 0 1.6 0a0.8 0.8 0 1 0 -1.6 0M612.3 59.2a0.8 0.8 0 1 0 1.6 0a0.8 0.8 0 1 0 -1.6 0M647.7 67.1a0.8 0.8 0 1 0 1.6 0a0.8 0.8 0 1 0 -1.6 0M572.0 31.2a0.8 0.8 0 1 0 1.6 0a0.8 0.8 0 1 0 -1.6 0M633.5 39.9a0.8 0.8 0 1 0 1.6 0a0.8 0.8 0 1 0 -1.6 0M599.0 117.4a0.8 0.8 0 1 0 1.6 0a0.8 0.8 0 1 0 -1.6 0M628.6 48.1a0.8 0.8 0 1 0 1.6 0a0.8 0.8 0 1 0 -1.6 0M585.5 125.4a0.8 0.8 0 1 0 1.6 0a0.8 0.8 0 1 0 -1.6 0M542.5 101.6a0.8 0.8 0 1 0 1.6 0a0.8 0.8 0 1 0 -1.6 0M637.2 82.7a0.8 0.8 0 1 0 1.6 0a0.8 0.8 0 1 0 -1.6 0M614.9 141.7a0.8 0.8 0 1 0 1.6 0a0.8 0.8 0 1 0 -1.6 0M581.7 116.8a0.8 0.8 0 1 0 1.6 0a0.8 0.8 0 1 0 -1.6 0M639.6 114.9a0.8 0.8 0 1 0 1.6 0a0.8 0.8 0 1 0 -1.6 0M544.4 108.3a0.8 0.8 0 1 0 1.6 0a0.8 0.8 0 1 0 -1.6 0M589.2 26.7a0.8 0.8 0 1 0 1.6 0a0.8 0.8 0 1 0 -1.6 0M666.5 46.3a0.8 0.8 0 1 0 1.6 0a0.8 0.8 0 1 0 -1.6 0M602.3 52.4a0.8 0.8 0 1 0 1.6 0a0.8 0.8 0 1 0 -1.6 0M550.9 50.1a0.8 0.8 0 1 0 1.6 0a0.8 0.8 0 1 0 -1.6 0M623.6 100.4a0.8 0.8 0 1 0 1.6 0a0.8 0.8 0 1 0 -1.6 0M643.2 29.9a0.8 0.8 0 1 0 1.6 0a0.8 0.8 0 1 0 -1.6 0M574.4 128.2a0.8 0.8 0 1 0 1.6 0a0.8 0.8 0 1 0 -1.6 0M610.8 114.9a0.8 0.8 0 1 0 1.6 0a0.8 0.8 0 1 0 -1.6 0M601.7 68.7a0.8 0.8 0 1 0 1.6 0a0.8 0.8 0 1 0 -1.6 0M666.1 111.5a0.8 0.8 0 1 0 1.6 0a0.8 0.8 0 1 0 -1.6 0M566.0 99.1a0.8 0.8 0 1 0 1.6 0a0.8 0.8 0 1 0 -1.6 0M633.4 48.7a0.8 0.8 0 1 0 1.6 0a0.8 0.8 0 1 0 -1.6 0M589.3 136.7a0.8 0.8 0 1 0 1.6 0a0.8 0.8 0 1 0 -1.6 0M572.8 96.4a0.8 0.8 0 1 0 1.6 0a0.8 0.8 0 1 0 -1.6 0M540.9 52.0a0.8 0.8 0 1 0 1.6 0a0.8 0.8 0 1 0 -1.6 0M669.6 91.6a0.8 0.8 0 1 0 1.6 0a0.8 0.8 0 1 0 -1.6 0M604.9 29.2a0.8 0.8 0 1 0 1.6 0a0.8 0.8 0 1 0 -1.6 0M615.6 26.7a0.8 0.8 0 1 0 1.6 0a0.8 0.8 0 1 0 -1.6 0M544.3 56.2a0.8 0.8 0 1 0 1.6 0a0.8 0.8 0 1 0 -1.6 0M572.0 121.2a0.8 0.8 0 1 0 1.6 0a0.8 0.8 0 1 0 -1.6 0M616.6 100.6a0.8 0.8 0 1 0 1.6 0a0.8 0.8 0 1 0 -1.6 0M575.1 64.7a0.8 0.8 0 1 0 1.6 0a0.8 0.8 0 1 0 -1.6 0M551.2 49.5a0.8 0.8 0 1 0 1.6 0a0.8 0.8 0 1 0 -1.6 0M678.9 104.9a0.8 0.8 0 1 0 1.6 0a0.8 0.8 0 1 0 -1.6 0M583.5 99.0a0.8 0.8 0 1 0 1.6 0a0.8 0.8 0 1 0 -1.6 0M667.0 125.4a0.8 0.8 0 1 0 1.6 0a0.8 0.8 0 1 0 -1.6 0M610.9 30.5a0.8 0.8 0 1 0 1.6 0a0.8 0.8 0 1 0 -1.6 0M653.8 121.0a0.8 0.8 0 1 0 1.6 0a0.8 0.8 0 1 0 -1.6 0M636.4 112.6a0.8 0.8 0 1 0 1.6 0a0.8 0.8 0 1 0 -1.6 0M554.9 91.9a0.8 0.8 0 1 0 1.6 0a0.8 0.8 0 1 0 -1.6 0M624.6 9.0a0.8 0.8 0 1 0 1.6 0a0.8 0.8 0 1 0 -1.6 0M594.6 59.0a0.8 0.8 0 1 0 1.6 0a0.8 0.8 0 1 0 -1.6 0M661.0 58.7a0.8 0.8 0 1 0 1.6 0a0.8 0.8 0 1 0 -1.6 0M564.4 106.4a0.8 0.8 0 1 0 1.6 0a0.8 0.8 0 1 0 -1.6 0M624.5 34.1a0.8 0.8 0 1 0 1.6 0a0.8 0.8 0 1 0 -1.6 0M563.8 111.4a0.8 0.8 0 1 0 1.6 0a0.8 0.8 0 1 0 -1.6 0M598.4 110.0a0.8 0.8 0 1 0 1.6 0a0.8 0.8 0 1 0 -1.6 0M565.0 90.3a0.8 0.8 0 1 0 1.6 0a0.8 0.8 0 1 0 -1.6 0M658.8 49.4a0.8 0.8 0 1 0 1.6 0a0.8 0.8 0 1 0 -1.6 0M655.8 28.7a0.8 0.8 0 1 0 1.6 0a0.8 0.8 0 1 0 -1.6 0M631.3 13.9a0.8 0.8 0 1 0 1.6 0a0.8 0.8 0 1 0 -1.6 0M570.0 18.3a0.8 0.8 0 1 0 1.6 0a0.8 0.8 0 1 0 -1.6 0M563.2 84.6a0.8 0.8 0 1 0 1.6 0a0.8 0.8 0 1 0 -1.6 0M652.6 125.7a0.8 0.8 0 1 0 1.6 0a0.8 0.8 0 1 0 -1.6 0M667.4 43.7a0.8 0.8 0 1 0 1.6 0a0.8 0.8 0 1 0 -1.6 0M670.8 69.6a0.8 0.8 0 1 0 1.6 0a0.8 0.8 0 1 0 -1.6 0M631.4 112.5a0.8 0.8 0 1 0 1.6 0a0.8 0.8 0 1 0 -1.6 0M574.1 48.6a0.8 0.8 0 1 0 1.6 0a0.8 0.8 0 1 0 -1.6 0M598.0 57.3a0.8 0.8 0 1 0 1.6 0a0.8 0.8 0 1 0 -1.6 0M640.5 133.3a0.8 0.8 0 1 0 1.6 0a0.8 0.8 0 1 0 -1.6 0M630.7 15.0a0.8 0.8 0 1 0 1.6 0a0.8 0.8 0 1 0 -1.6 0M650.5 119.1a0.8 0.8 0 1 0 1.6 0a0.8 0.8 0 1 0 -1.6 0M670.2 65.3a0.8 0.8 0 1 0 1.6 0a0.8 0.8 0 1 0 -1.6 0M615.3 37.2a0.8 0.8 0 1 0 1.6 0a0.8 0.8 0 1 0 -1.6 0M571.1 69.0a0.8 0.8 0 1 0 1.6 0a0.8 0.8 0 1 0 -1.6 0M616.5 44.9a0.8 0.8 0 1 0 1.6 0a0.8 0.8 0 1 0 -1.6 0M615.0 69.6a0.8 0.8 0 1 0 1.6 0a0.8 0.8 0 1 0 -1.6 0M566.4 101.6a0.8 0.8 0 1 0 1.6 0a0.8 0.8 0 1 0 -1.6 0M581.0 13.2a0.8 0.8 0 1 0 1.6 0a0.8 0.8 0 1 0 -1.6 0M569.7 68.9a0.8 0.8 0 1 0 1.6 0a0.8 0.8 0 1 0 -1.6 0M624.3 17.8a0.8 0.8 0 1 0 1.6 0a0.8 0.8 0 1 0 -1.6 0M579.3 56.5a0.8 0.8 0 1 0 1.6 0a0.8 0.8 0 1 0 -1.6 0M632.5 20.8a0.8 0.8 0 1 0 1.6 0a0.8 0.8 0 1 0 -1.6 0M564.7 127.2a0.8 0.8 0 1 0 1.6 0a0.8 0.8 0 1 0 -1.6 0M548.9 57.2a0.8 0.8 0 1 0 1.6 0a0.8 0.8 0 1 0 -1.6 0M587.1 106.1a0.8 0.8 0 1 0 1.6 0a0.8 0.8 0 1 0 -1.6 0M671.5 99.8a0.8 0.8 0 1 0 1.6 0a0.8 0.8 0 1 0 -1.6 0M582.9 39.9a0.8 0.8 0 1 0 1.6 0a0.8 0.8 0 1 0 -1.6 0M660.0 133.2a0.8 0.8 0 1 0 1.6 0a0.8 0.8 0 1 0 -1.6 0M588.3 39.9a0.8 0.8 0 1 0 1.6 0a0.8 0.8 0 1 0 -1.6 0M660.0 41.2a0.8 0.8 0 1 0 1.6 0a0.8 0.8 0 1 0 -1.6 0M593.5 136.5a0.8 0.8 0 1 0 1.6 0a0.8 0.8 0 1 0 -1.6 0M538.2 59.1a0.8 0.8 0 1 0 1.6 0a0.8 0.8 0 1 0 -1.6 0M563.5 72.7a0.8 0.8 0 1 0 1.6 0a0.8 0.8 0 1 0 -1.6 0M644.1 130.6a0.8 0.8 0 1 0 1.6 0a0.8 0.8 0 1 0 -1.6 0M589.3 114.9a0.8 0.8 0 1 0 1.6 0a0.8 0.8 0 1 0 -1.6 0M640.7 138.8a0.8 0.8 0 1 0 1.6 0a0.8 0.8 0 1 0 -1.6 0M587.6 130.8a0.8 0.8 0 1 0 1.6 0a0.8 0.8 0 1 0 -1.6 0M562.2 92.5a0.8 0.8 0 1 0 1.6 0a0.8 0.8 0 1 0 -1.6 0M672.3 115.6a0.8 0.8 0 1 0 1.6 0a0.8 0.8 0 1 0 -1.6 0M644.6 34.0a0.8 0.8 0 1 0 1.6 0a0.8 0.8 0 1 0 -1.6 0M588.7 89.2a0.8 0.8 0 1 0 1.6 0a0.8 0.8 0 1 0 -1.6 0M651.6 42.3a0.8 0.8 0 1 0 1.6 0a0.8 0.8 0 1 0 -1.6 0M613.1 115.8a0.8 0.8 0 1 0 1.6 0a0.8 0.8 0 1 0 -1.6 0M634.7 45.0a0.8 0.8 0 1 0 1.6 0a0.8 0.8 0 1 0 -1.6 0M549.0 60.0a0.8 0.8 0 1 0 1.6 0a0.8 0.8 0 1 0 -1.6 0M562.7 89.2a0.8 0.8 0 1 0 1.6 0a0.8 0.8 0 1 0 -1.6 0M611.0 14.7a0.8 0.8 0 1 0 1.6 0a0.8 0.8 0 1 0 -1.6 0M562.8 47.4a0.8 0.8 0 1 0 1.6 0a0.8 0.8 0 1 0 -1.6 0M557.9 60.8a0.8 0.8 0 1 0 1.6 0a0.8 0.8 0 1 0 -1.6 0M611.4 117.6a0.8 0.8 0 1 0 1.6 0a0.8 0.8 0 1 0 -1.6 0M625.7 71.9a0.8 0.8 0 1 0 1.6 0a0.8 0.8 0 1 0 -1.6 0M629.1 110.9a0.8 0.8 0 1 0 1.6 0a0.8 0.8 0 1 0 -1.6 0M604.9 46.9a0.8 0.8 0 1 0 1.6 0a0.8 0.8 0 1 0 -1.6 0M626.4 124.6a0.8 0.8 0 1 0 1.6 0a0.8 0.8 0 1 0 -1.6 0M548.7 101.0a0.8 0.8 0 1 0 1.6 0a0.8 0.8 0 1 0 -1.6 0M595.5 31.3a0.8 0.8 0 1 0 1.6 0a0.8 0.8 0 1 0 -1.6 0M582.2 17.9a0.8 0.8 0 1 0 1.6 0a0.8 0.8 0 1 0 -1.6 0M654.2 88.9a0.8 0.8 0 1 0 1.6 0a0.8 0.8 0 1 0 -1.6 0M597.9 133.5a0.8 0.8 0 1 0 1.6 0a0.8 0.8 0 1 0 -1.6 0M654.9 65.2a0.8 0.8 0 1 0 1.6 0a0.8 0.8 0 1 0 -1.6 0M539.4 93.0a0.8 0.8 0 1 0 1.6 0a0.8 0.8 0 1 0 -1.6 0M568.4 95.7a0.8 0.8 0 1 0 1.6 0a0.8 0.8 0 1 0 -1.6 0M549.0 123.6a0.8 0.8 0 1 0 1.6 0a0.8 0.8 0 1 0 -1.6 0M658.4 34.2a0.8 0.8 0 1 0 1.6 0a0.8 0.8 0 1 0 -1.6 0M653.6 21.5a0.8 0.8 0 1 0 1.6 0a0.8 0.8 0 1 0 -1.6 0M555.5 89.4a0.8 0.8 0 1 0 1.6 0a0.8 0.8 0 1 0 -1.6 0M569.3 64.8a0.8 0.8 0 1 0 1.6 0a0.8 0.8 0 1 0 -1.6 0M588.4 118.0a0.8 0.8 0 1 0 1.6 0a0.8 0.8 0 1 0 -1.6 0M647.3 136.0a0.8 0.8 0 1 0 1.6 0a0.8 0.8 0 1 0 -1.6 0M569.2 45.6a0.8 0.8 0 1 0 1.6 0a0.8 0.8 0 1 0 -1.6 0M655.4 66.1a0.8 0.8 0 1 0 1.6 0a0.8 0.8 0 1 0 -1.6 0M551.3 80.9a0.8 0.8 0 1 0 1.6 0a0.8 0.8 0 1 0 -1.6 0M569.3 99.6a0.8 0.8 0 1 0 1.6 0a0.8 0.8 0 1 0 -1.6 0M593.4 31.3a0.8 0.8 0 1 0 1.6 0a0.8 0.8 0 1 0 -1.6 0M643.8 137.0a0.8 0.8 0 1 0 1.6 0a0.8 0.8 0 1 0 -1.6 0M556.8 38.7a0.8 0.8 0 1 0 1.6 0a0.8 0.8 0 1 0 -1.6 0M607.2 31.6a0.8 0.8 0 1 0 1.6 0a0.8 0.8 0 1 0 -1.6 0M674.4 71.1a0.8 0.8 0 1 0 1.6 0a0.8 0.8 0 1 0 -1.6 0M566.2 44.2a0.8 0.8 0 1 0 1.6 0a0.8 0.8 0 1 0 -1.6 0M623.0 135.2a0.8 0.8 0 1 0 1.6 0a0.8 0.8 0 1 0 -1.6 0M592.2 87.5a0.8 0.8 0 1 0 1.6 0a0.8 0.8 0 1 0 -1.6 0M673.7 79.5a0.8 0.8 0 1 0 1.6 0a0.8 0.8 0 1 0 -1.6 0M589.8 134.1a0.8 0.8 0 1 0 1.6 0a0.8 0.8 0 1 0 -1.6 0M633.1 68.2a0.8 0.8 0 1 0 1.6 0a0.8 0.8 0 1 0 -1.6 0M653.0 43.8a0.8 0.8 0 1 0 1.6 0a0.8 0.8 0 1 0 -1.6 0M549.2 41.8a0.8 0.8 0 1 0 1.6 0a0.8 0.8 0 1 0 -1.6 0M582.9 131.8a0.8 0.8 0 1 0 1.6 0a0.8 0.8 0 1 0 -1.6 0M571.5 18.5a0.8 0.8 0 1 0 1.6 0a0.8 0.8 0 1 0 -1.6 0M550.4 123.8a0.8 0.8 0 1 0 1.6 0a0.8 0.8 0 1 0 -1.6 0M607.5 145.6a0.8 0.8 0 1 0 1.6 0a0.8 0.8 0 1 0 -1.6 0M583.2 28.6a0.8 0.8 0 1 0 1.6 0a0.8 0.8 0 1 0 -1.6 0M561.1 116.8a0.8 0.8 0 1 0 1.6 0a0.8 0.8 0 1 0 -1.6 0M607.8 130.0a0.8 0.8 0 1 0 1.6 0a0.8 0.8 0 1 0 -1.6 0M672.4 78.4a0.8 0.8 0 1 0 1.6 0a0.8 0.8 0 1 0 -1.6 0M662.8 91.1a0.8 0.8 0 1 0 1.6 0a0.8 0.8 0 1 0 -1.6 0M611.9 121.2a0.8 0.8 0 1 0 1.6 0a0.8 0.8 0 1 0 -1.6 0M586.6 10.9a0.8 0.8 0 1 0 1.6 0a0.8 0.8 0 1 0 -1.6 0M673.6 75.6a0.8 0.8 0 1 0 1.6 0a0.8 0.8 0 1 0 -1.6 0M583.8 135.7a0.8 0.8 0 1 0 1.6 0a0.8 0.8 0 1 0 -1.6 0M666.2 71.6a0.8 0.8 0 1 0 1.6 0a0.8 0.8 0 1 0 -1.6 0M609.7 81.3a0.8 0.8 0 1 0 1.6 0a0.8 0.8 0 1 0 -1.6 0M636.7 37.4a0.8 0.8 0 1 0 1.6 0a0.8 0.8 0 1 0 -1.6 0M581.7 121.2a0.8 0.8 0 1 0 1.6 0a0.8 0.8 0 1 0 -1.6 0M639.0 142.1a0.8 0.8 0 1 0 1.6 0a0.8 0.8 0 1 0 -1.6 0M657.6 94.1a0.8 0.8 0 1 0 1.6 0a0.8 0.8 0 1 0 -1.6 0M593.0 21.8a0.8 0.8 0 1 0 1.6 0a0.8 0.8 0 1 0 -1.6 0M667.2 120.6a0.8 0.8 0 1 0 1.6 0a0.8 0.8 0 1 0 -1.6 0M581.0 49.8a0.8 0.8 0 1 0 1.6 0a0.8 0.8 0 1 0 -1.6 0M674.9 55.6a0.8 0.8 0 1 0 1.6 0a0.8 0.8 0 1 0 -1.6 0M559.5 41.2a0.8 0.8 0 1 0 1.6 0a0.8 0.8 0 1 0 -1.6 0M637.5 125.3a0.8 0.8 0 1 0 1.6 0a0.8 0.8 0 1 0 -1.6 0M573.5 106.3a0.8 0.8 0 1 0 1.6 0a0.8 0.8 0 1 0 -1.6 0M621.6 104.4a0.8 0.8 0 1 0 1.6 0a0.8 0.8 0 1 0 -1.6 0M558.2 120.9a0.8 0.8 0 1 0 1.6 0a0.8 0.8 0 1 0 -1.6 0M622.1 138.6a0.8 0.8 0 1 0 1.6 0a0.8 0.8 0 1 0 -1.6 0" fill="#fff" fill-opacity="0.17"/>
<path d="M634.7 131.6a0.9 0.9 0 1 0 1.8 0a0.9 0.9 0 1 0 -1.8 0M658.8 104.7a0.9 0.9 0 1 0 1.8 0a0.9 0.9 0 1 0 -1.8 0M656.1 29.2a0.9 0.9 0 1 0 1.8 0a0.9 0.9 0 1 0 -1.8 0M576.3 72.9a0.9 0.9 0 1 0 1.8 0a0.9 0.9 0 1 0 -1.8 0M613.9 75.3a0.9 0.9 0 1 0 1.8 0a0.9 0.9 0 1 0 -1.8 0M663.9 100.9a0.9 0.9 0 1 0 1.8 0a0.9 0.9 0 1 0 -1.8 0M540.8 49.5a0.9 0.9 0 1 0 1.8 0a0.9 0.9 0 1 0 -1.8 0M589.8 33.0a0.9 0.9 0 1 0 1.8 0a0.9 0.9 0 1 0 -1.8 0M631.2 74.2a0.9 0.9 0 1 0 1.8 0a0.9 0.9 0 1 0 -1.8 0M662.9 52.9a0.9 0.9 0 1 0 1.8 0a0.9 0.9 0 1 0 -1.8 0M627.4 151.8a0.9 0.9 0 1 0 1.8 0a0.9 0.9 0 1 0 -1.8 0M595.9 71.1a0.9 0.9 0 1 0 1.8 0a0.9 0.9 0 1 0 -1.8 0M678.4 90.6a0.9 0.9 0 1 0 1.8 0a0.9 0.9 0 1 0 -1.8 0M536.1 88.9a0.9 0.9 0 1 0 1.8 0a0.9 0.9 0 1 0 -1.8 0M662.1 117.2a0.9 0.9 0 1 0 1.8 0a0.9 0.9 0 1 0 -1.8 0M592.9 143.3a0.9 0.9 0 1 0 1.8 0a0.9 0.9 0 1 0 -1.8 0M542.8 78.6a0.9 0.9 0 1 0 1.8 0a0.9 0.9 0 1 0 -1.8 0M571.9 104.0a0.9 0.9 0 1 0 1.8 0a0.9 0.9 0 1 0 -1.8 0M675.4 76.9a0.9 0.9 0 1 0 1.8 0a0.9 0.9 0 1 0 -1.8 0M655.6 24.5a0.9 0.9 0 1 0 1.8 0a0.9 0.9 0 1 0 -1.8 0M639.5 38.2a0.9 0.9 0 1 0 1.8 0a0.9 0.9 0 1 0 -1.8 0M658.9 86.6a0.9 0.9 0 1 0 1.8 0a0.9 0.9 0 1 0 -1.8 0M586.8 64.4a0.9 0.9 0 1 0 1.8 0a0.9 0.9 0 1 0 -1.8 0M567.9 112.7a0.9 0.9 0 1 0 1.8 0a0.9 0.9 0 1 0 -1.8 0M605.1 28.4a0.9 0.9 0 1 0 1.8 0a0.9 0.9 0 1 0 -1.8 0M575.0 62.9a0.9 0.9 0 1 0 1.8 0a0.9 0.9 0 1 0 -1.8 0M575.1 31.2a0.9 0.9 0 1 0 1.8 0a0.9 0.9 0 1 0 -1.8 0M614.5 111.3a0.9 0.9 0 1 0 1.8 0a0.9 0.9 0 1 0 -1.8 0M563.3 80.2a0.9 0.9 0 1 0 1.8 0a0.9 0.9 0 1 0 -1.8 0M652.1 50.4a0.9 0.9 0 1 0 1.8 0a0.9 0.9 0 1 0 -1.8 0M656.6 20.8a0.9 0.9 0 1 0 1.8 0a0.9 0.9 0 1 0 -1.8 0M557.1 108.3a0.9 0.9 0 1 0 1.8 0a0.9 0.9 0 1 0 -1.8 0M669.0 119.5a0.9 0.9 0 1 0 1.8 0a0.9 0.9 0 1 0 -1.8 0M566.2 95.5a0.9 0.9 0 1 0 1.8 0a0.9 0.9 0 1 0 -1.8 0M626.5 47.7a0.9 0.9 0 1 0 1.8 0a0.9 0.9 0 1 0 -1.8 0M669.7 57.2a0.9 0.9 0 1 0 1.8 0a0.9 0.9 0 1 0 -1.8 0M549.8 123.2a0.9 0.9 0 1 0 1.8 0a0.9 0.9 0 1 0 -1.8 0M569.2 103.0a0.9 0.9 0 1 0 1.8 0a0.9 0.9 0 1 0 -1.8 0M639.2 101.6a0.9 0.9 0 1 0 1.8 0a0.9 0.9 0 1 0 -1.8 0M558.7 138.0a0.9 0.9 0 1 0 1.8 0a0.9 0.9 0 1 0 -1.8 0M587.8 37.6a0.9 0.9 0 1 0 1.8 0a0.9 0.9 0 1 0 -1.8 0M649.2 40.9a0.9 0.9 0 1 0 1.8 0a0.9 0.9 0 1 0 -1.8 0M596.1 46.0a0.9 0.9 0 1 0 1.8 0a0.9 0.9 0 1 0 -1.8 0M603.5 117.8a0.9 0.9 0 1 0 1.8 0a0.9 0.9 0 1 0 -1.8 0M607.6 130.9a0.9 0.9 0 1 0 1.8 0a0.9 0.9 0 1 0 -1.8 0M600.1 62.0a0.9 0.9 0 1 0 1.8 0a0.9 0.9 0 1 0 -1.8 0M616.6 18.2a0.9 0.9 0 1 0 1.8 0a0.9 0.9 0 1 0 -1.8 0M563.5 25.3a0.9 0.9 0 1 0 1.8 0a0.9 0.9 0 1 0 -1.8 0M560.2 46.4a0.9 0.9 0 1 0 1.8 0a0.9 0.9 0 1 0 -1.8 0M541.3 45.1a0.9 0.9 0 1 0 1.8 0a0.9 0.9 0 1 0 -1.8 0M544.1 93.4a0.9 0.9 0 1 0 1.8 0a0.9 0.9 0 1 0 -1.8 0M663.1 87.7a0.9 0.9 0 1 0 1.8 0a0.9 0.9 0 1 0 -1.8 0M591.0 121.2a0.9 0.9 0 1 0 1.8 0a0.9 0.9 0 1 0 -1.8 0M621.4 111.4a0.9 0.9 0 1 0 1.8 0a0.9 0.9 0 1 0 -1.8 0M639.8 45.6a0.9 0.9 0 1 0 1.8 0a0.9 0.9 0 1 0 -1.8 0M544.8 51.4a0.9 0.9 0 1 0 1.8 0a0.9 0.9 0 1 0 -1.8 0M564.8 115.4a0.9 0.9 0 1 0 1.8 0a0.9 0.9 0 1 0 -1.8 0M618.5 85.9a0.9 0.9 0 1 0 1.8 0a0.9 0.9 0 1 0 -1.8 0M599.3 42.5a0.9 0.9 0 1 0 1.8 0a0.9 0.9 0 1 0 -1.8 0M646.3 127.3a0.9 0.9 0 1 0 1.8 0a0.9 0.9 0 1 0 -1.8 0M648.2 104.7a0.9 0.9 0 1 0 1.8 0a0.9 0.9 0 1 0 -1.8 0M538.8 54.5a0.9 0.9 0 1 0 1.8 0a0.9 0.9 0 1 0 -1.8 0M582.9 120.5a0.9 0.9 0 1 0 1.8 0a0.9 0.9 0 1 0 -1.8 0M595.7 22.7a0.9 0.9 0 1 0 1.8 0a0.9 0.9 0 1 0 -1.8 0M589.2 47.3a0.9 0.9 0 1 0 1.8 0a0.9 0.9 0 1 0 -1.8 0M632.0 45.3a0.9 0.9 0 1 0 1.8 0a0.9 0.9 0 1 0 -1.8 0M570.0 125.4a0.9 0.9 0 1 0 1.8 0a0.9 0.9 0 1 0 -1.8 0M592.2 119.6a0.9 0.9 0 1 0 1.8 0a0.9 0.9 0 1 0 -1.8 0M554.3 62.2a0.9 0.9 0 1 0 1.8 0a0.9 0.9 0 1 0 -1.8 0M560.0 43.7a0.9 0.9 0 1 0 1.8 0a0.9 0.9 0 1 0 -1.8 0M607.9 133.9a0.9 0.9 0 1 0 1.8 0a0.9 0.9 0 1 0 -1.8 0M607.7 134.4a0.9 0.9 0 1 0 1.8 0a0.9 0.9 0 1 0 -1.8 0M583.5 17.1a0.9 0.9 0 1 0 1.8 0a0.9 0.9 0 1 0 -1.8 0M656.1 50.0a0.9 0.9 0 1 0 1.8 0a0.9 0.9 0 1 0 -1.8 0M577.1 106.4a0.9 0.9 0 1 0 1.8 0a0.9 0.9 0 1 0 -1.8 0M679.4 85.2a0.9 0.9 0 1 0 1.8 0a0.9 0.9 0 1 0 -1.8 0M609.1 41.5a0.9 0.9 0 1 0 1.8 0a0.9 0.9 0 1 0 -1.8 0M544.0 59.5a0.9 0.9 0 1 0 1.8 0a0.9 0.9 0 1 0 -1.8 0M565.3 86.3a0.9 0.9 0 1 0 1.8 0a0.9 0.9 0 1 0 -1.8 0M553.5 45.1a0.9 0.9 0 1 0 1.8 0a0.9 0.9 0 1 0 -1.8 0M650.3 59.6a0.9 0.9 0 1 0 1.8 0a0.9 0.9 0 1 0 -1.8 0M637.3 113.6a0.9 0.9 0 1 0 1.8 0a0.9 0.9 0 1 0 -1.8 0M639.0 83.4a0.9 0.9 0 1 0 1.8 0a0.9 0.9 0 1 0 -1.8 0M563.1 96.1a0.9 0.9 0 1 0 1.8 0a0.9 0.9 0 1 0 -1.8 0M583.5 46.5a0.9 0.9 0 1 0 1.8 0a0.9 0.9 0 1 0 -1.8 0M655.4 135.9a0.9 0.9 0 1 0 1.8 0a0.9 0.9 0 1 0 -1.8 0M658.0 139.1a0.9 0.9 0 1 0 1.8 0a0.9 0.9 0 1 0 -1.8 0M623.0 129.0a0.9 0.9 0 1 0 1.8 0a0.9 0.9 0 1 0 -1.8 0M625.6 137.8a0.9 0.9 0 1 0 1.8 0a0.9 0.9 0 1 0 -1.8 0M562.9 34.5a0.9 0.9 0 1 0 1.8 0a0.9 0.9 0 1 0 -1.8 0M548.0 65.0a0.9 0.9 0 1 0 1.8 0a0.9 0.9 0 1 0 -1.8 0M677.4 90.2a0.9 0.9 0 1 0 1.8 0a0.9 0.9 0 1 0 -1.8 0M575.9 100.5a0.9 0.9 0 1 0 1.8 0a0.9 0.9 0 1 0 -1.8 0M581.1 95.3a0.9 0.9 0 1 0 1.8 0a0.9 0.9 0 1 0 -1.8 0M640.5 111.5a0.9 0.9 0 1 0 1.8 0a0.9 0.9 0 1 0 -1.8 0M619.8 67.1a0.9 0.9 0 1 0 1.8 0a0.9 0.9 0 1 0 -1.8 0M549.1 59.4a0.9 0.9 0 1 0 1.8 0a0.9 0.9 0 1 0 -1.8 0M657.4 133.5a0.9 0.9 0 1 0 1.8 0a0.9 0.9 0 1 0 -1.8 0M562.9 113.5a0.9 0.9 0 1 0 1.8 0a0.9 0.9 0 1 0 -1.8 0M588.1 62.1a0.9 0.9 0 1 0 1.8 0a0.9 0.9 0 1 0 -1.8 0M665.3 92.8a0.9 0.9 0 1 0 1.8 0a0.9 0.9 0 1 0 -1.8 0M615.1 140.7a0.9 0.9 0 1 0 1.8 0a0.9 0.9 0 1 0 -1.8 0M576.5 50.8a0.9 0.9 0 1 0 1.8 0a0.9 0.9 0 1 0 -1.8 0M550.9 50.0a0.9 0.9 0 1 0 1.8 0a0.9 0.9 0 1 0 -1.8 0M637.9 17.1a0.9 0.9 0 1 0 1.8 0a0.9 0.9 0 1 0 -1.8 0M607.5 30.6a0.9 0.9 0 1 0 1.8 0a0.9 0.9 0 1 0 -1.8 0M608.4 15.3a0.9 0.9 0 1 0 1.8 0a0.9 0.9 0 1 0 -1.8 0M630.0 76.6a0.9 0.9 0 1 0 1.8 0a0.9 0.9 0 1 0 -1.8 0M660.0 42.4a0.9 0.9 0 1 0 1.8 0a0.9 0.9 0 1 0 -1.8 0M556.0 91.7a0.9 0.9 0 1 0 1.8 0a0.9 0.9 0 1 0 -1.8 0M580.2 145.4a0.9 0.9 0 1 0 1.8 0a0.9 0.9 0 1 0 -1.8 0M628.4 132.3a0.9 0.9 0 1 0 1.8 0a0.9 0.9 0 1 0 -1.8 0M622.2 108.6a0.9 0.9 0 1 0 1.8 0a0.9 0.9 0 1 0 -1.8 0M571.0 82.9a0.9 0.9 0 1 0 1.8 0a0.9 0.9 0 1 0 -1.8 0M565.3 104.1a0.9 0.9 0 1 0 1.8 0a0.9 0.9 0 1 0 -1.8 0M599.5 141.2a0.9 0.9 0 1 0 1.8 0a0.9 0.9 0 1 0 -1.8 0M621.2 113.3a0.9 0.9 0 1 0 1.8 0a0.9 0.9 0 1 0 -1.8 0M646.5 44.5a0.9 0.9 0 1 0 1.8 0a0.9 0.9 0 1 0 -1.8 0M633.9 108.0a0.9 0.9 0 1 0 1.8 0a0.9 0.9 0 1 0 -1.8 0M584.0 49.8a0.9 0.9 0 1 0 1.8 0a0.9 0.9 0 1 0 -1.8 0M584.6 47.6a0.9 0.9 0 1 0 1.8 0a0.9 0.9 0 1 0 -1.8 0M563.9 135.1a0.9 0.9 0 1 0 1.8 0a0.9 0.9 0 1 0 -1.8 0M564.2 64.2a0.9 0.9 0 1 0 1.8 0a0.9 0.9 0 1 0 -1.8 0M550.6 67.7a0.9 0.9 0 1 0 1.8 0a0.9 0.9 0 1 0 -1.8 0M659.1 93.3a0.9 0.9 0 1 0 1.8 0a0.9 0.9 0 1 0 -1.8 0M625.5 84.3a0.9 0.9 0 1 0 1.8 0a0.9 0.9 0 1 0 -1.8 0M621.8 30.9a0.9 0.9 0 1 0 1.8 0a0.9 0.9 0 1 0 -1.8 0M540.5 89.3a0.9 0.9 0 1 0 1.8 0a0.9 0.9 0 1 0 -1.8 0M658.8 96.8a0.9 0.9 0 1 0 1.8 0a0.9 0.9 0 1 0 -1.8 0M644.6 50.0a0.9 0.9 0 1 0 1.8 0a0.9 0.9 0 1 0 -1.8 0M562.4 119.3a0.9 0.9 0 1 0 1.8 0a0.9 0.9 0 1 0 -1.8 0M561.5 50.0a0.9 0.9 0 1 0 1.8 0a0.9 0.9 0 1 0 -1.8 0M672.3 104.2a0.9 0.9 0 1 0 1.8 0a0.9 0.9 0 1 0 -1.8 0M648.6 127.1a0.9 0.9 0 1 0 1.8 0a0.9 0.9 0 1 0 -1.8 0M571.2 139.8a0.9 0.9 0 1 0 1.8 0a0.9 0.9 0 1 0 -1.8 0M611.4 15.8a0.9 0.9 0 1 0 1.8 0a0.9 0.9 0 1 0 -1.8 0M602.9 126.7a0.9 0.9 0 1 0 1.8 0a0.9 0.9 0 1 0 -1.8 0M599.5 45.8a0.9 0.9 0 1 0 1.8 0a0.9 0.9 0 1 0 -1.8 0M561.8 120.7a0.9 0.9 0 1 0 1.8 0a0.9 0.9 0 1 0 -1.8 0M609.5 11.9a0.9 0.9 0 1 0 1.8 0a0.9 0.9 0 1 0 -1.8 0M565.2 20.8a0.9 0.9 0 1 0 1.8 0a0.9 0.9 0 1 0 -1.8 0M600.3 28.9a0.9 0.9 0 1 0 1.8 0a0.9 0.9 0 1 0 -1.8 0M592.8 28.9a0.9 0.9 0 1 0 1.8 0a0.9 0.9 0 1 0 -1.8 0M540.5 110.6a0.9 0.9 0 1 0 1.8 0a0.9 0.9 0 1 0 -1.8 0M550.0 121.8a0.9 0.9 0 1 0 1.8 0a0.9 0.9 0 1 0 -1.8 0M617.3 117.8a0.9 0.9 0 1 0 1.8 0a0.9 0.9 0 1 0 -1.8 0M599.7 114.1a0.9 0.9 0 1 0 1.8 0a0.9 0.9 0 1 0 -1.8 0M589.1 103.7a0.9 0.9 0 1 0 1.8 0a0.9 0.9 0 1 0 -1.8 0M573.8 28.1a0.9 0.9 0 1 0 1.8 0a0.9 0.9 0 1 0 -1.8 0M634.4 143.4a0.9 0.9 0 1 0 1.8 0a0.9 0.9 0 1 0 -1.8 0M623.7 40.7a0.9 0.9 0 1 0 1.8 0a0.9 0.9 0 1 0 -1.8 0M565.1 38.6a0.9 0.9 0 1 0 1.8 0a0.9 0.9 0 1 0 -1.8 0M599.6 63.5a0.9 0.9 0 1 0 1.8 0a0.9 0.9 0 1 0 -1.8 0M579.8 94.6a0.9 0.9 0 1 0 1.8 0a0.9 0.9 0 1 0 -1.8 0M599.5 37.6a0.9 0.9 0 1 0 1.8 0a0.9 0.9 0 1 0 -1.8 0M546.9 99.3a0.9 0.9 0 1 0 1.8 0a0.9 0.9 0 1 0 -1.8 0M556.0 98.9a0.9 0.9 0 1 0 1.8 0a0.9 0.9 0 1 0 -1.8 0M550.7 64.7a0.9 0.9 0 1 0 1.8 0a0.9 0.9 0 1 0 -1.8 0M580.7 131.7a0.9 0.9 0 1 0 1.8 0a0.9 0.9 0 1 0 -1.8 0M556.9 136.1a0.9 0.9 0 1 0 1.8 0a0.9 0.9 0 1 0 -1.8 0M581.1 38.7a0.9 0.9 0 1 0 1.8 0a0.9 0.9 0 1 0 -1.8 0M606.0 136.0a0.9 0.9 0 1 0 1.8 0a0.9 0.9 0 1 0 -1.8 0M617.8 33.9a0.9 0.9 0 1 0 1.8 0a0.9 0.9 0 1 0 -1.8 0M670.6 36.6a0.9 0.9 0 1 0 1.8 0a0.9 0.9 0 1 0 -1.8 0M651.4 116.6a0.9 0.9 0 1 0 1.8 0a0.9 0.9 0 1 0 -1.8 0M628.3 105.4a0.9 0.9 0 1 0 1.8 0a0.9 0.9 0 1 0 -1.8 0M653.8 136.5a0.9 0.9 0 1 0 1.8 0a0.9 0.9 0 1 0 -1.8 0M581.2 126.0a0.9 0.9 0 1 0 1.8 0a0.9 0.9 0 1 0 -1.8 0M617.4 97.2a0.9 0.9 0 1 0 1.8 0a0.9 0.9 0 1 0 -1.8 0M588.2 95.3a0.9 0.9 0 1 0 1.8 0a0.9 0.9 0 1 0 -1.8 0M597.7 41.9a0.9 0.9 0 1 0 1.8 0a0.9 0.9 0 1 0 -1.8 0M623.4 41.9a0.9 0.9 0 1 0 1.8 0a0.9 0.9 0 1 0 -1.8 0M599.8 131.1a0.9 0.9 0 1 0 1.8 0a0.9 0.9 0 1 0 -1.8 0M637.5 21.3a0.9 0.9 0 1 0 1.8 0a0.9 0.9 0 1 0 -1.8 0M659.0 51.8a0.9 0.9 0 1 0 1.8 0a0.9 0.9 0 1 0 -1.8 0M545.6 56.7a0.9 0.9 0 1 0 1.8 0a0.9 0.9 0 1 0 -1.8 0M627.3 54.3a0.9 0.9 0 1 0 1.8 0a0.9 0.9 0 1 0 -1.8 0M537.8 59.7a0.9 0.9 0 1 0 1.8 0a0.9 0.9 0 1 0 -1.8 0M627.2 119.4a0.9 0.9 0 1 0 1.8 0a0.9 0.9 0 1 0 -1.8 0M612.5 43.5a0.9 0.9 0 1 0 1.8 0a0.9 0.9 0 1 0 -1.8 0M583.2 136.5a0.9 0.9 0 1 0 1.8 0a0.9 0.9 0 1 0 -1.8 0M626.2 89.9a0.9 0.9 0 1 0 1.8 0a0.9 0.9 0 1 0 -1.8 0M649.6 63.8a0.9 0.9 0 1 0 1.8 0a0.9 0.9 0 1 0 -1.8 0M592.5 91.2a0.9 0.9 0 1 0 1.8 0a0.9 0.9 0 1 0 -1.8 0M557.3 124.3a0.9 0.9 0 1 0 1.8 0a0.9 0.9 0 1 0 -1.8 0M645.4 50.3a0.9 0.9 0 1 0 1.8 0a0.9 0.9 0 1 0 -1.8 0M631.8 58.8a0.9 0.9 0 1 0 1.8 0a0.9 0.9 0 1 0 -1.8 0M581.3 57.3a0.9 0.9 0 1 0 1.8 0a0.9 0.9 0 1 0 -1.8 0M655.0 91.2a0.9 0.9 0 1 0 1.8 0a0.9 0.9 0 1 0 -1.8 0M670.1 113.9a0.9 0.9 0 1 0 1.8 0a0.9 0.9 0 1 0 -1.8 0M575.4 70.3a0.9 0.9 0 1 0 1.8 0a0.9 0.9 0 1 0 -1.8 0M661.3 42.3a0.9 0.9 0 1 0 1.8 0a0.9 0.9 0 1 0 -1.8 0M559.2 36.4a0.9 0.9 0 1 0 1.8 0a0.9 0.9 0 1 0 -1.8 0M635.8 149.1a0.9 0.9 0 1 0 1.8 0a0.9 0.9 0 1 0 -1.8 0M661.9 133.4a0.9 0.9 0 1 0 1.8 0a0.9 0.9 0 1 0 -1.8 0M573.4 143.0a0.9 0.9 0 1 0 1.8 0a0.9 0.9 0 1 0 -1.8 0M585.2 56.4a0.9 0.9 0 1 0 1.8 0a0.9 0.9 0 1 0 -1.8 0M581.9 140.1a0.9 0.9 0 1 0 1.8 0a0.9 0.9 0 1 0 -1.8 0M582.1 124.5a0.9 0.9 0 1 0 1.8 0a0.9 0.9 0 1 0 -1.8 0M570.1 115.7a0.9 0.9 0 1 0 1.8 0a0.9 0.9 0 1 0 -1.8 0M669.4 76.3a0.9 0.9 0 1 0 1.8 0a0.9 0.9 0 1 0 -1.8 0M634.4 127.7a0.9 0.9 0 1 0 1.8 0a0.9 0.9 0 1 0 -1.8 0M568.5 99.5a0.9 0.9 0 1 0 1.8 0a0.9 0.9 0 1 0 -1.8 0M578.3 17.9a0.9 0.9 0 1 0 1.8 0a0.9 0.9 0 1 0 -1.8 0M546.0 87.1a0.9 0.9 0 1 0 1.8 0a0.9 0.9 0 1 0 -1.8 0M550.7 69.5a0.9 0.9 0 1 0 1.8 0a0.9 0.9 0 1 0 -1.8 0M628.2 62.6a0.9 0.9 0 1 0 1.8 0a0.9 0.9 0 1 0 -1.8 0M645.0 37.5a0.9 0.9 0 1 0 1.8 0a0.9 0.9 0 1 0 -1.8 0M646.2 108.3a0.9 0.9 0 1 0 1.8 0a0.9 0.9 0 1 0 -1.8 0M564.4 72.9a0.9 0.9 0 1 0 1.8 0a0.9 0.9 0 1 0 -1.8 0M535.6 101.8a0.9 0.9 0 1 0 1.8 0a0.9 0.9 0 1 0 -1.8 0M541.5 96.4a0.9 0.9 0 1 0 1.8 0a0.9 0.9 0 1 0 -1.8 0M594.0 67.0a0.9 0.9 0 1 0 1.8 0a0.9 0.9 0 1 0 -1.8 0M653.0 70.0a0.9 0.9 0 1 0 1.8 0a0.9 0.9 0 1 0 -1.8 0M635.3 132.0a0.9 0.9 0 1 0 1.8 0a0.9 0.9 0 1 0 -1.8 0M659.6 116.4a0.9 0.9 0 1 0 1.8 0a0.9 0.9 0 1 0 -1.8 0M599.9 26.6a0.9 0.9 0 1 0 1.8 0a0.9 0.9 0 1 0 -1.8 0M631.3 84.3a0.9 0.9 0 1 0 1.8 0a0.9 0.9 0 1 0 -1.8 0M605.6 30.9a0.9 0.9 0 1 0 1.8 0a0.9 0.9 0 1 0 -1.8 0M592.6 47.4a0.9 0.9 0 1 0 1.8 0a0.9 0.9 0 1 0 -1.8 0M543.0 78.2a0.9 0.9 0 1 0 1.8 0a0.9 0.9 0 1 0 -1.8 0M564.1 56.3a0.9 0.9 0 1 0 1.8 0a0.9 0.9 0 1 0 -1.8 0M597.6 66.5a0.9 0.9 0 1 0 1.8 0a0.9 0.9 0 1 0 -1.8 0M565.7 116.2a0.9 0.9 0 1 0 1.8 0a0.9 0.9 0 1 0 -1.8 0M673.3 96.2a0.9 0.9 0 1 0 1.8 0a0.9 0.9 0 1 0 -1.8 0M677.7 47.2a0.9 0.9 0 1 0 1.8 0a0.9 0.9 0 1 0 -1.8 0M640.5 89.9a0.9 0.9 0 1 0 1.8 0a0.9 0.9 0 1 0 -1.8 0M676.2 81.6a0.9 0.9 0 1 0 1.8 0a0.9 0.9 0 1 0 -1.8 0M661.8 74.2a0.9 0.9 0 1 0 1.8 0a0.9 0.9 0 1 0 -1.8 0M542.6 83.4a0.9 0.9 0 1 0 1.8 0a0.9 0.9 0 1 0 -1.8 0M591.0 17.3a0.9 0.9 0 1 0 1.8 0a0.9 0.9 0 1 0 -1.8 0M578.9 35.5a0.9 0.9 0 1 0 1.8 0a0.9 0.9 0 1 0 -1.8 0M612.8 139.2a0.9 0.9 0 1 0 1.8 0a0.9 0.9 0 1 0 -1.8 0M592.7 103.0a0.9 0.9 0 1 0 1.8 0a0.9 0.9 0 1 0 -1.8 0M633.6 148.7a0.9 0.9 0 1 0 1.8 0a0.9 0.9 0 1 0 -1.8 0M636.0 48.6a0.9 0.9 0 1 0 1.8 0a0.9 0.9 0 1 0 -1.8 0M611.5 123.5a0.9 0.9 0 1 0 1.8 0a0.9 0.9 0 1 0 -1.8 0M648.6 43.7a0.9 0.9 0 1 0 1.8 0a0.9 0.9 0 1 0 -1.8 0M672.5 84.9a0.9 0.9 0 1 0 1.8 0a0.9 0.9 0 1 0 -1.8 0M655.2 31.8a0.9 0.9 0 1 0 1.8 0a0.9 0.9 0 1 0 -1.8 0M600.0 23.1a0.9 0.9 0 1 0 1.8 0a0.9 0.9 0 1 0 -1.8 0M565.9 22.9a0.9 0.9 0 1 0 1.8 0a0.9 0.9 0 1 0 -1.8 0M570.1 22.2a0.9 0.9 0 1 0 1.8 0a0.9 0.9 0 1 0 -1.8 0M639.4 147.1a0.9 0.9 0 1 0 1.8 0a0.9 0.9 0 1 0 -1.8 0M639.1 131.0a0.9 0.9 0 1 0 1.8 0a0.9 0.9 0 1 0 -1.8 0M626.4 79.3a0.9 0.9 0 1 0 1.8 0a0.9 0.9 0 1 0 -1.8 0M599.0 12.5a0.9 0.9 0 1 0 1.8 0a0.9 0.9 0 1 0 -1.8 0M643.8 27.5a0.9 0.9 0 1 0 1.8 0a0.9 0.9 0 1 0 -1.8 0M663.8 45.8a0.9 0.9 0 1 0 1.8 0a0.9 0.9 0 1 0 -1.8 0M602.5 98.5a0.9 0.9 0 1 0 1.8 0a0.9 0.9 0 1 0 -1.8 0M599.7 71.2a0.9 0.9 0 1 0 1.8 0a0.9 0.9 0 1 0 -1.8 0M557.9 103.9a0.9 0.9 0 1 0 1.8 0a0.9 0.9 0 1 0 -1.8 0M641.9 50.3a0.9 0.9 0 1 0 1.8 0a0.9 0.9 0 1 0 -1.8 0M550.8 86.3a0.9 0.9 0 1 0 1.8 0a0.9 0.9 0 1 0 -1.8 0M590.6 70.4a0.9 0.9 0 1 0 1.8 0a0.9 0.9 0 1 0 -1.8 0M630.0 20.8a0.9 0.9 0 1 0 1.8 0a0.9 0.9 0 1 0 -1.8 0M619.3 130.1a0.9 0.9 0 1 0 1.8 0a0.9 0.9 0 1 0 -1.8 0M650.6 111.2a0.9 0.9 0 1 0 1.8 0a0.9 0.9 0 1 0 -1.8 0M559.9 53.4a0.9 0.9 0 1 0 1.8 0a0.9 0.9 0 1 0 -1.8 0M582.2 150.4a0.9 0.9 0 1 0 1.8 0a0.9 0.9 0 1 0 -1.8 0" fill="#fff" fill-opacity="0.3"/>
<path d="M658.3 88.7a1.0 1.0 0 1 0 2.0 0a1.0 1.0 0 1 0 -2.0 0M567.8 109.4a1.0 1.0 0 1 0 2.0 0a1.0 1.0 0 1 0 -2.0 0M666.0 43.8a1.0 1.0 0 1 0 2.0 0a1.0 1.0 0 1 0 -2.0 0M677.1 109.7a1.0 1.0 0 1 0 2.0 0a1.0 1.0 0 1 0 -2.0 0M650.7 29.4a1.0 1.0 0 1 0 2.0 0a1.0 1.0 0 1 0 -2.0 0M633.2 106.5a1.0 1.0 0 1 0 2.0 0a1.0 1.0 0 1 0 -2.0 0M616.7 57.4a1.0 1.0 0 1 0 2.0 0a1.0 1.0 0 1 0 -2.0 0M652.4 112.8a1.0 1.0 0 1 0 2.0 0a1.0 1.0 0 1 0 -2.0 0M636.3 92.9a1.0 1.0 0 1 0 2.0 0a1.0 1.0 0 1 0 -2.0 0M652.5 72.2a1.0 1.0 0 1 0 2.0 0a1.0 1.0 0 1 0 -2.0 0M646.4 110.3a1.0 1.0 0 1 0 2.0 0a1.0 1.0 0 1 0 -2.0 0M667.5 68.3a1.0 1.0 0 1 0 2.0 0a1.0 1.0 0 1 0 -2.0 0M672.7 39.4a1.0 1.0 0 1 0 2.0 0a1.0 1.0 0 1 0 -2.0 0M609.7 81.0a1.0 1.0 0 1 0 2.0 0a1.0 1.0 0 1 0 -2.0 0M672.3 104.2a1.0 1.0 0 1 0 2.0 0a1.0 1.0 0 1 0 -2.0 0M581.1 32.1a1.0 1.0 0 1 0 2.0 0a1.0 1.0 0 1 0 -2.0 0M605.2 62.4a1.0 1.0 0 1 0 2.0 0a1.0 1.0 0 1 0 -2.0 0M582.9 63.3a1.0 1.0 0 1 0 2.0 0a1.0 1.0 0 1 0 -2.0 0M624.7 106.6a1.0 1.0 0 1 0 2.0 0a1.0 1.0 0 1 0 -2.0 0M641.5 73.6a1.0 1.0 0 1 0 2.0 0a1.0 1.0 0 1 0 -2.0 0M653.1 32.8a1.0 1.0 0 1 0 2.0 0a1.0 1.0 0 1 0 -2.0 0M660.5 112.8a1.0 1.0 0 1 0 2.0 0a1.0 1.0 0 1 0 -2.0 0M625.2 142.9a1.0 1.0 0 1 0 2.0 0a1.0 1.0 0 1 0 -2.0 0M558.7 92.6a1.0 1.0 0 1 0 2.0 0a1.0 1.0 0 1 0 -2.0 0M570.7 115.0a1.0 1.0 0 1 0 2.0 0a1.0 1.0 0 1 0 -2.0 0M571.4 115.5a1.0 1.0 0 1 0 2.0 0a1.0 1.0 0 1 0 -2.0 0M624.0 51.1a1.0 1.0 0 1 0 2.0 0a1.0 1.0 0 1 0 -2.0 0M643.2 103.8a1.0 1.0 0 1 0 2.0 0a1.0 1.0 0 1 0 -2.0 0M615.9 14.1a1.0 1.0 0 1 0 2.0 0a1.0 1.0 0 1 0 -2.0 0M594.0 23.5a1.0 1.0 0 1 0 2.0 0a1.0 1.0 0 1 0 -2.0 0M597.7 52.2a1.0 1.0 0 1 0 2.0 0a1.0 1.0 0 1 0 -2.0 0M564.7 48.0a1.0 1.0 0 1 0 2.0 0a1.0 1.0 0 1 0 -2.0 0M671.8 44.1a1.0 1.0 0 1 0 2.0 0a1.0 1.0 0 1 0 -2.0 0M655.1 23.6a1.0 1.0 0 1 0 2.0 0a1.0 1.0 0 1 0 -2.0 0M628.0 67.8a1.0 1.0 0 1 0 2.0 0a1.0 1.0 0 1 0 -2.0 0M592.9 32.1a1.0 1.0 0 1 0 2.0 0a1.0 1.0 0 1 0 -2.0 0M634.6 49.9a1.0 1.0 0 1 0 2.0 0a1.0 1.0 0 1 0 -2.0 0M592.8 55.9a1.0 1.0 0 1 0 2.0 0a1.0 1.0 0 1 0 -2.0 0M609.4 38.4a1.0 1.0 0 1 0 2.0 0a1.0 1.0 0 1 0 -2.0 0M560.0 124.8a1.0 1.0 0 1 0 2.0 0a1.0 1.0 0 1 0 -2.0 0M625.8 120.9a1.0 1.0 0 1 0 2.0 0a1.0 1.0 0 1 0 -2.0 0M640.6 49.9a1.0 1.0 0 1 0 2.0 0a1.0 1.0 0 1 0 -2.0 0M672.5 88.0a1.0 1.0 0 1 0 2.0 0a1.0 1.0 0 1 0 -2.0 0M534.6 97.1a1.0 1.0 0 1 0 2.0 0a1.0 1.0 0 1 0 -2.0 0M644.6 14.2a1.0 1.0 0 1 0 2.0 0a1.0 1.0 0 1 0 -2.0 0M633.7 62.7a1.0 1.0 0 1 0 2.0 0a1.0 1.0 0 1 0 -2.0 0M560.8 79.3a1.0 1.0 0 1 0 2.0 0a1.0 1.0 0 1 0 -2.0 0M641.3 126.4a1.0 1.0 0 1 0 2.0 0a1.0 1.0 0 1 0 -2.0 0M669.7 73.8a1.0 1.0 0 1 0 2.0 0a1.0 1.0 0 1 0 -2.0 0M551.6 111.3a1.0 1.0 0 1 0 2.0 0a1.0 1.0 0 1 0 -2.0 0M592.6 98.5a1.0 1.0 0 1 0 2.0 0a1.0 1.0 0 1 0 -2.0 0M615.8 77.0a1.0 1.0 0 1 0 2.0 0a1.0 1.0 0 1 0 -2.0 0M626.0 110.3a1.0 1.0 0 1 0 2.0 0a1.0 1.0 0 1 0 -2.0 0M671.4 90.0a1.0 1.0 0 1 0 2.0 0a1.0 1.0 0 1 0 -2.0 0M589.0 94.1a1.0 1.0 0 1 0 2.0 0a1.0 1.0 0 1 0 -2.0 0" fill="#fff" fill-opacity="0.55"/>
<path d="M676.6 56.9a1.2 1.2 0 1 0 2.4 0a1.2 1.2 0 1 0 -2.4 0M600.4 27.4a1.2 1.2 0 1 0 2.4 0a1.2 1.2 0 1 0 -2.4 0M573.7 78.8a1.2 1.2 0 1 0 2.4 0a1.2 1.2 0 1 0 -2.4 0M643.8 96.0a1.2 1.2 0 1 0 2.4 0a1.2 1.2 0 1 0 -2.4 0M580.7 59.6a1.2 1.2 0 1 0 2.4 0a1.2 1.2 0 1 0 -2.4 0M668.9 64.1a1.2 1.2 0 1 0 2.4 0a1.2 1.2 0 1 0 -2.4 0M670.9 123.1a1.2 1.2 0 1 0 2.4 0a1.2 1.2 0 1 0 -2.4 0M645.6 115.6a1.2 1.2 0 1 0 2.4 0a1.2 1.2 0 1 0 -2.4 0M634.8 87.9a1.2 1.2 0 1 0 2.4 0a1.2 1.2 0 1 0 -2.4 0M571.4 68.0a1.2 1.2 0 1 0 2.4 0a1.2 1.2 0 1 0 -2.4 0M581.7 98.2a1.2 1.2 0 1 0 2.4 0a1.2 1.2 0 1 0 -2.4 0M570.3 132.1a1.2 1.2 0 1 0 2.4 0a1.2 1.2 0 1 0 -2.4 0M588.5 23.7a1.2 1.2 0 1 0 2.4 0a1.2 1.2 0 1 0 -2.4 0M602.3 150.3a1.2 1.2 0 1 0 2.4 0a1.2 1.2 0 1 0 -2.4 0M626.5 56.9a1.2 1.2 0 1 0 2.4 0a1.2 1.2 0 1 0 -2.4 0M620.6 97.3a1.2 1.2 0 1 0 2.4 0a1.2 1.2 0 1 0 -2.4 0" fill="#fff" fill-opacity="0.9"/>
</g>
</g>
<rect x="535.4" y="7.9" width="145.3" height="144.8" fill="none" stroke="#111" stroke-width="1.2"/>
<text x="539.7" y="19.6" font-size="9.2" font-weight="bold" fill="#fff">5'SS Oligomer</text>
<text x="539.7" y="30.6" font-size="9.2" fill="#f2f2f2">532 nm</text>
<text x="539.7" y="41.6" font-size="9.2" fill="#f2f2f2">Cy3</text>
<rect x="538.9" y="147.8" width="13.2" height="1.5" fill="#fff" stroke="none" stroke-width="1"/>
<circle cx="592.3" cy="79.5" r="1.8" fill="url(#spotg)" stroke="none" stroke-width="1"/>
<line x1="599.4" y1="72.4" x2="595.8" y2="75.7" stroke="#f5dc10" stroke-width="1.6"/>
<path d="M 593.3 78 L 593.9 72.8 L 598.5 77.4 Z" fill="#f5dc10" stroke="none" stroke-width="1"/>
<line x1="611.8" y1="48.2" x2="628.5" y2="9.7" stroke="#d98a1e" stroke-width="0.9"/>
<line x1="611.8" y1="54.9" x2="628.5" y2="58.5" stroke="#d98a1e" stroke-width="0.9"/>
<rect x="628.5" y="9.7" width="50.4" height="48.8" fill="#4e4e4e" stroke="none" stroke-width="1"/>
<path d="M628.50 9.70h2.34v2.27h-2.34zM628.50 27.45h2.34v2.27h-2.34zM628.50 51.85h2.34v2.27h-2.34zM628.50 56.28h2.34v2.27h-2.34zM630.79 9.70h2.34v2.27h-2.34zM630.79 40.75h2.34v2.27h-2.34zM630.79 49.63h2.34v2.27h-2.34zM635.37 27.45h2.34v2.27h-2.34zM635.37 38.54h2.34v2.27h-2.34zM637.66 9.70h2.34v2.27h-2.34zM637.66 20.79h2.34v2.27h-2.34zM637.66 42.97h2.34v2.27h-2.34zM639.95 27.45h2.34v2.27h-2.34zM639.95 34.10h2.34v2.27h-2.34zM639.95 36.32h2.34v2.27h-2.34zM639.95 49.63h2.34v2.27h-2.34zM642.25 20.79h2.34v2.27h-2.34zM642.25 54.06h2.34v2.27h-2.34zM644.54 11.92h2.34v2.27h-2.34zM644.54 51.85h2.34v2.27h-2.34zM649.12 9.70h2.34v2.27h-2.34zM649.12 23.01h2.34v2.27h-2.34zM649.12 36.32h2.34v2.27h-2.34zM651.41 31.88h2.34v2.27h-2.34zM653.70 16.35h2.34v2.27h-2.34zM653.70 42.97h2.34v2.27h-2.34zM655.99 42.97h2.34v2.27h-2.34zM658.28 34.10h2.34v2.27h-2.34zM658.28 40.75h2.34v2.27h-2.34zM658.28 49.63h2.34v2.27h-2.34zM660.57 34.10h2.34v2.27h-2.34zM660.57 45.19h2.34v2.27h-2.34zM662.86 16.35h2.34v2.27h-2.34zM662.86 20.79h2.34v2.27h-2.34zM662.86 29.66h2.34v2.27h-2.34zM662.86 34.10h2.34v2.27h-2.34zM665.15 31.88h2.34v2.27h-2.34zM667.45 29.66h2.34v2.27h-2.34zM667.45 36.32h2.34v2.27h-2.34zM667.45 47.41h2.34v2.27h-2.34zM669.74 14.14h2.34v2.27h-2.34zM669.74 18.57h2.34v2.27h-2.34zM669.74 56.28h2.34v2.27h-2.34zM672.03 29.66h2.34v2.27h-2.34zM672.03 34.10h2.34v2.27h-2.34zM674.32 16.35h2.34v2.27h-2.34zM674.32 27.45h2.34v2.27h-2.34zM674.32 47.41h2.34v2.27h-2.34zM676.61 23.01h2.34v2.27h-2.34zM676.61 31.88h2.34v2.27h-2.34zM676.61 36.32h2.34v2.27h-2.34zM676.61 54.06h2.34v2.27h-2.34z" fill="#5a5a5a"/>
<path d="M628.50 16.35h2.34v2.27h-2.34zM635.37 23.01h2.34v2.27h-2.34zM635.37 31.88h2.34v2.27h-2.34zM637.66 14.14h2.34v2.27h-2.34zM639.95 11.92h2.34v2.27h-2.34zM642.25 34.10h2.34v2.27h-2.34zM642.25 40.75h2.34v2.27h-2.34zM644.54 23.01h2.34v2.27h-2.34zM644.54 25.23h2.34v2.27h-2.34zM649.12 29.66h2.34v2.27h-2.34zM651.41 16.35h2.34v2.27h-2.34zM653.70 25.23h2.34v2.27h-2.34zM653.70 27.45h2.34v2.27h-2.34zM653.70 36.32h2.34v2.27h-2.34zM653.70 38.54h2.34v2.27h-2.34zM655.99 36.32h2.34v2.27h-2.34zM658.28 23.01h2.34v2.27h-2.34zM658.28 56.28h2.34v2.27h-2.34zM660.57 49.63h2.34v2.27h-2.34zM665.15 36.32h2.34v2.27h-2.34zM667.45 23.01h2.34v2.27h-2.34zM669.74 16.35h2.34v2.27h-2.34zM669.74 36.32h2.34v2.27h-2.34zM672.03 25.23h2.34v2.27h-2.34zM672.03 47.41h2.34v2.27h-2.34zM676.61 38.54h2.34v2.27h-2.34z" fill="#606060"/>
<path d="M628.50 18.57h2.34v2.27h-2.34zM628.50 34.10h2.34v2.27h-2.34zM628.50 49.63h2.34v2.27h-2.34zM628.50 54.06h2.34v2.27h-2.34zM630.79 25.23h2.34v2.27h-2.34zM630.79 38.54h2.34v2.27h-2.34zM630.79 42.97h2.34v2.27h-2.34zM633.08 9.70h2.34v2.27h-2.34zM633.08 25.23h2.34v2.27h-2.34zM633.08 27.45h2.34v2.27h-2.34zM633.08 31.88h2.34v2.27h-2.34zM633.08 34.10h2.34v2.27h-2.34zM633.08 36.32h2.34v2.27h-2.34zM633.08 40.75h2.34v2.27h-2.34zM633.08 47.41h2.34v2.27h-2.34zM633.08 51.85h2.34v2.27h-2.34zM635.37 16.35h2.34v2.27h-2.34zM637.66 25.23h2.34v2.27h-2.34zM637.66 36.32h2.34v2.27h-2.34zM639.95 20.79h2.34v2.27h-2.34zM639.95 29.66h2.34v2.27h-2.34zM639.95 40.75h2.34v2.27h-2.34zM639.95 45.19h2.34v2.27h-2.34zM639.95 47.41h2.34v2.27h-2.34zM639.95 56.28h2.34v2.27h-2.34zM642.25 14.14h2.34v2.27h-2.34zM642.25 16.35h2.34v2.27h-2.34zM642.25 18.57h2.34v2.27h-2.34zM642.25 23.01h2.34v2.27h-2.34zM642.25 29.66h2.34v2.27h-2.34zM644.54 20.79h2.34v2.27h-2.34zM644.54 27.45h2.34v2.27h-2.34zM644.54 38.54h2.34v2.27h-2.34zM644.54 40.75h2.34v2.27h-2.34zM646.83 9.70h2.34v2.27h-2.34zM646.83 16.35h2.34v2.27h-2.34zM646.83 18.57h2.34v2.27h-2.34zM646.83 40.75h2.34v2.27h-2.34zM646.83 49.63h2.34v2.27h-2.34zM646.83 51.85h2.34v2.27h-2.34zM646.83 54.06h2.34v2.27h-2.34zM649.12 16.35h2.34v2.27h-2.34zM649.12 34.10h2.34v2.27h-2.34zM649.12 54.06h2.34v2.27h-2.34zM651.41 9.70h2.34v2.27h-2.34zM651.41 20.79h2.34v2.27h-2.34zM651.41 34.10h2.34v2.27h-2.34zM651.41 40.75h2.34v2.27h-2.34zM651.41 42.97h2.34v2.27h-2.34zM651.41 49.63h2.34v2.27h-2.34zM651.41 54.06h2.34v2.27h-2.34zM653.70 11.92h2.34v2.27h-2.34zM653.70 18.57h2.34v2.27h-2.34zM653.70 47.41h2.34v2.27h-2.34zM653.70 51.85h2.34v2.27h-2.34zM653.70 56.28h2.34v2.27h-2.34zM655.99 20.79h2.34v2.27h-2.34zM655.99 27.45h2.34v2.27h-2.34zM655.99 45.19h2.34v2.27h-2.34zM655.99 51.85h2.34v2.27h-2.34zM655.99 56.28h2.34v2.27h-2.34zM658.28 9.70h2.34v2.27h-2.34zM658.28 16.35h2.34v2.27h-2.34zM658.28 25.23h2.34v2.27h-2.34zM658.28 27.45h2.34v2.27h-2.34zM658.28 51.85h2.34v2.27h-2.34zM660.57 16.35h2.34v2.27h-2.34zM660.57 18.57h2.34v2.27h-2.34zM660.57 20.79h2.34v2.27h-2.34zM660.57 25.23h2.34v2.27h-2.34zM660.57 29.66h2.34v2.27h-2.34zM660.57 38.54h2.34v2.27h-2.34zM660.57 40.75h2.34v2.27h-2.34zM660.57 47.41h2.34v2.27h-2.34zM660.57 51.85h2.34v2.27h-2.34zM662.86 23.01h2.34v2.27h-2.34zM662.86 42.97h2.34v2.27h-2.34zM662.86 47.41h2.34v2.27h-2.34zM662.86 54.06h2.34v2.27h-2.34zM665.15 16.35h2.34v2.27h-2.34zM665.15 40.75h2.34v2.27h-2.34zM665.15 45.19h2.34v2.27h-2.34zM667.45 14.14h2.34v2.27h-2.34zM667.45 38.54h2.34v2.27h-2.34zM667.45 54.06h2.34v2.27h-2.34zM669.74 23.01h2.34v2.27h-2.34zM669.74 31.88h2.34v2.27h-2.34zM669.74 34.10h2.34v2.27h-2.34zM669.74 42.97h2.34v2.27h-2.34zM669.74 45.19h2.34v2.27h-2.34zM669.74 47.41h2.34v2.27h-2.34zM672.03 11.92h2.34v2.27h-2.34zM672.03 18.57h2.34v2.27h-2.34zM672.03 23.01h2.34v2.27h-2.34zM672.03 27.45h2.34v2.27h-2.34zM672.03 36.32h2.34v2.27h-2.34zM672.03 38.54h2.34v2.27h-2.34zM672.03 40.75h2.34v2.27h-2.34zM672.03 42.97h2.34v2.27h-2.34zM672.03 45.19h2.34v2.27h-2.34zM672.03 51.85h2.34v2.27h-2.34zM674.32 34.10h2.34v2.27h-2.34zM674.32 38.54h2.34v2.27h-2.34zM674.32 49.63h2.34v2.27h-2.34zM674.32 56.28h2.34v2.27h-2.34zM676.61 14.14h2.34v2.27h-2.34z" fill="#484848"/>
<path d="M628.50 20.79h2.34v2.27h-2.34zM628.50 29.66h2.34v2.27h-2.34zM628.50 31.88h2.34v2.27h-2.34zM628.50 38.54h2.34v2.27h-2.34zM628.50 42.97h2.34v2.27h-2.34zM630.79 20.79h2.34v2.27h-2.34zM630.79 23.01h2.34v2.27h-2.34zM630.79 29.66h2.34v2.27h-2.34zM633.08 18.57h2.34v2.27h-2.34zM633.08 23.01h2.34v2.27h-2.34zM633.08 45.19h2.34v2.27h-2.34zM633.08 49.63h2.34v2.27h-2.34zM633.08 54.06h2.34v2.27h-2.34zM635.37 11.92h2.34v2.27h-2.34zM635.37 18.57h2.34v2.27h-2.34zM635.37 36.32h2.34v2.27h-2.34zM635.37 54.06h2.34v2.27h-2.34zM637.66 16.35h2.34v2.27h-2.34zM637.66 38.54h2.34v2.27h-2.34zM637.66 45.19h2.34v2.27h-2.34zM637.66 49.63h2.34v2.27h-2.34zM639.95 14.14h2.34v2.27h-2.34zM639.95 23.01h2.34v2.27h-2.34zM639.95 31.88h2.34v2.27h-2.34zM639.95 54.06h2.34v2.27h-2.34zM642.25 27.45h2.34v2.27h-2.34zM642.25 31.88h2.34v2.27h-2.34zM642.25 38.54h2.34v2.27h-2.34zM642.25 49.63h2.34v2.27h-2.34zM644.54 14.14h2.34v2.27h-2.34zM644.54 34.10h2.34v2.27h-2.34zM644.54 42.97h2.34v2.27h-2.34zM644.54 45.19h2.34v2.27h-2.34zM646.83 20.79h2.34v2.27h-2.34zM646.83 23.01h2.34v2.27h-2.34zM646.83 36.32h2.34v2.27h-2.34zM646.83 47.41h2.34v2.27h-2.34zM646.83 56.28h2.34v2.27h-2.34zM649.12 14.14h2.34v2.27h-2.34zM649.12 20.79h2.34v2.27h-2.34zM649.12 42.97h2.34v2.27h-2.34zM649.12 49.63h2.34v2.27h-2.34zM649.12 56.28h2.34v2.27h-2.34zM651.41 18.57h2.34v2.27h-2.34zM651.41 29.66h2.34v2.27h-2.34zM651.41 36.32h2.34v2.27h-2.34zM651.41 38.54h2.34v2.27h-2.34zM651.41 45.19h2.34v2.27h-2.34zM651.41 56.28h2.34v2.27h-2.34zM653.70 9.70h2.34v2.27h-2.34zM653.70 14.14h2.34v2.27h-2.34zM653.70 34.10h2.34v2.27h-2.34zM653.70 45.19h2.34v2.27h-2.34zM655.99 25.23h2.34v2.27h-2.34zM655.99 31.88h2.34v2.27h-2.34zM655.99 38.54h2.34v2.27h-2.34zM655.99 54.06h2.34v2.27h-2.34zM658.28 14.14h2.34v2.27h-2.34zM658.28 36.32h2.34v2.27h-2.34zM658.28 42.97h2.34v2.27h-2.34zM658.28 45.19h2.34v2.27h-2.34zM658.28 47.41h2.34v2.27h-2.34zM660.57 9.70h2.34v2.27h-2.34zM660.57 14.14h2.34v2.27h-2.34zM660.57 56.28h2.34v2.27h-2.34zM662.86 9.70h2.34v2.27h-2.34zM662.86 11.92h2.34v2.27h-2.34zM662.86 18.57h2.34v2.27h-2.34zM662.86 36.32h2.34v2.27h-2.34zM662.86 56.28h2.34v2.27h-2.34zM665.15 29.66h2.34v2.27h-2.34zM665.15 38.54h2.34v2.27h-2.34zM665.15 47.41h2.34v2.27h-2.34zM667.45 27.45h2.34v2.27h-2.34zM667.45 34.10h2.34v2.27h-2.34zM667.45 42.97h2.34v2.27h-2.34zM669.74 9.70h2.34v2.27h-2.34zM669.74 25.23h2.34v2.27h-2.34zM669.74 27.45h2.34v2.27h-2.34zM669.74 38.54h2.34v2.27h-2.34zM669.74 51.85h2.34v2.27h-2.34zM672.03 31.88h2.34v2.27h-2.34zM674.32 9.70h2.34v2.27h-2.34zM674.32 11.92h2.34v2.27h-2.34zM674.32 14.14h2.34v2.27h-2.34zM674.32 18.57h2.34v2.27h-2.34zM674.32 23.01h2.34v2.27h-2.34zM674.32 31.88h2.34v2.27h-2.34zM674.32 51.85h2.34v2.27h-2.34zM676.61 11.92h2.34v2.27h-2.34zM676.61 27.45h2.34v2.27h-2.34zM676.61 42.97h2.34v2.27h-2.34zM676.61 49.63h2.34v2.27h-2.34zM676.61 51.85h2.34v2.27h-2.34zM676.61 56.28h2.34v2.27h-2.34z" fill="#545454"/>
<path d="M628.50 40.75h2.34v2.27h-2.34zM630.79 56.28h2.34v2.27h-2.34zM633.08 16.35h2.34v2.27h-2.34zM635.37 9.70h2.34v2.27h-2.34zM635.37 42.97h2.34v2.27h-2.34zM637.66 27.45h2.34v2.27h-2.34zM637.66 40.75h2.34v2.27h-2.34zM637.66 51.85h2.34v2.27h-2.34zM639.95 16.35h2.34v2.27h-2.34zM639.95 38.54h2.34v2.27h-2.34zM642.25 9.70h2.34v2.27h-2.34zM642.25 45.19h2.34v2.27h-2.34zM642.25 47.41h2.34v2.27h-2.34zM642.25 56.28h2.34v2.27h-2.34zM644.54 16.35h2.34v2.27h-2.34zM646.83 25.23h2.34v2.27h-2.34zM646.83 42.97h2.34v2.27h-2.34zM649.12 11.92h2.34v2.27h-2.34zM649.12 18.57h2.34v2.27h-2.34zM649.12 38.54h2.34v2.27h-2.34zM651.41 11.92h2.34v2.27h-2.34zM653.70 20.79h2.34v2.27h-2.34zM655.99 23.01h2.34v2.27h-2.34zM655.99 29.66h2.34v2.27h-2.34zM660.57 36.32h2.34v2.27h-2.34zM662.86 31.88h2.34v2.27h-2.34zM665.15 9.70h2.34v2.27h-2.34zM665.15 25.23h2.34v2.27h-2.34zM665.15 34.10h2.34v2.27h-2.34zM665.15 42.97h2.34v2.27h-2.34zM667.45 16.35h2.34v2.27h-2.34zM667.45 18.57h2.34v2.27h-2.34zM667.45 31.88h2.34v2.27h-2.34zM669.74 40.75h2.34v2.27h-2.34zM674.32 20.79h2.34v2.27h-2.34zM674.32 25.23h2.34v2.27h-2.34zM674.32 42.97h2.34v2.27h-2.34zM676.61 18.57h2.34v2.27h-2.34zM676.61 25.23h2.34v2.27h-2.34z" fill="#424242"/>
<path d="M633.08 20.79h2.34v2.27h-2.34zM633.08 29.66h2.34v2.27h-2.34zM633.08 42.97h2.34v2.27h-2.34zM633.08 56.28h2.34v2.27h-2.34zM635.37 14.14h2.34v2.27h-2.34zM635.37 45.19h2.34v2.27h-2.34zM635.37 47.41h2.34v2.27h-2.34zM639.95 25.23h2.34v2.27h-2.34zM639.95 42.97h2.34v2.27h-2.34zM642.25 36.32h2.34v2.27h-2.34zM649.12 45.19h2.34v2.27h-2.34zM649.12 51.85h2.34v2.27h-2.34zM651.41 14.14h2.34v2.27h-2.34zM653.70 40.75h2.34v2.27h-2.34zM655.99 11.92h2.34v2.27h-2.34zM660.57 11.92h2.34v2.27h-2.34zM662.86 25.23h2.34v2.27h-2.34zM662.86 40.75h2.34v2.27h-2.34zM662.86 51.85h2.34v2.27h-2.34zM665.15 20.79h2.34v2.27h-2.34zM667.45 51.85h2.34v2.27h-2.34zM667.45 56.28h2.34v2.27h-2.34zM669.74 20.79h2.34v2.27h-2.34zM672.03 20.79h2.34v2.27h-2.34zM674.32 36.32h2.34v2.27h-2.34zM676.61 20.79h2.34v2.27h-2.34z" fill="#3c3c3c"/>
<path d="M635.37 40.75h2.34v2.27h-2.34zM635.37 56.28h2.34v2.27h-2.34zM637.66 31.88h2.34v2.27h-2.34zM642.25 25.23h2.34v2.27h-2.34zM649.12 25.23h2.34v2.27h-2.34zM660.57 27.45h2.34v2.27h-2.34zM667.45 49.63h2.34v2.27h-2.34zM672.03 49.63h2.34v2.27h-2.34z" fill="#666666"/>
<path d="M637.66 18.57h2.34v2.27h-2.34zM644.54 56.28h2.34v2.27h-2.34zM665.15 14.14h2.34v2.27h-2.34z" fill="#303030"/>
<path d="M646.83 34.10h2.34v2.27h-2.34z" fill="#6c6c6c"/>
<path d="M653.70 54.06h2.34v2.27h-2.34zM655.99 40.75h2.34v2.27h-2.34zM662.86 27.45h2.34v2.27h-2.34zM662.86 38.54h2.34v2.27h-2.34zM665.15 23.01h2.34v2.27h-2.34z" fill="#363636"/>
<circle cx="639.9" cy="21.4" r="3.1" fill="url(#spotg)" stroke="none" stroke-width="1" opacity="0.8"/>
<rect x="635.2" y="16.4" width="9.4" height="10" fill="none" stroke="#f4f4f4" stroke-width="1.0"/>
<circle cx="657.05" cy="18.2" r="3.1" fill="url(#spotg)" stroke="none" stroke-width="1" opacity="0.56"/>
<rect x="652.3" y="13.6" width="9.5" height="9.2" fill="none" stroke="#f4f4f4" stroke-width="1.0"/>
<circle cx="635.05" cy="35.55" r="3.1" fill="url(#spotg)" stroke="none" stroke-width="1" opacity="0.16"/>
<rect x="630.2" y="30.4" width="9.7" height="10.3" fill="none" stroke="#f4f4f4" stroke-width="1.0"/>
<circle cx="661.1" cy="50" r="3.1" fill="url(#spotg)" stroke="none" stroke-width="1" opacity="0.8"/>
<rect x="656.3" y="45.4" width="9.6" height="9.2" fill="none" stroke="#f4f4f4" stroke-width="1.0"/>
<circle cx="672" cy="51" r="3.1" fill="url(#spotg)" stroke="none" stroke-width="1" opacity="0.24"/>
<rect x="667" y="46.4" width="10" height="9.2" fill="none" stroke="#f4f4f4" stroke-width="1.0"/>
<rect x="628.5" y="9.7" width="50.4" height="48.8" fill="none" stroke="#d98a1e" stroke-width="1.1"/>
<rect x="604.3" y="48.2" width="7.5" height="6.7" fill="none" stroke="#d98a1e" stroke-width="1.0"/>
<rect x="633.2" y="54" width="9.6" height="1.3" fill="#fff" stroke="none" stroke-width="1"/>
<defs>
<linearGradient id="tirg" x1="0" y1="0" x2="0" y2="1">
<stop offset="0" stop-color="#ffffff"/><stop offset="0.35" stop-color="#f3f7ee"/><stop offset="1" stop-color="#e4edd8"/></linearGradient>
<radialGradient id="gsph" cx="0.4" cy="0.38" r="0.62"><stop offset="0" stop-color="#d8ffd0"/><stop offset="0.35" stop-color="#5ee85a"/><stop offset="1" stop-color="#1d9f24"/></radialGradient>
<radialGradient id="rsph" cx="0.42" cy="0.4" r="0.62"><stop offset="0" stop-color="#ffe0e0"/><stop offset="0.35" stop-color="#f25a5a"/><stop offset="1" stop-color="#c61d23"/></radialGradient>
</defs>
<rect x="235.2" y="42" width="110.3" height="86" fill="url(#tirg)" stroke="none" stroke-width="1"/>
<line x1="232.5" y1="44.5" x2="232.5" y2="127.4" stroke="#333" stroke-width="0.9"/>
<path d="M 232.5 40.6 L 230.3 45.6 L 234.7 45.6 Z" fill="#333" stroke="none" stroke-width="1"/>
<line x1="229.9" y1="127.4" x2="234.2" y2="127.4" stroke="#333" stroke-width="0.9"/>
<text x="229.9" y="84.4" font-size="9.2" text-anchor="middle" transform="rotate(-90 229.9 84.4)" textLength="83" lengthAdjust="spacingAndGlyphs">TIR Excitation Volume</text>
<rect x="235.4" y="128.4" width="109.6" height="9.9" fill="#efefef" stroke="#3a3a3a" stroke-width="0.9"/>
<text x="236.7" y="135.3" font-size="8.4">glass</text>
<path d="M 240.2 121 L 237.6 122.3 L 240.2 123.6 L 237.6 124.9 L 240.2 126.2 L 238.9 127.6" fill="none" stroke="#111" stroke-width="1.05"/>
<path d="M 246.3 121 L 243.7 122.3 L 246.3 123.6 L 243.7 124.9 L 246.3 126.2 L 245 127.6" fill="none" stroke="#111" stroke-width="1.05"/>
<path d="M 252.4 121 L 249.8 122.3 L 252.4 123.6 L 249.8 124.9 L 252.4 126.2 L 251.1 127.6" fill="none" stroke="#111" stroke-width="1.05"/>
<path d="M 258.5 121 L 255.9 122.3 L 258.5 123.6 L 255.9 124.9 L 258.5 126.2 L 257.2 127.6" fill="none" stroke="#111" stroke-width="1.05"/>
<path d="M 264.6 121 L 262 122.3 L 264.6 123.6 L 262 124.9 L 264.6 126.2 L 263.3 127.6" fill="none" stroke="#111" stroke-width="1.05"/>
<path d="M 270.7 121 L 268.1 122.3 L 270.7 123.6 L 268.1 124.9 L 270.7 126.2 L 269.4 127.6" fill="none" stroke="#111" stroke-width="1.05"/>
<path d="M 276.8 121 L 274.2 122.3 L 276.8 123.6 L 274.2 124.9 L 276.8 126.2 L 275.5 127.6" fill="none" stroke="#111" stroke-width="1.05"/>
<path d="M 282.9 121 L 280.3 122.3 L 282.9 123.6 L 280.3 124.9 L 282.9 126.2 L 281.6 127.6" fill="none" stroke="#111" stroke-width="1.05"/>
<path d="M 289 121 L 286.4 122.3 L 289 123.6 L 286.4 124.9 L 289 126.2 L 287.7 127.6" fill="none" stroke="#111" stroke-width="1.05"/>
<path d="M 295.1 121 L 292.5 122.3 L 295.1 123.6 L 292.5 124.9 L 295.1 126.2 L 293.8 127.6" fill="none" stroke="#111" stroke-width="1.05"/>
<path d="M 301.2 121 L 298.6 122.3 L 301.2 123.6 L 298.6 124.9 L 301.2 126.2 L 299.9 127.6" fill="none" stroke="#111" stroke-width="1.05"/>
<path d="M 307.3 121 L 304.7 122.3 L 307.3 123.6 L 304.7 124.9 L 307.3 126.2 L 306 127.6" fill="none" stroke="#111" stroke-width="1.05"/>
<path d="M 313.4 121 L 310.8 122.3 L 313.4 123.6 L 310.8 124.9 L 313.4 126.2 L 312.1 127.6" fill="none" stroke="#111" stroke-width="1.05"/>
<path d="M 319.5 121 L 316.9 122.3 L 319.5 123.6 L 316.9 124.9 L 319.5 126.2 L 318.2 127.6" fill="none" stroke="#111" stroke-width="1.05"/>
<path d="M 325.6 121 L 323 122.3 L 325.6 123.6 L 323 124.9 L 325.6 126.2 L 324.3 127.6" fill="none" stroke="#111" stroke-width="1.05"/>
<path d="M 331.7 121 L 329.1 122.3 L 331.7 123.6 L 329.1 124.9 L 331.7 126.2 L 330.4 127.6" fill="none" stroke="#111" stroke-width="1.05"/>
<path d="M 337.8 121 L 335.2 122.3 L 337.8 123.6 L 335.2 124.9 L 337.8 126.2 L 336.5 127.6" fill="none" stroke="#111" stroke-width="1.05"/>
<path d="M 343.9 121 L 341.3 122.3 L 343.9 123.6 L 341.3 124.9 L 343.9 126.2 L 342.6 127.6" fill="none" stroke="#111" stroke-width="1.05"/>
<circle cx="342.7" cy="118.8" r="1.9" fill="#111" stroke="none" stroke-width="1"/>
<text x="321.5" y="118.6" font-size="8.0">PEG</text>
<text x="239.6" y="117.6" font-size="8.0">streptavidin</text>
<text x="261.5" y="107.7" font-size="8.0">biotin</text>
<polyline points="246.4,147.9 280.5,139.3 310.5,146.6" fill="none" stroke="#4cbb4c" stroke-width="1.1" stroke-linejoin="round"/>
<path d="M 316.0 148.0 L 308.6 142.8 L 309.6 146.6 L 307.8 150.2 Z" fill="#4cbb4c" stroke="#4cbb4c" stroke-width="0.5"/>
<polyline points="263.9,147.9 298,139.3 328.5,146.6" fill="none" stroke="#f02020" stroke-width="1.1" stroke-linejoin="round"/>
<path d="M 334.0 148.0 L 326.6 142.8 L 327.6 146.6 L 325.8 150.2 Z" fill="#f02020" stroke="#f02020" stroke-width="0.5"/>
<line x1="290.5" y1="104.5" x2="289.3" y2="109.4" stroke="#111" stroke-width="1.2"/>
<path d="M 285.6 111.2 L 293 118.8 M 293 111.2 L 285.6 118.8" fill="none" stroke="#222" stroke-width="3.4"/>
<path d="M 285.6 111.2 L 293 118.8 M 293 111.2 L 285.6 118.8" fill="none" stroke="#f39a28" stroke-width="2.0"/>
<circle cx="289.3" cy="109.6" r="1.7" fill="#111" stroke="none" stroke-width="1"/>
<circle cx="289.3" cy="120.3" r="1.7" fill="#111" stroke="none" stroke-width="1"/>
<polygon points="280.1,71.1 285,67.8 290.7,67 295.6,64.5 298.9,65.4 302.1,69.4 306.2,73.5 309.5,76.6 311.9,84.1 311.2,90.6 307,97.1 302.1,102 297.2,106.1 290.7,105.3 284.2,100.4 279.3,97.1 274.4,93.9 272.8,89 274.4,84.1 278.5,79.2" fill="#8e8e8e" stroke="#8e8e8e" stroke-width="2.2" stroke-linejoin="round"/>
<circle cx="281.57" cy="70.11" r="1.44" fill="#8e8e8e" stroke="none" stroke-width="1"/>
<circle cx="283.53" cy="68.79" r="1.74" fill="#8e8e8e" stroke="none" stroke-width="1"/>
<circle cx="286.71" cy="67.56" r="1.57" fill="#8e8e8e" stroke="none" stroke-width="1"/>
<circle cx="288.99" cy="67.24" r="1.8" fill="#8e8e8e" stroke="none" stroke-width="1"/>
<circle cx="292.17" cy="66.25" r="1.83" fill="#8e8e8e" stroke="none" stroke-width="1"/>
<circle cx="294.13" cy="65.25" r="1.27" fill="#8e8e8e" stroke="none" stroke-width="1"/>
<circle cx="296.59" cy="64.77" r="1.21" fill="#8e8e8e" stroke="none" stroke-width="1"/>
<circle cx="297.91" cy="65.13" r="2.04" fill="#8e8e8e" stroke="none" stroke-width="1"/>
<circle cx="299.86" cy="66.6" r="1.46" fill="#8e8e8e" stroke="none" stroke-width="1"/>
<circle cx="301.14" cy="68.2" r="1.43" fill="#8e8e8e" stroke="none" stroke-width="1"/>
<circle cx="303.33" cy="70.63" r="2.2" fill="#8e8e8e" stroke="none" stroke-width="1"/>
<circle cx="304.97" cy="72.27" r="1.67" fill="#8e8e8e" stroke="none" stroke-width="1"/>
<circle cx="307.19" cy="74.43" r="2.04" fill="#8e8e8e" stroke="none" stroke-width="1"/>
<circle cx="308.51" cy="75.67" r="1.68" fill="#8e8e8e" stroke="none" stroke-width="1"/>
<circle cx="310.22" cy="78.85" r="1.84" fill="#8e8e8e" stroke="none" stroke-width="1"/>
<circle cx="311.18" cy="81.85" r="1.35" fill="#8e8e8e" stroke="none" stroke-width="1"/>
<circle cx="311.69" cy="86.05" r="1.83" fill="#8e8e8e" stroke="none" stroke-width="1"/>
<circle cx="311.41" cy="88.65" r="2.07" fill="#8e8e8e" stroke="none" stroke-width="1"/>
<circle cx="309.94" cy="92.55" r="1.72" fill="#8e8e8e" stroke="none" stroke-width="1"/>
<circle cx="308.26" cy="95.15" r="1.94" fill="#8e8e8e" stroke="none" stroke-width="1"/>
<circle cx="305.53" cy="98.57" r="1.87" fill="#8e8e8e" stroke="none" stroke-width="1"/>
<circle cx="303.57" cy="100.53" r="1.26" fill="#8e8e8e" stroke="none" stroke-width="1"/>
<circle cx="300.63" cy="103.23" r="1.96" fill="#8e8e8e" stroke="none" stroke-width="1"/>
<circle cx="298.67" cy="104.87" r="1.79" fill="#8e8e8e" stroke="none" stroke-width="1"/>
<circle cx="295.25" cy="105.86" r="1.5" fill="#8e8e8e" stroke="none" stroke-width="1"/>
<circle cx="292.65" cy="105.54" r="1.23" fill="#8e8e8e" stroke="none" stroke-width="1"/>
<circle cx="288.75" cy="103.83" r="2.07" fill="#8e8e8e" stroke="none" stroke-width="1"/>
<circle cx="286.15" cy="101.87" r="1.67" fill="#8e8e8e" stroke="none" stroke-width="1"/>
<circle cx="282.73" cy="99.41" r="1.92" fill="#8e8e8e" stroke="none" stroke-width="1"/>
<circle cx="280.77" cy="98.09" r="2.08" fill="#8e8e8e" stroke="none" stroke-width="1"/>
<circle cx="277.83" cy="96.14" r="1.91" fill="#8e8e8e" stroke="none" stroke-width="1"/>
<circle cx="275.87" cy="94.86" r="2.12" fill="#8e8e8e" stroke="none" stroke-width="1"/>
<circle cx="273.92" cy="92.43" r="1.59" fill="#8e8e8e" stroke="none" stroke-width="1"/>
<circle cx="273.28" cy="90.47" r="2" fill="#8e8e8e" stroke="none" stroke-width="1"/>
<circle cx="273.28" cy="87.53" r="1.64" fill="#8e8e8e" stroke="none" stroke-width="1"/>
<circle cx="273.92" cy="85.57" r="2.14" fill="#8e8e8e" stroke="none" stroke-width="1"/>
<circle cx="275.63" cy="82.63" r="2.08" fill="#8e8e8e" stroke="none" stroke-width="1"/>
<circle cx="277.27" cy="80.67" r="1.3" fill="#8e8e8e" stroke="none" stroke-width="1"/>
<circle cx="278.98" cy="76.77" r="1.34" fill="#8e8e8e" stroke="none" stroke-width="1"/>
<circle cx="279.62" cy="73.53" r="1.42" fill="#8e8e8e" stroke="none" stroke-width="1"/>
<polygon points="281.8,94.7 286.6,93.9 290.7,97.1 295.6,97.9 300.5,98.7 302.9,101.2 298.9,103.6 295.6,106.9 292.3,105.3 289.1,101.2 284.2,99.6" fill="#22bfc0" stroke="#22bfc0" stroke-width="0.6" stroke-linejoin="round"/>
<polygon points="274.4,64.5 282.6,60.5 289.1,56.4 294,54 298,55.1 297.2,58 293.2,61.3 288.3,64.5 283.4,67.8 279.3,71.9 277.7,77.6 274.4,79.2 272.8,75.1 273.6,69.4" fill="#9a1a9c" stroke="#9a1a9c" stroke-width="0.6" stroke-linejoin="round"/>
<path d="M 265 60 C 266 64, 268 66, 271 68 L 275 70" fill="none" stroke="#e2a21e" stroke-width="1.1"/>
<path d="M 275 70 C 272 65, 265 64, 264.6 68 C 264.4 72, 272 74, 277 72" fill="none" stroke="#4b8fd6" stroke-width="1.0"/>
<path d="M 276 74 C 270 72, 264.5 75, 265.2 79 C 266 82.5, 271 80.5, 273 77.5 M 270 80 L 272.5 84 M 276 78 C 278 80, 279 83, 278 86" fill="none" stroke="#4b8fd6" stroke-width="1.0"/>
<path d="M 268 72 L 276 75 L 272 77" fill="none" stroke="#e2a21e" stroke-width="1.0"/>
<path d="M 302 88 L 304 88.8" fill="none" stroke="#4b8fd6" stroke-width="1.2"/>
<circle cx="265" cy="59.4" r="4.4" fill="url(#gsph)" stroke="none" stroke-width="1"/>
<circle cx="308.2" cy="89.4" r="4.6" fill="url(#rsph)" stroke="none" stroke-width="1"/>
<text x="316.3" y="92.5" font-size="9.6">Cy5</text>
<text x="241.6" y="62.4" font-size="9.0">Cy3</text>
<polyline points="275.5,15.9 277.4,26.7 289.8,17.4 296.6,17.4" fill="none" stroke="#e6a51e" stroke-width="1.1" stroke-linejoin="round"/>
<circle cx="301" cy="18.6" r="4.3" fill="url(#gsph)" stroke="none" stroke-width="1"/>
<text x="309.5" y="16.8" font-size="9.3">5'SS</text>
<text x="309.3" y="28.6" font-size="9.3">(Cy3)</text>
<path d="M 285.6 50.4 C 280.6 44, 280.8 36, 285.2 31.6" fill="none" stroke="#111" stroke-width="1.4"/>
<path d="M 287.6 29.2 L 282.2 31.4 L 286.6 35.2 Z" fill="#111" stroke="#111" stroke-width="0.6"/>
<path d="M 293.6 29.2 C 298.6 35, 298.4 42.6, 294.2 47.4" fill="none" stroke="#111" stroke-width="1.4"/>
<path d="M 292.2 50.0 L 291.0 44.6 L 297.0 46.4 Z" fill="#111" stroke="#111" stroke-width="0.6"/>
<text x="265" y="42.7" font-size="9.8" font-style="italic">k<tspan font-size="6.8" dy="2.4">off</tspan></text>
<text x="302.8" y="42.3" font-size="9.8" font-style="italic">k<tspan font-size="6.8" dy="2.4">on</tspan></text>
<linearGradient id="pmg" x1="0" y1="0" x2="0" y2="1"><stop offset="0" stop-color="#ececec"/><stop offset="0.45" stop-color="#e2e2e2"/><stop offset="0.55" stop-color="#cacaca"/><stop offset="1" stop-color="#bcbcbc"/></linearGradient>
<path d="M 82.5 65.4 L 87.9 59.8 L 96.0 58.0 L 104.1 56.2 L 111.3 57.1 L 118.5 58.9 L 123.9 63.5 L 126.6 70.0 L 129.3 77.3 L 131.1 85.6 L 130.2 94.8 L 133.8 102.2 L 136.5 109.5 L 136.5 118.7 L 133.8 127.0 L 127.5 135.3 L 120.3 142.6 L 113.1 147.2 L 106.8 151.8 L 100.5 149.1 L 93.3 144.5 L 86.1 141.7 L 79.8 136.2 L 75.3 128.8 L 73.5 120.6 L 74.4 112.3 L 77.1 104.9 L 79.8 96.6 L 80.7 87.4 L 80.7 78.2 L 81.6 70.9 Z" fill="url(#pmg)" stroke="url(#pmg)" stroke-width="2" stroke-linejoin="round"/>
<g fill="none" stroke-linecap="round">
<path d="M84.0 90.0Q85.9 81.4 87.8 80.1" stroke="#6a6a6a" stroke-width="2.4"/><path d="M84.0 90.0Q85.9 81.4 87.8 80.1" stroke="#c6c6c6" stroke-width="1.3"/>
<path d="M78.7 88.1Q83.2 92.1 89.5 82.3" stroke="#6a6a6a" stroke-width="3.6"/><path d="M78.7 88.1Q83.2 92.1 89.5 82.3" stroke="#a2a2a2" stroke-width="2.5"/>
<path d="M113.6 53.6Q105.7 64.6 108.6 62.9" stroke="#6a6a6a" stroke-width="3.0"/><path d="M113.6 53.6Q105.7 64.6 108.6 62.9" stroke="#adadad" stroke-width="1.9"/>
<path d="M117.2 74.6Q114.4 74.0 120.1 68.5" stroke="#6a6a6a" stroke-width="3.6"/><path d="M117.2 74.6Q114.4 74.0 120.1 68.5" stroke="#bababa" stroke-width="2.5"/>
<path d="M98.3 69.5Q100.7 69.4 89.3 72.4" stroke="#6a6a6a" stroke-width="2.4"/><path d="M98.3 69.5Q100.7 69.4 89.3 72.4" stroke="#bababa" stroke-width="1.3"/>
<path d="M79.8 86.4Q76.7 87.4 85.8 85.7" stroke="#6a6a6a" stroke-width="3.2"/><path d="M79.8 86.4Q76.7 87.4 85.8 85.7" stroke="#c6c6c6" stroke-width="2.1"/>
<path d="M109.2 81.9Q108.6 91.3 112.4 88.7" stroke="#6a6a6a" stroke-width="2.9"/><path d="M109.2 81.9Q108.6 91.3 112.4 88.7" stroke="#c6c6c6" stroke-width="1.8"/>
<path d="M86.2 60.1Q88.5 53.6 92.9 56.6" stroke="#6a6a6a" stroke-width="2.5"/><path d="M86.2 60.1Q88.5 53.6 92.9 56.6" stroke="#adadad" stroke-width="1.4"/>
<path d="M98.1 99.5Q109.0 98.0 109.1 96.8" stroke="#6a6a6a" stroke-width="3.0"/><path d="M98.1 99.5Q109.0 98.0 109.1 96.8" stroke="#adadad" stroke-width="1.9"/>
<path d="M109.6 73.1Q98.1 73.6 99.0 80.0" stroke="#6a6a6a" stroke-width="3.7"/><path d="M109.6 73.1Q98.1 73.6 99.0 80.0" stroke="#c6c6c6" stroke-width="2.6"/>
<path d="M97.2 93.8Q90.1 94.1 92.7 88.0" stroke="#6a6a6a" stroke-width="2.5"/><path d="M97.2 93.8Q90.1 94.1 92.7 88.0" stroke="#adadad" stroke-width="1.4"/>
<path d="M83.7 92.2Q87.1 84.5 87.6 78.9" stroke="#6a6a6a" stroke-width="3.3"/><path d="M83.7 92.2Q87.1 84.5 87.6 78.9" stroke="#a2a2a2" stroke-width="2.2"/>
<path d="M90.8 77.6Q82.9 86.6 88.7 90.4" stroke="#6a6a6a" stroke-width="3.8"/><path d="M90.8 77.6Q82.9 86.6 88.7 90.4" stroke="#bababa" stroke-width="2.7"/>
<path d="M87.6 67.7Q86.5 77.5 87.6 82.3" stroke="#6a6a6a" stroke-width="3.5"/><path d="M87.6 67.7Q86.5 77.5 87.6 82.3" stroke="#adadad" stroke-width="2.4"/>
<path d="M92.0 75.7Q88.3 77.7 93.4 83.1" stroke="#6a6a6a" stroke-width="3.5"/><path d="M92.0 75.7Q88.3 77.7 93.4 83.1" stroke="#bababa" stroke-width="2.4"/>
<path d="M112.7 76.2Q118.6 71.4 112.5 69.7" stroke="#6a6a6a" stroke-width="3.7"/><path d="M112.7 76.2Q118.6 71.4 112.5 69.7" stroke="#a2a2a2" stroke-width="2.6"/>
<path d="M119.6 67.1Q121.5 73.9 128.7 69.5" stroke="#6a6a6a" stroke-width="2.8"/><path d="M119.6 67.1Q121.5 73.9 128.7 69.5" stroke="#a2a2a2" stroke-width="1.7"/>
<path d="M112.5 76.4Q109.1 71.9 111.1 61.8" stroke="#6a6a6a" stroke-width="3.2"/><path d="M112.5 76.4Q109.1 71.9 111.1 61.8" stroke="#adadad" stroke-width="2.1"/>
<path d="M91.5 99.7Q88.2 106.2 96.8 103.9" stroke="#6a6a6a" stroke-width="3.5"/><path d="M91.5 99.7Q88.2 106.2 96.8 103.9" stroke="#a2a2a2" stroke-width="2.4"/>
<path d="M105.4 97.5Q102.3 92.1 100.1 86.3" stroke="#6a6a6a" stroke-width="3.7"/><path d="M105.4 97.5Q102.3 92.1 100.1 86.3" stroke="#bababa" stroke-width="2.6"/>
<path d="M121.6 73.9Q121.8 80.5 122.4 83.3" stroke="#6a6a6a" stroke-width="3.8"/><path d="M121.6 73.9Q121.8 80.5 122.4 83.3" stroke="#bababa" stroke-width="2.7"/>
<path d="M95.6 81.0Q98.5 87.6 97.7 90.8" stroke="#6a6a6a" stroke-width="3.5"/><path d="M95.6 81.0Q98.5 87.6 97.7 90.8" stroke="#c6c6c6" stroke-width="2.4"/>
<path d="M86.2 96.0Q86.4 106.3 77.5 103.6" stroke="#6a6a6a" stroke-width="3.9"/><path d="M86.2 96.0Q86.4 106.3 77.5 103.6" stroke="#bababa" stroke-width="2.8"/>
<path d="M106.7 81.8Q108.9 93.1 97.7 90.7" stroke="#6a6a6a" stroke-width="2.6"/><path d="M106.7 81.8Q108.9 93.1 97.7 90.7" stroke="#a2a2a2" stroke-width="1.5"/>
<path d="M87.3 97.7Q90.3 96.5 83.7 105.1" stroke="#6a6a6a" stroke-width="3.4"/><path d="M87.3 97.7Q90.3 96.5 83.7 105.1" stroke="#adadad" stroke-width="2.3"/>
<path d="M85.6 85.0Q83.4 80.0 84.1 77.8" stroke="#6a6a6a" stroke-width="3.1"/><path d="M85.6 85.0Q83.4 80.0 84.1 77.8" stroke="#c6c6c6" stroke-width="2.0"/>
<path d="M117.5 84.0Q121.7 77.7 112.6 79.3" stroke="#6a6a6a" stroke-width="2.9"/><path d="M117.5 84.0Q121.7 77.7 112.6 79.3" stroke="#c6c6c6" stroke-width="1.8"/>
<path d="M101.6 94.9Q103.2 102.1 96.7 100.2" stroke="#6a6a6a" stroke-width="3.2"/><path d="M101.6 94.9Q103.2 102.1 96.7 100.2" stroke="#bababa" stroke-width="2.1"/>
<path d="M90.8 72.0Q94.9 73.8 96.9 66.5" stroke="#6a6a6a" stroke-width="3.3"/><path d="M90.8 72.0Q94.9 73.8 96.9 66.5" stroke="#a2a2a2" stroke-width="2.2"/>
<path d="M112.9 81.8Q104.1 79.7 99.9 84.2" stroke="#6a6a6a" stroke-width="2.9"/><path d="M112.9 81.8Q104.1 79.7 99.9 84.2" stroke="#c6c6c6" stroke-width="1.8"/>
<path d="M127.7 84.1Q133.7 85.3 130.4 90.4" stroke="#6a6a6a" stroke-width="2.9"/><path d="M127.7 84.1Q133.7 85.3 130.4 90.4" stroke="#adadad" stroke-width="1.8"/>
<path d="M118.4 83.4Q126.3 86.8 122.2 89.2" stroke="#6a6a6a" stroke-width="3.0"/><path d="M118.4 83.4Q126.3 86.8 122.2 89.2" stroke="#adadad" stroke-width="1.9"/>
<path d="M121.9 77.2Q123.8 73.9 133.7 83.5" stroke="#6a6a6a" stroke-width="2.9"/><path d="M121.9 77.2Q123.8 73.9 133.7 83.5" stroke="#adadad" stroke-width="1.8"/>
<path d="M103.4 93.5Q97.4 88.4 97.7 95.7" stroke="#6a6a6a" stroke-width="3.4"/><path d="M103.4 93.5Q97.4 88.4 97.7 95.7" stroke="#bababa" stroke-width="2.3"/>
<path d="M94.0 81.5Q91.1 72.7 84.0 73.5" stroke="#6a6a6a" stroke-width="3.8"/><path d="M94.0 81.5Q91.1 72.7 84.0 73.5" stroke="#a2a2a2" stroke-width="2.7"/>
<path d="M122.8 94.4Q119.2 92.4 118.4 99.5" stroke="#6a6a6a" stroke-width="3.2"/><path d="M122.8 94.4Q119.2 92.4 118.4 99.5" stroke="#c6c6c6" stroke-width="2.1"/>
<path d="M110.4 99.7Q120.2 102.7 122.8 92.0" stroke="#6a6a6a" stroke-width="3.5"/><path d="M110.4 99.7Q120.2 102.7 122.8 92.0" stroke="#bababa" stroke-width="2.4"/>
<path d="M102.4 75.7Q99.4 84.0 105.3 83.1" stroke="#6a6a6a" stroke-width="2.7"/><path d="M102.4 75.7Q99.4 84.0 105.3 83.1" stroke="#a2a2a2" stroke-width="1.6"/>
<path d="M87.6 77.8Q89.1 79.8 81.5 79.4" stroke="#6a6a6a" stroke-width="3.6"/><path d="M87.6 77.8Q89.1 79.8 81.5 79.4" stroke="#adadad" stroke-width="2.5"/>
<path d="M122.1 99.7Q111.7 105.3 115.3 106.4" stroke="#6a6a6a" stroke-width="3.3"/><path d="M122.1 99.7Q111.7 105.3 115.3 106.4" stroke="#a2a2a2" stroke-width="2.2"/>
<path d="M103.7 54.6Q99.1 59.0 94.5 64.4" stroke="#6a6a6a" stroke-width="3.0"/><path d="M103.7 54.6Q99.1 59.0 94.5 64.4" stroke="#a2a2a2" stroke-width="1.9"/>
<path d="M112.3 85.3Q114.8 77.0 120.7 75.7" stroke="#6a6a6a" stroke-width="3.6"/><path d="M112.3 85.3Q114.8 77.0 120.7 75.7" stroke="#bababa" stroke-width="2.5"/>
<path d="M118.5 66.2Q119.2 73.0 120.1 73.9" stroke="#6a6a6a" stroke-width="2.7"/><path d="M118.5 66.2Q119.2 73.0 120.1 73.9" stroke="#c6c6c6" stroke-width="1.6"/>
<path d="M89.0 64.6Q94.1 63.1 92.0 58.8" stroke="#6a6a6a" stroke-width="3.2"/><path d="M89.0 64.6Q94.1 63.1 92.0 58.8" stroke="#adadad" stroke-width="2.1"/>
<path d="M112.0 73.3Q102.9 75.2 97.3 73.2" stroke="#6a6a6a" stroke-width="3.4"/><path d="M112.0 73.3Q102.9 75.2 97.3 73.2" stroke="#c6c6c6" stroke-width="2.3"/>
<path d="M100.8 83.1Q98.9 73.8 98.7 72.0" stroke="#6a6a6a" stroke-width="3.7"/><path d="M100.8 83.1Q98.9 73.8 98.7 72.0" stroke="#a2a2a2" stroke-width="2.6"/>
<path d="M93.5 59.4Q100.4 57.0 101.9 60.1" stroke="#6a6a6a" stroke-width="3.8"/><path d="M93.5 59.4Q100.4 57.0 101.9 60.1" stroke="#a2a2a2" stroke-width="2.7"/>
<path d="M114.2 92.7Q115.3 90.7 115.5 99.6" stroke="#6a6a6a" stroke-width="3.0"/><path d="M114.2 92.7Q115.3 90.7 115.5 99.6" stroke="#bababa" stroke-width="1.9"/>
<path d="M85.9 80.8Q90.2 87.5 92.4 85.2" stroke="#6a6a6a" stroke-width="3.2"/><path d="M85.9 80.8Q90.2 87.5 92.4 85.2" stroke="#bababa" stroke-width="2.1"/>
<path d="M97.6 98.1Q105.1 91.2 101.8 86.6" stroke="#6a6a6a" stroke-width="3.3"/><path d="M97.6 98.1Q105.1 91.2 101.8 86.6" stroke="#bababa" stroke-width="2.2"/>
<path d="M110.9 60.7Q120.4 63.1 116.9 57.7" stroke="#6a6a6a" stroke-width="3.5"/><path d="M110.9 60.7Q120.4 63.1 116.9 57.7" stroke="#adadad" stroke-width="2.4"/>
<path d="M89.4 69.8Q91.0 67.2 81.0 70.3" stroke="#6a6a6a" stroke-width="2.6"/><path d="M89.4 69.8Q91.0 67.2 81.0 70.3" stroke="#bababa" stroke-width="1.5"/>
<path d="M104.0 91.4Q105.4 94.6 112.1 100.9" stroke="#6a6a6a" stroke-width="2.8"/><path d="M104.0 91.4Q105.4 94.6 112.1 100.9" stroke="#a2a2a2" stroke-width="1.7"/>
<path d="M123.2 91.7Q126.3 87.5 116.3 91.2" stroke="#6a6a6a" stroke-width="3.7"/><path d="M123.2 91.7Q126.3 87.5 116.3 91.2" stroke="#adadad" stroke-width="2.6"/>
<path d="M113.0 72.9Q113.4 65.1 113.8 66.8" stroke="#6a6a6a" stroke-width="2.7"/><path d="M113.0 72.9Q113.4 65.1 113.8 66.8" stroke="#adadad" stroke-width="1.6"/>
<path d="M117.4 63.1Q117.7 59.4 111.5 54.9" stroke="#6a6a6a" stroke-width="3.0"/><path d="M117.4 63.1Q117.7 59.4 111.5 54.9" stroke="#c6c6c6" stroke-width="1.9"/>
<path d="M119.9 95.2Q116.8 97.5 123.8 103.6" stroke="#6a6a6a" stroke-width="3.8"/><path d="M119.9 95.2Q116.8 97.5 123.8 103.6" stroke="#adadad" stroke-width="2.7"/>
<path d="M89.3 88.0Q81.3 75.9 85.1 76.1" stroke="#6a6a6a" stroke-width="3.5"/><path d="M89.3 88.0Q81.3 75.9 85.1 76.1" stroke="#c6c6c6" stroke-width="2.4"/>
<path d="M92.2 70.2Q94.5 71.4 99.7 69.1" stroke="#6a6a6a" stroke-width="2.8"/><path d="M92.2 70.2Q94.5 71.4 99.7 69.1" stroke="#c6c6c6" stroke-width="1.7"/>
<path d="M83.7 99.3Q78.8 88.6 84.5 91.2" stroke="#6a6a6a" stroke-width="2.7"/><path d="M83.7 99.3Q78.8 88.6 84.5 91.2" stroke="#a2a2a2" stroke-width="1.6"/>
<path d="M119.9 76.7Q124.8 77.8 131.6 74.4" stroke="#6a6a6a" stroke-width="2.8"/><path d="M119.9 76.7Q124.8 77.8 131.6 74.4" stroke="#adadad" stroke-width="1.7"/>
<path d="M103.0 55.6Q102.4 61.1 99.5 62.3" stroke="#6a6a6a" stroke-width="3.7"/><path d="M103.0 55.6Q102.4 61.1 99.5 62.3" stroke="#c6c6c6" stroke-width="2.6"/>
</g>
<g fill="none" stroke-linecap="round">
<path d="M120.4 100.9Q121.9 92.7 128.7 93.2" stroke="#545454" stroke-width="3.9"/><path d="M120.4 100.9Q121.9 92.7 128.7 93.2" stroke="#9c9c9c" stroke-width="2.8"/>
<path d="M91.1 144.9Q91.8 147.8 102.5 141.5" stroke="#545454" stroke-width="3.6"/><path d="M91.1 144.9Q91.8 147.8 102.5 141.5" stroke="#909090" stroke-width="2.5"/>
<path d="M100.0 118.5Q100.5 112.7 107.9 112.9" stroke="#545454" stroke-width="3.9"/><path d="M100.0 118.5Q100.5 112.7 107.9 112.9" stroke="#868686" stroke-width="2.8"/>
<path d="M90.7 120.4Q88.3 118.9 83.2 116.1" stroke="#545454" stroke-width="3.2"/><path d="M90.7 120.4Q88.3 118.9 83.2 116.1" stroke="#868686" stroke-width="2.1"/>
<path d="M94.3 123.9Q94.8 128.2 82.6 132.1" stroke="#545454" stroke-width="3.1"/><path d="M94.3 123.9Q94.8 128.2 82.6 132.1" stroke="#9c9c9c" stroke-width="2.0"/>
<path d="M102.0 109.6Q102.1 116.2 111.2 111.4" stroke="#545454" stroke-width="3.5"/><path d="M102.0 109.6Q102.1 116.2 111.2 111.4" stroke="#868686" stroke-width="2.4"/>
<path d="M71.9 122.6Q74.7 121.2 78.6 110.0" stroke="#545454" stroke-width="3.3"/><path d="M71.9 122.6Q74.7 121.2 78.6 110.0" stroke="#909090" stroke-width="2.2"/>
<path d="M123.0 126.4Q120.1 124.5 121.4 114.7" stroke="#545454" stroke-width="3.8"/><path d="M123.0 126.4Q120.1 124.5 121.4 114.7" stroke="#a8a8a8" stroke-width="2.7"/>
<path d="M105.0 136.1Q105.7 138.3 100.9 142.4" stroke="#545454" stroke-width="2.9"/><path d="M105.0 136.1Q105.7 138.3 100.9 142.4" stroke="#9c9c9c" stroke-width="1.8"/>
<path d="M107.5 127.2Q113.9 129.6 113.2 129.8" stroke="#545454" stroke-width="3.5"/><path d="M107.5 127.2Q113.9 129.6 113.2 129.8" stroke="#868686" stroke-width="2.4"/>
<path d="M93.5 142.1Q93.0 137.3 105.5 136.0" stroke="#545454" stroke-width="3.9"/><path d="M93.5 142.1Q93.0 137.3 105.5 136.0" stroke="#9c9c9c" stroke-width="2.8"/>
<path d="M83.2 143.2Q83.7 139.7 78.9 138.4" stroke="#545454" stroke-width="2.9"/><path d="M83.2 143.2Q83.7 139.7 78.9 138.4" stroke="#909090" stroke-width="1.8"/>
<path d="M91.6 99.8Q98.8 106.2 96.2 106.9" stroke="#545454" stroke-width="2.9"/><path d="M91.6 99.8Q98.8 106.2 96.2 106.9" stroke="#9c9c9c" stroke-width="1.8"/>
<path d="M101.5 137.7Q94.9 136.0 92.3 141.1" stroke="#545454" stroke-width="4.1"/><path d="M101.5 137.7Q94.9 136.0 92.3 141.1" stroke="#9c9c9c" stroke-width="3.0"/>
<path d="M115.9 114.7Q114.9 111.6 120.6 107.8" stroke="#545454" stroke-width="3.1"/><path d="M115.9 114.7Q114.9 111.6 120.6 107.8" stroke="#868686" stroke-width="2.0"/>
<path d="M98.0 150.5Q100.6 141.5 98.7 141.0" stroke="#545454" stroke-width="2.8"/><path d="M98.0 150.5Q100.6 141.5 98.7 141.0" stroke="#9c9c9c" stroke-width="1.7"/>
<path d="M130.9 109.8Q119.2 112.9 121.5 120.9" stroke="#545454" stroke-width="3.7"/><path d="M130.9 109.8Q119.2 112.9 121.5 120.9" stroke="#9c9c9c" stroke-width="2.6"/>
<path d="M75.3 102.0Q83.7 112.5 79.9 111.5" stroke="#545454" stroke-width="3.2"/><path d="M75.3 102.0Q83.7 112.5 79.9 111.5" stroke="#a8a8a8" stroke-width="2.1"/>
<path d="M91.8 138.6Q89.0 135.6 93.6 132.3" stroke="#545454" stroke-width="4.0"/><path d="M91.8 138.6Q89.0 135.6 93.6 132.3" stroke="#a8a8a8" stroke-width="2.9"/>
<path d="M76.7 116.9Q76.8 117.9 87.8 107.6" stroke="#545454" stroke-width="3.8"/><path d="M76.7 116.9Q76.8 117.9 87.8 107.6" stroke="#909090" stroke-width="2.7"/>
<path d="M79.8 115.1Q75.6 113.6 74.1 119.6" stroke="#545454" stroke-width="2.9"/><path d="M79.8 115.1Q75.6 113.6 74.1 119.6" stroke="#a8a8a8" stroke-width="1.8"/>
<path d="M123.6 131.4Q116.1 127.9 115.8 134.2" stroke="#545454" stroke-width="3.4"/><path d="M123.6 131.4Q116.1 127.9 115.8 134.2" stroke="#a8a8a8" stroke-width="2.3"/>
<path d="M111.1 125.5Q111.5 127.5 106.7 120.8" stroke="#545454" stroke-width="3.6"/><path d="M111.1 125.5Q111.5 127.5 106.7 120.8" stroke="#a8a8a8" stroke-width="2.5"/>
<path d="M83.4 139.3Q91.5 141.4 89.9 136.5" stroke="#545454" stroke-width="2.6"/><path d="M83.4 139.3Q91.5 141.4 89.9 136.5" stroke="#868686" stroke-width="1.5"/>
<path d="M126.6 114.0Q126.4 122.6 135.6 123.1" stroke="#545454" stroke-width="3.4"/><path d="M126.6 114.0Q126.4 122.6 135.6 123.1" stroke="#909090" stroke-width="2.3"/>
<path d="M137.0 118.2Q128.1 120.2 128.2 124.8" stroke="#545454" stroke-width="4.0"/><path d="M137.0 118.2Q128.1 120.2 128.2 124.8" stroke="#868686" stroke-width="2.9"/>
<path d="M125.9 111.5Q121.0 111.8 114.0 109.3" stroke="#545454" stroke-width="2.9"/><path d="M125.9 111.5Q121.0 111.8 114.0 109.3" stroke="#909090" stroke-width="1.8"/>
<path d="M111.0 111.7Q111.2 107.1 104.8 115.3" stroke="#545454" stroke-width="3.5"/><path d="M111.0 111.7Q111.2 107.1 104.8 115.3" stroke="#a8a8a8" stroke-width="2.4"/>
<path d="M116.2 104.5Q123.9 98.1 119.9 94.6" stroke="#545454" stroke-width="2.7"/><path d="M116.2 104.5Q123.9 98.1 119.9 94.6" stroke="#a8a8a8" stroke-width="1.6"/>
<path d="M103.8 107.8Q95.4 98.9 93.7 100.7" stroke="#545454" stroke-width="2.8"/><path d="M103.8 107.8Q95.4 98.9 93.7 100.7" stroke="#9c9c9c" stroke-width="1.7"/>
<path d="M119.4 138.1Q114.9 137.1 115.2 128.1" stroke="#545454" stroke-width="3.0"/><path d="M119.4 138.1Q114.9 137.1 115.2 128.1" stroke="#909090" stroke-width="1.9"/>
<path d="M123.1 136.3Q112.7 133.6 116.1 130.2" stroke="#545454" stroke-width="4.0"/><path d="M123.1 136.3Q112.7 133.6 116.1 130.2" stroke="#868686" stroke-width="2.9"/>
<path d="M114.3 118.1Q104.9 125.0 102.9 123.5" stroke="#545454" stroke-width="3.2"/><path d="M114.3 118.1Q104.9 125.0 102.9 123.5" stroke="#9c9c9c" stroke-width="2.1"/>
<path d="M110.1 134.8Q106.8 139.6 108.3 147.2" stroke="#545454" stroke-width="2.7"/><path d="M110.1 134.8Q106.8 139.6 108.3 147.2" stroke="#9c9c9c" stroke-width="1.6"/>
<path d="M136.1 125.1Q135.2 132.3 131.1 129.5" stroke="#545454" stroke-width="3.1"/><path d="M136.1 125.1Q135.2 132.3 131.1 129.5" stroke="#a8a8a8" stroke-width="2.0"/>
<path d="M76.1 131.7Q89.0 122.2 88.0 123.5" stroke="#545454" stroke-width="3.2"/><path d="M76.1 131.7Q89.0 122.2 88.0 123.5" stroke="#909090" stroke-width="2.1"/>
<path d="M101.7 107.9Q101.8 112.0 108.6 108.8" stroke="#545454" stroke-width="3.8"/><path d="M101.7 107.9Q101.8 112.0 108.6 108.8" stroke="#a8a8a8" stroke-width="2.7"/>
<path d="M90.7 137.8Q84.4 132.8 89.7 128.6" stroke="#545454" stroke-width="2.9"/><path d="M90.7 137.8Q84.4 132.8 89.7 128.6" stroke="#909090" stroke-width="1.8"/>
<path d="M99.2 107.1Q105.2 99.2 104.1 95.1" stroke="#545454" stroke-width="4.0"/><path d="M99.2 107.1Q105.2 99.2 104.1 95.1" stroke="#868686" stroke-width="2.9"/>
<path d="M106.9 151.1Q98.9 148.8 100.7 151.9" stroke="#545454" stroke-width="3.9"/><path d="M106.9 151.1Q98.9 148.8 100.7 151.9" stroke="#868686" stroke-width="2.8"/>
<path d="M76.7 119.0Q77.7 120.4 82.9 124.2" stroke="#545454" stroke-width="2.7"/><path d="M76.7 119.0Q77.7 120.4 82.9 124.2" stroke="#909090" stroke-width="1.6"/>
<path d="M125.8 134.9Q129.6 126.6 123.1 128.5" stroke="#545454" stroke-width="2.7"/><path d="M125.8 134.9Q129.6 126.6 123.1 128.5" stroke="#a8a8a8" stroke-width="1.6"/>
<path d="M118.5 118.9Q126.6 121.1 130.0 118.4" stroke="#545454" stroke-width="3.4"/><path d="M118.5 118.9Q126.6 121.1 130.0 118.4" stroke="#909090" stroke-width="2.3"/>
<path d="M82.7 110.7Q91.5 120.2 87.4 117.6" stroke="#545454" stroke-width="2.9"/><path d="M82.7 110.7Q91.5 120.2 87.4 117.6" stroke="#9c9c9c" stroke-width="1.8"/>
<path d="M122.9 99.3Q122.5 93.7 115.2 90.6" stroke="#545454" stroke-width="3.6"/><path d="M122.9 99.3Q122.5 93.7 115.2 90.6" stroke="#909090" stroke-width="2.5"/>
<path d="M80.9 113.8Q83.1 116.1 78.1 120.0" stroke="#545454" stroke-width="3.8"/><path d="M80.9 113.8Q83.1 116.1 78.1 120.0" stroke="#a8a8a8" stroke-width="2.7"/>
<path d="M119.1 128.5Q113.6 131.2 113.6 125.5" stroke="#545454" stroke-width="3.1"/><path d="M119.1 128.5Q113.6 131.2 113.6 125.5" stroke="#9c9c9c" stroke-width="2.0"/>
<path d="M94.2 128.9Q95.9 130.4 84.9 128.8" stroke="#545454" stroke-width="3.1"/><path d="M94.2 128.9Q95.9 130.4 84.9 128.8" stroke="#909090" stroke-width="2.0"/>
<path d="M86.4 144.1Q91.3 151.4 93.5 148.9" stroke="#545454" stroke-width="3.9"/><path d="M86.4 144.1Q91.3 151.4 93.5 148.9" stroke="#a8a8a8" stroke-width="2.8"/>
<path d="M91.2 115.3Q91.9 108.5 84.0 112.9" stroke="#545454" stroke-width="2.8"/><path d="M91.2 115.3Q91.9 108.5 84.0 112.9" stroke="#909090" stroke-width="1.7"/>
<path d="M125.8 112.1Q120.9 118.0 119.6 115.0" stroke="#545454" stroke-width="3.3"/><path d="M125.8 112.1Q120.9 118.0 119.6 115.0" stroke="#868686" stroke-width="2.2"/>
<path d="M127.3 130.7Q131.9 127.1 122.9 120.8" stroke="#545454" stroke-width="3.5"/><path d="M127.3 130.7Q131.9 127.1 122.9 120.8" stroke="#868686" stroke-width="2.4"/>
<path d="M98.1 112.6Q87.6 113.1 87.7 114.1" stroke="#545454" stroke-width="3.0"/><path d="M98.1 112.6Q87.6 113.1 87.7 114.1" stroke="#9c9c9c" stroke-width="1.9"/>
<path d="M95.1 99.1Q94.9 97.3 88.4 88.2" stroke="#545454" stroke-width="2.6"/><path d="M95.1 99.1Q94.9 97.3 88.4 88.2" stroke="#a8a8a8" stroke-width="1.5"/>
<path d="M125.9 98.6Q122.0 101.5 126.0 107.7" stroke="#545454" stroke-width="4.1"/><path d="M125.9 98.6Q122.0 101.5 126.0 107.7" stroke="#a8a8a8" stroke-width="3.0"/>
<path d="M83.9 129.4Q81.4 133.6 90.4 131.4" stroke="#545454" stroke-width="4.1"/><path d="M83.9 129.4Q81.4 133.6 90.4 131.4" stroke="#909090" stroke-width="3.0"/>
<path d="M110.2 146.3Q99.3 146.5 99.0 145.6" stroke="#545454" stroke-width="2.6"/><path d="M110.2 146.3Q99.3 146.5 99.0 145.6" stroke="#868686" stroke-width="1.5"/>
<path d="M85.0 132.6Q83.5 140.6 83.4 140.1" stroke="#545454" stroke-width="3.4"/><path d="M85.0 132.6Q83.5 140.6 83.4 140.1" stroke="#a8a8a8" stroke-width="2.3"/>
<path d="M96.3 115.7Q88.5 117.4 87.7 107.2" stroke="#545454" stroke-width="2.6"/><path d="M96.3 115.7Q88.5 117.4 87.7 107.2" stroke="#a8a8a8" stroke-width="1.5"/>
<path d="M117.8 135.5Q115.1 125.2 107.8 125.3" stroke="#545454" stroke-width="3.1"/><path d="M117.8 135.5Q115.1 125.2 107.8 125.3" stroke="#a8a8a8" stroke-width="2.0"/>
<path d="M107.2 103.6Q105.4 103.7 95.5 105.4" stroke="#545454" stroke-width="2.8"/><path d="M107.2 103.6Q105.4 103.7 95.5 105.4" stroke="#9c9c9c" stroke-width="1.7"/>
<path d="M111.4 113.3Q117.8 105.4 111.7 103.8" stroke="#545454" stroke-width="2.7"/><path d="M111.4 113.3Q117.8 105.4 111.7 103.8" stroke="#909090" stroke-width="1.6"/>
<path d="M129.0 133.0Q128.6 132.8 118.7 137.1" stroke="#545454" stroke-width="2.7"/><path d="M129.0 133.0Q128.6 132.8 118.7 137.1" stroke="#a8a8a8" stroke-width="1.6"/>
<path d="M114.7 120.7Q112.8 126.7 109.1 124.7" stroke="#545454" stroke-width="3.3"/><path d="M114.7 120.7Q112.8 126.7 109.1 124.7" stroke="#9c9c9c" stroke-width="2.2"/>
<path d="M122.6 117.9Q120.9 107.8 113.1 106.6" stroke="#545454" stroke-width="3.6"/><path d="M122.6 117.9Q120.9 107.8 113.1 106.6" stroke="#909090" stroke-width="2.5"/>
<path d="M83.5 126.8Q85.1 127.8 97.8 131.0" stroke="#545454" stroke-width="3.5"/><path d="M83.5 126.8Q85.1 127.8 97.8 131.0" stroke="#868686" stroke-width="2.4"/>
<path d="M136.9 122.1Q130.1 121.6 128.8 120.2" stroke="#545454" stroke-width="3.7"/><path d="M136.9 122.1Q130.1 121.6 128.8 120.2" stroke="#909090" stroke-width="2.6"/>
<path d="M103.7 105.1Q107.1 100.3 100.7 96.0" stroke="#545454" stroke-width="3.8"/><path d="M103.7 105.1Q107.1 100.3 100.7 96.0" stroke="#9c9c9c" stroke-width="2.7"/>
<path d="M136.9 113.2Q128.8 112.2 127.9 107.2" stroke="#545454" stroke-width="2.9"/><path d="M136.9 113.2Q128.8 112.2 127.9 107.2" stroke="#868686" stroke-width="1.8"/>
<path d="M107.6 110.6Q108.6 116.0 104.1 116.2" stroke="#545454" stroke-width="2.9"/><path d="M107.6 110.6Q108.6 116.0 104.1 116.2" stroke="#868686" stroke-width="1.8"/>
<path d="M92.3 108.0Q87.9 104.4 91.0 100.7" stroke="#545454" stroke-width="3.4"/><path d="M92.3 108.0Q87.9 104.4 91.0 100.7" stroke="#9c9c9c" stroke-width="2.3"/>
<path d="M107.2 103.4Q104.6 110.0 106.2 117.2" stroke="#545454" stroke-width="3.4"/><path d="M107.2 103.4Q104.6 110.0 106.2 117.2" stroke="#a8a8a8" stroke-width="2.3"/>
<path d="M120.7 107.5Q112.6 105.7 111.3 96.5" stroke="#545454" stroke-width="3.3"/><path d="M120.7 107.5Q112.6 105.7 111.3 96.5" stroke="#a8a8a8" stroke-width="2.2"/>
<path d="M114.7 136.7Q118.1 137.5 107.8 124.5" stroke="#545454" stroke-width="2.7"/><path d="M114.7 136.7Q118.1 137.5 107.8 124.5" stroke="#868686" stroke-width="1.6"/>
<path d="M105.7 100.9Q109.8 94.5 112.2 97.7" stroke="#545454" stroke-width="2.5"/><path d="M105.7 100.9Q109.8 94.5 112.2 97.7" stroke="#a8a8a8" stroke-width="1.4"/>
<path d="M127.6 110.3Q117.6 112.1 119.7 104.9" stroke="#545454" stroke-width="2.9"/><path d="M127.6 110.3Q117.6 112.1 119.7 104.9" stroke="#9c9c9c" stroke-width="1.8"/>
<path d="M89.6 98.1Q101.4 95.8 100.1 105.6" stroke="#545454" stroke-width="2.9"/><path d="M89.6 98.1Q101.4 95.8 100.1 105.6" stroke="#868686" stroke-width="1.8"/>
<path d="M109.6 137.8Q112.3 133.6 101.5 126.1" stroke="#545454" stroke-width="4.0"/><path d="M109.6 137.8Q112.3 133.6 101.5 126.1" stroke="#909090" stroke-width="2.9"/>
<path d="M123.2 117.4Q120.3 112.2 116.4 118.5" stroke="#545454" stroke-width="3.4"/><path d="M123.2 117.4Q120.3 112.2 116.4 118.5" stroke="#9c9c9c" stroke-width="2.3"/>
<path d="M118.2 128.0Q125.8 136.5 122.5 133.8" stroke="#545454" stroke-width="2.6"/><path d="M118.2 128.0Q125.8 136.5 122.5 133.8" stroke="#9c9c9c" stroke-width="1.5"/>
<path d="M114.0 113.9Q115.3 116.7 102.9 117.3" stroke="#545454" stroke-width="4.1"/><path d="M114.0 113.9Q115.3 116.7 102.9 117.3" stroke="#9c9c9c" stroke-width="3.0"/>
<path d="M82.8 123.8Q74.7 123.4 73.9 124.6" stroke="#545454" stroke-width="2.6"/><path d="M82.8 123.8Q74.7 123.4 73.9 124.6" stroke="#909090" stroke-width="1.5"/>
<path d="M115.4 129.6Q106.9 124.6 106.4 129.1" stroke="#545454" stroke-width="4.0"/><path d="M115.4 129.6Q106.9 124.6 106.4 129.1" stroke="#9c9c9c" stroke-width="2.9"/>
<path d="M97.3 115.9Q96.3 120.1 103.7 116.1" stroke="#545454" stroke-width="3.7"/><path d="M97.3 115.9Q96.3 120.1 103.7 116.1" stroke="#a8a8a8" stroke-width="2.6"/>
<path d="M95.3 143.1Q89.4 148.9 96.8 149.8" stroke="#545454" stroke-width="2.6"/><path d="M95.3 143.1Q89.4 148.9 96.8 149.8" stroke="#868686" stroke-width="1.5"/>
<path d="M116.0 145.8Q123.1 147.4 123.7 142.8" stroke="#545454" stroke-width="2.8"/><path d="M116.0 145.8Q123.1 147.4 123.7 142.8" stroke="#9c9c9c" stroke-width="1.7"/>
<path d="M133.8 119.2Q128.9 127.9 130.4 130.8" stroke="#545454" stroke-width="3.3"/><path d="M133.8 119.2Q128.9 127.9 130.4 130.8" stroke="#9c9c9c" stroke-width="2.2"/>
<path d="M80.4 140.0Q77.4 145.7 86.2 143.2" stroke="#545454" stroke-width="3.4"/><path d="M80.4 140.0Q77.4 145.7 86.2 143.2" stroke="#909090" stroke-width="2.3"/>
<path d="M124.5 115.9Q116.2 118.3 116.4 117.1" stroke="#545454" stroke-width="2.8"/><path d="M124.5 115.9Q116.2 118.3 116.4 117.1" stroke="#a8a8a8" stroke-width="1.7"/>
<path d="M76.5 115.4Q73.7 121.8 80.5 129.9" stroke="#545454" stroke-width="2.8"/><path d="M76.5 115.4Q73.7 121.8 80.5 129.9" stroke="#868686" stroke-width="1.7"/>
<path d="M73.7 118.5Q76.7 116.0 76.0 113.0" stroke="#545454" stroke-width="3.7"/><path d="M73.7 118.5Q76.7 116.0 76.0 113.0" stroke="#a8a8a8" stroke-width="2.6"/>
<path d="M97.5 106.4Q97.0 98.7 109.0 104.8" stroke="#545454" stroke-width="3.7"/><path d="M97.5 106.4Q97.0 98.7 109.0 104.8" stroke="#868686" stroke-width="2.6"/>
<path d="M125.1 99.0Q126.0 93.5 128.0 85.3" stroke="#545454" stroke-width="3.8"/><path d="M125.1 99.0Q126.0 93.5 128.0 85.3" stroke="#909090" stroke-width="2.7"/>
<path d="M94.7 108.4Q90.8 108.4 88.8 120.6" stroke="#545454" stroke-width="2.6"/><path d="M94.7 108.4Q90.8 108.4 88.8 120.6" stroke="#909090" stroke-width="1.5"/>
<path d="M101.8 99.9Q89.7 90.6 88.3 94.5" stroke="#545454" stroke-width="3.5"/><path d="M101.8 99.9Q89.7 90.6 88.3 94.5" stroke="#868686" stroke-width="2.4"/>
</g>
<path d="M 84 66 C 87 64.5, 91 64.5, 94 66" fill="none" stroke="#5e5e5e" stroke-width="1.4"/>
<path d="M 84 69.2 C 87 67.7, 91 67.7, 94 69.2" fill="none" stroke="#5e5e5e" stroke-width="1.4"/>
<path d="M 84 72.4 C 87 70.9, 91 70.9, 94 72.4" fill="none" stroke="#5e5e5e" stroke-width="1.4"/>
<path d="M 84 75.6 C 87 74.1, 91 74.1, 94 75.6" fill="none" stroke="#5e5e5e" stroke-width="1.4"/>
<path d="M 84 78.8 C 87 77.3, 91 77.3, 94 78.8" fill="none" stroke="#5e5e5e" stroke-width="1.4"/>
<path d="M 96 62 C 104 58, 114 60, 120 66 C 126 72, 128 80, 126 88" fill="none" stroke="#6c6c6c" stroke-width="1.6"/>
<path d="M 104 76 C 108 74, 112 78, 112 84 C 112 90, 108 94, 104 96" fill="none" stroke="#707070" stroke-width="1.5"/>
<g fill="none" stroke="#6a6a6a" stroke-width="1.1" stroke-linejoin="round">
<path d="M 126 70 C 134 74, 140 80, 146 86 C 150 90, 154 96, 152 100 L 146 98"/>
<path d="M 130 88 C 136 90, 142 94, 146 100 C 148 104, 144 108, 140 106"/>
<path d="M 128 98 C 134 100, 140 102, 142 108"/>
<path d="M 126 116 C 134 114, 142 118, 148 124 C 150 128, 146 132, 140 130 L 136 126"/>
<path d="M 128 126 C 134 128, 142 132, 146 130"/>
<path d="M 124 60 C 126 56, 125 52, 122 49"/>
<path d="M 118 56 C 120 52, 119 48, 117 46"/>
<path d="M 140 82 L 143 79 L 146 83 Z"/>
<path d="M 144 124 L 148 121 L 149 126 Z"/>
</g>
<g fill="none" stroke="#169a9a" stroke-width="1.1" stroke-linejoin="round">
<path d="M 86 44 C 88 48, 92 52, 94 55"/>
<path d="M 110 44 C 112 48, 118 50, 122 54 C 126 58, 130 62, 128 68 C 126 74, 132 80, 130 88 C 129 94, 127 100, 126 106 C 125 112, 128 118, 122 124"/>
<path d="M 90 146 C 94 150, 100 152, 104 150 C 106 148, 108 152, 110 156 C 112 158, 116 156, 114 152"/>
<path d="M 116 140 C 120 138, 124 142, 121 145 C 118 148, 114 146, 116 142"/>
</g>
<circle cx="109" cy="155.5" r="2.4" fill="#169a9a" stroke="none" stroke-width="1"/>
<circle cx="120.5" cy="141.5" r="2.2" fill="#169a9a" stroke="none" stroke-width="1"/>
<circle cx="118.5" cy="137.2" r="1.6" fill="#169a9a" stroke="none" stroke-width="1"/>
<circle cx="93.5" cy="37.5" r="1.8" fill="#169a9a" stroke="none" stroke-width="1"/>
<path d="M 93 40 C 94 44, 92 46, 92 50" fill="none" stroke="#169a9a" stroke-width="1.4"/>
<g fill="none" stroke-linecap="round" stroke-linejoin="round">
<path d="M 30 89 L 33 96" stroke="#25609f" stroke-width="2.7"/><path d="M 30 89 L 33 96" stroke="#3a85d2" stroke-width="1.8"/>
<path d="M 35 88 L 38 95.5" stroke="#25609f" stroke-width="2.7"/><path d="M 35 88 L 38 95.5" stroke="#3a85d2" stroke-width="1.8"/>
<path d="M 40 87 L 43 94.5" stroke="#25609f" stroke-width="2.7"/><path d="M 40 87 L 43 94.5" stroke="#3a85d2" stroke-width="1.8"/>
<path d="M 45 85.5 L 48 92.5" stroke="#25609f" stroke-width="2.7"/><path d="M 45 85.5 L 48 92.5" stroke="#3a85d2" stroke-width="1.8"/>
<path d="M 50 83 L 52 90" stroke="#25609f" stroke-width="2.7"/><path d="M 50 83 L 52 90" stroke="#3a85d2" stroke-width="1.8"/>
<path d="M 58 78 L 61 88" stroke="#25609f" stroke-width="2.7"/><path d="M 58 78 L 61 88" stroke="#3a85d2" stroke-width="1.8"/>
<path d="M 62 76 L 66 86" stroke="#25609f" stroke-width="2.7"/><path d="M 62 76 L 66 86" stroke="#3a85d2" stroke-width="1.8"/>
<path d="M 66 78 L 70 90" stroke="#25609f" stroke-width="2.7"/><path d="M 66 78 L 70 90" stroke="#3a85d2" stroke-width="1.8"/>
<path d="M 69 82 L 72 96" stroke="#25609f" stroke-width="2.7"/><path d="M 69 82 L 72 96" stroke="#3a85d2" stroke-width="1.8"/>
<path d="M 60 88 L 64 98" stroke="#25609f" stroke-width="2.7"/><path d="M 60 88 L 64 98" stroke="#3a85d2" stroke-width="1.8"/>
<path d="M 64 92 L 70 102" stroke="#25609f" stroke-width="2.7"/><path d="M 64 92 L 70 102" stroke="#3a85d2" stroke-width="1.8"/>
<path d="M 57 84 L 60 92" stroke="#25609f" stroke-width="2.7"/><path d="M 57 84 L 60 92" stroke="#3a85d2" stroke-width="1.8"/>
<path d="M 26 89.4 C 34 88.6, 42 86.5, 48 84 C 53 81.5, 57 78.5, 60 76.5 C 61.5 75.5, 62.8 74.8, 64 74" stroke="#25609f" stroke-width="3.3"/><path d="M 26 89.4 C 34 88.6, 42 86.5, 48 84 C 53 81.5, 57 78.5, 60 76.5 C 61.5 75.5, 62.8 74.8, 64 74" stroke="#3a85d2" stroke-width="2.4"/>
<path d="M 33 97.6 C 40 96.5, 46 94, 50 91.5 C 52 90, 53 89, 53.7 88.4 C 55 91, 56 96, 56.8 103.7" stroke="#25609f" stroke-width="3.4"/><path d="M 33 97.6 C 40 96.5, 46 94, 50 91.5 C 52 90, 53 89, 53.7 88.4 C 55 91, 56 96, 56.8 103.7" stroke="#3a85d2" stroke-width="2.5"/>
<path d="M 64 74 C 70 77, 74 84, 76 92 C 77.5 98, 77.2 104, 77.5 111" stroke="#25609f" stroke-width="3.1"/><path d="M 64 74 C 70 77, 74 84, 76 92 C 77.5 98, 77.2 104, 77.5 111" stroke="#3a85d2" stroke-width="2.2"/>
<path d="M 24.5 86.5 L 27 93 M 27 91 C 29 95, 31 98.5, 35 99.5 C 38 100, 40 98, 39 96" stroke="#25609f" stroke-width="2.9"/><path d="M 24.5 86.5 L 27 93 M 27 91 C 29 95, 31 98.5, 35 99.5 C 38 100, 40 98, 39 96" stroke="#3a85d2" stroke-width="2.0"/>
<path d="M 72 100 C 78 96, 84 96, 88 100 C 92 104, 96 110, 100 112 C 104 114, 110 110, 114 108 C 120 106, 126 110, 132 109 L 140 107.6" stroke="#25609f" stroke-width="3.3"/><path d="M 72 100 C 78 96, 84 96, 88 100 C 92 104, 96 110, 100 112 C 104 114, 110 110, 114 108 C 120 106, 126 110, 132 109 L 140 107.6" stroke="#3a85d2" stroke-width="2.4"/>
<path d="M 84 93 C 88 90, 92 92, 94 96 C 96 100, 100 102, 104 100" stroke="#25609f" stroke-width="3.3"/><path d="M 84 93 C 88 90, 92 92, 94 96 C 96 100, 100 102, 104 100" stroke="#3a85d2" stroke-width="2.4"/>
<path d="M 78 98 L 81 109" stroke="#25609f" stroke-width="2.6"/><path d="M 78 98 L 81 109" stroke="#3a85d2" stroke-width="1.7"/>
<path d="M 83 97 L 86 111" stroke="#25609f" stroke-width="2.6"/><path d="M 83 97 L 86 111" stroke="#3a85d2" stroke-width="1.7"/>
<path d="M 89 100 L 92 113" stroke="#25609f" stroke-width="2.6"/><path d="M 89 100 L 92 113" stroke="#3a85d2" stroke-width="1.7"/>
<path d="M 95 104 L 98 115" stroke="#25609f" stroke-width="2.6"/><path d="M 95 104 L 98 115" stroke="#3a85d2" stroke-width="1.7"/>
<path d="M 101 104 L 104 110" stroke="#25609f" stroke-width="2.6"/><path d="M 101 104 L 104 110" stroke="#3a85d2" stroke-width="1.7"/>
<path d="M 108 104 L 110 112" stroke="#25609f" stroke-width="2.6"/><path d="M 108 104 L 110 112" stroke="#3a85d2" stroke-width="1.7"/>
<path d="M 118 104 L 120 112" stroke="#25609f" stroke-width="2.6"/><path d="M 118 104 L 120 112" stroke="#3a85d2" stroke-width="1.7"/>
<path d="M 124 104 L 128 112" stroke="#25609f" stroke-width="2.6"/><path d="M 124 104 L 128 112" stroke="#3a85d2" stroke-width="1.7"/>
<path d="M 96 92 L 100 98" stroke="#25609f" stroke-width="2.6"/><path d="M 96 92 L 100 98" stroke="#3a85d2" stroke-width="1.7"/>
<path d="M 90 90 L 94 98" stroke="#25609f" stroke-width="2.6"/><path d="M 90 90 L 94 98" stroke="#3a85d2" stroke-width="1.7"/>
<path d="M 80 102 C 84 105, 88 107, 94 107 M 86 110 C 92 112, 96 114, 100 112" stroke="#25609f" stroke-width="3.1"/><path d="M 80 102 C 84 105, 88 107, 94 107 M 86 110 C 92 112, 96 114, 100 112" stroke="#3a85d2" stroke-width="2.2"/>
</g>
<path d="M 138.5 105 L 143 107.5 L 138.5 110 Z" fill="#3a85d2" stroke="#25609f" stroke-width="0.5"/>
<path d="M 40 33 C 44 36, 50 38, 52 39 M 42 36 L 50 41" stroke="#c98412" stroke-width="2.2" fill="none" stroke-linecap="round"/>
<line x1="44" y1="42" x2="54" y2="42" stroke="#c98412" stroke-width="1.7" stroke-linecap="round"/>
<line x1="43" y1="45.5" x2="55" y2="46.5" stroke="#c98412" stroke-width="1.7" stroke-linecap="round"/>
<line x1="46" y1="50" x2="58" y2="50" stroke="#c98412" stroke-width="1.7" stroke-linecap="round"/>
<line x1="45" y1="54" x2="57" y2="55" stroke="#2c6fbd" stroke-width="1.7" stroke-linecap="round"/>
<line x1="47" y1="57.5" x2="60" y2="58" stroke="#c98412" stroke-width="1.7" stroke-linecap="round"/>
<line x1="48" y1="61" x2="61" y2="61.5" stroke="#c98412" stroke-width="1.7" stroke-linecap="round"/>
<line x1="50" y1="64.5" x2="60" y2="64.5" stroke="#2c6fbd" stroke-width="1.7" stroke-linecap="round"/>
<line x1="45" y1="40" x2="52" y2="41" stroke="#2c6fbd" stroke-width="1.7" stroke-linecap="round"/>
<path d="M 71.4 35.6 C 66 39, 58 44, 52.4 47.4 C 46 50, 40 52, 37.3 55.2 C 36.5 58, 39 60, 44.6 63.6 C 50 66.5, 56 69, 59.1 70.9 C 61 72, 62.5 72.6, 63.6 73.2" fill="none" stroke="#3a85d2" stroke-width="2.6" stroke-linecap="round"/>
<path d="M 39.5 32.5 C 42 37, 45 41, 46.8 42.9 C 50 46, 53 47.5, 55.8 48.5 C 59 50, 62 52, 63.6 54.1 C 66 56.5, 67.5 58, 67 59.5 C 66.5 61.5, 63 63.5, 59.1 66.4 C 56 68.5, 52 70.5, 47.9 73.2" fill="none" stroke="#f0a41c" stroke-width="3.0" stroke-linecap="round"/>
<path d="M 38 32 L 41.5 31.5" fill="none" stroke="#f0a41c" stroke-width="2.2"/>
<path d="M 67.5 54 C 70 50, 75 50, 77.5 54 C 80 58, 80 64, 78.5 69 C 77 74, 73.5 77, 70.5 75.5 C 68 74, 67 70, 68 66 C 66.5 62, 66 57, 67.5 54 Z" fill="#8e1a8f" stroke="none" stroke-width="1"/>
<path d="M 70 55 C 74 53, 78 55, 82 58 C 84 60, 83 63, 80 62" fill="none" stroke="#b24ab4" stroke-width="1.2"/>
<path d="M 66 72 L 64 76 M 76 74 L 74 80" fill="none" stroke="#8e1a8f" stroke-width="1.4"/>
<path d="M 68.5 51.5 L 118.5 25.0" fill="none" stroke="#7a1479" stroke-width="1.3"/>
<path d="M 68.5 51.5 L 67.7 46.3 Q 68.3 44.6 69.9 45.1 L 74.4 48.4 M 74.8 48.2 L 74.0 42.9 Q 74.5 41.3 76.2 41.8 L 80.7 45.0 M 81.0 44.9 L 80.2 39.6 Q 80.8 38.0 82.4 38.5 L 86.9 41.7 M 87.2 41.6 L 86.5 36.3 Q 87.0 34.7 88.7 35.2 L 93.2 38.4 M 93.5 38.2 L 92.7 33.0 Q 93.3 31.4 94.9 31.8 L 99.4 35.1 M 99.8 34.9 L 99.0 29.7 Q 99.5 28.1 101.2 28.5 L 105.7 31.8 M 106.0 31.6 L 105.2 26.4 Q 105.8 24.7 107.4 25.2 L 111.9 28.5 M 112.2 28.3 L 111.5 23.1 Q 112.0 21.4 113.7 21.9 L 118.2 25.2 " fill="none" stroke="#8e1a8f" stroke-width="2.5" stroke-linejoin="round" stroke-linecap="round"/>
<path d="M 116.5 21 C 119 20, 121 21.5, 122 24 L 118.5 25.5 Z" fill="#8e1a8f" stroke="none" stroke-width="1"/>
<rect x="44" y="16.3" width="22.8" height="14.6" fill="#fde28c" stroke="none" stroke-width="1" rx="7.3"/>
<text x="55.4" y="26.66" font-size="8.5" text-anchor="middle" fill="#1a1a1a">5'SS</text>
<rect x="72.2" y="15.7" width="29.3" height="15.1" fill="#d48dd6" stroke="none" stroke-width="1" rx="7.55"/>
<text x="86.85" y="26.31" font-size="8.5" text-anchor="middle" fill="#1a1a1a">U1-C</text>
<rect x="106.1" y="35.3" width="29.9" height="15" fill="#8fdcd8" stroke="none" stroke-width="1" rx="7.5"/>
<text x="121.05" y="45.68" font-size="8.0" text-anchor="middle" fill="#1a1a1a">U1-70K</text>
<rect x="129.9" y="58.5" width="37.3" height="15.2" fill="#c6c6c6" stroke="none" stroke-width="1" rx="7.6"/>
<text x="148.55" y="69.09" font-size="8.3" text-anchor="middle" fill="#1a1a1a">Sm ring</text>
<rect x="11.1" y="104.1" width="45" height="14.9" fill="#b9d2f7" stroke="none" stroke-width="1" rx="7.45"/>
<text x="33.6" y="114.47" font-size="8.1" text-anchor="middle" fill="#1a1a1a">U1 snRNA</text>
<text x="23.8" y="47.3" font-size="8.0" text-anchor="middle">Cy3</text>
<path d="M 24.4 40 C 26 35, 31 33, 36 33.4" fill="none" stroke="#222" stroke-width="0.8"/>
<path d="M 37.8 33.4 L 34.2 31.4 L 34.6 35.4 Z" fill="#222" stroke="none" stroke-width="1"/>
<text x="156.8" y="122.4" font-size="8.0" text-anchor="middle">Cy5</text>
<path d="M 155.6 111 C 152 107.5, 148 106.5, 145.5 106.6" fill="none" stroke="#222" stroke-width="0.8"/>
<path d="M 143.8 106.6 L 147.2 104.8 L 147.4 108.6 Z" fill="#222" stroke="none" stroke-width="1"/>
<text x="49.1" y="133.6" font-size="7.9" text-anchor="middle">biotin</text>
<text x="49.4" y="143.5" font-size="8.2" text-anchor="middle">(SmF)</text>
<path d="M 50.8 126.5 C 53 122, 57 120, 61.5 119.6" fill="none" stroke="#222" stroke-width="0.8"/>
<path d="M 63.6 119.4 L 60.2 117.6 L 60.4 121.4 Z" fill="#222" stroke="none" stroke-width="1"/>
<path d="M 60.5 111 L 63 109.6 L 64 113 L 68.5 106.7 M 64 113 L 66 117.5 L 70 118" fill="none" stroke="#222" stroke-width="0.9"/>
</svg></body></html>
